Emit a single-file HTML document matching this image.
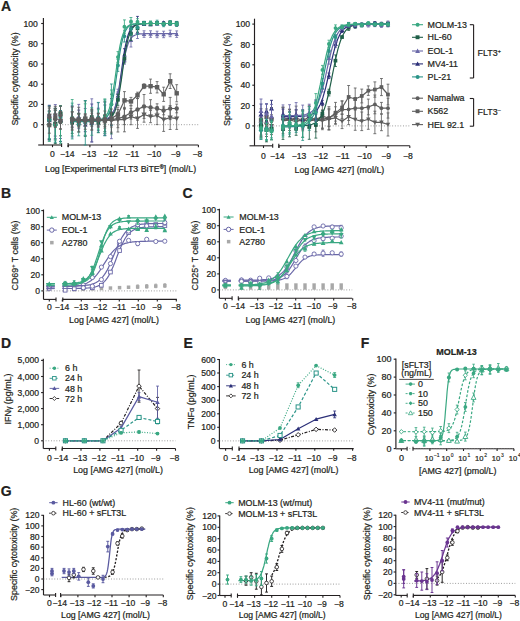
<!DOCTYPE html>
<html><head><meta charset="utf-8"><style>
html,body{margin:0;padding:0;background:#fff;width:520px;height:621px;overflow:hidden}
svg{display:block}
text{font-family:"Liberation Sans", sans-serif;stroke:#231f20;stroke-width:0.22px}
</style></head><body>
<svg width="520" height="621" viewBox="0 0 520 621">
<text x="1" y="10.7" font-size="14" text-anchor="start" font-weight="bold" fill="#231f20">A</text>
<text x="0.9" y="198.3" font-size="14" text-anchor="start" font-weight="bold" fill="#231f20">B</text>
<text x="182.5" y="197.5" font-size="14" text-anchor="start" font-weight="bold" fill="#231f20">C</text>
<text x="1" y="347.6" font-size="14" text-anchor="start" font-weight="bold" fill="#231f20">D</text>
<text x="183.5" y="347.7" font-size="14" text-anchor="start" font-weight="bold" fill="#231f20">E</text>
<text x="360.8" y="347.6" font-size="14" text-anchor="start" font-weight="bold" fill="#231f20">F</text>
<text x="0.8" y="495.5" font-size="14" text-anchor="start" font-weight="bold" fill="#231f20">G</text>
<line x1="43.4" y1="18" x2="43.4" y2="145" stroke="#231f20" stroke-width="1.15" stroke-linecap="butt"/>
<line x1="41.2" y1="124.7" x2="43.4" y2="124.7" stroke="#231f20" stroke-width="1.1" stroke-linecap="butt"/>
<text x="37.8" y="127.7" font-size="8.6" text-anchor="end" font-weight="normal" fill="#231f20">0</text>
<line x1="41.2" y1="104.4" x2="43.4" y2="104.4" stroke="#231f20" stroke-width="1.1" stroke-linecap="butt"/>
<text x="37.8" y="107.4" font-size="8.6" text-anchor="end" font-weight="normal" fill="#231f20">20</text>
<line x1="41.2" y1="84.2" x2="43.4" y2="84.2" stroke="#231f20" stroke-width="1.1" stroke-linecap="butt"/>
<text x="37.8" y="87.2" font-size="8.6" text-anchor="end" font-weight="normal" fill="#231f20">40</text>
<line x1="41.2" y1="64" x2="43.4" y2="64" stroke="#231f20" stroke-width="1.1" stroke-linecap="butt"/>
<text x="37.8" y="67" font-size="8.6" text-anchor="end" font-weight="normal" fill="#231f20">60</text>
<line x1="41.2" y1="43.7" x2="43.4" y2="43.7" stroke="#231f20" stroke-width="1.1" stroke-linecap="butt"/>
<text x="37.8" y="46.7" font-size="8.6" text-anchor="end" font-weight="normal" fill="#231f20">80</text>
<line x1="41.2" y1="23.5" x2="43.4" y2="23.5" stroke="#231f20" stroke-width="1.1" stroke-linecap="butt"/>
<text x="37.8" y="26.5" font-size="8.6" text-anchor="end" font-weight="normal" fill="#231f20">100</text>
<line x1="38.2" y1="145" x2="61.6" y2="145" stroke="#231f20" stroke-width="1.1" stroke-linecap="butt"/>
<line x1="61.6" y1="143" x2="61.6" y2="147" stroke="#231f20" stroke-width="1.1" stroke-linecap="butt"/>
<line x1="68.1" y1="145" x2="198.4" y2="145" stroke="#231f20" stroke-width="1.1" stroke-linecap="butt"/>
<line x1="68.1" y1="143" x2="68.1" y2="147" stroke="#231f20" stroke-width="1.1" stroke-linecap="butt"/>
<line x1="52.5" y1="145" x2="52.5" y2="147.2" stroke="#231f20" stroke-width="1.1" stroke-linecap="butt"/>
<text x="52.5" y="157.2" font-size="8.6" text-anchor="middle" font-weight="normal" fill="#231f20">0</text>
<line x1="68.2" y1="145" x2="68.2" y2="147.2" stroke="#231f20" stroke-width="1.1" stroke-linecap="butt"/>
<text x="67.2" y="157.2" font-size="8.6" text-anchor="middle" font-weight="normal" fill="#231f20">&#8722;14</text>
<line x1="89.9" y1="145" x2="89.9" y2="147.2" stroke="#231f20" stroke-width="1.1" stroke-linecap="butt"/>
<text x="88.9" y="157.2" font-size="8.6" text-anchor="middle" font-weight="normal" fill="#231f20">&#8722;13</text>
<line x1="111.6" y1="145" x2="111.6" y2="147.2" stroke="#231f20" stroke-width="1.1" stroke-linecap="butt"/>
<text x="110.6" y="157.2" font-size="8.6" text-anchor="middle" font-weight="normal" fill="#231f20">&#8722;12</text>
<line x1="133.3" y1="145" x2="133.3" y2="147.2" stroke="#231f20" stroke-width="1.1" stroke-linecap="butt"/>
<text x="132.3" y="157.2" font-size="8.6" text-anchor="middle" font-weight="normal" fill="#231f20">&#8722;11</text>
<line x1="155" y1="145" x2="155" y2="147.2" stroke="#231f20" stroke-width="1.1" stroke-linecap="butt"/>
<text x="154" y="157.2" font-size="8.6" text-anchor="middle" font-weight="normal" fill="#231f20">&#8722;10</text>
<line x1="176.7" y1="145" x2="176.7" y2="147.2" stroke="#231f20" stroke-width="1.1" stroke-linecap="butt"/>
<text x="175.7" y="157.2" font-size="8.6" text-anchor="middle" font-weight="normal" fill="#231f20">&#8722;9</text>
<line x1="198.4" y1="145" x2="198.4" y2="147.2" stroke="#231f20" stroke-width="1.1" stroke-linecap="butt"/>
<text x="197.4" y="157.2" font-size="8.6" text-anchor="middle" font-weight="normal" fill="#231f20">&#8722;8</text>
<text x="18.3" y="79" font-size="8.9" text-anchor="middle" font-weight="normal" fill="#231f20" transform="rotate(-90 18.3 79)">Specific cytotoxicity (%)</text>
<text x="45" y="172.3" font-size="8.8" text-anchor="start" font-weight="normal" fill="#231f20">Log [Experimental FLT3 BiTE<tspan font-size="5.5" dy="-3">®</tspan><tspan dy="3">] (mol/L)</tspan></text>
<line x1="254.5" y1="18.7" x2="254.5" y2="145.8" stroke="#231f20" stroke-width="1.15" stroke-linecap="butt"/>
<line x1="252.3" y1="125.9" x2="254.5" y2="125.9" stroke="#231f20" stroke-width="1.1" stroke-linecap="butt"/>
<text x="250.1" y="128.9" font-size="8.6" text-anchor="end" font-weight="normal" fill="#231f20">0</text>
<line x1="252.3" y1="105.5" x2="254.5" y2="105.5" stroke="#231f20" stroke-width="1.1" stroke-linecap="butt"/>
<text x="250.1" y="108.5" font-size="8.6" text-anchor="end" font-weight="normal" fill="#231f20">20</text>
<line x1="252.3" y1="85.2" x2="254.5" y2="85.2" stroke="#231f20" stroke-width="1.1" stroke-linecap="butt"/>
<text x="250.1" y="88.2" font-size="8.6" text-anchor="end" font-weight="normal" fill="#231f20">40</text>
<line x1="252.3" y1="64.8" x2="254.5" y2="64.8" stroke="#231f20" stroke-width="1.1" stroke-linecap="butt"/>
<text x="250.1" y="67.8" font-size="8.6" text-anchor="end" font-weight="normal" fill="#231f20">60</text>
<line x1="252.3" y1="44.5" x2="254.5" y2="44.5" stroke="#231f20" stroke-width="1.1" stroke-linecap="butt"/>
<text x="250.1" y="47.5" font-size="8.6" text-anchor="end" font-weight="normal" fill="#231f20">80</text>
<line x1="252.3" y1="24.1" x2="254.5" y2="24.1" stroke="#231f20" stroke-width="1.1" stroke-linecap="butt"/>
<text x="250.1" y="27.1" font-size="8.6" text-anchor="end" font-weight="normal" fill="#231f20">100</text>
<line x1="249.5" y1="145.8" x2="272.7" y2="145.8" stroke="#231f20" stroke-width="1.1" stroke-linecap="butt"/>
<line x1="272.7" y1="143.8" x2="272.7" y2="147.8" stroke="#231f20" stroke-width="1.1" stroke-linecap="butt"/>
<line x1="278.8" y1="145.8" x2="409.8" y2="145.8" stroke="#231f20" stroke-width="1.1" stroke-linecap="butt"/>
<line x1="278.8" y1="143.8" x2="278.8" y2="147.8" stroke="#231f20" stroke-width="1.1" stroke-linecap="butt"/>
<line x1="263.5" y1="145.8" x2="263.5" y2="148" stroke="#231f20" stroke-width="1.1" stroke-linecap="butt"/>
<text x="263.5" y="158.8" font-size="8.6" text-anchor="middle" font-weight="normal" fill="#231f20">0</text>
<line x1="279" y1="145.8" x2="279" y2="148" stroke="#231f20" stroke-width="1.1" stroke-linecap="butt"/>
<text x="277.2" y="158.8" font-size="8.6" text-anchor="middle" font-weight="normal" fill="#231f20">&#8722;14</text>
<line x1="300.8" y1="145.8" x2="300.8" y2="148" stroke="#231f20" stroke-width="1.1" stroke-linecap="butt"/>
<text x="299" y="158.8" font-size="8.6" text-anchor="middle" font-weight="normal" fill="#231f20">&#8722;13</text>
<line x1="322.6" y1="145.8" x2="322.6" y2="148" stroke="#231f20" stroke-width="1.1" stroke-linecap="butt"/>
<text x="320.8" y="158.8" font-size="8.6" text-anchor="middle" font-weight="normal" fill="#231f20">&#8722;12</text>
<line x1="344.4" y1="145.8" x2="344.4" y2="148" stroke="#231f20" stroke-width="1.1" stroke-linecap="butt"/>
<text x="342.6" y="158.8" font-size="8.6" text-anchor="middle" font-weight="normal" fill="#231f20">&#8722;11</text>
<line x1="366.2" y1="145.8" x2="366.2" y2="148" stroke="#231f20" stroke-width="1.1" stroke-linecap="butt"/>
<text x="364.4" y="158.8" font-size="8.6" text-anchor="middle" font-weight="normal" fill="#231f20">&#8722;10</text>
<line x1="388" y1="145.8" x2="388" y2="148" stroke="#231f20" stroke-width="1.1" stroke-linecap="butt"/>
<text x="386.2" y="158.8" font-size="8.6" text-anchor="middle" font-weight="normal" fill="#231f20">&#8722;9</text>
<line x1="409.8" y1="145.8" x2="409.8" y2="148" stroke="#231f20" stroke-width="1.1" stroke-linecap="butt"/>
<text x="408" y="158.8" font-size="8.6" text-anchor="middle" font-weight="normal" fill="#231f20">&#8722;8</text>
<text x="230.3" y="79.3" font-size="8.9" text-anchor="middle" font-weight="normal" fill="#231f20" transform="rotate(-90 230.3 79.3)">Specific cytotoxicity (%)</text>
<text x="294.5" y="173" font-size="8.9" text-anchor="start" font-weight="normal" fill="#231f20">Log [AMG 427] (mol/L)</text>
<line x1="412" y1="24.7" x2="423" y2="24.7" stroke="#3aa882" stroke-width="1.1" stroke-linecap="butt"/>
<circle cx="417.6" cy="24.7" r="2" fill="#3aa882"/>
<text x="427.5" y="27.7" font-size="8.9" text-anchor="start" font-weight="normal" fill="#231f20">MOLM-13</text>
<line x1="412" y1="37.3" x2="423" y2="37.3" stroke="#1f5f48" stroke-width="1.1" stroke-linecap="butt"/>
<rect x="415.6" y="35.3" width="3.9" height="3.9" fill="#1f5f48"/>
<text x="427.5" y="40.3" font-size="8.9" text-anchor="start" font-weight="normal" fill="#231f20">HL-60</text>
<line x1="412" y1="51" x2="423" y2="51" stroke="#6a68a8" stroke-width="1.1" stroke-linecap="butt"/>
<path d="M417.6 48.6L420 52.9L415.2 52.9Z" fill="#6a68a8"/>
<text x="427.5" y="54" font-size="8.9" text-anchor="start" font-weight="normal" fill="#231f20">EOL-1</text>
<line x1="412" y1="63.9" x2="423" y2="63.9" stroke="#2b2f78" stroke-width="1.1" stroke-linecap="butt"/>
<path d="M417.6 61.5L420 65.8L415.2 65.8Z" fill="#2b2f78"/>
<text x="427.5" y="66.9" font-size="8.9" text-anchor="start" font-weight="normal" fill="#231f20">MV4-11</text>
<line x1="412" y1="76.9" x2="423" y2="76.9" stroke="#2a9488" stroke-width="1.1" stroke-linecap="butt"/>
<circle cx="417.6" cy="76.9" r="2" fill="#2a9488"/>
<text x="427.5" y="79.9" font-size="8.9" text-anchor="start" font-weight="normal" fill="#231f20">PL-21</text>
<line x1="412" y1="98.2" x2="423" y2="98.2" stroke="#5e5e5e" stroke-width="1.1" stroke-linecap="butt"/>
<circle cx="417.6" cy="98.2" r="2" fill="#5e5e5e"/>
<text x="427.5" y="101.2" font-size="8.9" text-anchor="start" font-weight="normal" fill="#231f20">Namalwa</text>
<line x1="412" y1="111.3" x2="423" y2="111.3" stroke="#5e5e5e" stroke-width="1.1" stroke-linecap="butt"/>
<rect x="415.6" y="109.3" width="3.9" height="3.9" fill="#5e5e5e"/>
<text x="427.5" y="114.3" font-size="8.9" text-anchor="start" font-weight="normal" fill="#231f20">K562</text>
<line x1="412" y1="124.6" x2="423" y2="124.6" stroke="#5e5e5e" stroke-width="1.1" stroke-linecap="butt"/>
<path d="M417.6 127L420 122.7L415.2 122.7Z" fill="#5e5e5e"/>
<text x="427.5" y="127.6" font-size="8.9" text-anchor="start" font-weight="normal" fill="#231f20">HEL 92.1</text>
<line x1="469.8" y1="24.7" x2="473.6" y2="24.7" stroke="#231f20" stroke-width="1.1" stroke-linecap="butt"/>
<line x1="473.6" y1="24.7" x2="473.6" y2="78" stroke="#231f20" stroke-width="1.1" stroke-linecap="butt"/>
<line x1="469.8" y1="78" x2="473.6" y2="78" stroke="#231f20" stroke-width="1.1" stroke-linecap="butt"/>
<text x="477.6" y="55.5" font-size="8.9" text-anchor="start" font-weight="normal" fill="#231f20">FLT3<tspan font-size="5.5" dy="-3">+</tspan></text>
<line x1="469.8" y1="98.5" x2="473.6" y2="98.5" stroke="#231f20" stroke-width="1.1" stroke-linecap="butt"/>
<line x1="473.6" y1="98.5" x2="473.6" y2="126.2" stroke="#231f20" stroke-width="1.1" stroke-linecap="butt"/>
<line x1="469.8" y1="126.2" x2="473.6" y2="126.2" stroke="#231f20" stroke-width="1.1" stroke-linecap="butt"/>
<text x="477.6" y="114.5" font-size="8.9" text-anchor="start" font-weight="normal" fill="#231f20">FLT3<tspan font-size="5.5" dy="-3">&#8722;</tspan></text>
<line x1="43.5" y1="209.5" x2="43.5" y2="299.4" stroke="#231f20" stroke-width="1.15" stroke-linecap="butt"/>
<line x1="41.3" y1="290.9" x2="43.5" y2="290.9" stroke="#231f20" stroke-width="1.1" stroke-linecap="butt"/>
<text x="40.1" y="293.9" font-size="8.6" text-anchor="end" font-weight="normal" fill="#231f20">0</text>
<line x1="41.3" y1="274.8" x2="43.5" y2="274.8" stroke="#231f20" stroke-width="1.1" stroke-linecap="butt"/>
<text x="40.1" y="277.8" font-size="8.6" text-anchor="end" font-weight="normal" fill="#231f20">20</text>
<line x1="41.3" y1="258.8" x2="43.5" y2="258.8" stroke="#231f20" stroke-width="1.1" stroke-linecap="butt"/>
<text x="40.1" y="261.8" font-size="8.6" text-anchor="end" font-weight="normal" fill="#231f20">40</text>
<line x1="41.3" y1="242.7" x2="43.5" y2="242.7" stroke="#231f20" stroke-width="1.1" stroke-linecap="butt"/>
<text x="40.1" y="245.7" font-size="8.6" text-anchor="end" font-weight="normal" fill="#231f20">60</text>
<line x1="41.3" y1="226.7" x2="43.5" y2="226.7" stroke="#231f20" stroke-width="1.1" stroke-linecap="butt"/>
<text x="40.1" y="229.7" font-size="8.6" text-anchor="end" font-weight="normal" fill="#231f20">80</text>
<line x1="41.3" y1="210.6" x2="43.5" y2="210.6" stroke="#231f20" stroke-width="1.1" stroke-linecap="butt"/>
<text x="40.1" y="213.6" font-size="8.6" text-anchor="end" font-weight="normal" fill="#231f20">100</text>
<line x1="43.5" y1="299.4" x2="56" y2="299.4" stroke="#231f20" stroke-width="1.1" stroke-linecap="butt"/>
<line x1="56" y1="297.4" x2="56" y2="301.4" stroke="#231f20" stroke-width="1.1" stroke-linecap="butt"/>
<line x1="62.8" y1="299.4" x2="176.9" y2="299.4" stroke="#231f20" stroke-width="1.1" stroke-linecap="butt"/>
<line x1="62.8" y1="297.4" x2="62.8" y2="301.4" stroke="#231f20" stroke-width="1.1" stroke-linecap="butt"/>
<line x1="49.3" y1="299.4" x2="49.3" y2="301.6" stroke="#231f20" stroke-width="1.1" stroke-linecap="butt"/>
<text x="49.3" y="310.3" font-size="8.6" text-anchor="middle" font-weight="normal" fill="#231f20">0</text>
<line x1="62.3" y1="299.4" x2="62.3" y2="301.6" stroke="#231f20" stroke-width="1.1" stroke-linecap="butt"/>
<text x="62" y="310.3" font-size="8.6" text-anchor="middle" font-weight="normal" fill="#231f20">&#8722;14</text>
<line x1="81.3" y1="299.4" x2="81.3" y2="301.6" stroke="#231f20" stroke-width="1.1" stroke-linecap="butt"/>
<text x="81" y="310.3" font-size="8.6" text-anchor="middle" font-weight="normal" fill="#231f20">&#8722;13</text>
<line x1="100.3" y1="299.4" x2="100.3" y2="301.6" stroke="#231f20" stroke-width="1.1" stroke-linecap="butt"/>
<text x="100" y="310.3" font-size="8.6" text-anchor="middle" font-weight="normal" fill="#231f20">&#8722;12</text>
<line x1="119.3" y1="299.4" x2="119.3" y2="301.6" stroke="#231f20" stroke-width="1.1" stroke-linecap="butt"/>
<text x="119" y="310.3" font-size="8.6" text-anchor="middle" font-weight="normal" fill="#231f20">&#8722;11</text>
<line x1="138.3" y1="299.4" x2="138.3" y2="301.6" stroke="#231f20" stroke-width="1.1" stroke-linecap="butt"/>
<text x="138" y="310.3" font-size="8.6" text-anchor="middle" font-weight="normal" fill="#231f20">&#8722;10</text>
<line x1="157.3" y1="299.4" x2="157.3" y2="301.6" stroke="#231f20" stroke-width="1.1" stroke-linecap="butt"/>
<text x="157" y="310.3" font-size="8.6" text-anchor="middle" font-weight="normal" fill="#231f20">&#8722;9</text>
<line x1="176.3" y1="299.4" x2="176.3" y2="301.6" stroke="#231f20" stroke-width="1.1" stroke-linecap="butt"/>
<text x="176" y="310.3" font-size="8.6" text-anchor="middle" font-weight="normal" fill="#231f20">&#8722;8</text>
<text x="18" y="255.5" font-size="8.9" text-anchor="middle" font-weight="normal" fill="#231f20" transform="rotate(-90 18 255.5)">CD69<tspan font-size="5.5" dy="-3">+</tspan><tspan dy="3"> T cells (%)</tspan></text>
<text x="69.1" y="322.5" font-size="8.9" text-anchor="start" font-weight="normal" fill="#231f20">Log [AMG 427] (mol/L)</text>
<line x1="219.4" y1="208.7" x2="219.4" y2="298.3" stroke="#231f20" stroke-width="1.15" stroke-linecap="butt"/>
<line x1="217.2" y1="289.9" x2="219.4" y2="289.9" stroke="#231f20" stroke-width="1.1" stroke-linecap="butt"/>
<text x="216" y="292.9" font-size="8.6" text-anchor="end" font-weight="normal" fill="#231f20">0</text>
<line x1="217.2" y1="273.9" x2="219.4" y2="273.9" stroke="#231f20" stroke-width="1.1" stroke-linecap="butt"/>
<text x="216" y="276.9" font-size="8.6" text-anchor="end" font-weight="normal" fill="#231f20">20</text>
<line x1="217.2" y1="257.8" x2="219.4" y2="257.8" stroke="#231f20" stroke-width="1.1" stroke-linecap="butt"/>
<text x="216" y="260.8" font-size="8.6" text-anchor="end" font-weight="normal" fill="#231f20">40</text>
<line x1="217.2" y1="241.8" x2="219.4" y2="241.8" stroke="#231f20" stroke-width="1.1" stroke-linecap="butt"/>
<text x="216" y="244.8" font-size="8.6" text-anchor="end" font-weight="normal" fill="#231f20">60</text>
<line x1="217.2" y1="225.7" x2="219.4" y2="225.7" stroke="#231f20" stroke-width="1.1" stroke-linecap="butt"/>
<text x="216" y="228.7" font-size="8.6" text-anchor="end" font-weight="normal" fill="#231f20">80</text>
<line x1="217.2" y1="209.7" x2="219.4" y2="209.7" stroke="#231f20" stroke-width="1.1" stroke-linecap="butt"/>
<text x="216" y="212.7" font-size="8.6" text-anchor="end" font-weight="normal" fill="#231f20">100</text>
<line x1="219.4" y1="298.3" x2="232.1" y2="298.3" stroke="#231f20" stroke-width="1.1" stroke-linecap="butt"/>
<line x1="232.1" y1="296.3" x2="232.1" y2="300.3" stroke="#231f20" stroke-width="1.1" stroke-linecap="butt"/>
<line x1="238.3" y1="298.3" x2="352.2" y2="298.3" stroke="#231f20" stroke-width="1.1" stroke-linecap="butt"/>
<line x1="238.3" y1="296.3" x2="238.3" y2="300.3" stroke="#231f20" stroke-width="1.1" stroke-linecap="butt"/>
<line x1="225.4" y1="298.3" x2="225.4" y2="300.5" stroke="#231f20" stroke-width="1.1" stroke-linecap="butt"/>
<text x="225.4" y="308.9" font-size="8.6" text-anchor="middle" font-weight="normal" fill="#231f20">0</text>
<line x1="238.7" y1="298.3" x2="238.7" y2="300.5" stroke="#231f20" stroke-width="1.1" stroke-linecap="butt"/>
<text x="237.7" y="308.9" font-size="8.6" text-anchor="middle" font-weight="normal" fill="#231f20">&#8722;14</text>
<line x1="257.7" y1="298.3" x2="257.7" y2="300.5" stroke="#231f20" stroke-width="1.1" stroke-linecap="butt"/>
<text x="256.7" y="308.9" font-size="8.6" text-anchor="middle" font-weight="normal" fill="#231f20">&#8722;13</text>
<line x1="276.7" y1="298.3" x2="276.7" y2="300.5" stroke="#231f20" stroke-width="1.1" stroke-linecap="butt"/>
<text x="275.7" y="308.9" font-size="8.6" text-anchor="middle" font-weight="normal" fill="#231f20">&#8722;12</text>
<line x1="295.7" y1="298.3" x2="295.7" y2="300.5" stroke="#231f20" stroke-width="1.1" stroke-linecap="butt"/>
<text x="294.7" y="308.9" font-size="8.6" text-anchor="middle" font-weight="normal" fill="#231f20">&#8722;11</text>
<line x1="314.7" y1="298.3" x2="314.7" y2="300.5" stroke="#231f20" stroke-width="1.1" stroke-linecap="butt"/>
<text x="313.7" y="308.9" font-size="8.6" text-anchor="middle" font-weight="normal" fill="#231f20">&#8722;10</text>
<line x1="333.7" y1="298.3" x2="333.7" y2="300.5" stroke="#231f20" stroke-width="1.1" stroke-linecap="butt"/>
<text x="332.7" y="308.9" font-size="8.6" text-anchor="middle" font-weight="normal" fill="#231f20">&#8722;9</text>
<line x1="352.7" y1="298.3" x2="352.7" y2="300.5" stroke="#231f20" stroke-width="1.1" stroke-linecap="butt"/>
<text x="351.7" y="308.9" font-size="8.6" text-anchor="middle" font-weight="normal" fill="#231f20">&#8722;8</text>
<text x="197.6" y="255.5" font-size="8.9" text-anchor="middle" font-weight="normal" fill="#231f20" transform="rotate(-90 197.6 255.5)">CD25<tspan font-size="5.5" dy="-3">+</tspan><tspan dy="3"> T cells (%)</tspan></text>
<text x="245.5" y="322.5" font-size="8.9" text-anchor="start" font-weight="normal" fill="#231f20">Log [AMG 427] (mol/L)</text>
<line x1="43.3" y1="358.8" x2="43.3" y2="448.5" stroke="#231f20" stroke-width="1.15" stroke-linecap="butt"/>
<line x1="41.1" y1="440.8" x2="43.3" y2="440.8" stroke="#231f20" stroke-width="1.1" stroke-linecap="butt"/>
<text x="39.1" y="443.8" font-size="8.6" text-anchor="end" font-weight="normal" fill="#231f20">0</text>
<line x1="41.1" y1="424.7" x2="43.3" y2="424.7" stroke="#231f20" stroke-width="1.1" stroke-linecap="butt"/>
<text x="39.1" y="427.7" font-size="8.6" text-anchor="end" font-weight="normal" fill="#231f20">1,000</text>
<line x1="41.1" y1="408.6" x2="43.3" y2="408.6" stroke="#231f20" stroke-width="1.1" stroke-linecap="butt"/>
<text x="39.1" y="411.6" font-size="8.6" text-anchor="end" font-weight="normal" fill="#231f20">2,000</text>
<line x1="41.1" y1="392.6" x2="43.3" y2="392.6" stroke="#231f20" stroke-width="1.1" stroke-linecap="butt"/>
<text x="39.1" y="395.6" font-size="8.6" text-anchor="end" font-weight="normal" fill="#231f20">3,000</text>
<line x1="41.1" y1="376.5" x2="43.3" y2="376.5" stroke="#231f20" stroke-width="1.1" stroke-linecap="butt"/>
<text x="39.1" y="379.5" font-size="8.6" text-anchor="end" font-weight="normal" fill="#231f20">4,000</text>
<line x1="41.1" y1="360.4" x2="43.3" y2="360.4" stroke="#231f20" stroke-width="1.1" stroke-linecap="butt"/>
<text x="39.1" y="363.4" font-size="8.6" text-anchor="end" font-weight="normal" fill="#231f20">5,000</text>
<line x1="43.3" y1="448.5" x2="55.8" y2="448.5" stroke="#231f20" stroke-width="1.1" stroke-linecap="butt"/>
<line x1="55.8" y1="446.5" x2="55.8" y2="450.5" stroke="#231f20" stroke-width="1.1" stroke-linecap="butt"/>
<line x1="62.3" y1="448.5" x2="175.5" y2="448.5" stroke="#231f20" stroke-width="1.1" stroke-linecap="butt"/>
<line x1="62.3" y1="446.5" x2="62.3" y2="450.5" stroke="#231f20" stroke-width="1.1" stroke-linecap="butt"/>
<line x1="49.4" y1="448.5" x2="49.4" y2="450.7" stroke="#231f20" stroke-width="1.1" stroke-linecap="butt"/>
<text x="49.4" y="460.7" font-size="8.6" text-anchor="middle" font-weight="normal" fill="#231f20">0</text>
<line x1="62.1" y1="448.5" x2="62.1" y2="450.7" stroke="#231f20" stroke-width="1.1" stroke-linecap="butt"/>
<text x="61.1" y="460.7" font-size="8.6" text-anchor="middle" font-weight="normal" fill="#231f20">&#8722;14</text>
<line x1="81" y1="448.5" x2="81" y2="450.7" stroke="#231f20" stroke-width="1.1" stroke-linecap="butt"/>
<text x="80" y="460.7" font-size="8.6" text-anchor="middle" font-weight="normal" fill="#231f20">&#8722;13</text>
<line x1="99.9" y1="448.5" x2="99.9" y2="450.7" stroke="#231f20" stroke-width="1.1" stroke-linecap="butt"/>
<text x="98.9" y="460.7" font-size="8.6" text-anchor="middle" font-weight="normal" fill="#231f20">&#8722;12</text>
<line x1="118.8" y1="448.5" x2="118.8" y2="450.7" stroke="#231f20" stroke-width="1.1" stroke-linecap="butt"/>
<text x="117.8" y="460.7" font-size="8.6" text-anchor="middle" font-weight="normal" fill="#231f20">&#8722;11</text>
<line x1="137.7" y1="448.5" x2="137.7" y2="450.7" stroke="#231f20" stroke-width="1.1" stroke-linecap="butt"/>
<text x="136.7" y="460.7" font-size="8.6" text-anchor="middle" font-weight="normal" fill="#231f20">&#8722;10</text>
<line x1="156.6" y1="448.5" x2="156.6" y2="450.7" stroke="#231f20" stroke-width="1.1" stroke-linecap="butt"/>
<text x="155.6" y="460.7" font-size="8.6" text-anchor="middle" font-weight="normal" fill="#231f20">&#8722;9</text>
<line x1="175.5" y1="448.5" x2="175.5" y2="450.7" stroke="#231f20" stroke-width="1.1" stroke-linecap="butt"/>
<text x="174.5" y="460.7" font-size="8.6" text-anchor="middle" font-weight="normal" fill="#231f20">&#8722;8</text>
<text x="10.8" y="399" font-size="8.9" text-anchor="middle" font-weight="normal" fill="#231f20" transform="rotate(-90 10.8 399)">IFN<tspan font-size="7">&#947;</tspan> (pg/mL)</text>
<text x="73.2" y="473" font-size="8.9" text-anchor="start" font-weight="normal" fill="#231f20">Log [AMG 427] (mol/L)</text>
<line x1="219.4" y1="359" x2="219.4" y2="448.6" stroke="#231f20" stroke-width="1.15" stroke-linecap="butt"/>
<line x1="217.2" y1="440.9" x2="219.4" y2="440.9" stroke="#231f20" stroke-width="1.1" stroke-linecap="butt"/>
<text x="215.6" y="443.9" font-size="8.6" text-anchor="end" font-weight="normal" fill="#231f20">0</text>
<line x1="217.2" y1="427.3" x2="219.4" y2="427.3" stroke="#231f20" stroke-width="1.1" stroke-linecap="butt"/>
<text x="215.6" y="430.3" font-size="8.6" text-anchor="end" font-weight="normal" fill="#231f20">100</text>
<line x1="217.2" y1="413.8" x2="219.4" y2="413.8" stroke="#231f20" stroke-width="1.1" stroke-linecap="butt"/>
<text x="215.6" y="416.8" font-size="8.6" text-anchor="end" font-weight="normal" fill="#231f20">200</text>
<line x1="217.2" y1="400.2" x2="219.4" y2="400.2" stroke="#231f20" stroke-width="1.1" stroke-linecap="butt"/>
<text x="215.6" y="403.2" font-size="8.6" text-anchor="end" font-weight="normal" fill="#231f20">300</text>
<line x1="217.2" y1="386.6" x2="219.4" y2="386.6" stroke="#231f20" stroke-width="1.1" stroke-linecap="butt"/>
<text x="215.6" y="389.6" font-size="8.6" text-anchor="end" font-weight="normal" fill="#231f20">400</text>
<line x1="217.2" y1="373" x2="219.4" y2="373" stroke="#231f20" stroke-width="1.1" stroke-linecap="butt"/>
<text x="215.6" y="376" font-size="8.6" text-anchor="end" font-weight="normal" fill="#231f20">500</text>
<line x1="217.2" y1="359.5" x2="219.4" y2="359.5" stroke="#231f20" stroke-width="1.1" stroke-linecap="butt"/>
<text x="215.6" y="362.5" font-size="8.6" text-anchor="end" font-weight="normal" fill="#231f20">600</text>
<line x1="219.4" y1="448.6" x2="232.3" y2="448.6" stroke="#231f20" stroke-width="1.1" stroke-linecap="butt"/>
<line x1="232.3" y1="446.6" x2="232.3" y2="450.6" stroke="#231f20" stroke-width="1.1" stroke-linecap="butt"/>
<line x1="239" y1="448.6" x2="353.7" y2="448.6" stroke="#231f20" stroke-width="1.1" stroke-linecap="butt"/>
<line x1="239" y1="446.6" x2="239" y2="450.6" stroke="#231f20" stroke-width="1.1" stroke-linecap="butt"/>
<line x1="225.6" y1="448.6" x2="225.6" y2="450.8" stroke="#231f20" stroke-width="1.1" stroke-linecap="butt"/>
<text x="225.6" y="460.8" font-size="8.6" text-anchor="middle" font-weight="normal" fill="#231f20">0</text>
<line x1="239.2" y1="448.6" x2="239.2" y2="450.8" stroke="#231f20" stroke-width="1.1" stroke-linecap="butt"/>
<text x="238.2" y="460.8" font-size="8.6" text-anchor="middle" font-weight="normal" fill="#231f20">&#8722;14</text>
<line x1="258.1" y1="448.6" x2="258.1" y2="450.8" stroke="#231f20" stroke-width="1.1" stroke-linecap="butt"/>
<text x="257.1" y="460.8" font-size="8.6" text-anchor="middle" font-weight="normal" fill="#231f20">&#8722;13</text>
<line x1="277" y1="448.6" x2="277" y2="450.8" stroke="#231f20" stroke-width="1.1" stroke-linecap="butt"/>
<text x="276" y="460.8" font-size="8.6" text-anchor="middle" font-weight="normal" fill="#231f20">&#8722;12</text>
<line x1="295.9" y1="448.6" x2="295.9" y2="450.8" stroke="#231f20" stroke-width="1.1" stroke-linecap="butt"/>
<text x="294.9" y="460.8" font-size="8.6" text-anchor="middle" font-weight="normal" fill="#231f20">&#8722;11</text>
<line x1="314.8" y1="448.6" x2="314.8" y2="450.8" stroke="#231f20" stroke-width="1.1" stroke-linecap="butt"/>
<text x="313.8" y="460.8" font-size="8.6" text-anchor="middle" font-weight="normal" fill="#231f20">&#8722;10</text>
<line x1="333.7" y1="448.6" x2="333.7" y2="450.8" stroke="#231f20" stroke-width="1.1" stroke-linecap="butt"/>
<text x="332.7" y="460.8" font-size="8.6" text-anchor="middle" font-weight="normal" fill="#231f20">&#8722;9</text>
<line x1="352.6" y1="448.6" x2="352.6" y2="450.8" stroke="#231f20" stroke-width="1.1" stroke-linecap="butt"/>
<text x="351.6" y="460.8" font-size="8.6" text-anchor="middle" font-weight="normal" fill="#231f20">&#8722;8</text>
<text x="194.4" y="401.9" font-size="8.9" text-anchor="middle" font-weight="normal" fill="#231f20" transform="rotate(-90 194.4 401.9)">TNF<tspan font-size="7.5">&#945;</tspan> (pg/mL)</text>
<text x="248.7" y="473" font-size="8.9" text-anchor="start" font-weight="normal" fill="#231f20">Log [AMG 427] (mol/L)</text>
<line x1="395.9" y1="358.6" x2="395.9" y2="448.8" stroke="#231f20" stroke-width="1.15" stroke-linecap="butt"/>
<line x1="393.7" y1="448.6" x2="395.9" y2="448.6" stroke="#231f20" stroke-width="1.1" stroke-linecap="butt"/>
<text x="391.5" y="451.6" font-size="9.0" text-anchor="end" font-weight="normal" fill="#231f20">0</text>
<line x1="393.7" y1="430.8" x2="395.9" y2="430.8" stroke="#231f20" stroke-width="1.1" stroke-linecap="butt"/>
<text x="391.5" y="433.8" font-size="9.0" text-anchor="end" font-weight="normal" fill="#231f20">20</text>
<line x1="393.7" y1="412.9" x2="395.9" y2="412.9" stroke="#231f20" stroke-width="1.1" stroke-linecap="butt"/>
<text x="391.5" y="415.9" font-size="9.0" text-anchor="end" font-weight="normal" fill="#231f20">40</text>
<line x1="393.7" y1="395" x2="395.9" y2="395" stroke="#231f20" stroke-width="1.1" stroke-linecap="butt"/>
<text x="391.5" y="398" font-size="9.0" text-anchor="end" font-weight="normal" fill="#231f20">60</text>
<line x1="393.7" y1="377.1" x2="395.9" y2="377.1" stroke="#231f20" stroke-width="1.1" stroke-linecap="butt"/>
<text x="391.5" y="380.1" font-size="9.0" text-anchor="end" font-weight="normal" fill="#231f20">80</text>
<line x1="393.7" y1="359.2" x2="395.9" y2="359.2" stroke="#231f20" stroke-width="1.1" stroke-linecap="butt"/>
<text x="391.5" y="362.2" font-size="9.0" text-anchor="end" font-weight="normal" fill="#231f20">100</text>
<line x1="395.9" y1="448.8" x2="407.1" y2="448.8" stroke="#231f20" stroke-width="1.1" stroke-linecap="butt"/>
<line x1="407.1" y1="446.8" x2="407.1" y2="450.8" stroke="#231f20" stroke-width="1.1" stroke-linecap="butt"/>
<line x1="413" y1="448.8" x2="514" y2="448.8" stroke="#231f20" stroke-width="1.1" stroke-linecap="butt"/>
<line x1="413" y1="446.8" x2="413" y2="450.8" stroke="#231f20" stroke-width="1.1" stroke-linecap="butt"/>
<line x1="401.4" y1="448.8" x2="401.4" y2="451" stroke="#231f20" stroke-width="1.1" stroke-linecap="butt"/>
<text x="401.4" y="461" font-size="9.0" text-anchor="middle" font-weight="normal" fill="#231f20">0</text>
<line x1="429.9" y1="448.8" x2="429.9" y2="451" stroke="#231f20" stroke-width="1.1" stroke-linecap="butt"/>
<text x="428.9" y="461" font-size="7.6" text-anchor="middle" font-weight="normal" fill="#231f20">10</text>
<text x="433.9" y="457.2" font-size="5.0" text-anchor="start" font-weight="normal" fill="#231f20" style="stroke-width:0.15px">&#8722;1</text>
<line x1="446.7" y1="448.8" x2="446.7" y2="451" stroke="#231f20" stroke-width="1.1" stroke-linecap="butt"/>
<text x="445.7" y="461" font-size="7.6" text-anchor="middle" font-weight="normal" fill="#231f20">10</text>
<text x="450.7" y="457.2" font-size="5.0" text-anchor="start" font-weight="normal" fill="#231f20" style="stroke-width:0.15px">0</text>
<line x1="463.5" y1="448.8" x2="463.5" y2="451" stroke="#231f20" stroke-width="1.1" stroke-linecap="butt"/>
<text x="462.5" y="461" font-size="7.6" text-anchor="middle" font-weight="normal" fill="#231f20">10</text>
<text x="467.5" y="457.2" font-size="5.0" text-anchor="start" font-weight="normal" fill="#231f20" style="stroke-width:0.15px">1</text>
<line x1="480.3" y1="448.8" x2="480.3" y2="451" stroke="#231f20" stroke-width="1.1" stroke-linecap="butt"/>
<text x="479.3" y="461" font-size="7.6" text-anchor="middle" font-weight="normal" fill="#231f20">10</text>
<text x="484.3" y="457.2" font-size="5.0" text-anchor="start" font-weight="normal" fill="#231f20" style="stroke-width:0.15px">2</text>
<line x1="497.1" y1="448.8" x2="497.1" y2="451" stroke="#231f20" stroke-width="1.1" stroke-linecap="butt"/>
<text x="496.1" y="461" font-size="7.6" text-anchor="middle" font-weight="normal" fill="#231f20">10</text>
<text x="501.1" y="457.2" font-size="5.0" text-anchor="start" font-weight="normal" fill="#231f20" style="stroke-width:0.15px">3</text>
<line x1="513.9" y1="448.8" x2="513.9" y2="451" stroke="#231f20" stroke-width="1.1" stroke-linecap="butt"/>
<text x="512.9" y="461" font-size="7.6" text-anchor="middle" font-weight="normal" fill="#231f20">10</text>
<text x="517.9" y="457.2" font-size="5.0" text-anchor="start" font-weight="normal" fill="#231f20" style="stroke-width:0.15px">4</text>
<text x="374" y="404.4" font-size="8.9" text-anchor="middle" font-weight="normal" fill="#231f20" transform="rotate(-90 374 404.4)">Cytotoxicity (%)</text>
<text x="419" y="473.5" font-size="8.9" text-anchor="start" font-weight="normal" fill="#231f20">[AMG 427] (pmol/L)</text>
<text x="456.5" y="354.6" font-size="9" text-anchor="middle" font-weight="bold" fill="#231f20">MOLM-13</text>
<text x="416.5" y="368" font-size="8.9" text-anchor="middle" font-weight="normal" fill="#231f20">[sFLT3]</text>
<text x="416.5" y="375.8" font-size="8.9" text-anchor="middle" font-weight="normal" fill="#231f20">(ng/mL)</text>
<line x1="399.2" y1="379.4" x2="433.8" y2="379.4" stroke="#231f20" stroke-width="0.8" stroke-linecap="butt"/>
<line x1="43.5" y1="514.9" x2="43.5" y2="595" stroke="#231f20" stroke-width="1.15" stroke-linecap="butt"/>
<line x1="41.3" y1="589.6" x2="43.5" y2="589.6" stroke="#231f20" stroke-width="1.1" stroke-linecap="butt"/>
<text x="39.5" y="592.6" font-size="8.6" text-anchor="end" font-weight="normal" fill="#231f20">&#8722;20</text>
<line x1="41.3" y1="579" x2="43.5" y2="579" stroke="#231f20" stroke-width="1.1" stroke-linecap="butt"/>
<text x="39.5" y="582" font-size="8.6" text-anchor="end" font-weight="normal" fill="#231f20">0</text>
<line x1="41.3" y1="568.4" x2="43.5" y2="568.4" stroke="#231f20" stroke-width="1.1" stroke-linecap="butt"/>
<text x="39.5" y="571.4" font-size="8.6" text-anchor="end" font-weight="normal" fill="#231f20">20</text>
<line x1="41.3" y1="557.8" x2="43.5" y2="557.8" stroke="#231f20" stroke-width="1.1" stroke-linecap="butt"/>
<text x="39.5" y="560.8" font-size="8.6" text-anchor="end" font-weight="normal" fill="#231f20">40</text>
<line x1="41.3" y1="547.1" x2="43.5" y2="547.1" stroke="#231f20" stroke-width="1.1" stroke-linecap="butt"/>
<text x="39.5" y="550.1" font-size="8.6" text-anchor="end" font-weight="normal" fill="#231f20">60</text>
<line x1="41.3" y1="536.5" x2="43.5" y2="536.5" stroke="#231f20" stroke-width="1.1" stroke-linecap="butt"/>
<text x="39.5" y="539.5" font-size="8.6" text-anchor="end" font-weight="normal" fill="#231f20">80</text>
<line x1="41.3" y1="525.9" x2="43.5" y2="525.9" stroke="#231f20" stroke-width="1.1" stroke-linecap="butt"/>
<text x="39.5" y="528.9" font-size="8.6" text-anchor="end" font-weight="normal" fill="#231f20">100</text>
<line x1="41.3" y1="515.3" x2="43.5" y2="515.3" stroke="#231f20" stroke-width="1.1" stroke-linecap="butt"/>
<text x="39.5" y="518.3" font-size="8.6" text-anchor="end" font-weight="normal" fill="#231f20">120</text>
<line x1="43.5" y1="595" x2="55.6" y2="595" stroke="#231f20" stroke-width="1.1" stroke-linecap="butt"/>
<line x1="55.6" y1="593" x2="55.6" y2="597" stroke="#231f20" stroke-width="1.1" stroke-linecap="butt"/>
<line x1="60.6" y1="595" x2="163.3" y2="595" stroke="#231f20" stroke-width="1.1" stroke-linecap="butt"/>
<line x1="60.6" y1="593" x2="60.6" y2="597" stroke="#231f20" stroke-width="1.1" stroke-linecap="butt"/>
<line x1="49.5" y1="595" x2="49.5" y2="597.2" stroke="#231f20" stroke-width="1.1" stroke-linecap="butt"/>
<text x="49.5" y="606" font-size="8.6" text-anchor="middle" font-weight="normal" fill="#231f20">0</text>
<line x1="60.8" y1="595" x2="60.8" y2="597.2" stroke="#231f20" stroke-width="1.1" stroke-linecap="butt"/>
<text x="59.8" y="606" font-size="8.6" text-anchor="middle" font-weight="normal" fill="#231f20">&#8722;14</text>
<line x1="77.9" y1="595" x2="77.9" y2="597.2" stroke="#231f20" stroke-width="1.1" stroke-linecap="butt"/>
<text x="76.9" y="606" font-size="8.6" text-anchor="middle" font-weight="normal" fill="#231f20">&#8722;13</text>
<line x1="95" y1="595" x2="95" y2="597.2" stroke="#231f20" stroke-width="1.1" stroke-linecap="butt"/>
<text x="94" y="606" font-size="8.6" text-anchor="middle" font-weight="normal" fill="#231f20">&#8722;12</text>
<line x1="112" y1="595" x2="112" y2="597.2" stroke="#231f20" stroke-width="1.1" stroke-linecap="butt"/>
<text x="111" y="606" font-size="8.6" text-anchor="middle" font-weight="normal" fill="#231f20">&#8722;11</text>
<line x1="129.1" y1="595" x2="129.1" y2="597.2" stroke="#231f20" stroke-width="1.1" stroke-linecap="butt"/>
<text x="128.1" y="606" font-size="8.6" text-anchor="middle" font-weight="normal" fill="#231f20">&#8722;10</text>
<line x1="146.2" y1="595" x2="146.2" y2="597.2" stroke="#231f20" stroke-width="1.1" stroke-linecap="butt"/>
<text x="145.2" y="606" font-size="8.6" text-anchor="middle" font-weight="normal" fill="#231f20">&#8722;9</text>
<line x1="163.3" y1="595" x2="163.3" y2="597.2" stroke="#231f20" stroke-width="1.1" stroke-linecap="butt"/>
<text x="162.3" y="606" font-size="8.6" text-anchor="middle" font-weight="normal" fill="#231f20">&#8722;8</text>
<text x="17" y="554.3" font-size="8.9" text-anchor="middle" font-weight="normal" fill="#231f20" transform="rotate(-90 17 554.3)">Specific cytotoxicity (%)</text>
<text x="61" y="617.8" font-size="8.8" text-anchor="start" font-weight="normal" fill="#231f20">Log [AMG 427] (mol/L)</text>
<line x1="219.7" y1="515.4" x2="219.7" y2="595.5" stroke="#231f20" stroke-width="1.15" stroke-linecap="butt"/>
<line x1="217.5" y1="595.5" x2="219.7" y2="595.5" stroke="#231f20" stroke-width="1.1" stroke-linecap="butt"/>
<text x="216.5" y="598.5" font-size="8.6" text-anchor="end" font-weight="normal" fill="#231f20">&#8722;20</text>
<line x1="217.5" y1="584.1" x2="219.7" y2="584.1" stroke="#231f20" stroke-width="1.1" stroke-linecap="butt"/>
<text x="216.5" y="587.1" font-size="8.6" text-anchor="end" font-weight="normal" fill="#231f20">0</text>
<line x1="217.5" y1="572.7" x2="219.7" y2="572.7" stroke="#231f20" stroke-width="1.1" stroke-linecap="butt"/>
<text x="216.5" y="575.7" font-size="8.6" text-anchor="end" font-weight="normal" fill="#231f20">20</text>
<line x1="217.5" y1="561.4" x2="219.7" y2="561.4" stroke="#231f20" stroke-width="1.1" stroke-linecap="butt"/>
<text x="216.5" y="564.4" font-size="8.6" text-anchor="end" font-weight="normal" fill="#231f20">40</text>
<line x1="217.5" y1="550" x2="219.7" y2="550" stroke="#231f20" stroke-width="1.1" stroke-linecap="butt"/>
<text x="216.5" y="553" font-size="8.6" text-anchor="end" font-weight="normal" fill="#231f20">60</text>
<line x1="217.5" y1="538.7" x2="219.7" y2="538.7" stroke="#231f20" stroke-width="1.1" stroke-linecap="butt"/>
<text x="216.5" y="541.7" font-size="8.6" text-anchor="end" font-weight="normal" fill="#231f20">80</text>
<line x1="217.5" y1="527.3" x2="219.7" y2="527.3" stroke="#231f20" stroke-width="1.1" stroke-linecap="butt"/>
<text x="216.5" y="530.3" font-size="8.6" text-anchor="end" font-weight="normal" fill="#231f20">100</text>
<line x1="217.5" y1="515.9" x2="219.7" y2="515.9" stroke="#231f20" stroke-width="1.1" stroke-linecap="butt"/>
<text x="216.5" y="518.9" font-size="8.6" text-anchor="end" font-weight="normal" fill="#231f20">120</text>
<line x1="219.7" y1="595.5" x2="231.2" y2="595.5" stroke="#231f20" stroke-width="1.1" stroke-linecap="butt"/>
<line x1="231.2" y1="593.5" x2="231.2" y2="597.5" stroke="#231f20" stroke-width="1.1" stroke-linecap="butt"/>
<line x1="237.5" y1="595.5" x2="340" y2="595.5" stroke="#231f20" stroke-width="1.1" stroke-linecap="butt"/>
<line x1="237.5" y1="593.5" x2="237.5" y2="597.5" stroke="#231f20" stroke-width="1.1" stroke-linecap="butt"/>
<line x1="225" y1="595.5" x2="225" y2="597.7" stroke="#231f20" stroke-width="1.1" stroke-linecap="butt"/>
<text x="225" y="606.5" font-size="8.6" text-anchor="middle" font-weight="normal" fill="#231f20">0</text>
<line x1="237.5" y1="595.5" x2="237.5" y2="597.7" stroke="#231f20" stroke-width="1.1" stroke-linecap="butt"/>
<text x="236.5" y="606.5" font-size="8.6" text-anchor="middle" font-weight="normal" fill="#231f20">&#8722;14</text>
<line x1="254.6" y1="595.5" x2="254.6" y2="597.7" stroke="#231f20" stroke-width="1.1" stroke-linecap="butt"/>
<text x="253.6" y="606.5" font-size="8.6" text-anchor="middle" font-weight="normal" fill="#231f20">&#8722;13</text>
<line x1="271.7" y1="595.5" x2="271.7" y2="597.7" stroke="#231f20" stroke-width="1.1" stroke-linecap="butt"/>
<text x="270.7" y="606.5" font-size="8.6" text-anchor="middle" font-weight="normal" fill="#231f20">&#8722;12</text>
<line x1="288.7" y1="595.5" x2="288.7" y2="597.7" stroke="#231f20" stroke-width="1.1" stroke-linecap="butt"/>
<text x="287.7" y="606.5" font-size="8.6" text-anchor="middle" font-weight="normal" fill="#231f20">&#8722;11</text>
<line x1="305.8" y1="595.5" x2="305.8" y2="597.7" stroke="#231f20" stroke-width="1.1" stroke-linecap="butt"/>
<text x="304.8" y="606.5" font-size="8.6" text-anchor="middle" font-weight="normal" fill="#231f20">&#8722;10</text>
<line x1="322.9" y1="595.5" x2="322.9" y2="597.7" stroke="#231f20" stroke-width="1.1" stroke-linecap="butt"/>
<text x="321.9" y="606.5" font-size="8.6" text-anchor="middle" font-weight="normal" fill="#231f20">&#8722;9</text>
<line x1="340" y1="595.5" x2="340" y2="597.7" stroke="#231f20" stroke-width="1.1" stroke-linecap="butt"/>
<text x="339" y="606.5" font-size="8.6" text-anchor="middle" font-weight="normal" fill="#231f20">&#8722;8</text>
<text x="192.8" y="553.7" font-size="8.9" text-anchor="middle" font-weight="normal" fill="#231f20" transform="rotate(-90 192.8 553.7)">Specific cytotoxicity (%)</text>
<text x="238.8" y="617.9" font-size="8.6" text-anchor="start" font-weight="normal" fill="#231f20">Log [AMG 427] (mol/L)</text>
<line x1="395.8" y1="514.8" x2="395.8" y2="595.4" stroke="#231f20" stroke-width="1.15" stroke-linecap="butt"/>
<line x1="393.6" y1="594.8" x2="395.8" y2="594.8" stroke="#231f20" stroke-width="1.1" stroke-linecap="butt"/>
<text x="392.6" y="597.8" font-size="8.6" text-anchor="end" font-weight="normal" fill="#231f20">&#8722;20</text>
<line x1="393.6" y1="583.4" x2="395.8" y2="583.4" stroke="#231f20" stroke-width="1.1" stroke-linecap="butt"/>
<text x="392.6" y="586.4" font-size="8.6" text-anchor="end" font-weight="normal" fill="#231f20">0</text>
<line x1="393.6" y1="572" x2="395.8" y2="572" stroke="#231f20" stroke-width="1.1" stroke-linecap="butt"/>
<text x="392.6" y="575" font-size="8.6" text-anchor="end" font-weight="normal" fill="#231f20">20</text>
<line x1="393.6" y1="560.7" x2="395.8" y2="560.7" stroke="#231f20" stroke-width="1.1" stroke-linecap="butt"/>
<text x="392.6" y="563.7" font-size="8.6" text-anchor="end" font-weight="normal" fill="#231f20">40</text>
<line x1="393.6" y1="549.3" x2="395.8" y2="549.3" stroke="#231f20" stroke-width="1.1" stroke-linecap="butt"/>
<text x="392.6" y="552.3" font-size="8.6" text-anchor="end" font-weight="normal" fill="#231f20">60</text>
<line x1="393.6" y1="538" x2="395.8" y2="538" stroke="#231f20" stroke-width="1.1" stroke-linecap="butt"/>
<text x="392.6" y="541" font-size="8.6" text-anchor="end" font-weight="normal" fill="#231f20">80</text>
<line x1="393.6" y1="526.6" x2="395.8" y2="526.6" stroke="#231f20" stroke-width="1.1" stroke-linecap="butt"/>
<text x="392.6" y="529.6" font-size="8.6" text-anchor="end" font-weight="normal" fill="#231f20">100</text>
<line x1="393.6" y1="515.2" x2="395.8" y2="515.2" stroke="#231f20" stroke-width="1.1" stroke-linecap="butt"/>
<text x="392.6" y="518.2" font-size="8.6" text-anchor="end" font-weight="normal" fill="#231f20">120</text>
<line x1="395.8" y1="595.4" x2="407.2" y2="595.4" stroke="#231f20" stroke-width="1.1" stroke-linecap="butt"/>
<line x1="407.2" y1="593.4" x2="407.2" y2="597.4" stroke="#231f20" stroke-width="1.1" stroke-linecap="butt"/>
<line x1="413.3" y1="595.4" x2="515.3" y2="595.4" stroke="#231f20" stroke-width="1.1" stroke-linecap="butt"/>
<line x1="413.3" y1="593.4" x2="413.3" y2="597.4" stroke="#231f20" stroke-width="1.1" stroke-linecap="butt"/>
<line x1="401.2" y1="595.4" x2="401.2" y2="597.6" stroke="#231f20" stroke-width="1.1" stroke-linecap="butt"/>
<text x="401.2" y="606.4" font-size="8.6" text-anchor="middle" font-weight="normal" fill="#231f20">0</text>
<line x1="413.3" y1="595.4" x2="413.3" y2="597.6" stroke="#231f20" stroke-width="1.1" stroke-linecap="butt"/>
<text x="412.3" y="606.4" font-size="8.6" text-anchor="middle" font-weight="normal" fill="#231f20">&#8722;14</text>
<line x1="430.3" y1="595.4" x2="430.3" y2="597.6" stroke="#231f20" stroke-width="1.1" stroke-linecap="butt"/>
<text x="429.3" y="606.4" font-size="8.6" text-anchor="middle" font-weight="normal" fill="#231f20">&#8722;13</text>
<line x1="447.3" y1="595.4" x2="447.3" y2="597.6" stroke="#231f20" stroke-width="1.1" stroke-linecap="butt"/>
<text x="446.3" y="606.4" font-size="8.6" text-anchor="middle" font-weight="normal" fill="#231f20">&#8722;12</text>
<line x1="464.3" y1="595.4" x2="464.3" y2="597.6" stroke="#231f20" stroke-width="1.1" stroke-linecap="butt"/>
<text x="463.3" y="606.4" font-size="8.6" text-anchor="middle" font-weight="normal" fill="#231f20">&#8722;11</text>
<line x1="481.3" y1="595.4" x2="481.3" y2="597.6" stroke="#231f20" stroke-width="1.1" stroke-linecap="butt"/>
<text x="480.3" y="606.4" font-size="8.6" text-anchor="middle" font-weight="normal" fill="#231f20">&#8722;10</text>
<line x1="498.3" y1="595.4" x2="498.3" y2="597.6" stroke="#231f20" stroke-width="1.1" stroke-linecap="butt"/>
<text x="497.3" y="606.4" font-size="8.6" text-anchor="middle" font-weight="normal" fill="#231f20">&#8722;9</text>
<line x1="515.3" y1="595.4" x2="515.3" y2="597.6" stroke="#231f20" stroke-width="1.1" stroke-linecap="butt"/>
<text x="514.3" y="606.4" font-size="8.6" text-anchor="middle" font-weight="normal" fill="#231f20">&#8722;8</text>
<text x="369.6" y="553.7" font-size="8.9" text-anchor="middle" font-weight="normal" fill="#231f20" transform="rotate(-90 369.6 553.7)">Specific cytotoxicity (%)</text>
<text x="415" y="617.9" font-size="8.6" text-anchor="start" font-weight="normal" fill="#231f20">Log [AMG 427] (mol/L)</text>
<line x1="43.4" y1="124.7" x2="198.4" y2="124.7" stroke="#777" stroke-width="0.8" stroke-dasharray="0.9 1.8" stroke-linecap="butt"/>
<line x1="49.3" y1="139.3" x2="49.3" y2="111.1" stroke="#6a68a8" stroke-width="0.8999999999999999" stroke-linecap="butt"/>
<line x1="47.8" y1="139.3" x2="50.8" y2="139.3" stroke="#6a68a8" stroke-width="0.8999999999999999" stroke-linecap="butt"/>
<line x1="47.8" y1="111.1" x2="50.8" y2="111.1" stroke="#6a68a8" stroke-width="0.8999999999999999" stroke-linecap="butt"/>
<path d="M49.3 117.7L51.8 122.2L46.8 122.2Z" fill="#6a68a8"/>
<line x1="49.3" y1="140.1" x2="49.3" y2="105.3" stroke="#2b2f78" stroke-width="0.8999999999999999" stroke-linecap="butt"/>
<line x1="47.8" y1="140.1" x2="50.8" y2="140.1" stroke="#2b2f78" stroke-width="0.8999999999999999" stroke-linecap="butt"/>
<line x1="47.8" y1="105.3" x2="50.8" y2="105.3" stroke="#2b2f78" stroke-width="0.8999999999999999" stroke-linecap="butt"/>
<path d="M49.3 111.9L51.8 116.5L46.8 116.5Z" fill="#2b2f78"/>
<line x1="49.3" y1="139.1" x2="49.3" y2="111" stroke="#1f5f48" stroke-width="0.8999999999999999" stroke-linecap="butt"/>
<line x1="47.8" y1="139.1" x2="50.8" y2="139.1" stroke="#1f5f48" stroke-width="0.8999999999999999" stroke-linecap="butt"/>
<line x1="47.8" y1="111" x2="50.8" y2="111" stroke="#1f5f48" stroke-width="0.8999999999999999" stroke-linecap="butt"/>
<rect x="47.2" y="117.4" width="4.2" height="4.2" fill="#1f5f48"/>
<line x1="49.3" y1="138.8" x2="49.3" y2="106.1" stroke="#2a9488" stroke-width="0.8999999999999999" stroke-linecap="butt"/>
<line x1="47.8" y1="138.8" x2="50.8" y2="138.8" stroke="#2a9488" stroke-width="0.8999999999999999" stroke-linecap="butt"/>
<line x1="47.8" y1="106.1" x2="50.8" y2="106.1" stroke="#2a9488" stroke-width="0.8999999999999999" stroke-linecap="butt"/>
<circle cx="49.3" cy="119.4" r="2.1" fill="#2a9488"/>
<line x1="49.3" y1="141.4" x2="49.3" y2="111.8" stroke="#3aa882" stroke-width="0.8999999999999999" stroke-linecap="butt"/>
<line x1="47.8" y1="141.4" x2="50.8" y2="141.4" stroke="#3aa882" stroke-width="0.8999999999999999" stroke-linecap="butt"/>
<line x1="47.8" y1="111.8" x2="50.8" y2="111.8" stroke="#3aa882" stroke-width="0.8999999999999999" stroke-linecap="butt"/>
<circle cx="49.3" cy="124.5" r="2.1" fill="#3aa882"/>
<line x1="49.3" y1="123.9" x2="49.3" y2="106.7" stroke="#5e5e5e" stroke-width="0.8999999999999999" stroke-linecap="butt"/>
<line x1="47.8" y1="123.9" x2="50.8" y2="123.9" stroke="#5e5e5e" stroke-width="0.8999999999999999" stroke-linecap="butt"/>
<line x1="47.8" y1="106.7" x2="50.8" y2="106.7" stroke="#5e5e5e" stroke-width="0.8999999999999999" stroke-linecap="butt"/>
<path d="M49.3 118.3L51.8 113.8L46.8 113.8Z" fill="#5e5e5e"/>
<line x1="49.3" y1="125.3" x2="49.3" y2="108.1" stroke="#5e5e5e" stroke-width="0.8999999999999999" stroke-linecap="butt"/>
<line x1="47.8" y1="125.3" x2="50.8" y2="125.3" stroke="#5e5e5e" stroke-width="0.8999999999999999" stroke-linecap="butt"/>
<line x1="47.8" y1="108.1" x2="50.8" y2="108.1" stroke="#5e5e5e" stroke-width="0.8999999999999999" stroke-linecap="butt"/>
<circle cx="49.3" cy="117.2" r="2.1" fill="#5e5e5e"/>
<line x1="49.3" y1="133.2" x2="49.3" y2="116" stroke="#5e5e5e" stroke-width="0.8999999999999999" stroke-linecap="butt"/>
<line x1="47.8" y1="133.2" x2="50.8" y2="133.2" stroke="#5e5e5e" stroke-width="0.8999999999999999" stroke-linecap="butt"/>
<line x1="47.8" y1="116" x2="50.8" y2="116" stroke="#5e5e5e" stroke-width="0.8999999999999999" stroke-linecap="butt"/>
<rect x="47.2" y="123.1" width="4.2" height="4.2" fill="#5e5e5e"/>
<line x1="55.3" y1="136.1" x2="55.3" y2="104.6" stroke="#6a68a8" stroke-width="0.8999999999999999" stroke-linecap="butt"/>
<line x1="53.8" y1="136.1" x2="56.8" y2="136.1" stroke="#6a68a8" stroke-width="0.8999999999999999" stroke-linecap="butt"/>
<line x1="53.8" y1="104.6" x2="56.8" y2="104.6" stroke="#6a68a8" stroke-width="0.8999999999999999" stroke-linecap="butt"/>
<path d="M55.3 111.2L57.8 115.7L52.8 115.7Z" fill="#6a68a8"/>
<line x1="55.3" y1="138.9" x2="55.3" y2="108.6" stroke="#2b2f78" stroke-width="0.8999999999999999" stroke-linecap="butt"/>
<line x1="53.8" y1="138.9" x2="56.8" y2="138.9" stroke="#2b2f78" stroke-width="0.8999999999999999" stroke-linecap="butt"/>
<line x1="53.8" y1="108.6" x2="56.8" y2="108.6" stroke="#2b2f78" stroke-width="0.8999999999999999" stroke-linecap="butt"/>
<path d="M55.3 115.2L57.8 119.7L52.8 119.7Z" fill="#2b2f78"/>
<line x1="55.3" y1="143.7" x2="55.3" y2="108.2" stroke="#1f5f48" stroke-width="0.8999999999999999" stroke-linecap="butt"/>
<line x1="53.8" y1="143.7" x2="56.8" y2="143.7" stroke="#1f5f48" stroke-width="0.8999999999999999" stroke-linecap="butt"/>
<line x1="53.8" y1="108.2" x2="56.8" y2="108.2" stroke="#1f5f48" stroke-width="0.8999999999999999" stroke-linecap="butt"/>
<rect x="53.2" y="121.7" width="4.2" height="4.2" fill="#1f5f48"/>
<line x1="55.3" y1="142.3" x2="55.3" y2="110.6" stroke="#2a9488" stroke-width="0.8999999999999999" stroke-linecap="butt"/>
<line x1="53.8" y1="142.3" x2="56.8" y2="142.3" stroke="#2a9488" stroke-width="0.8999999999999999" stroke-linecap="butt"/>
<line x1="53.8" y1="110.6" x2="56.8" y2="110.6" stroke="#2a9488" stroke-width="0.8999999999999999" stroke-linecap="butt"/>
<circle cx="55.3" cy="124.9" r="2.1" fill="#2a9488"/>
<line x1="55.3" y1="140.1" x2="55.3" y2="108.9" stroke="#3aa882" stroke-width="0.8999999999999999" stroke-linecap="butt"/>
<line x1="53.8" y1="140.1" x2="56.8" y2="140.1" stroke="#3aa882" stroke-width="0.8999999999999999" stroke-linecap="butt"/>
<line x1="53.8" y1="108.9" x2="56.8" y2="108.9" stroke="#3aa882" stroke-width="0.8999999999999999" stroke-linecap="butt"/>
<circle cx="55.3" cy="125.3" r="2.1" fill="#3aa882"/>
<line x1="55.3" y1="123.5" x2="55.3" y2="106.3" stroke="#5e5e5e" stroke-width="0.8999999999999999" stroke-linecap="butt"/>
<line x1="53.8" y1="123.5" x2="56.8" y2="123.5" stroke="#5e5e5e" stroke-width="0.8999999999999999" stroke-linecap="butt"/>
<line x1="53.8" y1="106.3" x2="56.8" y2="106.3" stroke="#5e5e5e" stroke-width="0.8999999999999999" stroke-linecap="butt"/>
<path d="M55.3 117.9L57.8 113.4L52.8 113.4Z" fill="#5e5e5e"/>
<line x1="55.3" y1="127.5" x2="55.3" y2="110.3" stroke="#5e5e5e" stroke-width="0.8999999999999999" stroke-linecap="butt"/>
<line x1="53.8" y1="127.5" x2="56.8" y2="127.5" stroke="#5e5e5e" stroke-width="0.8999999999999999" stroke-linecap="butt"/>
<line x1="53.8" y1="110.3" x2="56.8" y2="110.3" stroke="#5e5e5e" stroke-width="0.8999999999999999" stroke-linecap="butt"/>
<circle cx="55.3" cy="119.4" r="2.1" fill="#5e5e5e"/>
<line x1="55.3" y1="126" x2="55.3" y2="108.8" stroke="#5e5e5e" stroke-width="0.8999999999999999" stroke-linecap="butt"/>
<line x1="53.8" y1="126" x2="56.8" y2="126" stroke="#5e5e5e" stroke-width="0.8999999999999999" stroke-linecap="butt"/>
<line x1="53.8" y1="108.8" x2="56.8" y2="108.8" stroke="#5e5e5e" stroke-width="0.8999999999999999" stroke-linecap="butt"/>
<rect x="53.2" y="115.8" width="4.2" height="4.2" fill="#5e5e5e"/>
<line x1="60.5" y1="138.5" x2="60.5" y2="110.5" stroke="#6a68a8" stroke-width="0.8999999999999999" stroke-linecap="butt"/>
<line x1="59" y1="138.5" x2="62" y2="138.5" stroke="#6a68a8" stroke-width="0.8999999999999999" stroke-linecap="butt"/>
<line x1="59" y1="110.5" x2="62" y2="110.5" stroke="#6a68a8" stroke-width="0.8999999999999999" stroke-linecap="butt"/>
<path d="M60.5 117.1L63 121.6L58 121.6Z" fill="#6a68a8"/>
<line x1="60.5" y1="141.6" x2="60.5" y2="111" stroke="#2b2f78" stroke-width="0.8999999999999999" stroke-linecap="butt"/>
<line x1="59" y1="141.6" x2="62" y2="141.6" stroke="#2b2f78" stroke-width="0.8999999999999999" stroke-linecap="butt"/>
<line x1="59" y1="111" x2="62" y2="111" stroke="#2b2f78" stroke-width="0.8999999999999999" stroke-linecap="butt"/>
<path d="M60.5 117.6L63 122.1L58 122.1Z" fill="#2b2f78"/>
<line x1="60.5" y1="135.8" x2="60.5" y2="105.7" stroke="#1f5f48" stroke-width="0.8999999999999999" stroke-linecap="butt"/>
<line x1="59" y1="135.8" x2="62" y2="135.8" stroke="#1f5f48" stroke-width="0.8999999999999999" stroke-linecap="butt"/>
<line x1="59" y1="105.7" x2="62" y2="105.7" stroke="#1f5f48" stroke-width="0.8999999999999999" stroke-linecap="butt"/>
<rect x="58.4" y="111.5" width="4.2" height="4.2" fill="#1f5f48"/>
<line x1="60.5" y1="141.3" x2="60.5" y2="110.7" stroke="#2a9488" stroke-width="0.8999999999999999" stroke-linecap="butt"/>
<line x1="59" y1="141.3" x2="62" y2="141.3" stroke="#2a9488" stroke-width="0.8999999999999999" stroke-linecap="butt"/>
<line x1="59" y1="110.7" x2="62" y2="110.7" stroke="#2a9488" stroke-width="0.8999999999999999" stroke-linecap="butt"/>
<circle cx="60.5" cy="117.1" r="2.1" fill="#2a9488"/>
<line x1="60.5" y1="143.3" x2="60.5" y2="106.3" stroke="#3aa882" stroke-width="0.8999999999999999" stroke-linecap="butt"/>
<line x1="59" y1="143.3" x2="62" y2="143.3" stroke="#3aa882" stroke-width="0.8999999999999999" stroke-linecap="butt"/>
<line x1="59" y1="106.3" x2="62" y2="106.3" stroke="#3aa882" stroke-width="0.8999999999999999" stroke-linecap="butt"/>
<circle cx="60.5" cy="122.2" r="2.1" fill="#3aa882"/>
<line x1="60.5" y1="128.9" x2="60.5" y2="111.7" stroke="#5e5e5e" stroke-width="0.8999999999999999" stroke-linecap="butt"/>
<line x1="59" y1="128.9" x2="62" y2="128.9" stroke="#5e5e5e" stroke-width="0.8999999999999999" stroke-linecap="butt"/>
<line x1="59" y1="111.7" x2="62" y2="111.7" stroke="#5e5e5e" stroke-width="0.8999999999999999" stroke-linecap="butt"/>
<path d="M60.5 123.3L63 118.8L58 118.8Z" fill="#5e5e5e"/>
<line x1="60.5" y1="123.5" x2="60.5" y2="106.3" stroke="#5e5e5e" stroke-width="0.8999999999999999" stroke-linecap="butt"/>
<line x1="59" y1="123.5" x2="62" y2="123.5" stroke="#5e5e5e" stroke-width="0.8999999999999999" stroke-linecap="butt"/>
<line x1="59" y1="106.3" x2="62" y2="106.3" stroke="#5e5e5e" stroke-width="0.8999999999999999" stroke-linecap="butt"/>
<circle cx="60.5" cy="115.4" r="2.1" fill="#5e5e5e"/>
<line x1="60.5" y1="129.1" x2="60.5" y2="111.9" stroke="#5e5e5e" stroke-width="0.8999999999999999" stroke-linecap="butt"/>
<line x1="59" y1="129.1" x2="62" y2="129.1" stroke="#5e5e5e" stroke-width="0.8999999999999999" stroke-linecap="butt"/>
<line x1="59" y1="111.9" x2="62" y2="111.9" stroke="#5e5e5e" stroke-width="0.8999999999999999" stroke-linecap="butt"/>
<rect x="58.4" y="118.9" width="4.2" height="4.2" fill="#5e5e5e"/>
<polyline points="70.4,120.6 71.7,120.6 73.1,120.6 74.4,120.6 75.7,120.6 77.1,120.6 78.4,120.6 79.8,120.6 81.1,120.6 82.5,120.6 83.8,120.6 85.1,120.6 86.5,120.6 87.8,120.6 89.2,120.6 90.5,120.6 91.9,120.6 93.2,120.6 94.5,120.6 95.9,120.6 97.2,120.5 98.6,120.5 99.9,120.4 101.3,120.4 102.6,120.2 103.9,120.1 105.3,119.8 106.6,119.4 108,118.8 109.3,118 110.7,116.7 112,115 113.3,112.4 114.7,108.9 116,104.1 117.4,97.9 118.7,90.3 120,81.4 121.4,71.9 122.7,62.3 124.1,53.5 125.4,45.9 126.8,39.8 128.1,35 129.4,31.6 130.8,29.1 132.1,27.3 133.5,26.1 134.8,25.3 136.2,24.7 137.5,24.3 138.8,24 140.2,23.9 141.5,23.7 142.9,23.7 144.2,23.6 145.6,23.6 146.9,23.5 148.2,23.5 149.6,23.5 150.9,23.5 152.3,23.5 153.6,23.5 155,23.5 156.3,23.5 157.6,23.5 159,23.5 160.3,23.5 161.7,23.5 163,23.5 164.4,23.5 165.7,23.5 167,23.5 168.4,23.5 169.7,23.5 171.1,23.5 172.4,23.5 173.8,23.5 175.1,23.5 176.4,23.5 177.8,23.5" fill="none" stroke="#2b2f78" stroke-width="1.2" stroke-linejoin="round"/>
<line x1="72.2" y1="127" x2="72.2" y2="106.8" stroke="#2b2f78" stroke-width="0.84" stroke-linecap="butt"/>
<line x1="70.8" y1="127" x2="73.6" y2="127" stroke="#2b2f78" stroke-width="0.84" stroke-linecap="butt"/>
<line x1="70.8" y1="106.8" x2="73.6" y2="106.8" stroke="#2b2f78" stroke-width="0.84" stroke-linecap="butt"/>
<line x1="78.7" y1="125.5" x2="78.7" y2="110.1" stroke="#2b2f78" stroke-width="0.84" stroke-linecap="butt"/>
<line x1="77.3" y1="125.5" x2="80.2" y2="125.5" stroke="#2b2f78" stroke-width="0.84" stroke-linecap="butt"/>
<line x1="77.3" y1="110.1" x2="80.2" y2="110.1" stroke="#2b2f78" stroke-width="0.84" stroke-linecap="butt"/>
<line x1="85.3" y1="131.7" x2="85.3" y2="117.6" stroke="#2b2f78" stroke-width="0.84" stroke-linecap="butt"/>
<line x1="83.8" y1="131.7" x2="86.7" y2="131.7" stroke="#2b2f78" stroke-width="0.84" stroke-linecap="butt"/>
<line x1="83.8" y1="117.6" x2="86.7" y2="117.6" stroke="#2b2f78" stroke-width="0.84" stroke-linecap="butt"/>
<line x1="91.8" y1="141.9" x2="91.8" y2="104" stroke="#2b2f78" stroke-width="0.84" stroke-linecap="butt"/>
<line x1="90.4" y1="141.9" x2="93.2" y2="141.9" stroke="#2b2f78" stroke-width="0.84" stroke-linecap="butt"/>
<line x1="90.4" y1="104" x2="93.2" y2="104" stroke="#2b2f78" stroke-width="0.84" stroke-linecap="butt"/>
<line x1="98.3" y1="126.1" x2="98.3" y2="108.2" stroke="#2b2f78" stroke-width="0.84" stroke-linecap="butt"/>
<line x1="96.9" y1="126.1" x2="99.7" y2="126.1" stroke="#2b2f78" stroke-width="0.84" stroke-linecap="butt"/>
<line x1="96.9" y1="108.2" x2="99.7" y2="108.2" stroke="#2b2f78" stroke-width="0.84" stroke-linecap="butt"/>
<line x1="104.9" y1="135.3" x2="104.9" y2="105" stroke="#2b2f78" stroke-width="0.84" stroke-linecap="butt"/>
<line x1="103.4" y1="135.3" x2="106.3" y2="135.3" stroke="#2b2f78" stroke-width="0.84" stroke-linecap="butt"/>
<line x1="103.4" y1="105" x2="106.3" y2="105" stroke="#2b2f78" stroke-width="0.84" stroke-linecap="butt"/>
<line x1="111.4" y1="125.3" x2="111.4" y2="98.6" stroke="#2b2f78" stroke-width="0.84" stroke-linecap="butt"/>
<line x1="110" y1="125.3" x2="112.8" y2="125.3" stroke="#2b2f78" stroke-width="0.84" stroke-linecap="butt"/>
<line x1="110" y1="98.6" x2="112.8" y2="98.6" stroke="#2b2f78" stroke-width="0.84" stroke-linecap="butt"/>
<line x1="117.9" y1="99.6" x2="117.9" y2="92" stroke="#2b2f78" stroke-width="0.84" stroke-linecap="butt"/>
<line x1="116.5" y1="99.6" x2="119.3" y2="99.6" stroke="#2b2f78" stroke-width="0.84" stroke-linecap="butt"/>
<line x1="116.5" y1="92" x2="119.3" y2="92" stroke="#2b2f78" stroke-width="0.84" stroke-linecap="butt"/>
<line x1="124.4" y1="60.7" x2="124.4" y2="48.7" stroke="#2b2f78" stroke-width="0.84" stroke-linecap="butt"/>
<line x1="123" y1="60.7" x2="125.9" y2="60.7" stroke="#2b2f78" stroke-width="0.84" stroke-linecap="butt"/>
<line x1="123" y1="48.7" x2="125.9" y2="48.7" stroke="#2b2f78" stroke-width="0.84" stroke-linecap="butt"/>
<line x1="131" y1="31.3" x2="131" y2="24.2" stroke="#2b2f78" stroke-width="0.84" stroke-linecap="butt"/>
<line x1="129.5" y1="31.3" x2="132.4" y2="31.3" stroke="#2b2f78" stroke-width="0.84" stroke-linecap="butt"/>
<line x1="129.5" y1="24.2" x2="132.4" y2="24.2" stroke="#2b2f78" stroke-width="0.84" stroke-linecap="butt"/>
<line x1="137.5" y1="27.7" x2="137.5" y2="16.4" stroke="#2b2f78" stroke-width="0.84" stroke-linecap="butt"/>
<line x1="136.1" y1="27.7" x2="138.9" y2="27.7" stroke="#2b2f78" stroke-width="0.84" stroke-linecap="butt"/>
<line x1="136.1" y1="16.4" x2="138.9" y2="16.4" stroke="#2b2f78" stroke-width="0.84" stroke-linecap="butt"/>
<line x1="144" y1="24.8" x2="144" y2="23.3" stroke="#2b2f78" stroke-width="0.84" stroke-linecap="butt"/>
<line x1="142.6" y1="24.8" x2="145.5" y2="24.8" stroke="#2b2f78" stroke-width="0.84" stroke-linecap="butt"/>
<line x1="142.6" y1="23.3" x2="145.5" y2="23.3" stroke="#2b2f78" stroke-width="0.84" stroke-linecap="butt"/>
<line x1="150.6" y1="25.7" x2="150.6" y2="23" stroke="#2b2f78" stroke-width="0.84" stroke-linecap="butt"/>
<line x1="149.1" y1="25.7" x2="152" y2="25.7" stroke="#2b2f78" stroke-width="0.84" stroke-linecap="butt"/>
<line x1="149.1" y1="23" x2="152" y2="23" stroke="#2b2f78" stroke-width="0.84" stroke-linecap="butt"/>
<line x1="157.1" y1="24.8" x2="157.1" y2="22.9" stroke="#2b2f78" stroke-width="0.84" stroke-linecap="butt"/>
<line x1="155.7" y1="24.8" x2="158.5" y2="24.8" stroke="#2b2f78" stroke-width="0.84" stroke-linecap="butt"/>
<line x1="155.7" y1="22.9" x2="158.5" y2="22.9" stroke="#2b2f78" stroke-width="0.84" stroke-linecap="butt"/>
<line x1="163.6" y1="23.6" x2="163.6" y2="21.5" stroke="#2b2f78" stroke-width="0.84" stroke-linecap="butt"/>
<line x1="162.2" y1="23.6" x2="165.1" y2="23.6" stroke="#2b2f78" stroke-width="0.84" stroke-linecap="butt"/>
<line x1="162.2" y1="21.5" x2="165.1" y2="21.5" stroke="#2b2f78" stroke-width="0.84" stroke-linecap="butt"/>
<line x1="170.2" y1="25.4" x2="170.2" y2="20.5" stroke="#2b2f78" stroke-width="0.84" stroke-linecap="butt"/>
<line x1="168.7" y1="25.4" x2="171.6" y2="25.4" stroke="#2b2f78" stroke-width="0.84" stroke-linecap="butt"/>
<line x1="168.7" y1="20.5" x2="171.6" y2="20.5" stroke="#2b2f78" stroke-width="0.84" stroke-linecap="butt"/>
<line x1="176.7" y1="26.4" x2="176.7" y2="22.1" stroke="#2b2f78" stroke-width="0.84" stroke-linecap="butt"/>
<line x1="175.3" y1="26.4" x2="178.1" y2="26.4" stroke="#2b2f78" stroke-width="0.84" stroke-linecap="butt"/>
<line x1="175.3" y1="22.1" x2="178.1" y2="22.1" stroke="#2b2f78" stroke-width="0.84" stroke-linecap="butt"/>
<path d="M72.2 114.6L74.4 118.7L69.9 118.7Z" fill="#2b2f78"/>
<path d="M78.7 115.5L81 119.6L76.5 119.6Z" fill="#2b2f78"/>
<path d="M85.3 122.4L87.5 126.4L83 126.4Z" fill="#2b2f78"/>
<path d="M91.8 120.7L94 124.7L89.5 124.7Z" fill="#2b2f78"/>
<path d="M98.3 114.9L100.6 119L96.1 119Z" fill="#2b2f78"/>
<path d="M104.9 117.9L107.1 121.9L102.6 121.9Z" fill="#2b2f78"/>
<path d="M111.4 109.7L113.6 113.8L109.1 113.8Z" fill="#2b2f78"/>
<path d="M117.9 93.5L120.2 97.6L115.7 97.6Z" fill="#2b2f78"/>
<path d="M124.4 52.5L126.7 56.5L122.2 56.5Z" fill="#2b2f78"/>
<path d="M131 25.5L133.2 29.5L128.7 29.5Z" fill="#2b2f78"/>
<path d="M137.5 19.8L139.8 23.8L135.3 23.8Z" fill="#2b2f78"/>
<path d="M144 21.8L146.3 25.9L141.8 25.9Z" fill="#2b2f78"/>
<path d="M150.6 22.1L152.8 26.2L148.3 26.2Z" fill="#2b2f78"/>
<path d="M157.1 21.6L159.4 25.6L154.9 25.6Z" fill="#2b2f78"/>
<path d="M163.6 20.3L165.9 24.4L161.4 24.4Z" fill="#2b2f78"/>
<path d="M170.2 20.7L172.4 24.8L167.9 24.8Z" fill="#2b2f78"/>
<path d="M176.7 22L178.9 26.1L174.5 26.1Z" fill="#2b2f78"/>
<polyline points="70.4,119.6 71.7,119.6 73.1,119.6 74.4,119.6 75.7,119.6 77.1,119.6 78.4,119.6 79.8,119.6 81.1,119.6 82.5,119.6 83.8,119.6 85.1,119.6 86.5,119.6 87.8,119.6 89.2,119.6 90.5,119.6 91.9,119.6 93.2,119.6 94.5,119.6 95.9,119.5 97.2,119.5 98.6,119.5 99.9,119.4 101.3,119.4 102.6,119.3 103.9,119.1 105.3,118.9 106.6,118.5 108,118 109.3,117.3 110.7,116.2 112,114.6 113.3,112.3 114.7,109.2 116,105 117.4,99.5 118.7,92.7 120,84.9 121.4,76.4 122.7,68 124.1,60.2 125.4,53.4 126.8,48 128.1,43.8 129.4,40.8 130.8,38.5 132.1,37 133.5,35.9 134.8,35.2 136.2,34.7 137.5,34.3 138.8,34.1 140.2,33.9 141.5,33.8 142.9,33.8 144.2,33.7 145.6,33.7 146.9,33.7 148.2,33.6 149.6,33.6 150.9,33.6 152.3,33.6 153.6,33.6 155,33.6 156.3,33.6 157.6,33.6 159,33.6 160.3,33.6 161.7,33.6 163,33.6 164.4,33.6 165.7,33.6 167,33.6 168.4,33.6 169.7,33.6 171.1,33.6 172.4,33.6 173.8,33.6 175.1,33.6 176.4,33.6 177.8,33.6" fill="none" stroke="#6a68a8" stroke-width="1.2" stroke-linejoin="round"/>
<line x1="72.2" y1="137" x2="72.2" y2="105.4" stroke="#6a68a8" stroke-width="0.84" stroke-linecap="butt"/>
<line x1="70.8" y1="137" x2="73.6" y2="137" stroke="#6a68a8" stroke-width="0.84" stroke-linecap="butt"/>
<line x1="70.8" y1="105.4" x2="73.6" y2="105.4" stroke="#6a68a8" stroke-width="0.84" stroke-linecap="butt"/>
<line x1="78.7" y1="128.6" x2="78.7" y2="104.4" stroke="#6a68a8" stroke-width="0.84" stroke-linecap="butt"/>
<line x1="77.3" y1="128.6" x2="80.2" y2="128.6" stroke="#6a68a8" stroke-width="0.84" stroke-linecap="butt"/>
<line x1="77.3" y1="104.4" x2="80.2" y2="104.4" stroke="#6a68a8" stroke-width="0.84" stroke-linecap="butt"/>
<line x1="85.3" y1="135.3" x2="85.3" y2="108.5" stroke="#6a68a8" stroke-width="0.84" stroke-linecap="butt"/>
<line x1="83.8" y1="135.3" x2="86.7" y2="135.3" stroke="#6a68a8" stroke-width="0.84" stroke-linecap="butt"/>
<line x1="83.8" y1="108.5" x2="86.7" y2="108.5" stroke="#6a68a8" stroke-width="0.84" stroke-linecap="butt"/>
<line x1="91.8" y1="142" x2="91.8" y2="98.8" stroke="#6a68a8" stroke-width="0.84" stroke-linecap="butt"/>
<line x1="90.4" y1="142" x2="93.2" y2="142" stroke="#6a68a8" stroke-width="0.84" stroke-linecap="butt"/>
<line x1="90.4" y1="98.8" x2="93.2" y2="98.8" stroke="#6a68a8" stroke-width="0.84" stroke-linecap="butt"/>
<line x1="98.3" y1="130.5" x2="98.3" y2="102.7" stroke="#6a68a8" stroke-width="0.84" stroke-linecap="butt"/>
<line x1="96.9" y1="130.5" x2="99.7" y2="130.5" stroke="#6a68a8" stroke-width="0.84" stroke-linecap="butt"/>
<line x1="96.9" y1="102.7" x2="99.7" y2="102.7" stroke="#6a68a8" stroke-width="0.84" stroke-linecap="butt"/>
<line x1="104.9" y1="133.2" x2="104.9" y2="102.4" stroke="#6a68a8" stroke-width="0.84" stroke-linecap="butt"/>
<line x1="103.4" y1="133.2" x2="106.3" y2="133.2" stroke="#6a68a8" stroke-width="0.84" stroke-linecap="butt"/>
<line x1="103.4" y1="102.4" x2="106.3" y2="102.4" stroke="#6a68a8" stroke-width="0.84" stroke-linecap="butt"/>
<line x1="111.4" y1="138.7" x2="111.4" y2="98.5" stroke="#6a68a8" stroke-width="0.84" stroke-linecap="butt"/>
<line x1="110" y1="138.7" x2="112.8" y2="138.7" stroke="#6a68a8" stroke-width="0.84" stroke-linecap="butt"/>
<line x1="110" y1="98.5" x2="112.8" y2="98.5" stroke="#6a68a8" stroke-width="0.84" stroke-linecap="butt"/>
<line x1="117.9" y1="96.7" x2="117.9" y2="89.2" stroke="#6a68a8" stroke-width="0.84" stroke-linecap="butt"/>
<line x1="116.5" y1="96.7" x2="119.3" y2="96.7" stroke="#6a68a8" stroke-width="0.84" stroke-linecap="butt"/>
<line x1="116.5" y1="89.2" x2="119.3" y2="89.2" stroke="#6a68a8" stroke-width="0.84" stroke-linecap="butt"/>
<line x1="124.4" y1="64.2" x2="124.4" y2="56.9" stroke="#6a68a8" stroke-width="0.84" stroke-linecap="butt"/>
<line x1="123" y1="64.2" x2="125.9" y2="64.2" stroke="#6a68a8" stroke-width="0.84" stroke-linecap="butt"/>
<line x1="123" y1="56.9" x2="125.9" y2="56.9" stroke="#6a68a8" stroke-width="0.84" stroke-linecap="butt"/>
<line x1="131" y1="47" x2="131" y2="33.5" stroke="#6a68a8" stroke-width="0.84" stroke-linecap="butt"/>
<line x1="129.5" y1="47" x2="132.4" y2="47" stroke="#6a68a8" stroke-width="0.84" stroke-linecap="butt"/>
<line x1="129.5" y1="33.5" x2="132.4" y2="33.5" stroke="#6a68a8" stroke-width="0.84" stroke-linecap="butt"/>
<line x1="137.5" y1="38.5" x2="137.5" y2="25.8" stroke="#6a68a8" stroke-width="0.84" stroke-linecap="butt"/>
<line x1="136.1" y1="38.5" x2="138.9" y2="38.5" stroke="#6a68a8" stroke-width="0.84" stroke-linecap="butt"/>
<line x1="136.1" y1="25.8" x2="138.9" y2="25.8" stroke="#6a68a8" stroke-width="0.84" stroke-linecap="butt"/>
<line x1="144" y1="37.3" x2="144" y2="30.8" stroke="#6a68a8" stroke-width="0.84" stroke-linecap="butt"/>
<line x1="142.6" y1="37.3" x2="145.5" y2="37.3" stroke="#6a68a8" stroke-width="0.84" stroke-linecap="butt"/>
<line x1="142.6" y1="30.8" x2="145.5" y2="30.8" stroke="#6a68a8" stroke-width="0.84" stroke-linecap="butt"/>
<line x1="150.6" y1="37.3" x2="150.6" y2="30.8" stroke="#6a68a8" stroke-width="0.84" stroke-linecap="butt"/>
<line x1="149.1" y1="37.3" x2="152" y2="37.3" stroke="#6a68a8" stroke-width="0.84" stroke-linecap="butt"/>
<line x1="149.1" y1="30.8" x2="152" y2="30.8" stroke="#6a68a8" stroke-width="0.84" stroke-linecap="butt"/>
<line x1="157.1" y1="37.7" x2="157.1" y2="31.2" stroke="#6a68a8" stroke-width="0.84" stroke-linecap="butt"/>
<line x1="155.7" y1="37.7" x2="158.5" y2="37.7" stroke="#6a68a8" stroke-width="0.84" stroke-linecap="butt"/>
<line x1="155.7" y1="31.2" x2="158.5" y2="31.2" stroke="#6a68a8" stroke-width="0.84" stroke-linecap="butt"/>
<line x1="163.6" y1="37.7" x2="163.6" y2="31.2" stroke="#6a68a8" stroke-width="0.84" stroke-linecap="butt"/>
<line x1="162.2" y1="37.7" x2="165.1" y2="37.7" stroke="#6a68a8" stroke-width="0.84" stroke-linecap="butt"/>
<line x1="162.2" y1="31.2" x2="165.1" y2="31.2" stroke="#6a68a8" stroke-width="0.84" stroke-linecap="butt"/>
<line x1="170.2" y1="36.7" x2="170.2" y2="30.2" stroke="#6a68a8" stroke-width="0.84" stroke-linecap="butt"/>
<line x1="168.7" y1="36.7" x2="171.6" y2="36.7" stroke="#6a68a8" stroke-width="0.84" stroke-linecap="butt"/>
<line x1="168.7" y1="30.2" x2="171.6" y2="30.2" stroke="#6a68a8" stroke-width="0.84" stroke-linecap="butt"/>
<line x1="176.7" y1="37.4" x2="176.7" y2="30.9" stroke="#6a68a8" stroke-width="0.84" stroke-linecap="butt"/>
<line x1="175.3" y1="37.4" x2="178.1" y2="37.4" stroke="#6a68a8" stroke-width="0.84" stroke-linecap="butt"/>
<line x1="175.3" y1="30.9" x2="178.1" y2="30.9" stroke="#6a68a8" stroke-width="0.84" stroke-linecap="butt"/>
<path d="M72.2 118.9L74.4 123L69.9 123Z" fill="#6a68a8"/>
<path d="M78.7 114.2L81 118.3L76.5 118.3Z" fill="#6a68a8"/>
<path d="M85.3 119.7L87.5 123.7L83 123.7Z" fill="#6a68a8"/>
<path d="M91.8 118.2L94 122.2L89.5 122.2Z" fill="#6a68a8"/>
<path d="M98.3 114.4L100.6 118.4L96.1 118.4Z" fill="#6a68a8"/>
<path d="M104.9 115.6L107.1 119.6L102.6 119.6Z" fill="#6a68a8"/>
<path d="M111.4 116.4L113.6 120.4L109.1 120.4Z" fill="#6a68a8"/>
<path d="M117.9 90.7L120.2 94.7L115.7 94.7Z" fill="#6a68a8"/>
<path d="M124.4 58.3L126.7 62.3L122.2 62.3Z" fill="#6a68a8"/>
<path d="M131 38L133.2 42L128.7 42Z" fill="#6a68a8"/>
<path d="M137.5 29.9L139.8 33.9L135.3 33.9Z" fill="#6a68a8"/>
<path d="M144 31.8L146.3 35.9L141.8 35.9Z" fill="#6a68a8"/>
<path d="M150.6 31.8L152.8 35.8L148.3 35.8Z" fill="#6a68a8"/>
<path d="M157.1 32.2L159.4 36.3L154.9 36.3Z" fill="#6a68a8"/>
<path d="M163.6 32.2L165.9 36.2L161.4 36.2Z" fill="#6a68a8"/>
<path d="M170.2 31.2L172.4 35.2L167.9 35.2Z" fill="#6a68a8"/>
<path d="M176.7 31.9L178.9 35.9L174.5 35.9Z" fill="#6a68a8"/>
<polyline points="70.4,120.6 71.7,120.6 73.1,120.6 74.4,120.6 75.7,120.6 77.1,120.6 78.4,120.6 79.8,120.6 81.1,120.6 82.5,120.6 83.8,120.6 85.1,120.6 86.5,120.6 87.8,120.6 89.2,120.6 90.5,120.6 91.9,120.6 93.2,120.6 94.5,120.6 95.9,120.6 97.2,120.6 98.6,120.5 99.9,120.5 101.3,120.4 102.6,120.3 103.9,120.2 105.3,120 106.6,119.7 108,119.3 109.3,118.7 110.7,117.8 112,116.4 113.3,114.5 114.7,111.8 116,108.1 117.4,103 118.7,96.6 120,88.7 121.4,79.6 122.7,70 124.1,60.5 125.4,51.9 126.8,44.6 128.1,38.8 129.4,34.3 130.8,31 132.1,28.7 133.5,27 134.8,25.9 136.2,25.1 137.5,24.6 138.8,24.2 140.2,24 141.5,23.8 142.9,23.7 144.2,23.7 145.6,23.6 146.9,23.6 148.2,23.5 149.6,23.5 150.9,23.5 152.3,23.5 153.6,23.5 155,23.5 156.3,23.5 157.6,23.5 159,23.5 160.3,23.5 161.7,23.5 163,23.5 164.4,23.5 165.7,23.5 167,23.5 168.4,23.5 169.7,23.5 171.1,23.5 172.4,23.5 173.8,23.5 175.1,23.5 176.4,23.5 177.8,23.5" fill="none" stroke="#1f5f48" stroke-width="1.2" stroke-linejoin="round"/>
<line x1="72.2" y1="133.4" x2="72.2" y2="111.8" stroke="#1f5f48" stroke-width="0.84" stroke-linecap="butt"/>
<line x1="70.8" y1="133.4" x2="73.6" y2="133.4" stroke="#1f5f48" stroke-width="0.84" stroke-linecap="butt"/>
<line x1="70.8" y1="111.8" x2="73.6" y2="111.8" stroke="#1f5f48" stroke-width="0.84" stroke-linecap="butt"/>
<line x1="78.7" y1="132" x2="78.7" y2="114.2" stroke="#1f5f48" stroke-width="0.84" stroke-linecap="butt"/>
<line x1="77.3" y1="132" x2="80.2" y2="132" stroke="#1f5f48" stroke-width="0.84" stroke-linecap="butt"/>
<line x1="77.3" y1="114.2" x2="80.2" y2="114.2" stroke="#1f5f48" stroke-width="0.84" stroke-linecap="butt"/>
<line x1="85.3" y1="136.4" x2="85.3" y2="100.9" stroke="#1f5f48" stroke-width="0.84" stroke-linecap="butt"/>
<line x1="83.8" y1="136.4" x2="86.7" y2="136.4" stroke="#1f5f48" stroke-width="0.84" stroke-linecap="butt"/>
<line x1="83.8" y1="100.9" x2="86.7" y2="100.9" stroke="#1f5f48" stroke-width="0.84" stroke-linecap="butt"/>
<line x1="91.8" y1="124.2" x2="91.8" y2="109.8" stroke="#1f5f48" stroke-width="0.84" stroke-linecap="butt"/>
<line x1="90.4" y1="124.2" x2="93.2" y2="124.2" stroke="#1f5f48" stroke-width="0.84" stroke-linecap="butt"/>
<line x1="90.4" y1="109.8" x2="93.2" y2="109.8" stroke="#1f5f48" stroke-width="0.84" stroke-linecap="butt"/>
<line x1="98.3" y1="132.7" x2="98.3" y2="113.2" stroke="#1f5f48" stroke-width="0.84" stroke-linecap="butt"/>
<line x1="96.9" y1="132.7" x2="99.7" y2="132.7" stroke="#1f5f48" stroke-width="0.84" stroke-linecap="butt"/>
<line x1="96.9" y1="113.2" x2="99.7" y2="113.2" stroke="#1f5f48" stroke-width="0.84" stroke-linecap="butt"/>
<line x1="104.9" y1="131.6" x2="104.9" y2="101.3" stroke="#1f5f48" stroke-width="0.84" stroke-linecap="butt"/>
<line x1="103.4" y1="131.6" x2="106.3" y2="131.6" stroke="#1f5f48" stroke-width="0.84" stroke-linecap="butt"/>
<line x1="103.4" y1="101.3" x2="106.3" y2="101.3" stroke="#1f5f48" stroke-width="0.84" stroke-linecap="butt"/>
<line x1="111.4" y1="133.9" x2="111.4" y2="94.2" stroke="#1f5f48" stroke-width="0.84" stroke-linecap="butt"/>
<line x1="110" y1="133.9" x2="112.8" y2="133.9" stroke="#1f5f48" stroke-width="0.84" stroke-linecap="butt"/>
<line x1="110" y1="94.2" x2="112.8" y2="94.2" stroke="#1f5f48" stroke-width="0.84" stroke-linecap="butt"/>
<line x1="117.9" y1="105.3" x2="117.9" y2="94.2" stroke="#1f5f48" stroke-width="0.84" stroke-linecap="butt"/>
<line x1="116.5" y1="105.3" x2="119.3" y2="105.3" stroke="#1f5f48" stroke-width="0.84" stroke-linecap="butt"/>
<line x1="116.5" y1="94.2" x2="119.3" y2="94.2" stroke="#1f5f48" stroke-width="0.84" stroke-linecap="butt"/>
<line x1="124.4" y1="62.9" x2="124.4" y2="54.5" stroke="#1f5f48" stroke-width="0.84" stroke-linecap="butt"/>
<line x1="123" y1="62.9" x2="125.9" y2="62.9" stroke="#1f5f48" stroke-width="0.84" stroke-linecap="butt"/>
<line x1="123" y1="54.5" x2="125.9" y2="54.5" stroke="#1f5f48" stroke-width="0.84" stroke-linecap="butt"/>
<line x1="131" y1="40.6" x2="131" y2="27.1" stroke="#1f5f48" stroke-width="0.84" stroke-linecap="butt"/>
<line x1="129.5" y1="40.6" x2="132.4" y2="40.6" stroke="#1f5f48" stroke-width="0.84" stroke-linecap="butt"/>
<line x1="129.5" y1="27.1" x2="132.4" y2="27.1" stroke="#1f5f48" stroke-width="0.84" stroke-linecap="butt"/>
<line x1="137.5" y1="32.2" x2="137.5" y2="24.5" stroke="#1f5f48" stroke-width="0.84" stroke-linecap="butt"/>
<line x1="136.1" y1="32.2" x2="138.9" y2="32.2" stroke="#1f5f48" stroke-width="0.84" stroke-linecap="butt"/>
<line x1="136.1" y1="24.5" x2="138.9" y2="24.5" stroke="#1f5f48" stroke-width="0.84" stroke-linecap="butt"/>
<line x1="144" y1="23.3" x2="144" y2="22.2" stroke="#1f5f48" stroke-width="0.84" stroke-linecap="butt"/>
<line x1="142.6" y1="23.3" x2="145.5" y2="23.3" stroke="#1f5f48" stroke-width="0.84" stroke-linecap="butt"/>
<line x1="142.6" y1="22.2" x2="145.5" y2="22.2" stroke="#1f5f48" stroke-width="0.84" stroke-linecap="butt"/>
<line x1="150.6" y1="25.1" x2="150.6" y2="23" stroke="#1f5f48" stroke-width="0.84" stroke-linecap="butt"/>
<line x1="149.1" y1="25.1" x2="152" y2="25.1" stroke="#1f5f48" stroke-width="0.84" stroke-linecap="butt"/>
<line x1="149.1" y1="23" x2="152" y2="23" stroke="#1f5f48" stroke-width="0.84" stroke-linecap="butt"/>
<line x1="157.1" y1="24.5" x2="157.1" y2="21.7" stroke="#1f5f48" stroke-width="0.84" stroke-linecap="butt"/>
<line x1="155.7" y1="24.5" x2="158.5" y2="24.5" stroke="#1f5f48" stroke-width="0.84" stroke-linecap="butt"/>
<line x1="155.7" y1="21.7" x2="158.5" y2="21.7" stroke="#1f5f48" stroke-width="0.84" stroke-linecap="butt"/>
<line x1="163.6" y1="24.6" x2="163.6" y2="23.4" stroke="#1f5f48" stroke-width="0.84" stroke-linecap="butt"/>
<line x1="162.2" y1="24.6" x2="165.1" y2="24.6" stroke="#1f5f48" stroke-width="0.84" stroke-linecap="butt"/>
<line x1="162.2" y1="23.4" x2="165.1" y2="23.4" stroke="#1f5f48" stroke-width="0.84" stroke-linecap="butt"/>
<line x1="170.2" y1="23.7" x2="170.2" y2="22" stroke="#1f5f48" stroke-width="0.84" stroke-linecap="butt"/>
<line x1="168.7" y1="23.7" x2="171.6" y2="23.7" stroke="#1f5f48" stroke-width="0.84" stroke-linecap="butt"/>
<line x1="168.7" y1="22" x2="171.6" y2="22" stroke="#1f5f48" stroke-width="0.84" stroke-linecap="butt"/>
<line x1="176.7" y1="24.6" x2="176.7" y2="22.1" stroke="#1f5f48" stroke-width="0.84" stroke-linecap="butt"/>
<line x1="175.3" y1="24.6" x2="178.1" y2="24.6" stroke="#1f5f48" stroke-width="0.84" stroke-linecap="butt"/>
<line x1="175.3" y1="22.1" x2="178.1" y2="22.1" stroke="#1f5f48" stroke-width="0.84" stroke-linecap="butt"/>
<rect x="70.3" y="120.8" width="3.7" height="3.7" fill="#1f5f48"/>
<rect x="76.9" y="121.3" width="3.7" height="3.7" fill="#1f5f48"/>
<rect x="83.4" y="116.8" width="3.7" height="3.7" fill="#1f5f48"/>
<rect x="89.9" y="115.2" width="3.7" height="3.7" fill="#1f5f48"/>
<rect x="96.5" y="121.1" width="3.7" height="3.7" fill="#1f5f48"/>
<rect x="103" y="114.6" width="3.7" height="3.7" fill="#1f5f48"/>
<rect x="109.5" y="112.2" width="3.7" height="3.7" fill="#1f5f48"/>
<rect x="116.1" y="97.9" width="3.7" height="3.7" fill="#1f5f48"/>
<rect x="122.6" y="56.8" width="3.7" height="3.7" fill="#1f5f48"/>
<rect x="129.1" y="32" width="3.7" height="3.7" fill="#1f5f48"/>
<rect x="135.7" y="26.5" width="3.7" height="3.7" fill="#1f5f48"/>
<rect x="142.2" y="20.9" width="3.7" height="3.7" fill="#1f5f48"/>
<rect x="148.7" y="22.2" width="3.7" height="3.7" fill="#1f5f48"/>
<rect x="155.2" y="21.2" width="3.7" height="3.7" fill="#1f5f48"/>
<rect x="161.8" y="22.1" width="3.7" height="3.7" fill="#1f5f48"/>
<rect x="168.3" y="21" width="3.7" height="3.7" fill="#1f5f48"/>
<rect x="174.8" y="21.4" width="3.7" height="3.7" fill="#1f5f48"/>
<polyline points="70.4,121.6 71.7,121.6 73.1,121.6 74.4,121.6 75.7,121.6 77.1,121.6 78.4,121.6 79.8,121.6 81.1,121.6 82.5,121.6 83.8,121.6 85.1,121.6 86.5,121.6 87.8,121.6 89.2,121.6 90.5,121.6 91.9,121.6 93.2,121.5 94.5,121.5 95.9,121.4 97.2,121.3 98.6,121.2 99.9,121 101.3,120.7 102.6,120.3 103.9,119.6 105.3,118.7 106.6,117.3 108,115.4 109.3,112.6 110.7,108.8 112,103.6 113.3,97 114.7,89 116,79.8 117.4,70.1 118.7,60.6 120,51.9 121.4,44.6 122.7,38.7 124.1,34.2 125.4,31 126.8,28.7 128.1,27 129.4,25.9 130.8,25.1 132.1,24.6 133.5,24.2 134.8,24 136.2,23.8 137.5,23.7 138.8,23.6 140.2,23.6 141.5,23.6 142.9,23.5 144.2,23.5 145.6,23.5 146.9,23.5 148.2,23.5 149.6,23.5 150.9,23.5 152.3,23.5 153.6,23.5 155,23.5 156.3,23.5 157.6,23.5 159,23.5 160.3,23.5 161.7,23.5 163,23.5 164.4,23.5 165.7,23.5 167,23.5 168.4,23.5 169.7,23.5 171.1,23.5 172.4,23.5 173.8,23.5 175.1,23.5 176.4,23.5 177.8,23.5" fill="none" stroke="#2a9488" stroke-width="1.2" stroke-linejoin="round"/>
<line x1="72.2" y1="138.9" x2="72.2" y2="103.1" stroke="#2a9488" stroke-width="0.84" stroke-linecap="butt"/>
<line x1="70.8" y1="138.9" x2="73.6" y2="138.9" stroke="#2a9488" stroke-width="0.84" stroke-linecap="butt"/>
<line x1="70.8" y1="103.1" x2="73.6" y2="103.1" stroke="#2a9488" stroke-width="0.84" stroke-linecap="butt"/>
<line x1="78.7" y1="135.8" x2="78.7" y2="113.4" stroke="#2a9488" stroke-width="0.84" stroke-linecap="butt"/>
<line x1="77.3" y1="135.8" x2="80.2" y2="135.8" stroke="#2a9488" stroke-width="0.84" stroke-linecap="butt"/>
<line x1="77.3" y1="113.4" x2="80.2" y2="113.4" stroke="#2a9488" stroke-width="0.84" stroke-linecap="butt"/>
<line x1="85.3" y1="145" x2="85.3" y2="100.5" stroke="#2a9488" stroke-width="0.84" stroke-linecap="butt"/>
<line x1="83.8" y1="145" x2="86.7" y2="145" stroke="#2a9488" stroke-width="0.84" stroke-linecap="butt"/>
<line x1="83.8" y1="100.5" x2="86.7" y2="100.5" stroke="#2a9488" stroke-width="0.84" stroke-linecap="butt"/>
<line x1="91.8" y1="125.7" x2="91.8" y2="111.1" stroke="#2a9488" stroke-width="0.84" stroke-linecap="butt"/>
<line x1="90.4" y1="125.7" x2="93.2" y2="125.7" stroke="#2a9488" stroke-width="0.84" stroke-linecap="butt"/>
<line x1="90.4" y1="111.1" x2="93.2" y2="111.1" stroke="#2a9488" stroke-width="0.84" stroke-linecap="butt"/>
<line x1="98.3" y1="132.3" x2="98.3" y2="102.4" stroke="#2a9488" stroke-width="0.84" stroke-linecap="butt"/>
<line x1="96.9" y1="132.3" x2="99.7" y2="132.3" stroke="#2a9488" stroke-width="0.84" stroke-linecap="butt"/>
<line x1="96.9" y1="102.4" x2="99.7" y2="102.4" stroke="#2a9488" stroke-width="0.84" stroke-linecap="butt"/>
<line x1="104.9" y1="135.8" x2="104.9" y2="99.8" stroke="#2a9488" stroke-width="0.84" stroke-linecap="butt"/>
<line x1="103.4" y1="135.8" x2="106.3" y2="135.8" stroke="#2a9488" stroke-width="0.84" stroke-linecap="butt"/>
<line x1="103.4" y1="99.8" x2="106.3" y2="99.8" stroke="#2a9488" stroke-width="0.84" stroke-linecap="butt"/>
<line x1="111.4" y1="125.2" x2="111.4" y2="84" stroke="#2a9488" stroke-width="0.84" stroke-linecap="butt"/>
<line x1="110" y1="125.2" x2="112.8" y2="125.2" stroke="#2a9488" stroke-width="0.84" stroke-linecap="butt"/>
<line x1="110" y1="84" x2="112.8" y2="84" stroke="#2a9488" stroke-width="0.84" stroke-linecap="butt"/>
<line x1="117.9" y1="71.4" x2="117.9" y2="59.4" stroke="#2a9488" stroke-width="0.84" stroke-linecap="butt"/>
<line x1="116.5" y1="71.4" x2="119.3" y2="71.4" stroke="#2a9488" stroke-width="0.84" stroke-linecap="butt"/>
<line x1="116.5" y1="59.4" x2="119.3" y2="59.4" stroke="#2a9488" stroke-width="0.84" stroke-linecap="butt"/>
<line x1="124.4" y1="42" x2="124.4" y2="30.3" stroke="#2a9488" stroke-width="0.84" stroke-linecap="butt"/>
<line x1="123" y1="42" x2="125.9" y2="42" stroke="#2a9488" stroke-width="0.84" stroke-linecap="butt"/>
<line x1="123" y1="30.3" x2="125.9" y2="30.3" stroke="#2a9488" stroke-width="0.84" stroke-linecap="butt"/>
<line x1="131" y1="35" x2="131" y2="22.5" stroke="#2a9488" stroke-width="0.84" stroke-linecap="butt"/>
<line x1="129.5" y1="35" x2="132.4" y2="35" stroke="#2a9488" stroke-width="0.84" stroke-linecap="butt"/>
<line x1="129.5" y1="22.5" x2="132.4" y2="22.5" stroke="#2a9488" stroke-width="0.84" stroke-linecap="butt"/>
<line x1="137.5" y1="34.4" x2="137.5" y2="20.9" stroke="#2a9488" stroke-width="0.84" stroke-linecap="butt"/>
<line x1="136.1" y1="34.4" x2="138.9" y2="34.4" stroke="#2a9488" stroke-width="0.84" stroke-linecap="butt"/>
<line x1="136.1" y1="20.9" x2="138.9" y2="20.9" stroke="#2a9488" stroke-width="0.84" stroke-linecap="butt"/>
<line x1="144" y1="23.9" x2="144" y2="21.5" stroke="#2a9488" stroke-width="0.84" stroke-linecap="butt"/>
<line x1="142.6" y1="23.9" x2="145.5" y2="23.9" stroke="#2a9488" stroke-width="0.84" stroke-linecap="butt"/>
<line x1="142.6" y1="21.5" x2="145.5" y2="21.5" stroke="#2a9488" stroke-width="0.84" stroke-linecap="butt"/>
<line x1="150.6" y1="25" x2="150.6" y2="21.2" stroke="#2a9488" stroke-width="0.84" stroke-linecap="butt"/>
<line x1="149.1" y1="25" x2="152" y2="25" stroke="#2a9488" stroke-width="0.84" stroke-linecap="butt"/>
<line x1="149.1" y1="21.2" x2="152" y2="21.2" stroke="#2a9488" stroke-width="0.84" stroke-linecap="butt"/>
<line x1="157.1" y1="24.9" x2="157.1" y2="20.2" stroke="#2a9488" stroke-width="0.84" stroke-linecap="butt"/>
<line x1="155.7" y1="24.9" x2="158.5" y2="24.9" stroke="#2a9488" stroke-width="0.84" stroke-linecap="butt"/>
<line x1="155.7" y1="20.2" x2="158.5" y2="20.2" stroke="#2a9488" stroke-width="0.84" stroke-linecap="butt"/>
<line x1="163.6" y1="26.7" x2="163.6" y2="22.2" stroke="#2a9488" stroke-width="0.84" stroke-linecap="butt"/>
<line x1="162.2" y1="26.7" x2="165.1" y2="26.7" stroke="#2a9488" stroke-width="0.84" stroke-linecap="butt"/>
<line x1="162.2" y1="22.2" x2="165.1" y2="22.2" stroke="#2a9488" stroke-width="0.84" stroke-linecap="butt"/>
<line x1="170.2" y1="24.6" x2="170.2" y2="21.9" stroke="#2a9488" stroke-width="0.84" stroke-linecap="butt"/>
<line x1="168.7" y1="24.6" x2="171.6" y2="24.6" stroke="#2a9488" stroke-width="0.84" stroke-linecap="butt"/>
<line x1="168.7" y1="21.9" x2="171.6" y2="21.9" stroke="#2a9488" stroke-width="0.84" stroke-linecap="butt"/>
<line x1="176.7" y1="25.6" x2="176.7" y2="21.4" stroke="#2a9488" stroke-width="0.84" stroke-linecap="butt"/>
<line x1="175.3" y1="25.6" x2="178.1" y2="25.6" stroke="#2a9488" stroke-width="0.84" stroke-linecap="butt"/>
<line x1="175.3" y1="21.4" x2="178.1" y2="21.4" stroke="#2a9488" stroke-width="0.84" stroke-linecap="butt"/>
<circle cx="72.2" cy="121" r="1.9" fill="#2a9488"/>
<circle cx="78.7" cy="124.6" r="1.9" fill="#2a9488"/>
<circle cx="85.3" cy="122.7" r="1.9" fill="#2a9488"/>
<circle cx="91.8" cy="118.4" r="1.9" fill="#2a9488"/>
<circle cx="98.3" cy="117.4" r="1.9" fill="#2a9488"/>
<circle cx="104.9" cy="117.8" r="1.9" fill="#2a9488"/>
<circle cx="111.4" cy="104.6" r="1.9" fill="#2a9488"/>
<circle cx="117.9" cy="65.4" r="1.9" fill="#2a9488"/>
<circle cx="124.4" cy="36.2" r="1.9" fill="#2a9488"/>
<circle cx="131" cy="28.8" r="1.9" fill="#2a9488"/>
<circle cx="137.5" cy="27.6" r="1.9" fill="#2a9488"/>
<circle cx="144" cy="22.7" r="1.9" fill="#2a9488"/>
<circle cx="150.6" cy="23.1" r="1.9" fill="#2a9488"/>
<circle cx="157.1" cy="22.6" r="1.9" fill="#2a9488"/>
<circle cx="163.6" cy="24.5" r="1.9" fill="#2a9488"/>
<circle cx="170.2" cy="23.2" r="1.9" fill="#2a9488"/>
<circle cx="176.7" cy="23.5" r="1.9" fill="#2a9488"/>
<polyline points="70.4,120.6 71.7,120.6 73.1,120.6 74.4,120.6 75.7,120.6 77.1,120.6 78.4,120.6 79.8,120.6 81.1,120.6 82.5,120.6 83.8,120.6 85.1,120.6 86.5,120.6 87.8,120.6 89.2,120.6 90.5,120.6 91.9,120.5 93.2,120.5 94.5,120.4 95.9,120.4 97.2,120.2 98.6,120.1 99.9,119.8 101.3,119.4 102.6,118.8 103.9,117.9 105.3,116.7 106.6,114.9 108,112.3 109.3,108.7 110.7,103.9 112,97.6 113.3,89.9 114.7,81 116,71.5 117.4,61.9 118.7,53.1 120,45.6 121.4,39.5 122.7,34.9 124.1,31.4 125.4,29 126.8,27.2 128.1,26 129.4,25.2 130.8,24.7 132.1,24.3 133.5,24 134.8,23.9 136.2,23.7 137.5,23.7 138.8,23.6 140.2,23.6 141.5,23.5 142.9,23.5 144.2,23.5 145.6,23.5 146.9,23.5 148.2,23.5 149.6,23.5 150.9,23.5 152.3,23.5 153.6,23.5 155,23.5 156.3,23.5 157.6,23.5 159,23.5 160.3,23.5 161.7,23.5 163,23.5 164.4,23.5 165.7,23.5 167,23.5 168.4,23.5 169.7,23.5 171.1,23.5 172.4,23.5 173.8,23.5 175.1,23.5 176.4,23.5 177.8,23.5" fill="none" stroke="#3aa882" stroke-width="1.2" stroke-linejoin="round"/>
<line x1="72.2" y1="135.9" x2="72.2" y2="99.5" stroke="#3aa882" stroke-width="0.84" stroke-linecap="butt"/>
<line x1="70.8" y1="135.9" x2="73.6" y2="135.9" stroke="#3aa882" stroke-width="0.84" stroke-linecap="butt"/>
<line x1="70.8" y1="99.5" x2="73.6" y2="99.5" stroke="#3aa882" stroke-width="0.84" stroke-linecap="butt"/>
<line x1="78.7" y1="126.6" x2="78.7" y2="113.5" stroke="#3aa882" stroke-width="0.84" stroke-linecap="butt"/>
<line x1="77.3" y1="126.6" x2="80.2" y2="126.6" stroke="#3aa882" stroke-width="0.84" stroke-linecap="butt"/>
<line x1="77.3" y1="113.5" x2="80.2" y2="113.5" stroke="#3aa882" stroke-width="0.84" stroke-linecap="butt"/>
<line x1="85.3" y1="135.4" x2="85.3" y2="103.8" stroke="#3aa882" stroke-width="0.84" stroke-linecap="butt"/>
<line x1="83.8" y1="135.4" x2="86.7" y2="135.4" stroke="#3aa882" stroke-width="0.84" stroke-linecap="butt"/>
<line x1="83.8" y1="103.8" x2="86.7" y2="103.8" stroke="#3aa882" stroke-width="0.84" stroke-linecap="butt"/>
<line x1="91.8" y1="135.3" x2="91.8" y2="107.6" stroke="#3aa882" stroke-width="0.84" stroke-linecap="butt"/>
<line x1="90.4" y1="135.3" x2="93.2" y2="135.3" stroke="#3aa882" stroke-width="0.84" stroke-linecap="butt"/>
<line x1="90.4" y1="107.6" x2="93.2" y2="107.6" stroke="#3aa882" stroke-width="0.84" stroke-linecap="butt"/>
<line x1="98.3" y1="129.2" x2="98.3" y2="109.6" stroke="#3aa882" stroke-width="0.84" stroke-linecap="butt"/>
<line x1="96.9" y1="129.2" x2="99.7" y2="129.2" stroke="#3aa882" stroke-width="0.84" stroke-linecap="butt"/>
<line x1="96.9" y1="109.6" x2="99.7" y2="109.6" stroke="#3aa882" stroke-width="0.84" stroke-linecap="butt"/>
<line x1="104.9" y1="133.6" x2="104.9" y2="98.9" stroke="#3aa882" stroke-width="0.84" stroke-linecap="butt"/>
<line x1="103.4" y1="133.6" x2="106.3" y2="133.6" stroke="#3aa882" stroke-width="0.84" stroke-linecap="butt"/>
<line x1="103.4" y1="98.9" x2="106.3" y2="98.9" stroke="#3aa882" stroke-width="0.84" stroke-linecap="butt"/>
<line x1="111.4" y1="118.2" x2="111.4" y2="90" stroke="#3aa882" stroke-width="0.84" stroke-linecap="butt"/>
<line x1="110" y1="118.2" x2="112.8" y2="118.2" stroke="#3aa882" stroke-width="0.84" stroke-linecap="butt"/>
<line x1="110" y1="90" x2="112.8" y2="90" stroke="#3aa882" stroke-width="0.84" stroke-linecap="butt"/>
<line x1="117.9" y1="62.6" x2="117.9" y2="51.6" stroke="#3aa882" stroke-width="0.84" stroke-linecap="butt"/>
<line x1="116.5" y1="62.6" x2="119.3" y2="62.6" stroke="#3aa882" stroke-width="0.84" stroke-linecap="butt"/>
<line x1="116.5" y1="51.6" x2="119.3" y2="51.6" stroke="#3aa882" stroke-width="0.84" stroke-linecap="butt"/>
<line x1="124.4" y1="33.4" x2="124.4" y2="19.9" stroke="#3aa882" stroke-width="0.84" stroke-linecap="butt"/>
<line x1="123" y1="33.4" x2="125.9" y2="33.4" stroke="#3aa882" stroke-width="0.84" stroke-linecap="butt"/>
<line x1="123" y1="19.9" x2="125.9" y2="19.9" stroke="#3aa882" stroke-width="0.84" stroke-linecap="butt"/>
<line x1="131" y1="25.6" x2="131" y2="17.5" stroke="#3aa882" stroke-width="0.84" stroke-linecap="butt"/>
<line x1="129.5" y1="25.6" x2="132.4" y2="25.6" stroke="#3aa882" stroke-width="0.84" stroke-linecap="butt"/>
<line x1="129.5" y1="17.5" x2="132.4" y2="17.5" stroke="#3aa882" stroke-width="0.84" stroke-linecap="butt"/>
<line x1="137.5" y1="24.9" x2="137.5" y2="18.7" stroke="#3aa882" stroke-width="0.84" stroke-linecap="butt"/>
<line x1="136.1" y1="24.9" x2="138.9" y2="24.9" stroke="#3aa882" stroke-width="0.84" stroke-linecap="butt"/>
<line x1="136.1" y1="18.7" x2="138.9" y2="18.7" stroke="#3aa882" stroke-width="0.84" stroke-linecap="butt"/>
<line x1="144" y1="24.9" x2="144" y2="22.6" stroke="#3aa882" stroke-width="0.84" stroke-linecap="butt"/>
<line x1="142.6" y1="24.9" x2="145.5" y2="24.9" stroke="#3aa882" stroke-width="0.84" stroke-linecap="butt"/>
<line x1="142.6" y1="22.6" x2="145.5" y2="22.6" stroke="#3aa882" stroke-width="0.84" stroke-linecap="butt"/>
<line x1="150.6" y1="24.9" x2="150.6" y2="21.2" stroke="#3aa882" stroke-width="0.84" stroke-linecap="butt"/>
<line x1="149.1" y1="24.9" x2="152" y2="24.9" stroke="#3aa882" stroke-width="0.84" stroke-linecap="butt"/>
<line x1="149.1" y1="21.2" x2="152" y2="21.2" stroke="#3aa882" stroke-width="0.84" stroke-linecap="butt"/>
<line x1="157.1" y1="24.3" x2="157.1" y2="22.4" stroke="#3aa882" stroke-width="0.84" stroke-linecap="butt"/>
<line x1="155.7" y1="24.3" x2="158.5" y2="24.3" stroke="#3aa882" stroke-width="0.84" stroke-linecap="butt"/>
<line x1="155.7" y1="22.4" x2="158.5" y2="22.4" stroke="#3aa882" stroke-width="0.84" stroke-linecap="butt"/>
<line x1="163.6" y1="24.5" x2="163.6" y2="22.8" stroke="#3aa882" stroke-width="0.84" stroke-linecap="butt"/>
<line x1="162.2" y1="24.5" x2="165.1" y2="24.5" stroke="#3aa882" stroke-width="0.84" stroke-linecap="butt"/>
<line x1="162.2" y1="22.8" x2="165.1" y2="22.8" stroke="#3aa882" stroke-width="0.84" stroke-linecap="butt"/>
<line x1="170.2" y1="25.2" x2="170.2" y2="20.5" stroke="#3aa882" stroke-width="0.84" stroke-linecap="butt"/>
<line x1="168.7" y1="25.2" x2="171.6" y2="25.2" stroke="#3aa882" stroke-width="0.84" stroke-linecap="butt"/>
<line x1="168.7" y1="20.5" x2="171.6" y2="20.5" stroke="#3aa882" stroke-width="0.84" stroke-linecap="butt"/>
<line x1="176.7" y1="26.2" x2="176.7" y2="22.5" stroke="#3aa882" stroke-width="0.84" stroke-linecap="butt"/>
<line x1="175.3" y1="26.2" x2="178.1" y2="26.2" stroke="#3aa882" stroke-width="0.84" stroke-linecap="butt"/>
<line x1="175.3" y1="22.5" x2="178.1" y2="22.5" stroke="#3aa882" stroke-width="0.84" stroke-linecap="butt"/>
<circle cx="72.2" cy="117.7" r="1.9" fill="#3aa882"/>
<circle cx="78.7" cy="120" r="1.9" fill="#3aa882"/>
<circle cx="85.3" cy="119.6" r="1.9" fill="#3aa882"/>
<circle cx="91.8" cy="121.5" r="1.9" fill="#3aa882"/>
<circle cx="98.3" cy="119.4" r="1.9" fill="#3aa882"/>
<circle cx="104.9" cy="116.3" r="1.9" fill="#3aa882"/>
<circle cx="111.4" cy="104.1" r="1.9" fill="#3aa882"/>
<circle cx="117.9" cy="57.1" r="1.9" fill="#3aa882"/>
<circle cx="124.4" cy="26.7" r="1.9" fill="#3aa882"/>
<circle cx="131" cy="21.5" r="1.9" fill="#3aa882"/>
<circle cx="137.5" cy="21.8" r="1.9" fill="#3aa882"/>
<circle cx="144" cy="23.7" r="1.9" fill="#3aa882"/>
<circle cx="150.6" cy="23" r="1.9" fill="#3aa882"/>
<circle cx="157.1" cy="23.3" r="1.9" fill="#3aa882"/>
<circle cx="163.6" cy="23.6" r="1.9" fill="#3aa882"/>
<circle cx="170.2" cy="22.8" r="1.9" fill="#3aa882"/>
<circle cx="176.7" cy="24.3" r="1.9" fill="#3aa882"/>
<polyline points="72.2,120.6 78.7,119.6 85.3,121.6 91.8,119.6 98.3,120.6 104.9,119.6 111.4,120.6 117.9,119.6 124.4,119.6 131,116.6 137.5,118.6 144,114.5 150.6,116.6 157.1,115.5 163.6,119.6 170.2,117.6 176.7,118.6" fill="none" stroke="#5e5e5e" stroke-width="1.2" stroke-linejoin="round"/>
<line x1="72.2" y1="129.2" x2="72.2" y2="112" stroke="#5e5e5e" stroke-width="0.84" stroke-linecap="butt"/>
<line x1="70.8" y1="129.2" x2="73.6" y2="129.2" stroke="#5e5e5e" stroke-width="0.84" stroke-linecap="butt"/>
<line x1="70.8" y1="112" x2="73.6" y2="112" stroke="#5e5e5e" stroke-width="0.84" stroke-linecap="butt"/>
<line x1="78.7" y1="131.9" x2="78.7" y2="107.3" stroke="#5e5e5e" stroke-width="0.84" stroke-linecap="butt"/>
<line x1="77.3" y1="131.9" x2="80.2" y2="131.9" stroke="#5e5e5e" stroke-width="0.84" stroke-linecap="butt"/>
<line x1="77.3" y1="107.3" x2="80.2" y2="107.3" stroke="#5e5e5e" stroke-width="0.84" stroke-linecap="butt"/>
<line x1="85.3" y1="129.3" x2="85.3" y2="113.9" stroke="#5e5e5e" stroke-width="0.84" stroke-linecap="butt"/>
<line x1="83.8" y1="129.3" x2="86.7" y2="129.3" stroke="#5e5e5e" stroke-width="0.84" stroke-linecap="butt"/>
<line x1="83.8" y1="113.9" x2="86.7" y2="113.9" stroke="#5e5e5e" stroke-width="0.84" stroke-linecap="butt"/>
<line x1="91.8" y1="130" x2="91.8" y2="109.1" stroke="#5e5e5e" stroke-width="0.84" stroke-linecap="butt"/>
<line x1="90.4" y1="130" x2="93.2" y2="130" stroke="#5e5e5e" stroke-width="0.84" stroke-linecap="butt"/>
<line x1="90.4" y1="109.1" x2="93.2" y2="109.1" stroke="#5e5e5e" stroke-width="0.84" stroke-linecap="butt"/>
<line x1="98.3" y1="127.3" x2="98.3" y2="113.9" stroke="#5e5e5e" stroke-width="0.84" stroke-linecap="butt"/>
<line x1="96.9" y1="127.3" x2="99.7" y2="127.3" stroke="#5e5e5e" stroke-width="0.84" stroke-linecap="butt"/>
<line x1="96.9" y1="113.9" x2="99.7" y2="113.9" stroke="#5e5e5e" stroke-width="0.84" stroke-linecap="butt"/>
<line x1="104.9" y1="128.1" x2="104.9" y2="111" stroke="#5e5e5e" stroke-width="0.84" stroke-linecap="butt"/>
<line x1="103.4" y1="128.1" x2="106.3" y2="128.1" stroke="#5e5e5e" stroke-width="0.84" stroke-linecap="butt"/>
<line x1="103.4" y1="111" x2="106.3" y2="111" stroke="#5e5e5e" stroke-width="0.84" stroke-linecap="butt"/>
<line x1="111.4" y1="132.2" x2="111.4" y2="109" stroke="#5e5e5e" stroke-width="0.84" stroke-linecap="butt"/>
<line x1="110" y1="132.2" x2="112.8" y2="132.2" stroke="#5e5e5e" stroke-width="0.84" stroke-linecap="butt"/>
<line x1="110" y1="109" x2="112.8" y2="109" stroke="#5e5e5e" stroke-width="0.84" stroke-linecap="butt"/>
<line x1="117.9" y1="132" x2="117.9" y2="107.1" stroke="#5e5e5e" stroke-width="0.84" stroke-linecap="butt"/>
<line x1="116.5" y1="132" x2="119.3" y2="132" stroke="#5e5e5e" stroke-width="0.84" stroke-linecap="butt"/>
<line x1="116.5" y1="107.1" x2="119.3" y2="107.1" stroke="#5e5e5e" stroke-width="0.84" stroke-linecap="butt"/>
<line x1="124.4" y1="131.8" x2="124.4" y2="107.4" stroke="#5e5e5e" stroke-width="0.84" stroke-linecap="butt"/>
<line x1="123" y1="131.8" x2="125.9" y2="131.8" stroke="#5e5e5e" stroke-width="0.84" stroke-linecap="butt"/>
<line x1="123" y1="107.4" x2="125.9" y2="107.4" stroke="#5e5e5e" stroke-width="0.84" stroke-linecap="butt"/>
<line x1="131" y1="124.7" x2="131" y2="108.4" stroke="#5e5e5e" stroke-width="0.84" stroke-linecap="butt"/>
<line x1="129.5" y1="124.7" x2="132.4" y2="124.7" stroke="#5e5e5e" stroke-width="0.84" stroke-linecap="butt"/>
<line x1="129.5" y1="108.4" x2="132.4" y2="108.4" stroke="#5e5e5e" stroke-width="0.84" stroke-linecap="butt"/>
<line x1="137.5" y1="128.4" x2="137.5" y2="108.8" stroke="#5e5e5e" stroke-width="0.84" stroke-linecap="butt"/>
<line x1="136.1" y1="128.4" x2="138.9" y2="128.4" stroke="#5e5e5e" stroke-width="0.84" stroke-linecap="butt"/>
<line x1="136.1" y1="108.8" x2="138.9" y2="108.8" stroke="#5e5e5e" stroke-width="0.84" stroke-linecap="butt"/>
<line x1="144" y1="122.2" x2="144" y2="106.9" stroke="#5e5e5e" stroke-width="0.84" stroke-linecap="butt"/>
<line x1="142.6" y1="122.2" x2="145.5" y2="122.2" stroke="#5e5e5e" stroke-width="0.84" stroke-linecap="butt"/>
<line x1="142.6" y1="106.9" x2="145.5" y2="106.9" stroke="#5e5e5e" stroke-width="0.84" stroke-linecap="butt"/>
<line x1="150.6" y1="122.7" x2="150.6" y2="110.4" stroke="#5e5e5e" stroke-width="0.84" stroke-linecap="butt"/>
<line x1="149.1" y1="122.7" x2="152" y2="122.7" stroke="#5e5e5e" stroke-width="0.84" stroke-linecap="butt"/>
<line x1="149.1" y1="110.4" x2="152" y2="110.4" stroke="#5e5e5e" stroke-width="0.84" stroke-linecap="butt"/>
<line x1="157.1" y1="124.6" x2="157.1" y2="106.5" stroke="#5e5e5e" stroke-width="0.84" stroke-linecap="butt"/>
<line x1="155.7" y1="124.6" x2="158.5" y2="124.6" stroke="#5e5e5e" stroke-width="0.84" stroke-linecap="butt"/>
<line x1="155.7" y1="106.5" x2="158.5" y2="106.5" stroke="#5e5e5e" stroke-width="0.84" stroke-linecap="butt"/>
<line x1="163.6" y1="131.4" x2="163.6" y2="107.8" stroke="#5e5e5e" stroke-width="0.84" stroke-linecap="butt"/>
<line x1="162.2" y1="131.4" x2="165.1" y2="131.4" stroke="#5e5e5e" stroke-width="0.84" stroke-linecap="butt"/>
<line x1="162.2" y1="107.8" x2="165.1" y2="107.8" stroke="#5e5e5e" stroke-width="0.84" stroke-linecap="butt"/>
<line x1="170.2" y1="129.5" x2="170.2" y2="105.6" stroke="#5e5e5e" stroke-width="0.84" stroke-linecap="butt"/>
<line x1="168.7" y1="129.5" x2="171.6" y2="129.5" stroke="#5e5e5e" stroke-width="0.84" stroke-linecap="butt"/>
<line x1="168.7" y1="105.6" x2="171.6" y2="105.6" stroke="#5e5e5e" stroke-width="0.84" stroke-linecap="butt"/>
<line x1="176.7" y1="129.4" x2="176.7" y2="107.8" stroke="#5e5e5e" stroke-width="0.84" stroke-linecap="butt"/>
<line x1="175.3" y1="129.4" x2="178.1" y2="129.4" stroke="#5e5e5e" stroke-width="0.84" stroke-linecap="butt"/>
<line x1="175.3" y1="107.8" x2="178.1" y2="107.8" stroke="#5e5e5e" stroke-width="0.84" stroke-linecap="butt"/>
<path d="M72.2 123.2L74.8 118.5L69.5 118.5Z" fill="#5e5e5e"/>
<path d="M78.7 122.2L81.4 117.5L76.1 117.5Z" fill="#5e5e5e"/>
<path d="M85.3 124.3L87.9 119.5L82.6 119.5Z" fill="#5e5e5e"/>
<path d="M91.8 122.2L94.4 117.5L89.1 117.5Z" fill="#5e5e5e"/>
<path d="M98.3 123.2L101 118.5L95.7 118.5Z" fill="#5e5e5e"/>
<path d="M104.9 122.2L107.5 117.5L102.2 117.5Z" fill="#5e5e5e"/>
<path d="M111.4 123.2L114 118.5L108.7 118.5Z" fill="#5e5e5e"/>
<path d="M117.9 122.2L120.6 117.5L115.3 117.5Z" fill="#5e5e5e"/>
<path d="M124.4 122.2L127.1 117.5L121.8 117.5Z" fill="#5e5e5e"/>
<path d="M131 119.2L133.6 114.4L128.3 114.4Z" fill="#5e5e5e"/>
<path d="M137.5 121.2L140.2 116.5L134.9 116.5Z" fill="#5e5e5e"/>
<path d="M144 117.2L146.7 112.4L141.4 112.4Z" fill="#5e5e5e"/>
<path d="M150.6 119.2L153.2 114.4L147.9 114.4Z" fill="#5e5e5e"/>
<path d="M157.1 118.2L159.7 113.4L154.5 113.4Z" fill="#5e5e5e"/>
<path d="M163.6 122.2L166.3 117.5L161 117.5Z" fill="#5e5e5e"/>
<path d="M170.2 120.2L172.8 115.5L167.5 115.5Z" fill="#5e5e5e"/>
<path d="M176.7 121.2L179.3 116.5L174.1 116.5Z" fill="#5e5e5e"/>
<polyline points="72.2,118.6 78.7,119.6 85.3,120.6 91.8,118.6 98.3,119.6 104.9,120.6 111.4,119.6 117.9,118.6 124.4,116.6 131,112.5 137.5,109.5 144,106.4 150.6,107.5 157.1,108.5 163.6,110.5 170.2,108.5 176.7,108.5" fill="none" stroke="#5e5e5e" stroke-width="1.2" stroke-linejoin="round"/>
<line x1="72.2" y1="130.3" x2="72.2" y2="106.8" stroke="#5e5e5e" stroke-width="0.84" stroke-linecap="butt"/>
<line x1="70.8" y1="130.3" x2="73.6" y2="130.3" stroke="#5e5e5e" stroke-width="0.84" stroke-linecap="butt"/>
<line x1="70.8" y1="106.8" x2="73.6" y2="106.8" stroke="#5e5e5e" stroke-width="0.84" stroke-linecap="butt"/>
<line x1="78.7" y1="125.9" x2="78.7" y2="113.3" stroke="#5e5e5e" stroke-width="0.84" stroke-linecap="butt"/>
<line x1="77.3" y1="125.9" x2="80.2" y2="125.9" stroke="#5e5e5e" stroke-width="0.84" stroke-linecap="butt"/>
<line x1="77.3" y1="113.3" x2="80.2" y2="113.3" stroke="#5e5e5e" stroke-width="0.84" stroke-linecap="butt"/>
<line x1="85.3" y1="126" x2="85.3" y2="115.2" stroke="#5e5e5e" stroke-width="0.84" stroke-linecap="butt"/>
<line x1="83.8" y1="126" x2="86.7" y2="126" stroke="#5e5e5e" stroke-width="0.84" stroke-linecap="butt"/>
<line x1="83.8" y1="115.2" x2="86.7" y2="115.2" stroke="#5e5e5e" stroke-width="0.84" stroke-linecap="butt"/>
<line x1="91.8" y1="126.3" x2="91.8" y2="110.9" stroke="#5e5e5e" stroke-width="0.84" stroke-linecap="butt"/>
<line x1="90.4" y1="126.3" x2="93.2" y2="126.3" stroke="#5e5e5e" stroke-width="0.84" stroke-linecap="butt"/>
<line x1="90.4" y1="110.9" x2="93.2" y2="110.9" stroke="#5e5e5e" stroke-width="0.84" stroke-linecap="butt"/>
<line x1="98.3" y1="125.9" x2="98.3" y2="113.3" stroke="#5e5e5e" stroke-width="0.84" stroke-linecap="butt"/>
<line x1="96.9" y1="125.9" x2="99.7" y2="125.9" stroke="#5e5e5e" stroke-width="0.84" stroke-linecap="butt"/>
<line x1="96.9" y1="113.3" x2="99.7" y2="113.3" stroke="#5e5e5e" stroke-width="0.84" stroke-linecap="butt"/>
<line x1="104.9" y1="126.4" x2="104.9" y2="114.8" stroke="#5e5e5e" stroke-width="0.84" stroke-linecap="butt"/>
<line x1="103.4" y1="126.4" x2="106.3" y2="126.4" stroke="#5e5e5e" stroke-width="0.84" stroke-linecap="butt"/>
<line x1="103.4" y1="114.8" x2="106.3" y2="114.8" stroke="#5e5e5e" stroke-width="0.84" stroke-linecap="butt"/>
<line x1="111.4" y1="127" x2="111.4" y2="112.2" stroke="#5e5e5e" stroke-width="0.84" stroke-linecap="butt"/>
<line x1="110" y1="127" x2="112.8" y2="127" stroke="#5e5e5e" stroke-width="0.84" stroke-linecap="butt"/>
<line x1="110" y1="112.2" x2="112.8" y2="112.2" stroke="#5e5e5e" stroke-width="0.84" stroke-linecap="butt"/>
<line x1="117.9" y1="127.7" x2="117.9" y2="109.5" stroke="#5e5e5e" stroke-width="0.84" stroke-linecap="butt"/>
<line x1="116.5" y1="127.7" x2="119.3" y2="127.7" stroke="#5e5e5e" stroke-width="0.84" stroke-linecap="butt"/>
<line x1="116.5" y1="109.5" x2="119.3" y2="109.5" stroke="#5e5e5e" stroke-width="0.84" stroke-linecap="butt"/>
<line x1="124.4" y1="124.6" x2="124.4" y2="108.5" stroke="#5e5e5e" stroke-width="0.84" stroke-linecap="butt"/>
<line x1="123" y1="124.6" x2="125.9" y2="124.6" stroke="#5e5e5e" stroke-width="0.84" stroke-linecap="butt"/>
<line x1="123" y1="108.5" x2="125.9" y2="108.5" stroke="#5e5e5e" stroke-width="0.84" stroke-linecap="butt"/>
<line x1="131" y1="119.1" x2="131" y2="105.9" stroke="#5e5e5e" stroke-width="0.84" stroke-linecap="butt"/>
<line x1="129.5" y1="119.1" x2="132.4" y2="119.1" stroke="#5e5e5e" stroke-width="0.84" stroke-linecap="butt"/>
<line x1="129.5" y1="105.9" x2="132.4" y2="105.9" stroke="#5e5e5e" stroke-width="0.84" stroke-linecap="butt"/>
<line x1="137.5" y1="120.3" x2="137.5" y2="98.6" stroke="#5e5e5e" stroke-width="0.84" stroke-linecap="butt"/>
<line x1="136.1" y1="120.3" x2="138.9" y2="120.3" stroke="#5e5e5e" stroke-width="0.84" stroke-linecap="butt"/>
<line x1="136.1" y1="98.6" x2="138.9" y2="98.6" stroke="#5e5e5e" stroke-width="0.84" stroke-linecap="butt"/>
<line x1="144" y1="118.4" x2="144" y2="94.5" stroke="#5e5e5e" stroke-width="0.84" stroke-linecap="butt"/>
<line x1="142.6" y1="118.4" x2="145.5" y2="118.4" stroke="#5e5e5e" stroke-width="0.84" stroke-linecap="butt"/>
<line x1="142.6" y1="94.5" x2="145.5" y2="94.5" stroke="#5e5e5e" stroke-width="0.84" stroke-linecap="butt"/>
<line x1="150.6" y1="115.2" x2="150.6" y2="99.7" stroke="#5e5e5e" stroke-width="0.84" stroke-linecap="butt"/>
<line x1="149.1" y1="115.2" x2="152" y2="115.2" stroke="#5e5e5e" stroke-width="0.84" stroke-linecap="butt"/>
<line x1="149.1" y1="99.7" x2="152" y2="99.7" stroke="#5e5e5e" stroke-width="0.84" stroke-linecap="butt"/>
<line x1="157.1" y1="113.1" x2="157.1" y2="103.8" stroke="#5e5e5e" stroke-width="0.84" stroke-linecap="butt"/>
<line x1="155.7" y1="113.1" x2="158.5" y2="113.1" stroke="#5e5e5e" stroke-width="0.84" stroke-linecap="butt"/>
<line x1="155.7" y1="103.8" x2="158.5" y2="103.8" stroke="#5e5e5e" stroke-width="0.84" stroke-linecap="butt"/>
<line x1="163.6" y1="114.8" x2="163.6" y2="106.2" stroke="#5e5e5e" stroke-width="0.84" stroke-linecap="butt"/>
<line x1="162.2" y1="114.8" x2="165.1" y2="114.8" stroke="#5e5e5e" stroke-width="0.84" stroke-linecap="butt"/>
<line x1="162.2" y1="106.2" x2="165.1" y2="106.2" stroke="#5e5e5e" stroke-width="0.84" stroke-linecap="butt"/>
<line x1="170.2" y1="119.6" x2="170.2" y2="97.4" stroke="#5e5e5e" stroke-width="0.84" stroke-linecap="butt"/>
<line x1="168.7" y1="119.6" x2="171.6" y2="119.6" stroke="#5e5e5e" stroke-width="0.84" stroke-linecap="butt"/>
<line x1="168.7" y1="97.4" x2="171.6" y2="97.4" stroke="#5e5e5e" stroke-width="0.84" stroke-linecap="butt"/>
<line x1="176.7" y1="112.8" x2="176.7" y2="104.1" stroke="#5e5e5e" stroke-width="0.84" stroke-linecap="butt"/>
<line x1="175.3" y1="112.8" x2="178.1" y2="112.8" stroke="#5e5e5e" stroke-width="0.84" stroke-linecap="butt"/>
<line x1="175.3" y1="104.1" x2="178.1" y2="104.1" stroke="#5e5e5e" stroke-width="0.84" stroke-linecap="butt"/>
<circle cx="72.2" cy="118.6" r="2.2" fill="#5e5e5e"/>
<circle cx="78.7" cy="119.6" r="2.2" fill="#5e5e5e"/>
<circle cx="85.3" cy="120.6" r="2.2" fill="#5e5e5e"/>
<circle cx="91.8" cy="118.6" r="2.2" fill="#5e5e5e"/>
<circle cx="98.3" cy="119.6" r="2.2" fill="#5e5e5e"/>
<circle cx="104.9" cy="120.6" r="2.2" fill="#5e5e5e"/>
<circle cx="111.4" cy="119.6" r="2.2" fill="#5e5e5e"/>
<circle cx="117.9" cy="118.6" r="2.2" fill="#5e5e5e"/>
<circle cx="124.4" cy="116.6" r="2.2" fill="#5e5e5e"/>
<circle cx="131" cy="112.5" r="2.2" fill="#5e5e5e"/>
<circle cx="137.5" cy="109.5" r="2.2" fill="#5e5e5e"/>
<circle cx="144" cy="106.4" r="2.2" fill="#5e5e5e"/>
<circle cx="150.6" cy="107.5" r="2.2" fill="#5e5e5e"/>
<circle cx="157.1" cy="108.5" r="2.2" fill="#5e5e5e"/>
<circle cx="163.6" cy="110.5" r="2.2" fill="#5e5e5e"/>
<circle cx="170.2" cy="108.5" r="2.2" fill="#5e5e5e"/>
<circle cx="176.7" cy="108.5" r="2.2" fill="#5e5e5e"/>
<polyline points="72.2,119.6 78.7,120.6 85.3,118.6 91.8,121.6 98.3,119.6 104.9,120.6 111.4,118.6 117.9,114.5 124.4,100.4 131,101.4 137.5,95.3 144,86.2 150.6,86.2 157.1,87.2 163.6,94.3 170.2,81.2 176.7,93.3" fill="none" stroke="#5e5e5e" stroke-width="1.2" stroke-linejoin="round"/>
<line x1="72.2" y1="127.3" x2="72.2" y2="111.8" stroke="#5e5e5e" stroke-width="0.84" stroke-linecap="butt"/>
<line x1="70.8" y1="127.3" x2="73.6" y2="127.3" stroke="#5e5e5e" stroke-width="0.84" stroke-linecap="butt"/>
<line x1="70.8" y1="111.8" x2="73.6" y2="111.8" stroke="#5e5e5e" stroke-width="0.84" stroke-linecap="butt"/>
<line x1="78.7" y1="127.2" x2="78.7" y2="114" stroke="#5e5e5e" stroke-width="0.84" stroke-linecap="butt"/>
<line x1="77.3" y1="127.2" x2="80.2" y2="127.2" stroke="#5e5e5e" stroke-width="0.84" stroke-linecap="butt"/>
<line x1="77.3" y1="114" x2="80.2" y2="114" stroke="#5e5e5e" stroke-width="0.84" stroke-linecap="butt"/>
<line x1="85.3" y1="123.1" x2="85.3" y2="114.1" stroke="#5e5e5e" stroke-width="0.84" stroke-linecap="butt"/>
<line x1="83.8" y1="123.1" x2="86.7" y2="123.1" stroke="#5e5e5e" stroke-width="0.84" stroke-linecap="butt"/>
<line x1="83.8" y1="114.1" x2="86.7" y2="114.1" stroke="#5e5e5e" stroke-width="0.84" stroke-linecap="butt"/>
<line x1="91.8" y1="130" x2="91.8" y2="113.2" stroke="#5e5e5e" stroke-width="0.84" stroke-linecap="butt"/>
<line x1="90.4" y1="130" x2="93.2" y2="130" stroke="#5e5e5e" stroke-width="0.84" stroke-linecap="butt"/>
<line x1="90.4" y1="113.2" x2="93.2" y2="113.2" stroke="#5e5e5e" stroke-width="0.84" stroke-linecap="butt"/>
<line x1="98.3" y1="121.8" x2="98.3" y2="117.4" stroke="#5e5e5e" stroke-width="0.84" stroke-linecap="butt"/>
<line x1="96.9" y1="121.8" x2="99.7" y2="121.8" stroke="#5e5e5e" stroke-width="0.84" stroke-linecap="butt"/>
<line x1="96.9" y1="117.4" x2="99.7" y2="117.4" stroke="#5e5e5e" stroke-width="0.84" stroke-linecap="butt"/>
<line x1="104.9" y1="123.7" x2="104.9" y2="117.5" stroke="#5e5e5e" stroke-width="0.84" stroke-linecap="butt"/>
<line x1="103.4" y1="123.7" x2="106.3" y2="123.7" stroke="#5e5e5e" stroke-width="0.84" stroke-linecap="butt"/>
<line x1="103.4" y1="117.5" x2="106.3" y2="117.5" stroke="#5e5e5e" stroke-width="0.84" stroke-linecap="butt"/>
<line x1="111.4" y1="124.3" x2="111.4" y2="112.9" stroke="#5e5e5e" stroke-width="0.84" stroke-linecap="butt"/>
<line x1="110" y1="124.3" x2="112.8" y2="124.3" stroke="#5e5e5e" stroke-width="0.84" stroke-linecap="butt"/>
<line x1="110" y1="112.9" x2="112.8" y2="112.9" stroke="#5e5e5e" stroke-width="0.84" stroke-linecap="butt"/>
<line x1="117.9" y1="116.8" x2="117.9" y2="112.3" stroke="#5e5e5e" stroke-width="0.84" stroke-linecap="butt"/>
<line x1="116.5" y1="116.8" x2="119.3" y2="116.8" stroke="#5e5e5e" stroke-width="0.84" stroke-linecap="butt"/>
<line x1="116.5" y1="112.3" x2="119.3" y2="112.3" stroke="#5e5e5e" stroke-width="0.84" stroke-linecap="butt"/>
<line x1="124.4" y1="109.1" x2="124.4" y2="91.6" stroke="#5e5e5e" stroke-width="0.84" stroke-linecap="butt"/>
<line x1="123" y1="109.1" x2="125.9" y2="109.1" stroke="#5e5e5e" stroke-width="0.84" stroke-linecap="butt"/>
<line x1="123" y1="91.6" x2="125.9" y2="91.6" stroke="#5e5e5e" stroke-width="0.84" stroke-linecap="butt"/>
<line x1="131" y1="105.3" x2="131" y2="97.4" stroke="#5e5e5e" stroke-width="0.84" stroke-linecap="butt"/>
<line x1="129.5" y1="105.3" x2="132.4" y2="105.3" stroke="#5e5e5e" stroke-width="0.84" stroke-linecap="butt"/>
<line x1="129.5" y1="97.4" x2="132.4" y2="97.4" stroke="#5e5e5e" stroke-width="0.84" stroke-linecap="butt"/>
<line x1="137.5" y1="98.5" x2="137.5" y2="92.2" stroke="#5e5e5e" stroke-width="0.84" stroke-linecap="butt"/>
<line x1="136.1" y1="98.5" x2="138.9" y2="98.5" stroke="#5e5e5e" stroke-width="0.84" stroke-linecap="butt"/>
<line x1="136.1" y1="92.2" x2="138.9" y2="92.2" stroke="#5e5e5e" stroke-width="0.84" stroke-linecap="butt"/>
<line x1="144" y1="88.6" x2="144" y2="83.8" stroke="#5e5e5e" stroke-width="0.84" stroke-linecap="butt"/>
<line x1="142.6" y1="88.6" x2="145.5" y2="88.6" stroke="#5e5e5e" stroke-width="0.84" stroke-linecap="butt"/>
<line x1="142.6" y1="83.8" x2="145.5" y2="83.8" stroke="#5e5e5e" stroke-width="0.84" stroke-linecap="butt"/>
<line x1="150.6" y1="93.3" x2="150.6" y2="79.1" stroke="#5e5e5e" stroke-width="0.84" stroke-linecap="butt"/>
<line x1="149.1" y1="93.3" x2="152" y2="93.3" stroke="#5e5e5e" stroke-width="0.84" stroke-linecap="butt"/>
<line x1="149.1" y1="79.1" x2="152" y2="79.1" stroke="#5e5e5e" stroke-width="0.84" stroke-linecap="butt"/>
<line x1="157.1" y1="92.9" x2="157.1" y2="81.6" stroke="#5e5e5e" stroke-width="0.84" stroke-linecap="butt"/>
<line x1="155.7" y1="92.9" x2="158.5" y2="92.9" stroke="#5e5e5e" stroke-width="0.84" stroke-linecap="butt"/>
<line x1="155.7" y1="81.6" x2="158.5" y2="81.6" stroke="#5e5e5e" stroke-width="0.84" stroke-linecap="butt"/>
<line x1="163.6" y1="101.4" x2="163.6" y2="87.2" stroke="#5e5e5e" stroke-width="0.84" stroke-linecap="butt"/>
<line x1="162.2" y1="101.4" x2="165.1" y2="101.4" stroke="#5e5e5e" stroke-width="0.84" stroke-linecap="butt"/>
<line x1="162.2" y1="87.2" x2="165.1" y2="87.2" stroke="#5e5e5e" stroke-width="0.84" stroke-linecap="butt"/>
<line x1="170.2" y1="88.5" x2="170.2" y2="73.8" stroke="#5e5e5e" stroke-width="0.84" stroke-linecap="butt"/>
<line x1="168.7" y1="88.5" x2="171.6" y2="88.5" stroke="#5e5e5e" stroke-width="0.84" stroke-linecap="butt"/>
<line x1="168.7" y1="73.8" x2="171.6" y2="73.8" stroke="#5e5e5e" stroke-width="0.84" stroke-linecap="butt"/>
<line x1="176.7" y1="101.8" x2="176.7" y2="84.7" stroke="#5e5e5e" stroke-width="0.84" stroke-linecap="butt"/>
<line x1="175.3" y1="101.8" x2="178.1" y2="101.8" stroke="#5e5e5e" stroke-width="0.84" stroke-linecap="butt"/>
<line x1="175.3" y1="84.7" x2="178.1" y2="84.7" stroke="#5e5e5e" stroke-width="0.84" stroke-linecap="butt"/>
<rect x="70" y="117.4" width="4.4" height="4.4" fill="#5e5e5e"/>
<rect x="76.5" y="118.4" width="4.4" height="4.4" fill="#5e5e5e"/>
<rect x="83.1" y="116.4" width="4.4" height="4.4" fill="#5e5e5e"/>
<rect x="89.6" y="119.4" width="4.4" height="4.4" fill="#5e5e5e"/>
<rect x="96.1" y="117.4" width="4.4" height="4.4" fill="#5e5e5e"/>
<rect x="102.7" y="118.4" width="4.4" height="4.4" fill="#5e5e5e"/>
<rect x="109.2" y="116.4" width="4.4" height="4.4" fill="#5e5e5e"/>
<rect x="115.7" y="112.4" width="4.4" height="4.4" fill="#5e5e5e"/>
<rect x="122.3" y="98.2" width="4.4" height="4.4" fill="#5e5e5e"/>
<rect x="128.8" y="99.2" width="4.4" height="4.4" fill="#5e5e5e"/>
<rect x="135.3" y="93.1" width="4.4" height="4.4" fill="#5e5e5e"/>
<rect x="141.9" y="84" width="4.4" height="4.4" fill="#5e5e5e"/>
<rect x="148.4" y="84" width="4.4" height="4.4" fill="#5e5e5e"/>
<rect x="154.9" y="85" width="4.4" height="4.4" fill="#5e5e5e"/>
<rect x="161.5" y="92.1" width="4.4" height="4.4" fill="#5e5e5e"/>
<rect x="168" y="79" width="4.4" height="4.4" fill="#5e5e5e"/>
<rect x="174.5" y="91.1" width="4.4" height="4.4" fill="#5e5e5e"/>
<line x1="254.5" y1="125.9" x2="409.8" y2="125.9" stroke="#777" stroke-width="0.8" stroke-dasharray="0.9 1.8" stroke-linecap="butt"/>
<polyline points="283,120.8 289.6,119.8 296.1,121.8 302.7,119.8 309.3,120.8 315.8,119.8 322.4,120.8 328.9,119.2 335.5,117.8 342.1,121.3 348.6,116.7 355.2,119.5 361.8,121.3 368.3,119.2 374.9,122.4 381.4,122.4 388,124.5" fill="none" stroke="#5e5e5e" stroke-width="1.2" stroke-linejoin="round"/>
<line x1="283" y1="133.7" x2="283" y2="107.9" stroke="#5e5e5e" stroke-width="0.84" stroke-linecap="butt"/>
<line x1="281.6" y1="133.7" x2="284.4" y2="133.7" stroke="#5e5e5e" stroke-width="0.84" stroke-linecap="butt"/>
<line x1="281.6" y1="107.9" x2="284.4" y2="107.9" stroke="#5e5e5e" stroke-width="0.84" stroke-linecap="butt"/>
<line x1="289.6" y1="130.5" x2="289.6" y2="109.1" stroke="#5e5e5e" stroke-width="0.84" stroke-linecap="butt"/>
<line x1="288.1" y1="130.5" x2="291" y2="130.5" stroke="#5e5e5e" stroke-width="0.84" stroke-linecap="butt"/>
<line x1="288.1" y1="109.1" x2="291" y2="109.1" stroke="#5e5e5e" stroke-width="0.84" stroke-linecap="butt"/>
<line x1="296.1" y1="128.5" x2="296.1" y2="115.1" stroke="#5e5e5e" stroke-width="0.84" stroke-linecap="butt"/>
<line x1="294.7" y1="128.5" x2="297.6" y2="128.5" stroke="#5e5e5e" stroke-width="0.84" stroke-linecap="butt"/>
<line x1="294.7" y1="115.1" x2="297.6" y2="115.1" stroke="#5e5e5e" stroke-width="0.84" stroke-linecap="butt"/>
<line x1="302.7" y1="128.8" x2="302.7" y2="110.8" stroke="#5e5e5e" stroke-width="0.84" stroke-linecap="butt"/>
<line x1="301.3" y1="128.8" x2="304.1" y2="128.8" stroke="#5e5e5e" stroke-width="0.84" stroke-linecap="butt"/>
<line x1="301.3" y1="110.8" x2="304.1" y2="110.8" stroke="#5e5e5e" stroke-width="0.84" stroke-linecap="butt"/>
<line x1="309.3" y1="127.4" x2="309.3" y2="114.3" stroke="#5e5e5e" stroke-width="0.84" stroke-linecap="butt"/>
<line x1="307.8" y1="127.4" x2="310.7" y2="127.4" stroke="#5e5e5e" stroke-width="0.84" stroke-linecap="butt"/>
<line x1="307.8" y1="114.3" x2="310.7" y2="114.3" stroke="#5e5e5e" stroke-width="0.84" stroke-linecap="butt"/>
<line x1="315.8" y1="125" x2="315.8" y2="114.6" stroke="#5e5e5e" stroke-width="0.84" stroke-linecap="butt"/>
<line x1="314.4" y1="125" x2="317.3" y2="125" stroke="#5e5e5e" stroke-width="0.84" stroke-linecap="butt"/>
<line x1="314.4" y1="114.6" x2="317.3" y2="114.6" stroke="#5e5e5e" stroke-width="0.84" stroke-linecap="butt"/>
<line x1="322.4" y1="129.7" x2="322.4" y2="111.9" stroke="#5e5e5e" stroke-width="0.84" stroke-linecap="butt"/>
<line x1="321" y1="129.7" x2="323.8" y2="129.7" stroke="#5e5e5e" stroke-width="0.84" stroke-linecap="butt"/>
<line x1="321" y1="111.9" x2="323.8" y2="111.9" stroke="#5e5e5e" stroke-width="0.84" stroke-linecap="butt"/>
<line x1="328.9" y1="130.1" x2="328.9" y2="108.3" stroke="#5e5e5e" stroke-width="0.84" stroke-linecap="butt"/>
<line x1="327.5" y1="130.1" x2="330.4" y2="130.1" stroke="#5e5e5e" stroke-width="0.84" stroke-linecap="butt"/>
<line x1="327.5" y1="108.3" x2="330.4" y2="108.3" stroke="#5e5e5e" stroke-width="0.84" stroke-linecap="butt"/>
<line x1="335.5" y1="124.3" x2="335.5" y2="111.2" stroke="#5e5e5e" stroke-width="0.84" stroke-linecap="butt"/>
<line x1="334.1" y1="124.3" x2="336.9" y2="124.3" stroke="#5e5e5e" stroke-width="0.84" stroke-linecap="butt"/>
<line x1="334.1" y1="111.2" x2="336.9" y2="111.2" stroke="#5e5e5e" stroke-width="0.84" stroke-linecap="butt"/>
<line x1="342.1" y1="128.6" x2="342.1" y2="114" stroke="#5e5e5e" stroke-width="0.84" stroke-linecap="butt"/>
<line x1="340.6" y1="128.6" x2="343.5" y2="128.6" stroke="#5e5e5e" stroke-width="0.84" stroke-linecap="butt"/>
<line x1="340.6" y1="114" x2="343.5" y2="114" stroke="#5e5e5e" stroke-width="0.84" stroke-linecap="butt"/>
<line x1="348.6" y1="124.6" x2="348.6" y2="108.8" stroke="#5e5e5e" stroke-width="0.84" stroke-linecap="butt"/>
<line x1="347.2" y1="124.6" x2="350.1" y2="124.6" stroke="#5e5e5e" stroke-width="0.84" stroke-linecap="butt"/>
<line x1="347.2" y1="108.8" x2="350.1" y2="108.8" stroke="#5e5e5e" stroke-width="0.84" stroke-linecap="butt"/>
<line x1="355.2" y1="130.3" x2="355.2" y2="108.7" stroke="#5e5e5e" stroke-width="0.84" stroke-linecap="butt"/>
<line x1="353.8" y1="130.3" x2="356.6" y2="130.3" stroke="#5e5e5e" stroke-width="0.84" stroke-linecap="butt"/>
<line x1="353.8" y1="108.7" x2="356.6" y2="108.7" stroke="#5e5e5e" stroke-width="0.84" stroke-linecap="butt"/>
<line x1="361.8" y1="130.6" x2="361.8" y2="112" stroke="#5e5e5e" stroke-width="0.84" stroke-linecap="butt"/>
<line x1="360.3" y1="130.6" x2="363.2" y2="130.6" stroke="#5e5e5e" stroke-width="0.84" stroke-linecap="butt"/>
<line x1="360.3" y1="112" x2="363.2" y2="112" stroke="#5e5e5e" stroke-width="0.84" stroke-linecap="butt"/>
<line x1="368.3" y1="129.3" x2="368.3" y2="109.1" stroke="#5e5e5e" stroke-width="0.84" stroke-linecap="butt"/>
<line x1="366.9" y1="129.3" x2="369.7" y2="129.3" stroke="#5e5e5e" stroke-width="0.84" stroke-linecap="butt"/>
<line x1="366.9" y1="109.1" x2="369.7" y2="109.1" stroke="#5e5e5e" stroke-width="0.84" stroke-linecap="butt"/>
<line x1="374.9" y1="133.7" x2="374.9" y2="111.2" stroke="#5e5e5e" stroke-width="0.84" stroke-linecap="butt"/>
<line x1="373.4" y1="133.7" x2="376.3" y2="133.7" stroke="#5e5e5e" stroke-width="0.84" stroke-linecap="butt"/>
<line x1="373.4" y1="111.2" x2="376.3" y2="111.2" stroke="#5e5e5e" stroke-width="0.84" stroke-linecap="butt"/>
<line x1="381.4" y1="130.7" x2="381.4" y2="114.1" stroke="#5e5e5e" stroke-width="0.84" stroke-linecap="butt"/>
<line x1="380" y1="130.7" x2="382.9" y2="130.7" stroke="#5e5e5e" stroke-width="0.84" stroke-linecap="butt"/>
<line x1="380" y1="114.1" x2="382.9" y2="114.1" stroke="#5e5e5e" stroke-width="0.84" stroke-linecap="butt"/>
<line x1="388" y1="136" x2="388" y2="112.9" stroke="#5e5e5e" stroke-width="0.84" stroke-linecap="butt"/>
<line x1="386.6" y1="136" x2="389.4" y2="136" stroke="#5e5e5e" stroke-width="0.84" stroke-linecap="butt"/>
<line x1="386.6" y1="112.9" x2="389.4" y2="112.9" stroke="#5e5e5e" stroke-width="0.84" stroke-linecap="butt"/>
<path d="M283 123.1L285.3 119L280.8 119Z" fill="#5e5e5e"/>
<path d="M289.6 122L291.8 118L287.3 118Z" fill="#5e5e5e"/>
<path d="M296.1 124.1L298.4 120L293.9 120Z" fill="#5e5e5e"/>
<path d="M302.7 122L304.9 118L300.4 118Z" fill="#5e5e5e"/>
<path d="M309.3 123.1L311.5 119L307 119Z" fill="#5e5e5e"/>
<path d="M315.8 122L318.1 118L313.6 118Z" fill="#5e5e5e"/>
<path d="M322.4 123.1L324.6 119L320.1 119Z" fill="#5e5e5e"/>
<path d="M328.9 121.4L331.2 117.4L326.7 117.4Z" fill="#5e5e5e"/>
<path d="M335.5 120L337.8 116L333.3 116Z" fill="#5e5e5e"/>
<path d="M342.1 123.6L344.3 119.5L339.8 119.5Z" fill="#5e5e5e"/>
<path d="M348.6 119L350.9 114.9L346.4 114.9Z" fill="#5e5e5e"/>
<path d="M355.2 121.7L357.4 117.7L352.9 117.7Z" fill="#5e5e5e"/>
<path d="M361.8 123.6L364 119.5L359.5 119.5Z" fill="#5e5e5e"/>
<path d="M368.3 121.4L370.6 117.4L366.1 117.4Z" fill="#5e5e5e"/>
<path d="M374.9 124.7L377.1 120.6L372.6 120.6Z" fill="#5e5e5e"/>
<path d="M381.4 124.7L383.7 120.6L379.2 120.6Z" fill="#5e5e5e"/>
<path d="M388 126.7L390.2 122.7L385.8 122.7Z" fill="#5e5e5e"/>
<polyline points="283,118.8 289.6,119.8 296.1,117.8 302.7,120.8 309.3,119.8 315.8,118.8 322.4,119.2 328.9,118.2 335.5,114 342.1,109.7 348.6,109.3 355.2,108.2 361.8,108.2 368.3,107 374.9,104.4 381.4,108.2 388,108.2" fill="none" stroke="#5e5e5e" stroke-width="1.2" stroke-linejoin="round"/>
<line x1="283" y1="130.2" x2="283" y2="107.3" stroke="#5e5e5e" stroke-width="0.84" stroke-linecap="butt"/>
<line x1="281.6" y1="130.2" x2="284.4" y2="130.2" stroke="#5e5e5e" stroke-width="0.84" stroke-linecap="butt"/>
<line x1="281.6" y1="107.3" x2="284.4" y2="107.3" stroke="#5e5e5e" stroke-width="0.84" stroke-linecap="butt"/>
<line x1="289.6" y1="124.6" x2="289.6" y2="115" stroke="#5e5e5e" stroke-width="0.84" stroke-linecap="butt"/>
<line x1="288.1" y1="124.6" x2="291" y2="124.6" stroke="#5e5e5e" stroke-width="0.84" stroke-linecap="butt"/>
<line x1="288.1" y1="115" x2="291" y2="115" stroke="#5e5e5e" stroke-width="0.84" stroke-linecap="butt"/>
<line x1="296.1" y1="129.4" x2="296.1" y2="106.1" stroke="#5e5e5e" stroke-width="0.84" stroke-linecap="butt"/>
<line x1="294.7" y1="129.4" x2="297.6" y2="129.4" stroke="#5e5e5e" stroke-width="0.84" stroke-linecap="butt"/>
<line x1="294.7" y1="106.1" x2="297.6" y2="106.1" stroke="#5e5e5e" stroke-width="0.84" stroke-linecap="butt"/>
<line x1="302.7" y1="130.8" x2="302.7" y2="110.9" stroke="#5e5e5e" stroke-width="0.84" stroke-linecap="butt"/>
<line x1="301.3" y1="130.8" x2="304.1" y2="130.8" stroke="#5e5e5e" stroke-width="0.84" stroke-linecap="butt"/>
<line x1="301.3" y1="110.9" x2="304.1" y2="110.9" stroke="#5e5e5e" stroke-width="0.84" stroke-linecap="butt"/>
<line x1="309.3" y1="124.9" x2="309.3" y2="114.7" stroke="#5e5e5e" stroke-width="0.84" stroke-linecap="butt"/>
<line x1="307.8" y1="124.9" x2="310.7" y2="124.9" stroke="#5e5e5e" stroke-width="0.84" stroke-linecap="butt"/>
<line x1="307.8" y1="114.7" x2="310.7" y2="114.7" stroke="#5e5e5e" stroke-width="0.84" stroke-linecap="butt"/>
<line x1="315.8" y1="126.5" x2="315.8" y2="111" stroke="#5e5e5e" stroke-width="0.84" stroke-linecap="butt"/>
<line x1="314.4" y1="126.5" x2="317.3" y2="126.5" stroke="#5e5e5e" stroke-width="0.84" stroke-linecap="butt"/>
<line x1="314.4" y1="111" x2="317.3" y2="111" stroke="#5e5e5e" stroke-width="0.84" stroke-linecap="butt"/>
<line x1="322.4" y1="128.3" x2="322.4" y2="110" stroke="#5e5e5e" stroke-width="0.84" stroke-linecap="butt"/>
<line x1="321" y1="128.3" x2="323.8" y2="128.3" stroke="#5e5e5e" stroke-width="0.84" stroke-linecap="butt"/>
<line x1="321" y1="110" x2="323.8" y2="110" stroke="#5e5e5e" stroke-width="0.84" stroke-linecap="butt"/>
<line x1="328.9" y1="129.6" x2="328.9" y2="106.7" stroke="#5e5e5e" stroke-width="0.84" stroke-linecap="butt"/>
<line x1="327.5" y1="129.6" x2="330.4" y2="129.6" stroke="#5e5e5e" stroke-width="0.84" stroke-linecap="butt"/>
<line x1="327.5" y1="106.7" x2="330.4" y2="106.7" stroke="#5e5e5e" stroke-width="0.84" stroke-linecap="butt"/>
<line x1="335.5" y1="121.1" x2="335.5" y2="106.8" stroke="#5e5e5e" stroke-width="0.84" stroke-linecap="butt"/>
<line x1="334.1" y1="121.1" x2="336.9" y2="121.1" stroke="#5e5e5e" stroke-width="0.84" stroke-linecap="butt"/>
<line x1="334.1" y1="106.8" x2="336.9" y2="106.8" stroke="#5e5e5e" stroke-width="0.84" stroke-linecap="butt"/>
<line x1="342.1" y1="118.4" x2="342.1" y2="101" stroke="#5e5e5e" stroke-width="0.84" stroke-linecap="butt"/>
<line x1="340.6" y1="118.4" x2="343.5" y2="118.4" stroke="#5e5e5e" stroke-width="0.84" stroke-linecap="butt"/>
<line x1="340.6" y1="101" x2="343.5" y2="101" stroke="#5e5e5e" stroke-width="0.84" stroke-linecap="butt"/>
<line x1="348.6" y1="120.5" x2="348.6" y2="98.1" stroke="#5e5e5e" stroke-width="0.84" stroke-linecap="butt"/>
<line x1="347.2" y1="120.5" x2="350.1" y2="120.5" stroke="#5e5e5e" stroke-width="0.84" stroke-linecap="butt"/>
<line x1="347.2" y1="98.1" x2="350.1" y2="98.1" stroke="#5e5e5e" stroke-width="0.84" stroke-linecap="butt"/>
<line x1="355.2" y1="118.7" x2="355.2" y2="97.6" stroke="#5e5e5e" stroke-width="0.84" stroke-linecap="butt"/>
<line x1="353.8" y1="118.7" x2="356.6" y2="118.7" stroke="#5e5e5e" stroke-width="0.84" stroke-linecap="butt"/>
<line x1="353.8" y1="97.6" x2="356.6" y2="97.6" stroke="#5e5e5e" stroke-width="0.84" stroke-linecap="butt"/>
<line x1="361.8" y1="119.9" x2="361.8" y2="96.4" stroke="#5e5e5e" stroke-width="0.84" stroke-linecap="butt"/>
<line x1="360.3" y1="119.9" x2="363.2" y2="119.9" stroke="#5e5e5e" stroke-width="0.84" stroke-linecap="butt"/>
<line x1="360.3" y1="96.4" x2="363.2" y2="96.4" stroke="#5e5e5e" stroke-width="0.84" stroke-linecap="butt"/>
<line x1="368.3" y1="114.8" x2="368.3" y2="99.1" stroke="#5e5e5e" stroke-width="0.84" stroke-linecap="butt"/>
<line x1="366.9" y1="114.8" x2="369.7" y2="114.8" stroke="#5e5e5e" stroke-width="0.84" stroke-linecap="butt"/>
<line x1="366.9" y1="99.1" x2="369.7" y2="99.1" stroke="#5e5e5e" stroke-width="0.84" stroke-linecap="butt"/>
<line x1="374.9" y1="113.8" x2="374.9" y2="95" stroke="#5e5e5e" stroke-width="0.84" stroke-linecap="butt"/>
<line x1="373.4" y1="113.8" x2="376.3" y2="113.8" stroke="#5e5e5e" stroke-width="0.84" stroke-linecap="butt"/>
<line x1="373.4" y1="95" x2="376.3" y2="95" stroke="#5e5e5e" stroke-width="0.84" stroke-linecap="butt"/>
<line x1="381.4" y1="113.9" x2="381.4" y2="102.4" stroke="#5e5e5e" stroke-width="0.84" stroke-linecap="butt"/>
<line x1="380" y1="113.9" x2="382.9" y2="113.9" stroke="#5e5e5e" stroke-width="0.84" stroke-linecap="butt"/>
<line x1="380" y1="102.4" x2="382.9" y2="102.4" stroke="#5e5e5e" stroke-width="0.84" stroke-linecap="butt"/>
<line x1="388" y1="118.1" x2="388" y2="98.2" stroke="#5e5e5e" stroke-width="0.84" stroke-linecap="butt"/>
<line x1="386.6" y1="118.1" x2="389.4" y2="118.1" stroke="#5e5e5e" stroke-width="0.84" stroke-linecap="butt"/>
<line x1="386.6" y1="98.2" x2="389.4" y2="98.2" stroke="#5e5e5e" stroke-width="0.84" stroke-linecap="butt"/>
<circle cx="283" cy="118.8" r="1.9" fill="#5e5e5e"/>
<circle cx="289.6" cy="119.8" r="1.9" fill="#5e5e5e"/>
<circle cx="296.1" cy="117.8" r="1.9" fill="#5e5e5e"/>
<circle cx="302.7" cy="120.8" r="1.9" fill="#5e5e5e"/>
<circle cx="309.3" cy="119.8" r="1.9" fill="#5e5e5e"/>
<circle cx="315.8" cy="118.8" r="1.9" fill="#5e5e5e"/>
<circle cx="322.4" cy="119.2" r="1.9" fill="#5e5e5e"/>
<circle cx="328.9" cy="118.2" r="1.9" fill="#5e5e5e"/>
<circle cx="335.5" cy="114" r="1.9" fill="#5e5e5e"/>
<circle cx="342.1" cy="109.7" r="1.9" fill="#5e5e5e"/>
<circle cx="348.6" cy="109.3" r="1.9" fill="#5e5e5e"/>
<circle cx="355.2" cy="108.2" r="1.9" fill="#5e5e5e"/>
<circle cx="361.8" cy="108.2" r="1.9" fill="#5e5e5e"/>
<circle cx="368.3" cy="107" r="1.9" fill="#5e5e5e"/>
<circle cx="374.9" cy="104.4" r="1.9" fill="#5e5e5e"/>
<circle cx="381.4" cy="108.2" r="1.9" fill="#5e5e5e"/>
<circle cx="388" cy="108.2" r="1.9" fill="#5e5e5e"/>
<polyline points="283,117.8 289.6,118.8 296.1,119.8 302.7,120.8 309.3,116.7 315.8,119.8 322.4,116.1 328.9,118.2 335.5,112.9 342.1,107.6 348.6,97 355.2,99 361.8,96 368.3,90.7 374.9,89.6 381.4,87 388,94.5" fill="none" stroke="#5e5e5e" stroke-width="1.2" stroke-linejoin="round"/>
<line x1="283" y1="128.5" x2="283" y2="107" stroke="#5e5e5e" stroke-width="0.84" stroke-linecap="butt"/>
<line x1="281.6" y1="128.5" x2="284.4" y2="128.5" stroke="#5e5e5e" stroke-width="0.84" stroke-linecap="butt"/>
<line x1="281.6" y1="107" x2="284.4" y2="107" stroke="#5e5e5e" stroke-width="0.84" stroke-linecap="butt"/>
<line x1="289.6" y1="128.1" x2="289.6" y2="109.5" stroke="#5e5e5e" stroke-width="0.84" stroke-linecap="butt"/>
<line x1="288.1" y1="128.1" x2="291" y2="128.1" stroke="#5e5e5e" stroke-width="0.84" stroke-linecap="butt"/>
<line x1="288.1" y1="109.5" x2="291" y2="109.5" stroke="#5e5e5e" stroke-width="0.84" stroke-linecap="butt"/>
<line x1="296.1" y1="129.7" x2="296.1" y2="109.9" stroke="#5e5e5e" stroke-width="0.84" stroke-linecap="butt"/>
<line x1="294.7" y1="129.7" x2="297.6" y2="129.7" stroke="#5e5e5e" stroke-width="0.84" stroke-linecap="butt"/>
<line x1="294.7" y1="109.9" x2="297.6" y2="109.9" stroke="#5e5e5e" stroke-width="0.84" stroke-linecap="butt"/>
<line x1="302.7" y1="126.6" x2="302.7" y2="115" stroke="#5e5e5e" stroke-width="0.84" stroke-linecap="butt"/>
<line x1="301.3" y1="126.6" x2="304.1" y2="126.6" stroke="#5e5e5e" stroke-width="0.84" stroke-linecap="butt"/>
<line x1="301.3" y1="115" x2="304.1" y2="115" stroke="#5e5e5e" stroke-width="0.84" stroke-linecap="butt"/>
<line x1="309.3" y1="128.1" x2="309.3" y2="105.3" stroke="#5e5e5e" stroke-width="0.84" stroke-linecap="butt"/>
<line x1="307.8" y1="128.1" x2="310.7" y2="128.1" stroke="#5e5e5e" stroke-width="0.84" stroke-linecap="butt"/>
<line x1="307.8" y1="105.3" x2="310.7" y2="105.3" stroke="#5e5e5e" stroke-width="0.84" stroke-linecap="butt"/>
<line x1="315.8" y1="131.8" x2="315.8" y2="107.7" stroke="#5e5e5e" stroke-width="0.84" stroke-linecap="butt"/>
<line x1="314.4" y1="131.8" x2="317.3" y2="131.8" stroke="#5e5e5e" stroke-width="0.84" stroke-linecap="butt"/>
<line x1="314.4" y1="107.7" x2="317.3" y2="107.7" stroke="#5e5e5e" stroke-width="0.84" stroke-linecap="butt"/>
<line x1="322.4" y1="128.2" x2="322.4" y2="104.1" stroke="#5e5e5e" stroke-width="0.84" stroke-linecap="butt"/>
<line x1="321" y1="128.2" x2="323.8" y2="128.2" stroke="#5e5e5e" stroke-width="0.84" stroke-linecap="butt"/>
<line x1="321" y1="104.1" x2="323.8" y2="104.1" stroke="#5e5e5e" stroke-width="0.84" stroke-linecap="butt"/>
<line x1="328.9" y1="126.6" x2="328.9" y2="109.7" stroke="#5e5e5e" stroke-width="0.84" stroke-linecap="butt"/>
<line x1="327.5" y1="126.6" x2="330.4" y2="126.6" stroke="#5e5e5e" stroke-width="0.84" stroke-linecap="butt"/>
<line x1="327.5" y1="109.7" x2="330.4" y2="109.7" stroke="#5e5e5e" stroke-width="0.84" stroke-linecap="butt"/>
<line x1="335.5" y1="123.4" x2="335.5" y2="102.4" stroke="#5e5e5e" stroke-width="0.84" stroke-linecap="butt"/>
<line x1="334.1" y1="123.4" x2="336.9" y2="123.4" stroke="#5e5e5e" stroke-width="0.84" stroke-linecap="butt"/>
<line x1="334.1" y1="102.4" x2="336.9" y2="102.4" stroke="#5e5e5e" stroke-width="0.84" stroke-linecap="butt"/>
<line x1="342.1" y1="114.3" x2="342.1" y2="100.9" stroke="#5e5e5e" stroke-width="0.84" stroke-linecap="butt"/>
<line x1="340.6" y1="114.3" x2="343.5" y2="114.3" stroke="#5e5e5e" stroke-width="0.84" stroke-linecap="butt"/>
<line x1="340.6" y1="100.9" x2="343.5" y2="100.9" stroke="#5e5e5e" stroke-width="0.84" stroke-linecap="butt"/>
<line x1="348.6" y1="108.5" x2="348.6" y2="85.5" stroke="#5e5e5e" stroke-width="0.84" stroke-linecap="butt"/>
<line x1="347.2" y1="108.5" x2="350.1" y2="108.5" stroke="#5e5e5e" stroke-width="0.84" stroke-linecap="butt"/>
<line x1="347.2" y1="85.5" x2="350.1" y2="85.5" stroke="#5e5e5e" stroke-width="0.84" stroke-linecap="butt"/>
<line x1="355.2" y1="110.1" x2="355.2" y2="88" stroke="#5e5e5e" stroke-width="0.84" stroke-linecap="butt"/>
<line x1="353.8" y1="110.1" x2="356.6" y2="110.1" stroke="#5e5e5e" stroke-width="0.84" stroke-linecap="butt"/>
<line x1="353.8" y1="88" x2="356.6" y2="88" stroke="#5e5e5e" stroke-width="0.84" stroke-linecap="butt"/>
<line x1="361.8" y1="102.9" x2="361.8" y2="89.1" stroke="#5e5e5e" stroke-width="0.84" stroke-linecap="butt"/>
<line x1="360.3" y1="102.9" x2="363.2" y2="102.9" stroke="#5e5e5e" stroke-width="0.84" stroke-linecap="butt"/>
<line x1="360.3" y1="89.1" x2="363.2" y2="89.1" stroke="#5e5e5e" stroke-width="0.84" stroke-linecap="butt"/>
<line x1="368.3" y1="95.4" x2="368.3" y2="85.9" stroke="#5e5e5e" stroke-width="0.84" stroke-linecap="butt"/>
<line x1="366.9" y1="95.4" x2="369.7" y2="95.4" stroke="#5e5e5e" stroke-width="0.84" stroke-linecap="butt"/>
<line x1="366.9" y1="85.9" x2="369.7" y2="85.9" stroke="#5e5e5e" stroke-width="0.84" stroke-linecap="butt"/>
<line x1="374.9" y1="97.2" x2="374.9" y2="81.9" stroke="#5e5e5e" stroke-width="0.84" stroke-linecap="butt"/>
<line x1="373.4" y1="97.2" x2="376.3" y2="97.2" stroke="#5e5e5e" stroke-width="0.84" stroke-linecap="butt"/>
<line x1="373.4" y1="81.9" x2="376.3" y2="81.9" stroke="#5e5e5e" stroke-width="0.84" stroke-linecap="butt"/>
<line x1="381.4" y1="95.6" x2="381.4" y2="78.5" stroke="#5e5e5e" stroke-width="0.84" stroke-linecap="butt"/>
<line x1="380" y1="95.6" x2="382.9" y2="95.6" stroke="#5e5e5e" stroke-width="0.84" stroke-linecap="butt"/>
<line x1="380" y1="78.5" x2="382.9" y2="78.5" stroke="#5e5e5e" stroke-width="0.84" stroke-linecap="butt"/>
<line x1="388" y1="104.9" x2="388" y2="84.2" stroke="#5e5e5e" stroke-width="0.84" stroke-linecap="butt"/>
<line x1="386.6" y1="104.9" x2="389.4" y2="104.9" stroke="#5e5e5e" stroke-width="0.84" stroke-linecap="butt"/>
<line x1="386.6" y1="84.2" x2="389.4" y2="84.2" stroke="#5e5e5e" stroke-width="0.84" stroke-linecap="butt"/>
<rect x="281.2" y="115.9" width="3.7" height="3.7" fill="#5e5e5e"/>
<rect x="287.7" y="116.9" width="3.7" height="3.7" fill="#5e5e5e"/>
<rect x="294.3" y="117.9" width="3.7" height="3.7" fill="#5e5e5e"/>
<rect x="300.8" y="119" width="3.7" height="3.7" fill="#5e5e5e"/>
<rect x="307.4" y="114.9" width="3.7" height="3.7" fill="#5e5e5e"/>
<rect x="314" y="117.9" width="3.7" height="3.7" fill="#5e5e5e"/>
<rect x="320.5" y="114.3" width="3.7" height="3.7" fill="#5e5e5e"/>
<rect x="327.1" y="116.3" width="3.7" height="3.7" fill="#5e5e5e"/>
<rect x="333.6" y="111" width="3.7" height="3.7" fill="#5e5e5e"/>
<rect x="340.2" y="105.7" width="3.7" height="3.7" fill="#5e5e5e"/>
<rect x="346.8" y="95.1" width="3.7" height="3.7" fill="#5e5e5e"/>
<rect x="353.3" y="97.2" width="3.7" height="3.7" fill="#5e5e5e"/>
<rect x="359.9" y="94.1" width="3.7" height="3.7" fill="#5e5e5e"/>
<rect x="366.5" y="88.8" width="3.7" height="3.7" fill="#5e5e5e"/>
<rect x="373" y="87.7" width="3.7" height="3.7" fill="#5e5e5e"/>
<rect x="379.6" y="85.2" width="3.7" height="3.7" fill="#5e5e5e"/>
<rect x="386.1" y="92.7" width="3.7" height="3.7" fill="#5e5e5e"/>
<line x1="261" y1="126.2" x2="261" y2="108.8" stroke="#5e5e5e" stroke-width="0.8999999999999999" stroke-linecap="butt"/>
<line x1="259.5" y1="126.2" x2="262.5" y2="126.2" stroke="#5e5e5e" stroke-width="0.8999999999999999" stroke-linecap="butt"/>
<line x1="259.5" y1="108.8" x2="262.5" y2="108.8" stroke="#5e5e5e" stroke-width="0.8999999999999999" stroke-linecap="butt"/>
<rect x="258.9" y="117.8" width="4.2" height="4.2" fill="#5e5e5e"/>
<line x1="261" y1="136.4" x2="261" y2="118.2" stroke="#5e5e5e" stroke-width="0.8999999999999999" stroke-linecap="butt"/>
<line x1="259.5" y1="136.4" x2="262.5" y2="136.4" stroke="#5e5e5e" stroke-width="0.8999999999999999" stroke-linecap="butt"/>
<line x1="259.5" y1="118.2" x2="262.5" y2="118.2" stroke="#5e5e5e" stroke-width="0.8999999999999999" stroke-linecap="butt"/>
<circle cx="261" cy="125.4" r="2.1" fill="#5e5e5e"/>
<line x1="261" y1="135.1" x2="261" y2="117.2" stroke="#5e5e5e" stroke-width="0.8999999999999999" stroke-linecap="butt"/>
<line x1="259.5" y1="135.1" x2="262.5" y2="135.1" stroke="#5e5e5e" stroke-width="0.8999999999999999" stroke-linecap="butt"/>
<line x1="259.5" y1="117.2" x2="262.5" y2="117.2" stroke="#5e5e5e" stroke-width="0.8999999999999999" stroke-linecap="butt"/>
<path d="M261 126.7L263.5 122.2L258.5 122.2Z" fill="#5e5e5e"/>
<line x1="261" y1="123.8" x2="261" y2="104" stroke="#2b2f78" stroke-width="0.8999999999999999" stroke-linecap="butt"/>
<line x1="259.5" y1="123.8" x2="262.5" y2="123.8" stroke="#2b2f78" stroke-width="0.8999999999999999" stroke-linecap="butt"/>
<line x1="259.5" y1="104" x2="262.5" y2="104" stroke="#2b2f78" stroke-width="0.8999999999999999" stroke-linecap="butt"/>
<path d="M261 112L263.5 116.5L258.5 116.5Z" fill="#2b2f78"/>
<line x1="261" y1="121.2" x2="261" y2="99" stroke="#6a68a8" stroke-width="0.8999999999999999" stroke-linecap="butt"/>
<line x1="259.5" y1="121.2" x2="262.5" y2="121.2" stroke="#6a68a8" stroke-width="0.8999999999999999" stroke-linecap="butt"/>
<line x1="259.5" y1="99" x2="262.5" y2="99" stroke="#6a68a8" stroke-width="0.8999999999999999" stroke-linecap="butt"/>
<path d="M261 108.4L263.5 112.9L258.5 112.9Z" fill="#6a68a8"/>
<line x1="261" y1="137.9" x2="261" y2="119.3" stroke="#1f5f48" stroke-width="0.8999999999999999" stroke-linecap="butt"/>
<line x1="259.5" y1="137.9" x2="262.5" y2="137.9" stroke="#1f5f48" stroke-width="0.8999999999999999" stroke-linecap="butt"/>
<line x1="259.5" y1="119.3" x2="262.5" y2="119.3" stroke="#1f5f48" stroke-width="0.8999999999999999" stroke-linecap="butt"/>
<rect x="258.9" y="123.9" width="4.2" height="4.2" fill="#1f5f48"/>
<line x1="261" y1="139.5" x2="261" y2="122.3" stroke="#2a9488" stroke-width="0.8999999999999999" stroke-linecap="butt"/>
<line x1="259.5" y1="139.5" x2="262.5" y2="139.5" stroke="#2a9488" stroke-width="0.8999999999999999" stroke-linecap="butt"/>
<line x1="259.5" y1="122.3" x2="262.5" y2="122.3" stroke="#2a9488" stroke-width="0.8999999999999999" stroke-linecap="butt"/>
<circle cx="261" cy="130.2" r="2.1" fill="#2a9488"/>
<line x1="261" y1="138.1" x2="261" y2="118.8" stroke="#3aa882" stroke-width="0.8999999999999999" stroke-linecap="butt"/>
<line x1="259.5" y1="138.1" x2="262.5" y2="138.1" stroke="#3aa882" stroke-width="0.8999999999999999" stroke-linecap="butt"/>
<line x1="259.5" y1="118.8" x2="262.5" y2="118.8" stroke="#3aa882" stroke-width="0.8999999999999999" stroke-linecap="butt"/>
<circle cx="261" cy="128.1" r="2.1" fill="#3aa882"/>
<line x1="266.5" y1="126.5" x2="266.5" y2="109" stroke="#5e5e5e" stroke-width="0.8999999999999999" stroke-linecap="butt"/>
<line x1="265" y1="126.5" x2="268" y2="126.5" stroke="#5e5e5e" stroke-width="0.8999999999999999" stroke-linecap="butt"/>
<line x1="265" y1="109" x2="268" y2="109" stroke="#5e5e5e" stroke-width="0.8999999999999999" stroke-linecap="butt"/>
<rect x="264.4" y="114.9" width="4.2" height="4.2" fill="#5e5e5e"/>
<line x1="266.5" y1="134.1" x2="266.5" y2="111.2" stroke="#5e5e5e" stroke-width="0.8999999999999999" stroke-linecap="butt"/>
<line x1="265" y1="134.1" x2="268" y2="134.1" stroke="#5e5e5e" stroke-width="0.8999999999999999" stroke-linecap="butt"/>
<line x1="265" y1="111.2" x2="268" y2="111.2" stroke="#5e5e5e" stroke-width="0.8999999999999999" stroke-linecap="butt"/>
<circle cx="266.5" cy="122.8" r="2.1" fill="#5e5e5e"/>
<line x1="266.5" y1="136.5" x2="266.5" y2="113.2" stroke="#5e5e5e" stroke-width="0.8999999999999999" stroke-linecap="butt"/>
<line x1="265" y1="136.5" x2="268" y2="136.5" stroke="#5e5e5e" stroke-width="0.8999999999999999" stroke-linecap="butt"/>
<line x1="265" y1="113.2" x2="268" y2="113.2" stroke="#5e5e5e" stroke-width="0.8999999999999999" stroke-linecap="butt"/>
<path d="M266.5 127.7L269 123.2L264 123.2Z" fill="#5e5e5e"/>
<line x1="266.5" y1="121.1" x2="266.5" y2="104.1" stroke="#2b2f78" stroke-width="0.8999999999999999" stroke-linecap="butt"/>
<line x1="265" y1="121.1" x2="268" y2="121.1" stroke="#2b2f78" stroke-width="0.8999999999999999" stroke-linecap="butt"/>
<line x1="265" y1="104.1" x2="268" y2="104.1" stroke="#2b2f78" stroke-width="0.8999999999999999" stroke-linecap="butt"/>
<path d="M266.5 108.9L269 113.5L264 113.5Z" fill="#2b2f78"/>
<line x1="266.5" y1="122.6" x2="266.5" y2="103.6" stroke="#6a68a8" stroke-width="0.8999999999999999" stroke-linecap="butt"/>
<line x1="265" y1="122.6" x2="268" y2="122.6" stroke="#6a68a8" stroke-width="0.8999999999999999" stroke-linecap="butt"/>
<line x1="265" y1="103.6" x2="268" y2="103.6" stroke="#6a68a8" stroke-width="0.8999999999999999" stroke-linecap="butt"/>
<path d="M266.5 110.9L269 115.4L264 115.4Z" fill="#6a68a8"/>
<line x1="266.5" y1="141.8" x2="266.5" y2="120.5" stroke="#1f5f48" stroke-width="0.8999999999999999" stroke-linecap="butt"/>
<line x1="265" y1="141.8" x2="268" y2="141.8" stroke="#1f5f48" stroke-width="0.8999999999999999" stroke-linecap="butt"/>
<line x1="265" y1="120.5" x2="268" y2="120.5" stroke="#1f5f48" stroke-width="0.8999999999999999" stroke-linecap="butt"/>
<rect x="264.4" y="127.7" width="4.2" height="4.2" fill="#1f5f48"/>
<line x1="266.5" y1="139.7" x2="266.5" y2="119.2" stroke="#2a9488" stroke-width="0.8999999999999999" stroke-linecap="butt"/>
<line x1="265" y1="139.7" x2="268" y2="139.7" stroke="#2a9488" stroke-width="0.8999999999999999" stroke-linecap="butt"/>
<line x1="265" y1="119.2" x2="268" y2="119.2" stroke="#2a9488" stroke-width="0.8999999999999999" stroke-linecap="butt"/>
<circle cx="266.5" cy="128.7" r="2.1" fill="#2a9488"/>
<line x1="266.5" y1="140.4" x2="266.5" y2="123.5" stroke="#3aa882" stroke-width="0.8999999999999999" stroke-linecap="butt"/>
<line x1="265" y1="140.4" x2="268" y2="140.4" stroke="#3aa882" stroke-width="0.8999999999999999" stroke-linecap="butt"/>
<line x1="265" y1="123.5" x2="268" y2="123.5" stroke="#3aa882" stroke-width="0.8999999999999999" stroke-linecap="butt"/>
<circle cx="266.5" cy="130" r="2.1" fill="#3aa882"/>
<line x1="271.5" y1="128.1" x2="271.5" y2="107.5" stroke="#5e5e5e" stroke-width="0.8999999999999999" stroke-linecap="butt"/>
<line x1="270" y1="128.1" x2="273" y2="128.1" stroke="#5e5e5e" stroke-width="0.8999999999999999" stroke-linecap="butt"/>
<line x1="270" y1="107.5" x2="273" y2="107.5" stroke="#5e5e5e" stroke-width="0.8999999999999999" stroke-linecap="butt"/>
<rect x="269.4" y="117.4" width="4.2" height="4.2" fill="#5e5e5e"/>
<line x1="271.5" y1="126.1" x2="271.5" y2="109.4" stroke="#5e5e5e" stroke-width="0.8999999999999999" stroke-linecap="butt"/>
<line x1="270" y1="126.1" x2="273" y2="126.1" stroke="#5e5e5e" stroke-width="0.8999999999999999" stroke-linecap="butt"/>
<line x1="270" y1="109.4" x2="273" y2="109.4" stroke="#5e5e5e" stroke-width="0.8999999999999999" stroke-linecap="butt"/>
<circle cx="271.5" cy="118.4" r="2.1" fill="#5e5e5e"/>
<line x1="271.5" y1="134.6" x2="271.5" y2="114.8" stroke="#5e5e5e" stroke-width="0.8999999999999999" stroke-linecap="butt"/>
<line x1="270" y1="134.6" x2="273" y2="134.6" stroke="#5e5e5e" stroke-width="0.8999999999999999" stroke-linecap="butt"/>
<line x1="270" y1="114.8" x2="273" y2="114.8" stroke="#5e5e5e" stroke-width="0.8999999999999999" stroke-linecap="butt"/>
<path d="M271.5 128.4L274 123.9L269 123.9Z" fill="#5e5e5e"/>
<line x1="271.5" y1="117.4" x2="271.5" y2="100.3" stroke="#2b2f78" stroke-width="0.8999999999999999" stroke-linecap="butt"/>
<line x1="270" y1="117.4" x2="273" y2="117.4" stroke="#2b2f78" stroke-width="0.8999999999999999" stroke-linecap="butt"/>
<line x1="270" y1="100.3" x2="273" y2="100.3" stroke="#2b2f78" stroke-width="0.8999999999999999" stroke-linecap="butt"/>
<path d="M271.5 105.9L274 110.4L269 110.4Z" fill="#2b2f78"/>
<line x1="271.5" y1="126.1" x2="271.5" y2="104.4" stroke="#6a68a8" stroke-width="0.8999999999999999" stroke-linecap="butt"/>
<line x1="270" y1="126.1" x2="273" y2="126.1" stroke="#6a68a8" stroke-width="0.8999999999999999" stroke-linecap="butt"/>
<line x1="270" y1="104.4" x2="273" y2="104.4" stroke="#6a68a8" stroke-width="0.8999999999999999" stroke-linecap="butt"/>
<path d="M271.5 113.7L274 118.2L269 118.2Z" fill="#6a68a8"/>
<line x1="271.5" y1="139.8" x2="271.5" y2="122.7" stroke="#1f5f48" stroke-width="0.8999999999999999" stroke-linecap="butt"/>
<line x1="270" y1="139.8" x2="273" y2="139.8" stroke="#1f5f48" stroke-width="0.8999999999999999" stroke-linecap="butt"/>
<line x1="270" y1="122.7" x2="273" y2="122.7" stroke="#1f5f48" stroke-width="0.8999999999999999" stroke-linecap="butt"/>
<rect x="269.4" y="126.8" width="4.2" height="4.2" fill="#1f5f48"/>
<line x1="271.5" y1="137.9" x2="271.5" y2="120.1" stroke="#2a9488" stroke-width="0.8999999999999999" stroke-linecap="butt"/>
<line x1="270" y1="137.9" x2="273" y2="137.9" stroke="#2a9488" stroke-width="0.8999999999999999" stroke-linecap="butt"/>
<line x1="270" y1="120.1" x2="273" y2="120.1" stroke="#2a9488" stroke-width="0.8999999999999999" stroke-linecap="butt"/>
<circle cx="271.5" cy="130.4" r="2.1" fill="#2a9488"/>
<line x1="271.5" y1="139.7" x2="271.5" y2="121.5" stroke="#3aa882" stroke-width="0.8999999999999999" stroke-linecap="butt"/>
<line x1="270" y1="139.7" x2="273" y2="139.7" stroke="#3aa882" stroke-width="0.8999999999999999" stroke-linecap="butt"/>
<line x1="270" y1="121.5" x2="273" y2="121.5" stroke="#3aa882" stroke-width="0.8999999999999999" stroke-linecap="butt"/>
<circle cx="271.5" cy="131.4" r="2.1" fill="#3aa882"/>
<polyline points="281.2,125.9 282.5,125.9 283.9,125.9 285.2,125.9 286.6,125.9 287.9,125.9 289.3,125.9 290.6,125.9 292,125.9 293.3,125.9 294.7,125.8 296,125.8 297.4,125.8 298.7,125.8 300.1,125.7 301.4,125.7 302.8,125.6 304.1,125.6 305.5,125.4 306.8,125.3 308.2,125.1 309.5,124.9 310.9,124.6 312.2,124.2 313.6,123.6 314.9,123 316.3,122.1 317.6,120.9 318.9,119.5 320.3,117.7 321.6,115.4 323,112.5 324.3,109.1 325.7,104.9 327,100 328.4,94.5 329.7,88.3 331.1,81.7 332.4,74.9 333.8,68 335.1,61.4 336.5,55.3 337.8,49.7 339.2,44.9 340.5,40.8 341.9,37.3 343.2,34.5 344.6,32.2 345.9,30.4 347.3,29 348.6,27.9 350,27 351.3,26.3 352.7,25.8 354,25.4 355.4,25.1 356.7,24.9 358.1,24.7 359.4,24.5 360.8,24.4 362.1,24.4 363.5,24.3 364.8,24.3 366.2,24.2 367.5,24.2 368.9,24.2 370.2,24.2 371.6,24.1 372.9,24.1 374.3,24.1 375.6,24.1 377,24.1 378.3,24.1 379.6,24.1 381,24.1 382.3,24.1 383.7,24.1 385,24.1 386.4,24.1 387.7,24.1 389.1,24.1" fill="none" stroke="#1f5f48" stroke-width="1.2" stroke-linejoin="round"/>
<line x1="283" y1="139.4" x2="283" y2="118.8" stroke="#1f5f48" stroke-width="0.84" stroke-linecap="butt"/>
<line x1="281.6" y1="139.4" x2="284.4" y2="139.4" stroke="#1f5f48" stroke-width="0.84" stroke-linecap="butt"/>
<line x1="281.6" y1="118.8" x2="284.4" y2="118.8" stroke="#1f5f48" stroke-width="0.84" stroke-linecap="butt"/>
<line x1="289.6" y1="136.8" x2="289.6" y2="111.2" stroke="#1f5f48" stroke-width="0.84" stroke-linecap="butt"/>
<line x1="288.1" y1="136.8" x2="291" y2="136.8" stroke="#1f5f48" stroke-width="0.84" stroke-linecap="butt"/>
<line x1="288.1" y1="111.2" x2="291" y2="111.2" stroke="#1f5f48" stroke-width="0.84" stroke-linecap="butt"/>
<line x1="296.1" y1="135.3" x2="296.1" y2="122.5" stroke="#1f5f48" stroke-width="0.84" stroke-linecap="butt"/>
<line x1="294.7" y1="135.3" x2="297.6" y2="135.3" stroke="#1f5f48" stroke-width="0.84" stroke-linecap="butt"/>
<line x1="294.7" y1="122.5" x2="297.6" y2="122.5" stroke="#1f5f48" stroke-width="0.84" stroke-linecap="butt"/>
<line x1="302.7" y1="137.2" x2="302.7" y2="113.9" stroke="#1f5f48" stroke-width="0.84" stroke-linecap="butt"/>
<line x1="301.3" y1="137.2" x2="304.1" y2="137.2" stroke="#1f5f48" stroke-width="0.84" stroke-linecap="butt"/>
<line x1="301.3" y1="113.9" x2="304.1" y2="113.9" stroke="#1f5f48" stroke-width="0.84" stroke-linecap="butt"/>
<line x1="309.3" y1="139.3" x2="309.3" y2="114.6" stroke="#1f5f48" stroke-width="0.84" stroke-linecap="butt"/>
<line x1="307.8" y1="139.3" x2="310.7" y2="139.3" stroke="#1f5f48" stroke-width="0.84" stroke-linecap="butt"/>
<line x1="307.8" y1="114.6" x2="310.7" y2="114.6" stroke="#1f5f48" stroke-width="0.84" stroke-linecap="butt"/>
<line x1="315.8" y1="138.1" x2="315.8" y2="111.6" stroke="#1f5f48" stroke-width="0.84" stroke-linecap="butt"/>
<line x1="314.4" y1="138.1" x2="317.3" y2="138.1" stroke="#1f5f48" stroke-width="0.84" stroke-linecap="butt"/>
<line x1="314.4" y1="111.6" x2="317.3" y2="111.6" stroke="#1f5f48" stroke-width="0.84" stroke-linecap="butt"/>
<line x1="322.4" y1="117" x2="322.4" y2="110.3" stroke="#1f5f48" stroke-width="0.84" stroke-linecap="butt"/>
<line x1="321" y1="117" x2="323.8" y2="117" stroke="#1f5f48" stroke-width="0.84" stroke-linecap="butt"/>
<line x1="321" y1="110.3" x2="323.8" y2="110.3" stroke="#1f5f48" stroke-width="0.84" stroke-linecap="butt"/>
<line x1="328.9" y1="95.9" x2="328.9" y2="89.2" stroke="#1f5f48" stroke-width="0.84" stroke-linecap="butt"/>
<line x1="327.5" y1="95.9" x2="330.4" y2="95.9" stroke="#1f5f48" stroke-width="0.84" stroke-linecap="butt"/>
<line x1="327.5" y1="89.2" x2="330.4" y2="89.2" stroke="#1f5f48" stroke-width="0.84" stroke-linecap="butt"/>
<line x1="335.5" y1="66.5" x2="335.5" y2="54.9" stroke="#1f5f48" stroke-width="0.84" stroke-linecap="butt"/>
<line x1="334.1" y1="66.5" x2="336.9" y2="66.5" stroke="#1f5f48" stroke-width="0.84" stroke-linecap="butt"/>
<line x1="334.1" y1="54.9" x2="336.9" y2="54.9" stroke="#1f5f48" stroke-width="0.84" stroke-linecap="butt"/>
<line x1="342.1" y1="38" x2="342.1" y2="36.1" stroke="#1f5f48" stroke-width="0.84" stroke-linecap="butt"/>
<line x1="340.6" y1="38" x2="343.5" y2="38" stroke="#1f5f48" stroke-width="0.84" stroke-linecap="butt"/>
<line x1="340.6" y1="36.1" x2="343.5" y2="36.1" stroke="#1f5f48" stroke-width="0.84" stroke-linecap="butt"/>
<line x1="348.6" y1="30.4" x2="348.6" y2="25.3" stroke="#1f5f48" stroke-width="0.84" stroke-linecap="butt"/>
<line x1="347.2" y1="30.4" x2="350.1" y2="30.4" stroke="#1f5f48" stroke-width="0.84" stroke-linecap="butt"/>
<line x1="347.2" y1="25.3" x2="350.1" y2="25.3" stroke="#1f5f48" stroke-width="0.84" stroke-linecap="butt"/>
<line x1="355.2" y1="28.2" x2="355.2" y2="23.5" stroke="#1f5f48" stroke-width="0.84" stroke-linecap="butt"/>
<line x1="353.8" y1="28.2" x2="356.6" y2="28.2" stroke="#1f5f48" stroke-width="0.84" stroke-linecap="butt"/>
<line x1="353.8" y1="23.5" x2="356.6" y2="23.5" stroke="#1f5f48" stroke-width="0.84" stroke-linecap="butt"/>
<line x1="361.8" y1="25.8" x2="361.8" y2="24.2" stroke="#1f5f48" stroke-width="0.84" stroke-linecap="butt"/>
<line x1="360.3" y1="25.8" x2="363.2" y2="25.8" stroke="#1f5f48" stroke-width="0.84" stroke-linecap="butt"/>
<line x1="360.3" y1="24.2" x2="363.2" y2="24.2" stroke="#1f5f48" stroke-width="0.84" stroke-linecap="butt"/>
<line x1="368.3" y1="24.9" x2="368.3" y2="22.9" stroke="#1f5f48" stroke-width="0.84" stroke-linecap="butt"/>
<line x1="366.9" y1="24.9" x2="369.7" y2="24.9" stroke="#1f5f48" stroke-width="0.84" stroke-linecap="butt"/>
<line x1="366.9" y1="22.9" x2="369.7" y2="22.9" stroke="#1f5f48" stroke-width="0.84" stroke-linecap="butt"/>
<line x1="374.9" y1="25.8" x2="374.9" y2="21.9" stroke="#1f5f48" stroke-width="0.84" stroke-linecap="butt"/>
<line x1="373.4" y1="25.8" x2="376.3" y2="25.8" stroke="#1f5f48" stroke-width="0.84" stroke-linecap="butt"/>
<line x1="373.4" y1="21.9" x2="376.3" y2="21.9" stroke="#1f5f48" stroke-width="0.84" stroke-linecap="butt"/>
<line x1="381.4" y1="25.1" x2="381.4" y2="23" stroke="#1f5f48" stroke-width="0.84" stroke-linecap="butt"/>
<line x1="380" y1="25.1" x2="382.9" y2="25.1" stroke="#1f5f48" stroke-width="0.84" stroke-linecap="butt"/>
<line x1="380" y1="23" x2="382.9" y2="23" stroke="#1f5f48" stroke-width="0.84" stroke-linecap="butt"/>
<line x1="388" y1="24.1" x2="388" y2="22.7" stroke="#1f5f48" stroke-width="0.84" stroke-linecap="butt"/>
<line x1="386.6" y1="24.1" x2="389.4" y2="24.1" stroke="#1f5f48" stroke-width="0.84" stroke-linecap="butt"/>
<line x1="386.6" y1="22.7" x2="389.4" y2="22.7" stroke="#1f5f48" stroke-width="0.84" stroke-linecap="butt"/>
<rect x="281.2" y="127.3" width="3.7" height="3.7" fill="#1f5f48"/>
<rect x="287.7" y="122.1" width="3.7" height="3.7" fill="#1f5f48"/>
<rect x="294.3" y="127" width="3.7" height="3.7" fill="#1f5f48"/>
<rect x="300.8" y="123.7" width="3.7" height="3.7" fill="#1f5f48"/>
<rect x="307.4" y="125.1" width="3.7" height="3.7" fill="#1f5f48"/>
<rect x="314" y="123" width="3.7" height="3.7" fill="#1f5f48"/>
<rect x="320.5" y="111.8" width="3.7" height="3.7" fill="#1f5f48"/>
<rect x="327.1" y="90.7" width="3.7" height="3.7" fill="#1f5f48"/>
<rect x="333.6" y="58.8" width="3.7" height="3.7" fill="#1f5f48"/>
<rect x="340.2" y="35.2" width="3.7" height="3.7" fill="#1f5f48"/>
<rect x="346.8" y="26" width="3.7" height="3.7" fill="#1f5f48"/>
<rect x="353.3" y="24" width="3.7" height="3.7" fill="#1f5f48"/>
<rect x="359.9" y="23.1" width="3.7" height="3.7" fill="#1f5f48"/>
<rect x="366.5" y="22.1" width="3.7" height="3.7" fill="#1f5f48"/>
<rect x="373" y="22" width="3.7" height="3.7" fill="#1f5f48"/>
<rect x="379.6" y="22.2" width="3.7" height="3.7" fill="#1f5f48"/>
<rect x="386.1" y="21.5" width="3.7" height="3.7" fill="#1f5f48"/>
<polyline points="281.2,116.7 282.5,116.7 283.9,116.7 285.2,116.7 286.6,116.7 287.9,116.7 289.3,116.7 290.6,116.7 292,116.7 293.3,116.7 294.7,116.7 296,116.6 297.4,116.6 298.7,116.5 300.1,116.5 301.4,116.4 302.8,116.3 304.1,116.2 305.5,116 306.8,115.8 308.2,115.5 309.5,115.1 310.9,114.6 312.2,114 313.6,113.2 314.9,112.1 316.3,110.8 317.6,109.1 318.9,106.9 320.3,104.3 321.6,101.1 323,97.2 324.3,92.7 325.7,87.6 327,82 328.4,75.9 329.7,69.7 331.1,63.4 332.4,57.5 333.8,51.9 335.1,47 336.5,42.6 337.8,38.9 339.2,35.9 340.5,33.4 341.9,31.3 343.2,29.7 344.6,28.4 345.9,27.5 347.3,26.7 348.6,26.1 350,25.6 351.3,25.3 352.7,25 354,24.8 355.4,24.6 356.7,24.5 358.1,24.4 359.4,24.3 360.8,24.3 362.1,24.2 363.5,24.2 364.8,24.2 366.2,24.2 367.5,24.1 368.9,24.1 370.2,24.1 371.6,24.1 372.9,24.1 374.3,24.1 375.6,24.1 377,24.1 378.3,24.1 379.6,24.1 381,24.1 382.3,24.1 383.7,24.1 385,24.1 386.4,24.1 387.7,24.1 389.1,24.1" fill="none" stroke="#2b2f78" stroke-width="1.2" stroke-linejoin="round"/>
<line x1="283" y1="118.8" x2="283" y2="109.2" stroke="#2b2f78" stroke-width="0.84" stroke-linecap="butt"/>
<line x1="281.6" y1="118.8" x2="284.4" y2="118.8" stroke="#2b2f78" stroke-width="0.84" stroke-linecap="butt"/>
<line x1="281.6" y1="109.2" x2="284.4" y2="109.2" stroke="#2b2f78" stroke-width="0.84" stroke-linecap="butt"/>
<line x1="289.6" y1="122.5" x2="289.6" y2="112.2" stroke="#2b2f78" stroke-width="0.84" stroke-linecap="butt"/>
<line x1="288.1" y1="122.5" x2="291" y2="122.5" stroke="#2b2f78" stroke-width="0.84" stroke-linecap="butt"/>
<line x1="288.1" y1="112.2" x2="291" y2="112.2" stroke="#2b2f78" stroke-width="0.84" stroke-linecap="butt"/>
<line x1="296.1" y1="118.7" x2="296.1" y2="109.8" stroke="#2b2f78" stroke-width="0.84" stroke-linecap="butt"/>
<line x1="294.7" y1="118.7" x2="297.6" y2="118.7" stroke="#2b2f78" stroke-width="0.84" stroke-linecap="butt"/>
<line x1="294.7" y1="109.8" x2="297.6" y2="109.8" stroke="#2b2f78" stroke-width="0.84" stroke-linecap="butt"/>
<line x1="302.7" y1="129.1" x2="302.7" y2="109.7" stroke="#2b2f78" stroke-width="0.84" stroke-linecap="butt"/>
<line x1="301.3" y1="129.1" x2="304.1" y2="129.1" stroke="#2b2f78" stroke-width="0.84" stroke-linecap="butt"/>
<line x1="301.3" y1="109.7" x2="304.1" y2="109.7" stroke="#2b2f78" stroke-width="0.84" stroke-linecap="butt"/>
<line x1="309.3" y1="125.3" x2="309.3" y2="106.7" stroke="#2b2f78" stroke-width="0.84" stroke-linecap="butt"/>
<line x1="307.8" y1="125.3" x2="310.7" y2="125.3" stroke="#2b2f78" stroke-width="0.84" stroke-linecap="butt"/>
<line x1="307.8" y1="106.7" x2="310.7" y2="106.7" stroke="#2b2f78" stroke-width="0.84" stroke-linecap="butt"/>
<line x1="315.8" y1="119.6" x2="315.8" y2="99.9" stroke="#2b2f78" stroke-width="0.84" stroke-linecap="butt"/>
<line x1="314.4" y1="119.6" x2="317.3" y2="119.6" stroke="#2b2f78" stroke-width="0.84" stroke-linecap="butt"/>
<line x1="314.4" y1="99.9" x2="317.3" y2="99.9" stroke="#2b2f78" stroke-width="0.84" stroke-linecap="butt"/>
<line x1="322.4" y1="105.6" x2="322.4" y2="100.3" stroke="#2b2f78" stroke-width="0.84" stroke-linecap="butt"/>
<line x1="321" y1="105.6" x2="323.8" y2="105.6" stroke="#2b2f78" stroke-width="0.84" stroke-linecap="butt"/>
<line x1="321" y1="100.3" x2="323.8" y2="100.3" stroke="#2b2f78" stroke-width="0.84" stroke-linecap="butt"/>
<line x1="328.9" y1="78.6" x2="328.9" y2="73" stroke="#2b2f78" stroke-width="0.84" stroke-linecap="butt"/>
<line x1="327.5" y1="78.6" x2="330.4" y2="78.6" stroke="#2b2f78" stroke-width="0.84" stroke-linecap="butt"/>
<line x1="327.5" y1="73" x2="330.4" y2="73" stroke="#2b2f78" stroke-width="0.84" stroke-linecap="butt"/>
<line x1="335.5" y1="47.1" x2="335.5" y2="41.4" stroke="#2b2f78" stroke-width="0.84" stroke-linecap="butt"/>
<line x1="334.1" y1="47.1" x2="336.9" y2="47.1" stroke="#2b2f78" stroke-width="0.84" stroke-linecap="butt"/>
<line x1="334.1" y1="41.4" x2="336.9" y2="41.4" stroke="#2b2f78" stroke-width="0.84" stroke-linecap="butt"/>
<line x1="342.1" y1="32.5" x2="342.1" y2="28" stroke="#2b2f78" stroke-width="0.84" stroke-linecap="butt"/>
<line x1="340.6" y1="32.5" x2="343.5" y2="32.5" stroke="#2b2f78" stroke-width="0.84" stroke-linecap="butt"/>
<line x1="340.6" y1="28" x2="343.5" y2="28" stroke="#2b2f78" stroke-width="0.84" stroke-linecap="butt"/>
<line x1="348.6" y1="27.7" x2="348.6" y2="22.6" stroke="#2b2f78" stroke-width="0.84" stroke-linecap="butt"/>
<line x1="347.2" y1="27.7" x2="350.1" y2="27.7" stroke="#2b2f78" stroke-width="0.84" stroke-linecap="butt"/>
<line x1="347.2" y1="22.6" x2="350.1" y2="22.6" stroke="#2b2f78" stroke-width="0.84" stroke-linecap="butt"/>
<line x1="355.2" y1="27.8" x2="355.2" y2="23" stroke="#2b2f78" stroke-width="0.84" stroke-linecap="butt"/>
<line x1="353.8" y1="27.8" x2="356.6" y2="27.8" stroke="#2b2f78" stroke-width="0.84" stroke-linecap="butt"/>
<line x1="353.8" y1="23" x2="356.6" y2="23" stroke="#2b2f78" stroke-width="0.84" stroke-linecap="butt"/>
<line x1="361.8" y1="24.9" x2="361.8" y2="23.5" stroke="#2b2f78" stroke-width="0.84" stroke-linecap="butt"/>
<line x1="360.3" y1="24.9" x2="363.2" y2="24.9" stroke="#2b2f78" stroke-width="0.84" stroke-linecap="butt"/>
<line x1="360.3" y1="23.5" x2="363.2" y2="23.5" stroke="#2b2f78" stroke-width="0.84" stroke-linecap="butt"/>
<line x1="368.3" y1="24.2" x2="368.3" y2="23" stroke="#2b2f78" stroke-width="0.84" stroke-linecap="butt"/>
<line x1="366.9" y1="24.2" x2="369.7" y2="24.2" stroke="#2b2f78" stroke-width="0.84" stroke-linecap="butt"/>
<line x1="366.9" y1="23" x2="369.7" y2="23" stroke="#2b2f78" stroke-width="0.84" stroke-linecap="butt"/>
<line x1="374.9" y1="26.6" x2="374.9" y2="21.7" stroke="#2b2f78" stroke-width="0.84" stroke-linecap="butt"/>
<line x1="373.4" y1="26.6" x2="376.3" y2="26.6" stroke="#2b2f78" stroke-width="0.84" stroke-linecap="butt"/>
<line x1="373.4" y1="21.7" x2="376.3" y2="21.7" stroke="#2b2f78" stroke-width="0.84" stroke-linecap="butt"/>
<line x1="381.4" y1="25.2" x2="381.4" y2="22.3" stroke="#2b2f78" stroke-width="0.84" stroke-linecap="butt"/>
<line x1="380" y1="25.2" x2="382.9" y2="25.2" stroke="#2b2f78" stroke-width="0.84" stroke-linecap="butt"/>
<line x1="380" y1="22.3" x2="382.9" y2="22.3" stroke="#2b2f78" stroke-width="0.84" stroke-linecap="butt"/>
<line x1="388" y1="26.8" x2="388" y2="22.7" stroke="#2b2f78" stroke-width="0.84" stroke-linecap="butt"/>
<line x1="386.6" y1="26.8" x2="389.4" y2="26.8" stroke="#2b2f78" stroke-width="0.84" stroke-linecap="butt"/>
<line x1="386.6" y1="22.7" x2="389.4" y2="22.7" stroke="#2b2f78" stroke-width="0.84" stroke-linecap="butt"/>
<path d="M283 111.8L285.3 115.8L280.8 115.8Z" fill="#2b2f78"/>
<path d="M289.6 115.1L291.8 119.1L287.3 119.1Z" fill="#2b2f78"/>
<path d="M296.1 112L298.4 116.1L293.9 116.1Z" fill="#2b2f78"/>
<path d="M302.7 117.1L304.9 121.2L300.4 121.2Z" fill="#2b2f78"/>
<path d="M309.3 113.7L311.5 117.8L307 117.8Z" fill="#2b2f78"/>
<path d="M315.8 107.5L318.1 111.5L313.6 111.5Z" fill="#2b2f78"/>
<path d="M322.4 100.7L324.6 104.8L320.1 104.8Z" fill="#2b2f78"/>
<path d="M328.9 73.5L331.2 77.6L326.7 77.6Z" fill="#2b2f78"/>
<path d="M335.5 42L337.8 46L333.3 46Z" fill="#2b2f78"/>
<path d="M342.1 28L344.3 32L339.8 32Z" fill="#2b2f78"/>
<path d="M348.6 22.9L350.9 26.9L346.4 26.9Z" fill="#2b2f78"/>
<path d="M355.2 23.2L357.4 27.2L352.9 27.2Z" fill="#2b2f78"/>
<path d="M361.8 22L364 26L359.5 26Z" fill="#2b2f78"/>
<path d="M368.3 21.4L370.6 25.4L366.1 25.4Z" fill="#2b2f78"/>
<path d="M374.9 21.9L377.1 25.9L372.6 25.9Z" fill="#2b2f78"/>
<path d="M381.4 21.5L383.7 25.5L379.2 25.5Z" fill="#2b2f78"/>
<path d="M388 22.5L390.2 26.5L385.8 26.5Z" fill="#2b2f78"/>
<polyline points="281.2,115.7 282.5,115.7 283.9,115.7 285.2,115.7 286.6,115.7 287.9,115.7 289.3,115.7 290.6,115.7 292,115.6 293.3,115.6 294.7,115.6 296,115.5 297.4,115.5 298.7,115.4 300.1,115.3 301.4,115.2 302.8,115 304.1,114.8 305.5,114.5 306.8,114.1 308.2,113.7 309.5,113 310.9,112.2 312.2,111.2 313.6,109.9 314.9,108.2 316.3,106.2 317.6,103.6 318.9,100.4 320.3,96.7 321.6,92.3 323,87.2 324.3,81.7 325.7,75.7 327,69.5 328.4,63.4 329.7,57.5 331.1,51.9 332.4,47 333.8,42.7 335.1,39 336.5,35.9 337.8,33.4 339.2,31.4 340.5,29.7 341.9,28.5 343.2,27.5 344.6,26.7 345.9,26.1 347.3,25.6 348.6,25.3 350,25 351.3,24.8 352.7,24.6 354,24.5 355.4,24.4 356.7,24.3 358.1,24.3 359.4,24.2 360.8,24.2 362.1,24.2 363.5,24.2 364.8,24.1 366.2,24.1 367.5,24.1 368.9,24.1 370.2,24.1 371.6,24.1 372.9,24.1 374.3,24.1 375.6,24.1 377,24.1 378.3,24.1 379.6,24.1 381,24.1 382.3,24.1 383.7,24.1 385,24.1 386.4,24.1 387.7,24.1 389.1,24.1" fill="none" stroke="#6a68a8" stroke-width="1.2" stroke-linejoin="round"/>
<line x1="283" y1="129.4" x2="283" y2="104.9" stroke="#6a68a8" stroke-width="0.84" stroke-linecap="butt"/>
<line x1="281.6" y1="129.4" x2="284.4" y2="129.4" stroke="#6a68a8" stroke-width="0.84" stroke-linecap="butt"/>
<line x1="281.6" y1="104.9" x2="284.4" y2="104.9" stroke="#6a68a8" stroke-width="0.84" stroke-linecap="butt"/>
<line x1="289.6" y1="127.2" x2="289.6" y2="104.7" stroke="#6a68a8" stroke-width="0.84" stroke-linecap="butt"/>
<line x1="288.1" y1="127.2" x2="291" y2="127.2" stroke="#6a68a8" stroke-width="0.84" stroke-linecap="butt"/>
<line x1="288.1" y1="104.7" x2="291" y2="104.7" stroke="#6a68a8" stroke-width="0.84" stroke-linecap="butt"/>
<line x1="296.1" y1="128.2" x2="296.1" y2="102.6" stroke="#6a68a8" stroke-width="0.84" stroke-linecap="butt"/>
<line x1="294.7" y1="128.2" x2="297.6" y2="128.2" stroke="#6a68a8" stroke-width="0.84" stroke-linecap="butt"/>
<line x1="294.7" y1="102.6" x2="297.6" y2="102.6" stroke="#6a68a8" stroke-width="0.84" stroke-linecap="butt"/>
<line x1="302.7" y1="126.1" x2="302.7" y2="105.1" stroke="#6a68a8" stroke-width="0.84" stroke-linecap="butt"/>
<line x1="301.3" y1="126.1" x2="304.1" y2="126.1" stroke="#6a68a8" stroke-width="0.84" stroke-linecap="butt"/>
<line x1="301.3" y1="105.1" x2="304.1" y2="105.1" stroke="#6a68a8" stroke-width="0.84" stroke-linecap="butt"/>
<line x1="309.3" y1="120.5" x2="309.3" y2="104.2" stroke="#6a68a8" stroke-width="0.84" stroke-linecap="butt"/>
<line x1="307.8" y1="120.5" x2="310.7" y2="120.5" stroke="#6a68a8" stroke-width="0.84" stroke-linecap="butt"/>
<line x1="307.8" y1="104.2" x2="310.7" y2="104.2" stroke="#6a68a8" stroke-width="0.84" stroke-linecap="butt"/>
<line x1="315.8" y1="121" x2="315.8" y2="100.7" stroke="#6a68a8" stroke-width="0.84" stroke-linecap="butt"/>
<line x1="314.4" y1="121" x2="317.3" y2="121" stroke="#6a68a8" stroke-width="0.84" stroke-linecap="butt"/>
<line x1="314.4" y1="100.7" x2="317.3" y2="100.7" stroke="#6a68a8" stroke-width="0.84" stroke-linecap="butt"/>
<line x1="322.4" y1="92" x2="322.4" y2="83.9" stroke="#6a68a8" stroke-width="0.84" stroke-linecap="butt"/>
<line x1="321" y1="92" x2="323.8" y2="92" stroke="#6a68a8" stroke-width="0.84" stroke-linecap="butt"/>
<line x1="321" y1="83.9" x2="323.8" y2="83.9" stroke="#6a68a8" stroke-width="0.84" stroke-linecap="butt"/>
<line x1="328.9" y1="64.1" x2="328.9" y2="52.1" stroke="#6a68a8" stroke-width="0.84" stroke-linecap="butt"/>
<line x1="327.5" y1="64.1" x2="330.4" y2="64.1" stroke="#6a68a8" stroke-width="0.84" stroke-linecap="butt"/>
<line x1="327.5" y1="52.1" x2="330.4" y2="52.1" stroke="#6a68a8" stroke-width="0.84" stroke-linecap="butt"/>
<line x1="335.5" y1="46" x2="335.5" y2="35.4" stroke="#6a68a8" stroke-width="0.84" stroke-linecap="butt"/>
<line x1="334.1" y1="46" x2="336.9" y2="46" stroke="#6a68a8" stroke-width="0.84" stroke-linecap="butt"/>
<line x1="334.1" y1="35.4" x2="336.9" y2="35.4" stroke="#6a68a8" stroke-width="0.84" stroke-linecap="butt"/>
<line x1="342.1" y1="29.4" x2="342.1" y2="27.4" stroke="#6a68a8" stroke-width="0.84" stroke-linecap="butt"/>
<line x1="340.6" y1="29.4" x2="343.5" y2="29.4" stroke="#6a68a8" stroke-width="0.84" stroke-linecap="butt"/>
<line x1="340.6" y1="27.4" x2="343.5" y2="27.4" stroke="#6a68a8" stroke-width="0.84" stroke-linecap="butt"/>
<line x1="348.6" y1="27.1" x2="348.6" y2="22.4" stroke="#6a68a8" stroke-width="0.84" stroke-linecap="butt"/>
<line x1="347.2" y1="27.1" x2="350.1" y2="27.1" stroke="#6a68a8" stroke-width="0.84" stroke-linecap="butt"/>
<line x1="347.2" y1="22.4" x2="350.1" y2="22.4" stroke="#6a68a8" stroke-width="0.84" stroke-linecap="butt"/>
<line x1="355.2" y1="26.6" x2="355.2" y2="22.6" stroke="#6a68a8" stroke-width="0.84" stroke-linecap="butt"/>
<line x1="353.8" y1="26.6" x2="356.6" y2="26.6" stroke="#6a68a8" stroke-width="0.84" stroke-linecap="butt"/>
<line x1="353.8" y1="22.6" x2="356.6" y2="22.6" stroke="#6a68a8" stroke-width="0.84" stroke-linecap="butt"/>
<line x1="361.8" y1="26.9" x2="361.8" y2="22.7" stroke="#6a68a8" stroke-width="0.84" stroke-linecap="butt"/>
<line x1="360.3" y1="26.9" x2="363.2" y2="26.9" stroke="#6a68a8" stroke-width="0.84" stroke-linecap="butt"/>
<line x1="360.3" y1="22.7" x2="363.2" y2="22.7" stroke="#6a68a8" stroke-width="0.84" stroke-linecap="butt"/>
<line x1="368.3" y1="27" x2="368.3" y2="22.6" stroke="#6a68a8" stroke-width="0.84" stroke-linecap="butt"/>
<line x1="366.9" y1="27" x2="369.7" y2="27" stroke="#6a68a8" stroke-width="0.84" stroke-linecap="butt"/>
<line x1="366.9" y1="22.6" x2="369.7" y2="22.6" stroke="#6a68a8" stroke-width="0.84" stroke-linecap="butt"/>
<line x1="374.9" y1="25.4" x2="374.9" y2="22.7" stroke="#6a68a8" stroke-width="0.84" stroke-linecap="butt"/>
<line x1="373.4" y1="25.4" x2="376.3" y2="25.4" stroke="#6a68a8" stroke-width="0.84" stroke-linecap="butt"/>
<line x1="373.4" y1="22.7" x2="376.3" y2="22.7" stroke="#6a68a8" stroke-width="0.84" stroke-linecap="butt"/>
<line x1="381.4" y1="27.4" x2="381.4" y2="22.8" stroke="#6a68a8" stroke-width="0.84" stroke-linecap="butt"/>
<line x1="380" y1="27.4" x2="382.9" y2="27.4" stroke="#6a68a8" stroke-width="0.84" stroke-linecap="butt"/>
<line x1="380" y1="22.8" x2="382.9" y2="22.8" stroke="#6a68a8" stroke-width="0.84" stroke-linecap="butt"/>
<line x1="388" y1="25.6" x2="388" y2="21" stroke="#6a68a8" stroke-width="0.84" stroke-linecap="butt"/>
<line x1="386.6" y1="25.6" x2="389.4" y2="25.6" stroke="#6a68a8" stroke-width="0.84" stroke-linecap="butt"/>
<line x1="386.6" y1="21" x2="389.4" y2="21" stroke="#6a68a8" stroke-width="0.84" stroke-linecap="butt"/>
<path d="M283 114.9L285.3 118.9L280.8 118.9Z" fill="#6a68a8"/>
<path d="M289.6 113.7L291.8 117.7L287.3 117.7Z" fill="#6a68a8"/>
<path d="M296.1 113.2L298.4 117.2L293.9 117.2Z" fill="#6a68a8"/>
<path d="M302.7 113.3L304.9 117.4L300.4 117.4Z" fill="#6a68a8"/>
<path d="M309.3 110.1L311.5 114.1L307 114.1Z" fill="#6a68a8"/>
<path d="M315.8 108.6L318.1 112.6L313.6 112.6Z" fill="#6a68a8"/>
<path d="M322.4 85.7L324.6 89.7L320.1 89.7Z" fill="#6a68a8"/>
<path d="M328.9 55.9L331.2 59.9L326.7 59.9Z" fill="#6a68a8"/>
<path d="M335.5 38.4L337.8 42.5L333.3 42.5Z" fill="#6a68a8"/>
<path d="M342.1 26.2L344.3 30.2L339.8 30.2Z" fill="#6a68a8"/>
<path d="M348.6 22.5L350.9 26.6L346.4 26.6Z" fill="#6a68a8"/>
<path d="M355.2 22.4L357.4 26.4L352.9 26.4Z" fill="#6a68a8"/>
<path d="M361.8 22.6L364 26.6L359.5 26.6Z" fill="#6a68a8"/>
<path d="M368.3 22.6L370.6 26.6L366.1 26.6Z" fill="#6a68a8"/>
<path d="M374.9 21.8L377.1 25.9L372.6 25.9Z" fill="#6a68a8"/>
<path d="M381.4 22.8L383.7 26.9L379.2 26.9Z" fill="#6a68a8"/>
<path d="M388 21.1L390.2 25.1L385.8 25.1Z" fill="#6a68a8"/>
<polyline points="281.2,126.9 282.5,126.9 283.9,126.9 285.2,126.9 286.6,126.9 287.9,126.8 289.3,126.8 290.6,126.8 292,126.7 293.3,126.7 294.7,126.6 296,126.5 297.4,126.4 298.7,126.2 300.1,126 301.4,125.8 302.8,125.4 304.1,124.9 305.5,124.3 306.8,123.6 308.2,122.6 309.5,121.3 310.9,119.6 312.2,117.6 313.6,115 314.9,111.9 316.3,108.1 317.6,103.5 318.9,98.3 320.3,92.4 321.6,85.9 323,79.1 324.3,72.1 325.7,65.3 327,58.8 328.4,52.9 329.7,47.6 331.1,43.1 332.4,39.3 333.8,36.1 335.1,33.5 336.5,31.4 337.8,29.8 339.2,28.5 340.5,27.5 341.9,26.7 343.2,26.1 344.6,25.6 345.9,25.3 347.3,25 348.6,24.8 350,24.6 351.3,24.5 352.7,24.4 354,24.3 355.4,24.3 356.7,24.2 358.1,24.2 359.4,24.2 360.8,24.2 362.1,24.1 363.5,24.1 364.8,24.1 366.2,24.1 367.5,24.1 368.9,24.1 370.2,24.1 371.6,24.1 372.9,24.1 374.3,24.1 375.6,24.1 377,24.1 378.3,24.1 379.6,24.1 381,24.1 382.3,24.1 383.7,24.1 385,24.1 386.4,24.1 387.7,24.1 389.1,24.1" fill="none" stroke="#2a9488" stroke-width="1.2" stroke-linejoin="round"/>
<line x1="283" y1="135.2" x2="283" y2="115.4" stroke="#2a9488" stroke-width="0.84" stroke-linecap="butt"/>
<line x1="281.6" y1="135.2" x2="284.4" y2="135.2" stroke="#2a9488" stroke-width="0.84" stroke-linecap="butt"/>
<line x1="281.6" y1="115.4" x2="284.4" y2="115.4" stroke="#2a9488" stroke-width="0.84" stroke-linecap="butt"/>
<line x1="289.6" y1="134.1" x2="289.6" y2="115.1" stroke="#2a9488" stroke-width="0.84" stroke-linecap="butt"/>
<line x1="288.1" y1="134.1" x2="291" y2="134.1" stroke="#2a9488" stroke-width="0.84" stroke-linecap="butt"/>
<line x1="288.1" y1="115.1" x2="291" y2="115.1" stroke="#2a9488" stroke-width="0.84" stroke-linecap="butt"/>
<line x1="296.1" y1="132.4" x2="296.1" y2="116.3" stroke="#2a9488" stroke-width="0.84" stroke-linecap="butt"/>
<line x1="294.7" y1="132.4" x2="297.6" y2="132.4" stroke="#2a9488" stroke-width="0.84" stroke-linecap="butt"/>
<line x1="294.7" y1="116.3" x2="297.6" y2="116.3" stroke="#2a9488" stroke-width="0.84" stroke-linecap="butt"/>
<line x1="302.7" y1="140.4" x2="302.7" y2="111.9" stroke="#2a9488" stroke-width="0.84" stroke-linecap="butt"/>
<line x1="301.3" y1="140.4" x2="304.1" y2="140.4" stroke="#2a9488" stroke-width="0.84" stroke-linecap="butt"/>
<line x1="301.3" y1="111.9" x2="304.1" y2="111.9" stroke="#2a9488" stroke-width="0.84" stroke-linecap="butt"/>
<line x1="309.3" y1="130.3" x2="309.3" y2="109.1" stroke="#2a9488" stroke-width="0.84" stroke-linecap="butt"/>
<line x1="307.8" y1="130.3" x2="310.7" y2="130.3" stroke="#2a9488" stroke-width="0.84" stroke-linecap="butt"/>
<line x1="307.8" y1="109.1" x2="310.7" y2="109.1" stroke="#2a9488" stroke-width="0.84" stroke-linecap="butt"/>
<line x1="315.8" y1="124.1" x2="315.8" y2="101.6" stroke="#2a9488" stroke-width="0.84" stroke-linecap="butt"/>
<line x1="314.4" y1="124.1" x2="317.3" y2="124.1" stroke="#2a9488" stroke-width="0.84" stroke-linecap="butt"/>
<line x1="314.4" y1="101.6" x2="317.3" y2="101.6" stroke="#2a9488" stroke-width="0.84" stroke-linecap="butt"/>
<line x1="322.4" y1="88.6" x2="322.4" y2="78.4" stroke="#2a9488" stroke-width="0.84" stroke-linecap="butt"/>
<line x1="321" y1="88.6" x2="323.8" y2="88.6" stroke="#2a9488" stroke-width="0.84" stroke-linecap="butt"/>
<line x1="321" y1="78.4" x2="323.8" y2="78.4" stroke="#2a9488" stroke-width="0.84" stroke-linecap="butt"/>
<line x1="328.9" y1="56.9" x2="328.9" y2="44.9" stroke="#2a9488" stroke-width="0.84" stroke-linecap="butt"/>
<line x1="327.5" y1="56.9" x2="330.4" y2="56.9" stroke="#2a9488" stroke-width="0.84" stroke-linecap="butt"/>
<line x1="327.5" y1="44.9" x2="330.4" y2="44.9" stroke="#2a9488" stroke-width="0.84" stroke-linecap="butt"/>
<line x1="335.5" y1="39" x2="335.5" y2="34.7" stroke="#2a9488" stroke-width="0.84" stroke-linecap="butt"/>
<line x1="334.1" y1="39" x2="336.9" y2="39" stroke="#2a9488" stroke-width="0.84" stroke-linecap="butt"/>
<line x1="334.1" y1="34.7" x2="336.9" y2="34.7" stroke="#2a9488" stroke-width="0.84" stroke-linecap="butt"/>
<line x1="342.1" y1="28.7" x2="342.1" y2="25.1" stroke="#2a9488" stroke-width="0.84" stroke-linecap="butt"/>
<line x1="340.6" y1="28.7" x2="343.5" y2="28.7" stroke="#2a9488" stroke-width="0.84" stroke-linecap="butt"/>
<line x1="340.6" y1="25.1" x2="343.5" y2="25.1" stroke="#2a9488" stroke-width="0.84" stroke-linecap="butt"/>
<line x1="348.6" y1="26.5" x2="348.6" y2="22.5" stroke="#2a9488" stroke-width="0.84" stroke-linecap="butt"/>
<line x1="347.2" y1="26.5" x2="350.1" y2="26.5" stroke="#2a9488" stroke-width="0.84" stroke-linecap="butt"/>
<line x1="347.2" y1="22.5" x2="350.1" y2="22.5" stroke="#2a9488" stroke-width="0.84" stroke-linecap="butt"/>
<line x1="355.2" y1="25.1" x2="355.2" y2="23" stroke="#2a9488" stroke-width="0.84" stroke-linecap="butt"/>
<line x1="353.8" y1="25.1" x2="356.6" y2="25.1" stroke="#2a9488" stroke-width="0.84" stroke-linecap="butt"/>
<line x1="353.8" y1="23" x2="356.6" y2="23" stroke="#2a9488" stroke-width="0.84" stroke-linecap="butt"/>
<line x1="361.8" y1="26" x2="361.8" y2="23.4" stroke="#2a9488" stroke-width="0.84" stroke-linecap="butt"/>
<line x1="360.3" y1="26" x2="363.2" y2="26" stroke="#2a9488" stroke-width="0.84" stroke-linecap="butt"/>
<line x1="360.3" y1="23.4" x2="363.2" y2="23.4" stroke="#2a9488" stroke-width="0.84" stroke-linecap="butt"/>
<line x1="368.3" y1="23.8" x2="368.3" y2="22.6" stroke="#2a9488" stroke-width="0.84" stroke-linecap="butt"/>
<line x1="366.9" y1="23.8" x2="369.7" y2="23.8" stroke="#2a9488" stroke-width="0.84" stroke-linecap="butt"/>
<line x1="366.9" y1="22.6" x2="369.7" y2="22.6" stroke="#2a9488" stroke-width="0.84" stroke-linecap="butt"/>
<line x1="374.9" y1="24.7" x2="374.9" y2="22.9" stroke="#2a9488" stroke-width="0.84" stroke-linecap="butt"/>
<line x1="373.4" y1="24.7" x2="376.3" y2="24.7" stroke="#2a9488" stroke-width="0.84" stroke-linecap="butt"/>
<line x1="373.4" y1="22.9" x2="376.3" y2="22.9" stroke="#2a9488" stroke-width="0.84" stroke-linecap="butt"/>
<line x1="381.4" y1="25.7" x2="381.4" y2="23.2" stroke="#2a9488" stroke-width="0.84" stroke-linecap="butt"/>
<line x1="380" y1="25.7" x2="382.9" y2="25.7" stroke="#2a9488" stroke-width="0.84" stroke-linecap="butt"/>
<line x1="380" y1="23.2" x2="382.9" y2="23.2" stroke="#2a9488" stroke-width="0.84" stroke-linecap="butt"/>
<line x1="388" y1="24.5" x2="388" y2="23.1" stroke="#2a9488" stroke-width="0.84" stroke-linecap="butt"/>
<line x1="386.6" y1="24.5" x2="389.4" y2="24.5" stroke="#2a9488" stroke-width="0.84" stroke-linecap="butt"/>
<line x1="386.6" y1="23.1" x2="389.4" y2="23.1" stroke="#2a9488" stroke-width="0.84" stroke-linecap="butt"/>
<circle cx="283" cy="125.3" r="1.9" fill="#2a9488"/>
<circle cx="289.6" cy="124.6" r="1.9" fill="#2a9488"/>
<circle cx="296.1" cy="124.4" r="1.9" fill="#2a9488"/>
<circle cx="302.7" cy="126.2" r="1.9" fill="#2a9488"/>
<circle cx="309.3" cy="119.7" r="1.9" fill="#2a9488"/>
<circle cx="315.8" cy="112.8" r="1.9" fill="#2a9488"/>
<circle cx="322.4" cy="83.5" r="1.9" fill="#2a9488"/>
<circle cx="328.9" cy="50.9" r="1.9" fill="#2a9488"/>
<circle cx="335.5" cy="36.9" r="1.9" fill="#2a9488"/>
<circle cx="342.1" cy="26.9" r="1.9" fill="#2a9488"/>
<circle cx="348.6" cy="24.5" r="1.9" fill="#2a9488"/>
<circle cx="355.2" cy="24" r="1.9" fill="#2a9488"/>
<circle cx="361.8" cy="24.7" r="1.9" fill="#2a9488"/>
<circle cx="368.3" cy="23.2" r="1.9" fill="#2a9488"/>
<circle cx="374.9" cy="23.8" r="1.9" fill="#2a9488"/>
<circle cx="381.4" cy="24.4" r="1.9" fill="#2a9488"/>
<circle cx="388" cy="23.8" r="1.9" fill="#2a9488"/>
<polyline points="281.2,125.9 282.5,125.9 283.9,125.9 285.2,125.8 286.6,125.8 287.9,125.8 289.3,125.8 290.6,125.7 292,125.7 293.3,125.6 294.7,125.5 296,125.4 297.4,125.2 298.7,125 300.1,124.7 301.4,124.3 302.8,123.9 304.1,123.3 305.5,122.5 306.8,121.4 308.2,120.1 309.5,118.5 310.9,116.4 312.2,113.8 313.6,110.5 314.9,106.7 316.3,102.1 317.6,96.8 318.9,90.9 320.3,84.4 321.6,77.6 323,70.8 324.3,64 325.7,57.7 327,51.9 328.4,46.8 329.7,42.4 331.1,38.7 332.4,35.6 333.8,33.1 335.1,31.1 336.5,29.5 337.8,28.3 339.2,27.3 340.5,26.6 341.9,26 343.2,25.6 344.6,25.2 345.9,25 347.3,24.8 348.6,24.6 350,24.5 351.3,24.4 352.7,24.3 354,24.3 355.4,24.2 356.7,24.2 358.1,24.2 359.4,24.2 360.8,24.1 362.1,24.1 363.5,24.1 364.8,24.1 366.2,24.1 367.5,24.1 368.9,24.1 370.2,24.1 371.6,24.1 372.9,24.1 374.3,24.1 375.6,24.1 377,24.1 378.3,24.1 379.6,24.1 381,24.1 382.3,24.1 383.7,24.1 385,24.1 386.4,24.1 387.7,24.1 389.1,24.1" fill="none" stroke="#3aa882" stroke-width="1.2" stroke-linejoin="round"/>
<line x1="283" y1="137" x2="283" y2="118.8" stroke="#3aa882" stroke-width="0.84" stroke-linecap="butt"/>
<line x1="281.6" y1="137" x2="284.4" y2="137" stroke="#3aa882" stroke-width="0.84" stroke-linecap="butt"/>
<line x1="281.6" y1="118.8" x2="284.4" y2="118.8" stroke="#3aa882" stroke-width="0.84" stroke-linecap="butt"/>
<line x1="289.6" y1="132.7" x2="289.6" y2="112.2" stroke="#3aa882" stroke-width="0.84" stroke-linecap="butt"/>
<line x1="288.1" y1="132.7" x2="291" y2="132.7" stroke="#3aa882" stroke-width="0.84" stroke-linecap="butt"/>
<line x1="288.1" y1="112.2" x2="291" y2="112.2" stroke="#3aa882" stroke-width="0.84" stroke-linecap="butt"/>
<line x1="296.1" y1="129.6" x2="296.1" y2="120.3" stroke="#3aa882" stroke-width="0.84" stroke-linecap="butt"/>
<line x1="294.7" y1="129.6" x2="297.6" y2="129.6" stroke="#3aa882" stroke-width="0.84" stroke-linecap="butt"/>
<line x1="294.7" y1="120.3" x2="297.6" y2="120.3" stroke="#3aa882" stroke-width="0.84" stroke-linecap="butt"/>
<line x1="302.7" y1="137.5" x2="302.7" y2="110.1" stroke="#3aa882" stroke-width="0.84" stroke-linecap="butt"/>
<line x1="301.3" y1="137.5" x2="304.1" y2="137.5" stroke="#3aa882" stroke-width="0.84" stroke-linecap="butt"/>
<line x1="301.3" y1="110.1" x2="304.1" y2="110.1" stroke="#3aa882" stroke-width="0.84" stroke-linecap="butt"/>
<line x1="309.3" y1="123.3" x2="309.3" y2="106.6" stroke="#3aa882" stroke-width="0.84" stroke-linecap="butt"/>
<line x1="307.8" y1="123.3" x2="310.7" y2="123.3" stroke="#3aa882" stroke-width="0.84" stroke-linecap="butt"/>
<line x1="307.8" y1="106.6" x2="310.7" y2="106.6" stroke="#3aa882" stroke-width="0.84" stroke-linecap="butt"/>
<line x1="315.8" y1="112.5" x2="315.8" y2="93.6" stroke="#3aa882" stroke-width="0.84" stroke-linecap="butt"/>
<line x1="314.4" y1="112.5" x2="317.3" y2="112.5" stroke="#3aa882" stroke-width="0.84" stroke-linecap="butt"/>
<line x1="314.4" y1="93.6" x2="317.3" y2="93.6" stroke="#3aa882" stroke-width="0.84" stroke-linecap="butt"/>
<line x1="322.4" y1="74.3" x2="322.4" y2="65.4" stroke="#3aa882" stroke-width="0.84" stroke-linecap="butt"/>
<line x1="321" y1="74.3" x2="323.8" y2="74.3" stroke="#3aa882" stroke-width="0.84" stroke-linecap="butt"/>
<line x1="321" y1="65.4" x2="323.8" y2="65.4" stroke="#3aa882" stroke-width="0.84" stroke-linecap="butt"/>
<line x1="328.9" y1="47.3" x2="328.9" y2="40.2" stroke="#3aa882" stroke-width="0.84" stroke-linecap="butt"/>
<line x1="327.5" y1="47.3" x2="330.4" y2="47.3" stroke="#3aa882" stroke-width="0.84" stroke-linecap="butt"/>
<line x1="327.5" y1="40.2" x2="330.4" y2="40.2" stroke="#3aa882" stroke-width="0.84" stroke-linecap="butt"/>
<line x1="335.5" y1="31.3" x2="335.5" y2="24.9" stroke="#3aa882" stroke-width="0.84" stroke-linecap="butt"/>
<line x1="334.1" y1="31.3" x2="336.9" y2="31.3" stroke="#3aa882" stroke-width="0.84" stroke-linecap="butt"/>
<line x1="334.1" y1="24.9" x2="336.9" y2="24.9" stroke="#3aa882" stroke-width="0.84" stroke-linecap="butt"/>
<line x1="342.1" y1="28.6" x2="342.1" y2="25" stroke="#3aa882" stroke-width="0.84" stroke-linecap="butt"/>
<line x1="340.6" y1="28.6" x2="343.5" y2="28.6" stroke="#3aa882" stroke-width="0.84" stroke-linecap="butt"/>
<line x1="340.6" y1="25" x2="343.5" y2="25" stroke="#3aa882" stroke-width="0.84" stroke-linecap="butt"/>
<line x1="348.6" y1="26.1" x2="348.6" y2="22.8" stroke="#3aa882" stroke-width="0.84" stroke-linecap="butt"/>
<line x1="347.2" y1="26.1" x2="350.1" y2="26.1" stroke="#3aa882" stroke-width="0.84" stroke-linecap="butt"/>
<line x1="347.2" y1="22.8" x2="350.1" y2="22.8" stroke="#3aa882" stroke-width="0.84" stroke-linecap="butt"/>
<line x1="355.2" y1="24.8" x2="355.2" y2="22.6" stroke="#3aa882" stroke-width="0.84" stroke-linecap="butt"/>
<line x1="353.8" y1="24.8" x2="356.6" y2="24.8" stroke="#3aa882" stroke-width="0.84" stroke-linecap="butt"/>
<line x1="353.8" y1="22.6" x2="356.6" y2="22.6" stroke="#3aa882" stroke-width="0.84" stroke-linecap="butt"/>
<line x1="361.8" y1="27" x2="361.8" y2="23.1" stroke="#3aa882" stroke-width="0.84" stroke-linecap="butt"/>
<line x1="360.3" y1="27" x2="363.2" y2="27" stroke="#3aa882" stroke-width="0.84" stroke-linecap="butt"/>
<line x1="360.3" y1="23.1" x2="363.2" y2="23.1" stroke="#3aa882" stroke-width="0.84" stroke-linecap="butt"/>
<line x1="368.3" y1="24.3" x2="368.3" y2="22.1" stroke="#3aa882" stroke-width="0.84" stroke-linecap="butt"/>
<line x1="366.9" y1="24.3" x2="369.7" y2="24.3" stroke="#3aa882" stroke-width="0.84" stroke-linecap="butt"/>
<line x1="366.9" y1="22.1" x2="369.7" y2="22.1" stroke="#3aa882" stroke-width="0.84" stroke-linecap="butt"/>
<line x1="374.9" y1="25.3" x2="374.9" y2="24.3" stroke="#3aa882" stroke-width="0.84" stroke-linecap="butt"/>
<line x1="373.4" y1="25.3" x2="376.3" y2="25.3" stroke="#3aa882" stroke-width="0.84" stroke-linecap="butt"/>
<line x1="373.4" y1="24.3" x2="376.3" y2="24.3" stroke="#3aa882" stroke-width="0.84" stroke-linecap="butt"/>
<line x1="381.4" y1="25.2" x2="381.4" y2="23.2" stroke="#3aa882" stroke-width="0.84" stroke-linecap="butt"/>
<line x1="380" y1="25.2" x2="382.9" y2="25.2" stroke="#3aa882" stroke-width="0.84" stroke-linecap="butt"/>
<line x1="380" y1="23.2" x2="382.9" y2="23.2" stroke="#3aa882" stroke-width="0.84" stroke-linecap="butt"/>
<line x1="388" y1="25.4" x2="388" y2="24.2" stroke="#3aa882" stroke-width="0.84" stroke-linecap="butt"/>
<line x1="386.6" y1="25.4" x2="389.4" y2="25.4" stroke="#3aa882" stroke-width="0.84" stroke-linecap="butt"/>
<line x1="386.6" y1="24.2" x2="389.4" y2="24.2" stroke="#3aa882" stroke-width="0.84" stroke-linecap="butt"/>
<circle cx="283" cy="127.9" r="1.9" fill="#3aa882"/>
<circle cx="289.6" cy="122.4" r="1.9" fill="#3aa882"/>
<circle cx="296.1" cy="124.9" r="1.9" fill="#3aa882"/>
<circle cx="302.7" cy="123.8" r="1.9" fill="#3aa882"/>
<circle cx="309.3" cy="115" r="1.9" fill="#3aa882"/>
<circle cx="315.8" cy="103.1" r="1.9" fill="#3aa882"/>
<circle cx="322.4" cy="69.9" r="1.9" fill="#3aa882"/>
<circle cx="328.9" cy="43.8" r="1.9" fill="#3aa882"/>
<circle cx="335.5" cy="28.1" r="1.9" fill="#3aa882"/>
<circle cx="342.1" cy="26.8" r="1.9" fill="#3aa882"/>
<circle cx="348.6" cy="24.4" r="1.9" fill="#3aa882"/>
<circle cx="355.2" cy="23.7" r="1.9" fill="#3aa882"/>
<circle cx="361.8" cy="25.1" r="1.9" fill="#3aa882"/>
<circle cx="368.3" cy="23.2" r="1.9" fill="#3aa882"/>
<circle cx="374.9" cy="24.8" r="1.9" fill="#3aa882"/>
<circle cx="381.4" cy="24.2" r="1.9" fill="#3aa882"/>
<circle cx="388" cy="24.8" r="1.9" fill="#3aa882"/>
<line x1="43.1" y1="290.9" x2="176.3" y2="290.9" stroke="#777" stroke-width="0.8" stroke-dasharray="0.9 1.8" stroke-linecap="butt"/>
<rect x="63.4" y="288.3" width="3.5" height="3.5" fill="#a8a8a8"/>
<rect x="72.5" y="287.9" width="3.5" height="3.5" fill="#a8a8a8"/>
<rect x="81.5" y="287.5" width="3.5" height="3.5" fill="#a8a8a8"/>
<rect x="90.6" y="287.1" width="3.5" height="3.5" fill="#a8a8a8"/>
<rect x="99.7" y="286.7" width="3.5" height="3.5" fill="#a8a8a8"/>
<rect x="108.7" y="286.3" width="3.5" height="3.5" fill="#a8a8a8"/>
<rect x="117.8" y="285.9" width="3.5" height="3.5" fill="#a8a8a8"/>
<rect x="126.8" y="285.5" width="3.5" height="3.5" fill="#a8a8a8"/>
<rect x="135.9" y="285.1" width="3.5" height="3.5" fill="#a8a8a8"/>
<line x1="137.7" y1="288.5" x2="137.7" y2="284.9" stroke="#a8a8a8" stroke-width="0.84" stroke-linecap="butt"/>
<line x1="136.4" y1="288.5" x2="138.9" y2="288.5" stroke="#a8a8a8" stroke-width="0.84" stroke-linecap="butt"/>
<line x1="136.4" y1="284.9" x2="138.9" y2="284.9" stroke="#a8a8a8" stroke-width="0.84" stroke-linecap="butt"/>
<rect x="145" y="284.7" width="3.5" height="3.5" fill="#a8a8a8"/>
<line x1="146.7" y1="288.1" x2="146.7" y2="284.5" stroke="#a8a8a8" stroke-width="0.84" stroke-linecap="butt"/>
<line x1="145.5" y1="288.1" x2="147.9" y2="288.1" stroke="#a8a8a8" stroke-width="0.84" stroke-linecap="butt"/>
<line x1="145.5" y1="284.5" x2="147.9" y2="284.5" stroke="#a8a8a8" stroke-width="0.84" stroke-linecap="butt"/>
<rect x="154" y="284.3" width="3.5" height="3.5" fill="#a8a8a8"/>
<line x1="155.8" y1="287.7" x2="155.8" y2="284.1" stroke="#a8a8a8" stroke-width="0.84" stroke-linecap="butt"/>
<line x1="154.6" y1="287.7" x2="157" y2="287.7" stroke="#a8a8a8" stroke-width="0.84" stroke-linecap="butt"/>
<line x1="154.6" y1="284.1" x2="157" y2="284.1" stroke="#a8a8a8" stroke-width="0.84" stroke-linecap="butt"/>
<rect x="163.1" y="283.9" width="3.5" height="3.5" fill="#a8a8a8"/>
<line x1="164.8" y1="287.3" x2="164.8" y2="283.7" stroke="#a8a8a8" stroke-width="0.84" stroke-linecap="butt"/>
<line x1="163.6" y1="287.3" x2="166.1" y2="287.3" stroke="#a8a8a8" stroke-width="0.84" stroke-linecap="butt"/>
<line x1="163.6" y1="283.7" x2="166.1" y2="283.7" stroke="#a8a8a8" stroke-width="0.84" stroke-linecap="butt"/>
<rect x="46.6" y="287.9" width="3.5" height="3.5" fill="#a8a8a8"/>
<polyline points="62.3,286.8 63.6,286.7 64.9,286.7 66.1,286.7 67.4,286.6 68.7,286.6 70,286.5 71.3,286.4 72.6,286.3 73.8,286.2 75.1,286.1 76.4,285.9 77.7,285.8 79,285.5 80.3,285.3 81.5,285 82.8,284.6 84.1,284.2 85.4,283.7 86.7,283.2 87.9,282.5 89.2,281.8 90.5,280.9 91.8,279.9 93.1,278.8 94.4,277.5 95.6,276.1 96.9,274.6 98.2,272.9 99.5,271.1 100.8,269.2 102.1,267.2 103.3,265.2 104.6,263.2 105.9,261.1 107.2,259.2 108.5,257.2 109.8,255.4 111,253.7 112.3,252.2 113.6,250.7 114.9,249.4 116.2,248.3 117.4,247.3 118.7,246.4 120,245.6 121.3,244.9 122.6,244.4 123.9,243.9 125.1,243.4 126.4,243.1 127.7,242.8 129,242.5 130.3,242.3 131.6,242.1 132.8,241.9 134.1,241.8 135.4,241.7 136.7,241.6 138,241.5 139.2,241.5 140.5,241.4 141.8,241.4 143.1,241.3 144.4,241.3 145.7,241.3 146.9,241.2 148.2,241.2 149.5,241.2 150.8,241.2 152.1,241.2 153.4,241.2 154.6,241.2 155.9,241.1 157.2,241.1 158.5,241.1 159.8,241.1 161.1,241.1 162.3,241.1 163.6,241.1 164.9,241.1" fill="none" stroke="#6a68a8" stroke-width="1.2" stroke-linejoin="round"/>
<circle cx="49.3" cy="286.9" r="2" fill="#fff" stroke="#6a68a8" stroke-width="0.9"/>
<line x1="46.3" y1="286.9" x2="54.8" y2="286.9" stroke="#6a68a8" stroke-width="1.3" stroke-linecap="butt"/>
<line x1="74.2" y1="286.6" x2="74.2" y2="283.3" stroke="#6a68a8" stroke-width="0.84" stroke-linecap="butt"/>
<line x1="72.8" y1="286.6" x2="75.6" y2="286.6" stroke="#6a68a8" stroke-width="0.84" stroke-linecap="butt"/>
<line x1="72.8" y1="283.3" x2="75.6" y2="283.3" stroke="#6a68a8" stroke-width="0.84" stroke-linecap="butt"/>
<line x1="137.7" y1="245.6" x2="137.7" y2="241.6" stroke="#6a68a8" stroke-width="0.84" stroke-linecap="butt"/>
<line x1="136.2" y1="245.6" x2="139.1" y2="245.6" stroke="#6a68a8" stroke-width="0.84" stroke-linecap="butt"/>
<line x1="136.2" y1="241.6" x2="139.1" y2="241.6" stroke="#6a68a8" stroke-width="0.84" stroke-linecap="butt"/>
<line x1="155.8" y1="241.7" x2="155.8" y2="241.3" stroke="#6a68a8" stroke-width="0.84" stroke-linecap="butt"/>
<line x1="154.3" y1="241.7" x2="157.2" y2="241.7" stroke="#6a68a8" stroke-width="0.84" stroke-linecap="butt"/>
<line x1="154.3" y1="241.3" x2="157.2" y2="241.3" stroke="#6a68a8" stroke-width="0.84" stroke-linecap="butt"/>
<circle cx="65.2" cy="288.3" r="2.1" fill="#fff" stroke="#6a68a8" stroke-width="0.9"/>
<circle cx="74.2" cy="285" r="2.1" fill="#fff" stroke="#6a68a8" stroke-width="0.9"/>
<circle cx="83.3" cy="285" r="2.1" fill="#fff" stroke="#6a68a8" stroke-width="0.9"/>
<circle cx="92.3" cy="277.5" r="2.1" fill="#fff" stroke="#6a68a8" stroke-width="0.9"/>
<circle cx="101.4" cy="267.1" r="2.1" fill="#fff" stroke="#6a68a8" stroke-width="0.9"/>
<circle cx="110.5" cy="256.6" r="2.1" fill="#fff" stroke="#6a68a8" stroke-width="0.9"/>
<circle cx="119.5" cy="243.5" r="2.1" fill="#fff" stroke="#6a68a8" stroke-width="0.9"/>
<circle cx="128.6" cy="240.4" r="2.1" fill="#fff" stroke="#6a68a8" stroke-width="0.9"/>
<circle cx="137.7" cy="243.6" r="2.1" fill="#fff" stroke="#6a68a8" stroke-width="0.9"/>
<circle cx="146.7" cy="239.3" r="2.1" fill="#fff" stroke="#6a68a8" stroke-width="0.9"/>
<circle cx="155.8" cy="241.5" r="2.1" fill="#fff" stroke="#6a68a8" stroke-width="0.9"/>
<circle cx="164.8" cy="241.2" r="2.1" fill="#fff" stroke="#6a68a8" stroke-width="0.9"/>
<polyline points="62.3,288.5 63.6,288.5 64.9,288.5 66.1,288.5 67.4,288.5 68.7,288.5 70,288.5 71.3,288.5 72.6,288.5 73.8,288.4 75.1,288.4 76.4,288.4 77.7,288.4 79,288.4 80.3,288.4 81.5,288.3 82.8,288.3 84.1,288.2 85.4,288.2 86.7,288.1 87.9,288 89.2,287.9 90.5,287.8 91.8,287.6 93.1,287.4 94.4,287.1 95.6,286.8 96.9,286.4 98.2,285.9 99.5,285.3 100.8,284.6 102.1,283.7 103.3,282.6 104.6,281.4 105.9,279.9 107.2,278.1 108.5,276.1 109.8,273.8 111,271.3 112.3,268.4 113.6,265.4 114.9,262.2 116.2,258.8 117.4,255.5 118.7,252.2 120,249 121.3,246 122.6,243.2 123.9,240.7 125.1,238.5 126.4,236.5 127.7,234.9 129,233.4 130.3,232.2 131.6,231.2 132.8,230.4 134.1,229.7 135.4,229.1 136.7,228.7 138,228.3 139.2,228 140.5,227.7 141.8,227.5 143.1,227.3 144.4,227.2 145.7,227.1 146.9,227 148.2,226.9 149.5,226.9 150.8,226.8 152.1,226.8 153.4,226.8 154.6,226.8 155.9,226.7 157.2,226.7 158.5,226.7 159.8,226.7 161.1,226.7 162.3,226.7 163.6,226.7 164.9,226.7" fill="none" stroke="#6a68a8" stroke-width="1.2" stroke-linejoin="round"/>
<rect x="47.5" y="286.7" width="3.5" height="3.5" fill="#fff" stroke="#6a68a8" stroke-width="0.9"/>
<line x1="46.3" y1="288.5" x2="54.8" y2="288.5" stroke="#6a68a8" stroke-width="1.3" stroke-linecap="butt"/>
<line x1="65.2" y1="290.7" x2="65.2" y2="289.9" stroke="#6a68a8" stroke-width="0.84" stroke-linecap="butt"/>
<line x1="63.7" y1="290.7" x2="66.6" y2="290.7" stroke="#6a68a8" stroke-width="0.84" stroke-linecap="butt"/>
<line x1="63.7" y1="289.9" x2="66.6" y2="289.9" stroke="#6a68a8" stroke-width="0.84" stroke-linecap="butt"/>
<line x1="101.4" y1="286.2" x2="101.4" y2="284.4" stroke="#6a68a8" stroke-width="0.84" stroke-linecap="butt"/>
<line x1="100" y1="286.2" x2="102.8" y2="286.2" stroke="#6a68a8" stroke-width="0.84" stroke-linecap="butt"/>
<line x1="100" y1="284.4" x2="102.8" y2="284.4" stroke="#6a68a8" stroke-width="0.84" stroke-linecap="butt"/>
<line x1="155.8" y1="225.4" x2="155.8" y2="223.8" stroke="#6a68a8" stroke-width="0.84" stroke-linecap="butt"/>
<line x1="154.3" y1="225.4" x2="157.2" y2="225.4" stroke="#6a68a8" stroke-width="0.84" stroke-linecap="butt"/>
<line x1="154.3" y1="223.8" x2="157.2" y2="223.8" stroke="#6a68a8" stroke-width="0.84" stroke-linecap="butt"/>
<rect x="63.3" y="288.4" width="3.7" height="3.7" fill="#fff" stroke="#6a68a8" stroke-width="0.9"/>
<rect x="72.4" y="286.9" width="3.7" height="3.7" fill="#fff" stroke="#6a68a8" stroke-width="0.9"/>
<rect x="81.4" y="285.6" width="3.7" height="3.7" fill="#fff" stroke="#6a68a8" stroke-width="0.9"/>
<rect x="90.5" y="285.9" width="3.7" height="3.7" fill="#fff" stroke="#6a68a8" stroke-width="0.9"/>
<rect x="99.5" y="283.4" width="3.7" height="3.7" fill="#fff" stroke="#6a68a8" stroke-width="0.9"/>
<rect x="108.6" y="270.2" width="3.7" height="3.7" fill="#fff" stroke="#6a68a8" stroke-width="0.9"/>
<rect x="117.7" y="248.7" width="3.7" height="3.7" fill="#fff" stroke="#6a68a8" stroke-width="0.9"/>
<rect x="126.7" y="230.7" width="3.7" height="3.7" fill="#fff" stroke="#6a68a8" stroke-width="0.9"/>
<rect x="135.8" y="226.3" width="3.7" height="3.7" fill="#fff" stroke="#6a68a8" stroke-width="0.9"/>
<rect x="144.9" y="222.8" width="3.7" height="3.7" fill="#fff" stroke="#6a68a8" stroke-width="0.9"/>
<rect x="153.9" y="222.7" width="3.7" height="3.7" fill="#fff" stroke="#6a68a8" stroke-width="0.9"/>
<rect x="163" y="223.7" width="3.7" height="3.7" fill="#fff" stroke="#6a68a8" stroke-width="0.9"/>
<polyline points="62.3,286.1 63.6,286.1 64.9,286.1 66.1,286 67.4,286 68.7,286 70,286 71.3,286 72.6,286 73.8,286 75.1,285.9 76.4,285.9 77.7,285.9 79,285.8 80.3,285.8 81.5,285.7 82.8,285.6 84.1,285.5 85.4,285.4 86.7,285.2 87.9,285.1 89.2,284.8 90.5,284.6 91.8,284.2 93.1,283.8 94.4,283.4 95.6,282.8 96.9,282.1 98.2,281.3 99.5,280.3 100.8,279.1 102.1,277.8 103.3,276.2 104.6,274.4 105.9,272.4 107.2,270.1 108.5,267.6 109.8,264.8 111,261.9 112.3,258.8 113.6,255.7 114.9,252.5 116.2,249.4 117.4,246.4 118.7,243.6 120,240.9 121.3,238.5 122.6,236.3 123.9,234.4 125.1,232.7 126.4,231.2 127.7,229.9 129,228.8 130.3,227.9 131.6,227.1 132.8,226.5 134.1,226 135.4,225.5 136.7,225.2 138,224.8 139.2,224.6 140.5,224.4 141.8,224.2 143.1,224.1 144.4,224 145.7,223.9 146.9,223.8 148.2,223.7 149.5,223.7 150.8,223.6 152.1,223.6 153.4,223.6 154.6,223.6 155.9,223.5 157.2,223.5 158.5,223.5 159.8,223.5 161.1,223.5 162.3,223.5 163.6,223.5 164.9,223.5" fill="none" stroke="#6a68a8" stroke-width="1.2" stroke-linejoin="round"/>
<circle cx="49.3" cy="286.1" r="2" fill="#fff" stroke="#6a68a8" stroke-width="0.9"/>
<line x1="46.3" y1="286.1" x2="54.8" y2="286.1" stroke="#6a68a8" stroke-width="1.3" stroke-linecap="butt"/>
<line x1="83.3" y1="289.3" x2="83.3" y2="286.3" stroke="#6a68a8" stroke-width="0.84" stroke-linecap="butt"/>
<line x1="81.8" y1="289.3" x2="84.7" y2="289.3" stroke="#6a68a8" stroke-width="0.84" stroke-linecap="butt"/>
<line x1="81.8" y1="286.3" x2="84.7" y2="286.3" stroke="#6a68a8" stroke-width="0.84" stroke-linecap="butt"/>
<line x1="92.3" y1="287.3" x2="92.3" y2="285.1" stroke="#6a68a8" stroke-width="0.84" stroke-linecap="butt"/>
<line x1="90.9" y1="287.3" x2="93.8" y2="287.3" stroke="#6a68a8" stroke-width="0.84" stroke-linecap="butt"/>
<line x1="90.9" y1="285.1" x2="93.8" y2="285.1" stroke="#6a68a8" stroke-width="0.84" stroke-linecap="butt"/>
<line x1="119.5" y1="241.7" x2="119.5" y2="240.9" stroke="#6a68a8" stroke-width="0.84" stroke-linecap="butt"/>
<line x1="118.1" y1="241.7" x2="121" y2="241.7" stroke="#6a68a8" stroke-width="0.84" stroke-linecap="butt"/>
<line x1="118.1" y1="240.9" x2="121" y2="240.9" stroke="#6a68a8" stroke-width="0.84" stroke-linecap="butt"/>
<line x1="155.8" y1="226.9" x2="155.8" y2="224.2" stroke="#6a68a8" stroke-width="0.84" stroke-linecap="butt"/>
<line x1="154.3" y1="226.9" x2="157.2" y2="226.9" stroke="#6a68a8" stroke-width="0.84" stroke-linecap="butt"/>
<line x1="154.3" y1="224.2" x2="157.2" y2="224.2" stroke="#6a68a8" stroke-width="0.84" stroke-linecap="butt"/>
<line x1="164.8" y1="225.2" x2="164.8" y2="220" stroke="#6a68a8" stroke-width="0.84" stroke-linecap="butt"/>
<line x1="163.4" y1="225.2" x2="166.3" y2="225.2" stroke="#6a68a8" stroke-width="0.84" stroke-linecap="butt"/>
<line x1="163.4" y1="220" x2="166.3" y2="220" stroke="#6a68a8" stroke-width="0.84" stroke-linecap="butt"/>
<circle cx="65.2" cy="284.1" r="2.1" fill="#fff" stroke="#6a68a8" stroke-width="0.9"/>
<circle cx="74.2" cy="284.1" r="2.1" fill="#fff" stroke="#6a68a8" stroke-width="0.9"/>
<circle cx="83.3" cy="287.8" r="2.1" fill="#fff" stroke="#6a68a8" stroke-width="0.9"/>
<circle cx="92.3" cy="286.2" r="2.1" fill="#fff" stroke="#6a68a8" stroke-width="0.9"/>
<circle cx="101.4" cy="279.6" r="2.1" fill="#fff" stroke="#6a68a8" stroke-width="0.9"/>
<circle cx="110.5" cy="263.6" r="2.1" fill="#fff" stroke="#6a68a8" stroke-width="0.9"/>
<circle cx="119.5" cy="241.3" r="2.1" fill="#fff" stroke="#6a68a8" stroke-width="0.9"/>
<circle cx="128.6" cy="231.1" r="2.1" fill="#fff" stroke="#6a68a8" stroke-width="0.9"/>
<circle cx="137.7" cy="224.7" r="2.1" fill="#fff" stroke="#6a68a8" stroke-width="0.9"/>
<circle cx="146.7" cy="225.9" r="2.1" fill="#fff" stroke="#6a68a8" stroke-width="0.9"/>
<circle cx="155.8" cy="225.5" r="2.1" fill="#fff" stroke="#6a68a8" stroke-width="0.9"/>
<circle cx="164.8" cy="222.6" r="2.1" fill="#fff" stroke="#6a68a8" stroke-width="0.9"/>
<polyline points="62.3,283.6 63.6,283.6 64.9,283.6 66.1,283.5 67.4,283.5 68.7,283.5 70,283.4 71.3,283.3 72.6,283.3 73.8,283.1 75.1,283 76.4,282.8 77.7,282.6 79,282.3 80.3,282 81.5,281.6 82.8,281.1 84.1,280.4 85.4,279.6 86.7,278.6 87.9,277.5 89.2,276.1 90.5,274.4 91.8,272.5 93.1,270.2 94.4,267.7 95.6,265 96.9,262 98.2,258.8 99.5,255.6 100.8,252.4 102.1,249.3 103.3,246.3 104.6,243.6 105.9,241.2 107.2,239 108.5,237.1 109.8,235.5 111,234.2 112.3,233.1 113.6,232.1 114.9,231.4 116.2,230.8 117.4,230.3 118.7,229.9 120,229.5 121.3,229.3 122.6,229.1 123.9,228.9 125.1,228.8 126.4,228.7 127.7,228.6 129,228.5 130.3,228.5 131.6,228.4 132.8,228.4 134.1,228.4 135.4,228.3 136.7,228.3 138,228.3 139.2,228.3 140.5,228.3 141.8,228.3 143.1,228.3 144.4,228.3 145.7,228.3 146.9,228.3 148.2,228.3 149.5,228.3 150.8,228.3 152.1,228.3 153.4,228.3 154.6,228.3 155.9,228.3 157.2,228.3 158.5,228.3 159.8,228.3 161.1,228.3 162.3,228.3 163.6,228.3 164.9,228.3" fill="none" stroke="#3aa882" stroke-width="1.2" stroke-linejoin="round"/>
<path d="M49.3 281.4L51.5 285.5L47.1 285.5Z" fill="#3aa882"/>
<line x1="46.3" y1="283.7" x2="54.8" y2="283.7" stroke="#3aa882" stroke-width="1.3" stroke-linecap="butt"/>
<line x1="65.2" y1="286" x2="65.2" y2="282.4" stroke="#3aa882" stroke-width="0.84" stroke-linecap="butt"/>
<line x1="63.7" y1="286" x2="66.6" y2="286" stroke="#3aa882" stroke-width="0.84" stroke-linecap="butt"/>
<line x1="63.7" y1="282.4" x2="66.6" y2="282.4" stroke="#3aa882" stroke-width="0.84" stroke-linecap="butt"/>
<line x1="92.3" y1="274.9" x2="92.3" y2="269.9" stroke="#3aa882" stroke-width="0.84" stroke-linecap="butt"/>
<line x1="90.9" y1="274.9" x2="93.8" y2="274.9" stroke="#3aa882" stroke-width="0.84" stroke-linecap="butt"/>
<line x1="90.9" y1="269.9" x2="93.8" y2="269.9" stroke="#3aa882" stroke-width="0.84" stroke-linecap="butt"/>
<line x1="101.4" y1="251.3" x2="101.4" y2="249.9" stroke="#3aa882" stroke-width="0.84" stroke-linecap="butt"/>
<line x1="100" y1="251.3" x2="102.8" y2="251.3" stroke="#3aa882" stroke-width="0.84" stroke-linecap="butt"/>
<line x1="100" y1="249.9" x2="102.8" y2="249.9" stroke="#3aa882" stroke-width="0.84" stroke-linecap="butt"/>
<line x1="119.5" y1="228.6" x2="119.5" y2="226.6" stroke="#3aa882" stroke-width="0.84" stroke-linecap="butt"/>
<line x1="118.1" y1="228.6" x2="121" y2="228.6" stroke="#3aa882" stroke-width="0.84" stroke-linecap="butt"/>
<line x1="118.1" y1="226.6" x2="121" y2="226.6" stroke="#3aa882" stroke-width="0.84" stroke-linecap="butt"/>
<line x1="146.7" y1="230.7" x2="146.7" y2="229.8" stroke="#3aa882" stroke-width="0.84" stroke-linecap="butt"/>
<line x1="145.3" y1="230.7" x2="148.1" y2="230.7" stroke="#3aa882" stroke-width="0.84" stroke-linecap="butt"/>
<line x1="145.3" y1="229.8" x2="148.1" y2="229.8" stroke="#3aa882" stroke-width="0.84" stroke-linecap="butt"/>
<line x1="155.8" y1="228.8" x2="155.8" y2="224.1" stroke="#3aa882" stroke-width="0.84" stroke-linecap="butt"/>
<line x1="154.3" y1="228.8" x2="157.2" y2="228.8" stroke="#3aa882" stroke-width="0.84" stroke-linecap="butt"/>
<line x1="154.3" y1="224.1" x2="157.2" y2="224.1" stroke="#3aa882" stroke-width="0.84" stroke-linecap="butt"/>
<line x1="164.8" y1="230.7" x2="164.8" y2="229.9" stroke="#3aa882" stroke-width="0.84" stroke-linecap="butt"/>
<line x1="163.4" y1="230.7" x2="166.3" y2="230.7" stroke="#3aa882" stroke-width="0.84" stroke-linecap="butt"/>
<line x1="163.4" y1="229.9" x2="166.3" y2="229.9" stroke="#3aa882" stroke-width="0.84" stroke-linecap="butt"/>
<path d="M65.2 281.8L67.5 286.1L62.8 286.1Z" fill="#3aa882"/>
<path d="M74.2 280L76.6 284.3L71.8 284.3Z" fill="#3aa882"/>
<path d="M83.3 276.1L85.7 280.4L80.9 280.4Z" fill="#3aa882"/>
<path d="M92.3 270L94.7 274.3L90 274.3Z" fill="#3aa882"/>
<path d="M101.4 248.2L103.8 252.5L99 252.5Z" fill="#3aa882"/>
<path d="M110.5 231.2L112.8 235.5L108.1 235.5Z" fill="#3aa882"/>
<path d="M119.5 225.2L121.9 229.5L117.1 229.5Z" fill="#3aa882"/>
<path d="M128.6 226.5L131 230.8L126.2 230.8Z" fill="#3aa882"/>
<path d="M137.7 226.6L140 230.9L135.3 230.9Z" fill="#3aa882"/>
<path d="M146.7 227.8L149.1 232.1L144.3 232.1Z" fill="#3aa882"/>
<path d="M155.8 224.1L158.2 228.4L153.4 228.4Z" fill="#3aa882"/>
<path d="M164.8 227.9L167.2 232.2L162.5 232.2Z" fill="#3aa882"/>
<polyline points="62.3,285.2 63.6,285.2 64.9,285.2 66.1,285.2 67.4,285.1 68.7,285.1 70,285 71.3,284.9 72.6,284.9 73.8,284.7 75.1,284.6 76.4,284.4 77.7,284.1 79,283.8 80.3,283.4 81.5,282.9 82.8,282.3 84.1,281.5 85.4,280.5 86.7,279.3 87.9,277.8 89.2,276 90.5,273.8 91.8,271.3 93.1,268.4 94.4,265.1 95.6,261.5 96.9,257.7 98.2,253.8 99.5,249.8 100.8,245.9 102.1,242.2 103.3,238.9 104.6,235.8 105.9,233.2 107.2,230.9 108.5,229 109.8,227.4 111,226.1 112.3,225.1 113.6,224.2 114.9,223.6 116.2,223 117.4,222.6 118.7,222.3 120,222 121.3,221.8 122.6,221.6 123.9,221.5 125.1,221.4 126.4,221.3 127.7,221.3 129,221.2 130.3,221.2 131.6,221.1 132.8,221.1 134.1,221.1 135.4,221.1 136.7,221.1 138,221.1 139.2,221.1 140.5,221.1 141.8,221.1 143.1,221.1 144.4,221 145.7,221 146.9,221 148.2,221 149.5,221 150.8,221 152.1,221 153.4,221 154.6,221 155.9,221 157.2,221 158.5,221 159.8,221 161.1,221 162.3,221 163.6,221 164.9,221" fill="none" stroke="#3aa882" stroke-width="1.2" stroke-linejoin="round"/>
<path d="M49.3 287.5L51.5 283.5L47.1 283.5Z" fill="#3aa882"/>
<line x1="46.3" y1="285.3" x2="54.8" y2="285.3" stroke="#3aa882" stroke-width="1.3" stroke-linecap="butt"/>
<line x1="65.2" y1="285.3" x2="65.2" y2="283" stroke="#3aa882" stroke-width="0.84" stroke-linecap="butt"/>
<line x1="63.7" y1="285.3" x2="66.6" y2="285.3" stroke="#3aa882" stroke-width="0.84" stroke-linecap="butt"/>
<line x1="63.7" y1="283" x2="66.6" y2="283" stroke="#3aa882" stroke-width="0.84" stroke-linecap="butt"/>
<line x1="74.2" y1="285.5" x2="74.2" y2="283.2" stroke="#3aa882" stroke-width="0.84" stroke-linecap="butt"/>
<line x1="72.8" y1="285.5" x2="75.6" y2="285.5" stroke="#3aa882" stroke-width="0.84" stroke-linecap="butt"/>
<line x1="72.8" y1="283.2" x2="75.6" y2="283.2" stroke="#3aa882" stroke-width="0.84" stroke-linecap="butt"/>
<line x1="83.3" y1="281.3" x2="83.3" y2="278.8" stroke="#3aa882" stroke-width="0.84" stroke-linecap="butt"/>
<line x1="81.8" y1="281.3" x2="84.7" y2="281.3" stroke="#3aa882" stroke-width="0.84" stroke-linecap="butt"/>
<line x1="81.8" y1="278.8" x2="84.7" y2="278.8" stroke="#3aa882" stroke-width="0.84" stroke-linecap="butt"/>
<line x1="92.3" y1="269.8" x2="92.3" y2="266.2" stroke="#3aa882" stroke-width="0.84" stroke-linecap="butt"/>
<line x1="90.9" y1="269.8" x2="93.8" y2="269.8" stroke="#3aa882" stroke-width="0.84" stroke-linecap="butt"/>
<line x1="90.9" y1="266.2" x2="93.8" y2="266.2" stroke="#3aa882" stroke-width="0.84" stroke-linecap="butt"/>
<line x1="137.7" y1="224.4" x2="137.7" y2="219.5" stroke="#3aa882" stroke-width="0.84" stroke-linecap="butt"/>
<line x1="136.2" y1="224.4" x2="139.1" y2="224.4" stroke="#3aa882" stroke-width="0.84" stroke-linecap="butt"/>
<line x1="136.2" y1="219.5" x2="139.1" y2="219.5" stroke="#3aa882" stroke-width="0.84" stroke-linecap="butt"/>
<line x1="155.8" y1="219" x2="155.8" y2="218.9" stroke="#3aa882" stroke-width="0.84" stroke-linecap="butt"/>
<line x1="154.3" y1="219" x2="157.2" y2="219" stroke="#3aa882" stroke-width="0.84" stroke-linecap="butt"/>
<line x1="154.3" y1="218.9" x2="157.2" y2="218.9" stroke="#3aa882" stroke-width="0.84" stroke-linecap="butt"/>
<path d="M65.2 286.5L67.5 282.3L62.8 282.3Z" fill="#3aa882"/>
<path d="M74.2 286.7L76.6 282.5L71.8 282.5Z" fill="#3aa882"/>
<path d="M83.3 282.4L85.7 278.1L80.9 278.1Z" fill="#3aa882"/>
<path d="M92.3 270.4L94.7 266.1L90 266.1Z" fill="#3aa882"/>
<path d="M101.4 244.5L103.8 240.2L99 240.2Z" fill="#3aa882"/>
<path d="M110.5 229.4L112.8 225.1L108.1 225.1Z" fill="#3aa882"/>
<path d="M119.5 223L121.9 218.7L117.1 218.7Z" fill="#3aa882"/>
<path d="M128.6 224.5L131 220.3L126.2 220.3Z" fill="#3aa882"/>
<path d="M137.7 224.3L140 220L135.3 220Z" fill="#3aa882"/>
<path d="M146.7 223.9L149.1 219.6L144.3 219.6Z" fill="#3aa882"/>
<path d="M155.8 221.3L158.2 217L153.4 217Z" fill="#3aa882"/>
<path d="M164.8 221.5L167.2 217.2L162.5 217.2Z" fill="#3aa882"/>
<polyline points="62.3,283.7 63.6,283.7 64.9,283.6 66.1,283.6 67.4,283.6 68.7,283.6 70,283.6 71.3,283.6 72.6,283.5 73.8,283.5 75.1,283.4 76.4,283.3 77.7,283.2 79,283.1 80.3,282.9 81.5,282.6 82.8,282.3 84.1,281.8 85.4,281.2 86.7,280.5 87.9,279.5 89.2,278.3 90.5,276.7 91.8,274.8 93.1,272.4 94.4,269.5 95.6,266.2 96.9,262.3 98.2,258.1 99.5,253.6 100.8,249 102.1,244.5 103.3,240.2 104.6,236.3 105.9,232.8 107.2,229.8 108.5,227.3 109.8,225.3 111,223.6 112.3,222.3 113.6,221.3 114.9,220.5 116.2,219.8 117.4,219.4 118.7,219 120,218.7 121.3,218.5 122.6,218.3 123.9,218.2 125.1,218.1 126.4,218 127.7,218 129,218 130.3,217.9 131.6,217.9 132.8,217.9 134.1,217.9 135.4,217.9 136.7,217.9 138,217.8 139.2,217.8 140.5,217.8 141.8,217.8 143.1,217.8 144.4,217.8 145.7,217.8 146.9,217.8 148.2,217.8 149.5,217.8 150.8,217.8 152.1,217.8 153.4,217.8 154.6,217.8 155.9,217.8 157.2,217.8 158.5,217.8 159.8,217.8 161.1,217.8 162.3,217.8 163.6,217.8 164.9,217.8" fill="none" stroke="#3aa882" stroke-width="1.2" stroke-linejoin="round"/>
<path d="M49.3 281.4L51.5 285.5L47.1 285.5Z" fill="#3aa882"/>
<line x1="46.3" y1="283.7" x2="54.8" y2="283.7" stroke="#3aa882" stroke-width="1.3" stroke-linecap="butt"/>
<line x1="65.2" y1="285.5" x2="65.2" y2="281.4" stroke="#3aa882" stroke-width="0.84" stroke-linecap="butt"/>
<line x1="63.7" y1="285.5" x2="66.6" y2="285.5" stroke="#3aa882" stroke-width="0.84" stroke-linecap="butt"/>
<line x1="63.7" y1="281.4" x2="66.6" y2="281.4" stroke="#3aa882" stroke-width="0.84" stroke-linecap="butt"/>
<line x1="74.2" y1="285.5" x2="74.2" y2="280.7" stroke="#3aa882" stroke-width="0.84" stroke-linecap="butt"/>
<line x1="72.8" y1="285.5" x2="75.6" y2="285.5" stroke="#3aa882" stroke-width="0.84" stroke-linecap="butt"/>
<line x1="72.8" y1="280.7" x2="75.6" y2="280.7" stroke="#3aa882" stroke-width="0.84" stroke-linecap="butt"/>
<line x1="92.3" y1="273.8" x2="92.3" y2="272.4" stroke="#3aa882" stroke-width="0.84" stroke-linecap="butt"/>
<line x1="90.9" y1="273.8" x2="93.8" y2="273.8" stroke="#3aa882" stroke-width="0.84" stroke-linecap="butt"/>
<line x1="90.9" y1="272.4" x2="93.8" y2="272.4" stroke="#3aa882" stroke-width="0.84" stroke-linecap="butt"/>
<line x1="128.6" y1="217.7" x2="128.6" y2="215.5" stroke="#3aa882" stroke-width="0.84" stroke-linecap="butt"/>
<line x1="127.2" y1="217.7" x2="130" y2="217.7" stroke="#3aa882" stroke-width="0.84" stroke-linecap="butt"/>
<line x1="127.2" y1="215.5" x2="130" y2="215.5" stroke="#3aa882" stroke-width="0.84" stroke-linecap="butt"/>
<path d="M65.2 281L67.5 285.3L62.8 285.3Z" fill="#3aa882"/>
<path d="M74.2 280.7L76.6 285L71.8 285Z" fill="#3aa882"/>
<path d="M83.3 277.5L85.7 281.8L80.9 281.8Z" fill="#3aa882"/>
<path d="M92.3 270.7L94.7 275L90 275Z" fill="#3aa882"/>
<path d="M101.4 243L103.8 247.2L99 247.2Z" fill="#3aa882"/>
<path d="M110.5 224L112.8 228.3L108.1 228.3Z" fill="#3aa882"/>
<path d="M119.5 216.2L121.9 220.5L117.1 220.5Z" fill="#3aa882"/>
<path d="M128.6 214.2L131 218.5L126.2 218.5Z" fill="#3aa882"/>
<path d="M137.7 217.5L140 221.8L135.3 221.8Z" fill="#3aa882"/>
<path d="M146.7 217.5L149.1 221.7L144.3 221.7Z" fill="#3aa882"/>
<path d="M155.8 214.3L158.2 218.6L153.4 218.6Z" fill="#3aa882"/>
<path d="M164.8 213.5L167.2 217.8L162.5 217.8Z" fill="#3aa882"/>
<line x1="219.4" y1="289.9" x2="352.2" y2="289.9" stroke="#777" stroke-width="0.8" stroke-dasharray="0.9 1.8" stroke-linecap="butt"/>
<rect x="239.8" y="283.3" width="3.4" height="6.4" fill="#a8a8a8"/>
<rect x="248.9" y="283.3" width="3.4" height="6.4" fill="#a8a8a8"/>
<rect x="258" y="283.3" width="3.4" height="6.4" fill="#a8a8a8"/>
<rect x="267" y="283.3" width="3.4" height="6.4" fill="#a8a8a8"/>
<rect x="276.1" y="283.3" width="3.4" height="6.4" fill="#a8a8a8"/>
<rect x="285.2" y="283.3" width="3.4" height="6.4" fill="#a8a8a8"/>
<rect x="294.2" y="283.3" width="3.4" height="6.4" fill="#a8a8a8"/>
<rect x="303.3" y="283.3" width="3.4" height="6.4" fill="#a8a8a8"/>
<rect x="312.4" y="283.3" width="3.4" height="6.4" fill="#a8a8a8"/>
<rect x="321.4" y="283.3" width="3.4" height="6.4" fill="#a8a8a8"/>
<rect x="330.5" y="283.3" width="3.4" height="6.4" fill="#a8a8a8"/>
<rect x="339.5" y="283.3" width="3.4" height="6.4" fill="#a8a8a8"/>
<rect x="223.7" y="282.7" width="3.4" height="6.4" fill="#a8a8a8"/>
<polyline points="238.7,281.1 240,281.1 241.3,281.1 242.5,281.1 243.8,281.1 245.1,281.1 246.4,281.1 247.7,281.1 249,281.1 250.2,281.1 251.5,281.1 252.8,281.1 254.1,281.1 255.4,281.1 256.7,281.1 257.9,281.1 259.2,281.1 260.5,281 261.8,281 263.1,281 264.3,281 265.6,281 266.9,281 268.2,281 269.5,280.9 270.8,280.9 272,280.8 273.3,280.7 274.6,280.6 275.9,280.5 277.2,280.4 278.5,280.2 279.7,279.9 281,279.6 282.3,279.2 283.6,278.8 284.9,278.2 286.2,277.5 287.4,276.6 288.7,275.6 290,274.5 291.3,273.2 292.6,271.7 293.8,270.2 295.1,268.6 296.4,266.9 297.7,265.3 299,263.8 300.3,262.3 301.5,261.1 302.8,259.9 304.1,258.9 305.4,258.1 306.7,257.4 308,256.9 309.2,256.4 310.5,256 311.8,255.7 313.1,255.5 314.4,255.3 315.6,255.2 316.9,255 318.2,254.9 319.5,254.9 320.8,254.8 322.1,254.8 323.3,254.7 324.6,254.7 325.9,254.7 327.2,254.7 328.5,254.7 329.8,254.6 331,254.6 332.3,254.6 333.6,254.6 334.9,254.6 336.2,254.6 337.5,254.6 338.7,254.6 340,254.6 341.3,254.6" fill="none" stroke="#6a68a8" stroke-width="1.2" stroke-linejoin="round"/>
<circle cx="225.4" cy="281.1" r="2" fill="#fff" stroke="#6a68a8" stroke-width="0.9"/>
<line x1="222.4" y1="281.1" x2="230.9" y2="281.1" stroke="#6a68a8" stroke-width="1.3" stroke-linecap="butt"/>
<line x1="286.9" y1="278.7" x2="286.9" y2="274" stroke="#6a68a8" stroke-width="0.84" stroke-linecap="butt"/>
<line x1="285.4" y1="278.7" x2="288.3" y2="278.7" stroke="#6a68a8" stroke-width="0.84" stroke-linecap="butt"/>
<line x1="285.4" y1="274" x2="288.3" y2="274" stroke="#6a68a8" stroke-width="0.84" stroke-linecap="butt"/>
<line x1="305" y1="257.7" x2="305" y2="256.6" stroke="#6a68a8" stroke-width="0.84" stroke-linecap="butt"/>
<line x1="303.6" y1="257.7" x2="306.4" y2="257.7" stroke="#6a68a8" stroke-width="0.84" stroke-linecap="butt"/>
<line x1="303.6" y1="256.6" x2="306.4" y2="256.6" stroke="#6a68a8" stroke-width="0.84" stroke-linecap="butt"/>
<line x1="314.1" y1="255.4" x2="314.1" y2="252.6" stroke="#6a68a8" stroke-width="0.84" stroke-linecap="butt"/>
<line x1="312.6" y1="255.4" x2="315.5" y2="255.4" stroke="#6a68a8" stroke-width="0.84" stroke-linecap="butt"/>
<line x1="312.6" y1="252.6" x2="315.5" y2="252.6" stroke="#6a68a8" stroke-width="0.84" stroke-linecap="butt"/>
<line x1="323.1" y1="256.3" x2="323.1" y2="250.1" stroke="#6a68a8" stroke-width="0.84" stroke-linecap="butt"/>
<line x1="321.7" y1="256.3" x2="324.5" y2="256.3" stroke="#6a68a8" stroke-width="0.84" stroke-linecap="butt"/>
<line x1="321.7" y1="250.1" x2="324.5" y2="250.1" stroke="#6a68a8" stroke-width="0.84" stroke-linecap="butt"/>
<line x1="332.2" y1="253.8" x2="332.2" y2="251.8" stroke="#6a68a8" stroke-width="0.84" stroke-linecap="butt"/>
<line x1="330.8" y1="253.8" x2="333.6" y2="253.8" stroke="#6a68a8" stroke-width="0.84" stroke-linecap="butt"/>
<line x1="330.8" y1="251.8" x2="333.6" y2="251.8" stroke="#6a68a8" stroke-width="0.84" stroke-linecap="butt"/>
<line x1="341.2" y1="256.1" x2="341.2" y2="252" stroke="#6a68a8" stroke-width="0.84" stroke-linecap="butt"/>
<line x1="339.8" y1="256.1" x2="342.7" y2="256.1" stroke="#6a68a8" stroke-width="0.84" stroke-linecap="butt"/>
<line x1="339.8" y1="252" x2="342.7" y2="252" stroke="#6a68a8" stroke-width="0.84" stroke-linecap="butt"/>
<circle cx="241.5" cy="280.2" r="2.1" fill="#fff" stroke="#6a68a8" stroke-width="0.9"/>
<circle cx="250.6" cy="280.2" r="2.1" fill="#fff" stroke="#6a68a8" stroke-width="0.9"/>
<circle cx="259.7" cy="279.4" r="2.1" fill="#fff" stroke="#6a68a8" stroke-width="0.9"/>
<circle cx="268.7" cy="281.3" r="2.1" fill="#fff" stroke="#6a68a8" stroke-width="0.9"/>
<circle cx="277.8" cy="279" r="2.1" fill="#fff" stroke="#6a68a8" stroke-width="0.9"/>
<circle cx="286.9" cy="276.4" r="2.1" fill="#fff" stroke="#6a68a8" stroke-width="0.9"/>
<circle cx="295.9" cy="266.1" r="2.1" fill="#fff" stroke="#6a68a8" stroke-width="0.9"/>
<circle cx="305" cy="257.1" r="2.1" fill="#fff" stroke="#6a68a8" stroke-width="0.9"/>
<circle cx="314.1" cy="254" r="2.1" fill="#fff" stroke="#6a68a8" stroke-width="0.9"/>
<circle cx="323.1" cy="253.2" r="2.1" fill="#fff" stroke="#6a68a8" stroke-width="0.9"/>
<circle cx="332.2" cy="252.8" r="2.1" fill="#fff" stroke="#6a68a8" stroke-width="0.9"/>
<circle cx="341.2" cy="254.1" r="2.1" fill="#fff" stroke="#6a68a8" stroke-width="0.9"/>
<polyline points="238.7,281.1 240,281.1 241.3,281.1 242.5,281.1 243.8,281.1 245.1,281.1 246.4,281.1 247.7,281.1 249,281.1 250.2,281 251.5,281 252.8,281 254.1,281 255.4,281 256.7,281 257.9,281 259.2,280.9 260.5,280.9 261.8,280.9 263.1,280.8 264.3,280.8 265.6,280.7 266.9,280.6 268.2,280.5 269.5,280.4 270.8,280.2 272,280 273.3,279.8 274.6,279.5 275.9,279.2 277.2,278.8 278.5,278.3 279.7,277.8 281,277.1 282.3,276.3 283.6,275.4 284.9,274.3 286.2,273.1 287.4,271.6 288.7,270.1 290,268.3 291.3,266.4 292.6,264.4 293.8,262.2 295.1,260 296.4,257.8 297.7,255.6 299,253.5 300.3,251.4 301.5,249.5 302.8,247.8 304.1,246.2 305.4,244.8 306.7,243.6 308,242.6 309.2,241.6 310.5,240.9 311.8,240.2 313.1,239.6 314.4,239.2 315.6,238.8 316.9,238.5 318.2,238.2 319.5,238 320.8,237.8 322.1,237.7 323.3,237.5 324.6,237.4 325.9,237.3 327.2,237.3 328.5,237.2 329.8,237.2 331,237.1 332.3,237.1 333.6,237.1 334.9,237.1 336.2,237 337.5,237 338.7,237 340,237 341.3,237" fill="none" stroke="#6a68a8" stroke-width="1.2" stroke-linejoin="round"/>
<circle cx="225.4" cy="281.1" r="2" fill="#fff" stroke="#6a68a8" stroke-width="0.9"/>
<line x1="222.4" y1="281.1" x2="230.9" y2="281.1" stroke="#6a68a8" stroke-width="1.3" stroke-linecap="butt"/>
<line x1="250.6" y1="282.9" x2="250.6" y2="281.7" stroke="#6a68a8" stroke-width="0.84" stroke-linecap="butt"/>
<line x1="249.2" y1="282.9" x2="252" y2="282.9" stroke="#6a68a8" stroke-width="0.84" stroke-linecap="butt"/>
<line x1="249.2" y1="281.7" x2="252" y2="281.7" stroke="#6a68a8" stroke-width="0.84" stroke-linecap="butt"/>
<line x1="259.7" y1="283.2" x2="259.7" y2="282.1" stroke="#6a68a8" stroke-width="0.84" stroke-linecap="butt"/>
<line x1="258.2" y1="283.2" x2="261.1" y2="283.2" stroke="#6a68a8" stroke-width="0.84" stroke-linecap="butt"/>
<line x1="258.2" y1="282.1" x2="261.1" y2="282.1" stroke="#6a68a8" stroke-width="0.84" stroke-linecap="butt"/>
<line x1="277.8" y1="280" x2="277.8" y2="276.5" stroke="#6a68a8" stroke-width="0.84" stroke-linecap="butt"/>
<line x1="276.4" y1="280" x2="279.2" y2="280" stroke="#6a68a8" stroke-width="0.84" stroke-linecap="butt"/>
<line x1="276.4" y1="276.5" x2="279.2" y2="276.5" stroke="#6a68a8" stroke-width="0.84" stroke-linecap="butt"/>
<line x1="305" y1="249.7" x2="305" y2="244" stroke="#6a68a8" stroke-width="0.84" stroke-linecap="butt"/>
<line x1="303.6" y1="249.7" x2="306.4" y2="249.7" stroke="#6a68a8" stroke-width="0.84" stroke-linecap="butt"/>
<line x1="303.6" y1="244" x2="306.4" y2="244" stroke="#6a68a8" stroke-width="0.84" stroke-linecap="butt"/>
<line x1="323.1" y1="240.4" x2="323.1" y2="236.9" stroke="#6a68a8" stroke-width="0.84" stroke-linecap="butt"/>
<line x1="321.7" y1="240.4" x2="324.5" y2="240.4" stroke="#6a68a8" stroke-width="0.84" stroke-linecap="butt"/>
<line x1="321.7" y1="236.9" x2="324.5" y2="236.9" stroke="#6a68a8" stroke-width="0.84" stroke-linecap="butt"/>
<circle cx="241.5" cy="280" r="2.1" fill="#fff" stroke="#6a68a8" stroke-width="0.9"/>
<circle cx="250.6" cy="282.3" r="2.1" fill="#fff" stroke="#6a68a8" stroke-width="0.9"/>
<circle cx="259.7" cy="282.7" r="2.1" fill="#fff" stroke="#6a68a8" stroke-width="0.9"/>
<circle cx="268.7" cy="280.6" r="2.1" fill="#fff" stroke="#6a68a8" stroke-width="0.9"/>
<circle cx="277.8" cy="278.3" r="2.1" fill="#fff" stroke="#6a68a8" stroke-width="0.9"/>
<circle cx="286.9" cy="270.7" r="2.1" fill="#fff" stroke="#6a68a8" stroke-width="0.9"/>
<circle cx="295.9" cy="260.5" r="2.1" fill="#fff" stroke="#6a68a8" stroke-width="0.9"/>
<circle cx="305" cy="246.8" r="2.1" fill="#fff" stroke="#6a68a8" stroke-width="0.9"/>
<circle cx="314.1" cy="240.6" r="2.1" fill="#fff" stroke="#6a68a8" stroke-width="0.9"/>
<circle cx="323.1" cy="238.7" r="2.1" fill="#fff" stroke="#6a68a8" stroke-width="0.9"/>
<circle cx="332.2" cy="238.2" r="2.1" fill="#fff" stroke="#6a68a8" stroke-width="0.9"/>
<circle cx="341.2" cy="236.1" r="2.1" fill="#fff" stroke="#6a68a8" stroke-width="0.9"/>
<polyline points="238.7,280.3 240,280.3 241.3,280.3 242.5,280.2 243.8,280.2 245.1,280.2 246.4,280.2 247.7,280.2 249,280.2 250.2,280.2 251.5,280.2 252.8,280.2 254.1,280.1 255.4,280.1 256.7,280.1 257.9,280 259.2,280 260.5,279.9 261.8,279.8 263.1,279.7 264.3,279.6 265.6,279.5 266.9,279.3 268.2,279.2 269.5,278.9 270.8,278.7 272,278.3 273.3,278 274.6,277.5 275.9,277 277.2,276.3 278.5,275.6 279.7,274.8 281,273.8 282.3,272.6 283.6,271.3 284.9,269.8 286.2,268.1 287.4,266.3 288.7,264.3 290,262.1 291.3,259.7 292.6,257.3 293.8,254.8 295.1,252.3 296.4,249.7 297.7,247.3 299,244.9 300.3,242.6 301.5,240.5 302.8,238.6 304.1,236.9 305.4,235.3 306.7,233.9 308,232.7 309.2,231.7 310.5,230.7 311.8,230 313.1,229.3 314.4,228.7 315.6,228.2 316.9,227.8 318.2,227.5 319.5,227.2 320.8,227 322.1,226.7 323.3,226.6 324.6,226.4 325.9,226.3 327.2,226.2 328.5,226.1 329.8,226.1 331,226 332.3,226 333.6,225.9 334.9,225.9 336.2,225.9 337.5,225.8 338.7,225.8 340,225.8 341.3,225.8" fill="none" stroke="#6a68a8" stroke-width="1.2" stroke-linejoin="round"/>
<circle cx="225.4" cy="280.3" r="2" fill="#fff" stroke="#6a68a8" stroke-width="0.9"/>
<line x1="222.4" y1="280.3" x2="230.9" y2="280.3" stroke="#6a68a8" stroke-width="1.3" stroke-linecap="butt"/>
<line x1="250.6" y1="284.5" x2="250.6" y2="279.4" stroke="#6a68a8" stroke-width="0.84" stroke-linecap="butt"/>
<line x1="249.2" y1="284.5" x2="252" y2="284.5" stroke="#6a68a8" stroke-width="0.84" stroke-linecap="butt"/>
<line x1="249.2" y1="279.4" x2="252" y2="279.4" stroke="#6a68a8" stroke-width="0.84" stroke-linecap="butt"/>
<line x1="277.8" y1="277" x2="277.8" y2="276" stroke="#6a68a8" stroke-width="0.84" stroke-linecap="butt"/>
<line x1="276.4" y1="277" x2="279.2" y2="277" stroke="#6a68a8" stroke-width="0.84" stroke-linecap="butt"/>
<line x1="276.4" y1="276" x2="279.2" y2="276" stroke="#6a68a8" stroke-width="0.84" stroke-linecap="butt"/>
<line x1="286.9" y1="267.8" x2="286.9" y2="266.2" stroke="#6a68a8" stroke-width="0.84" stroke-linecap="butt"/>
<line x1="285.4" y1="267.8" x2="288.3" y2="267.8" stroke="#6a68a8" stroke-width="0.84" stroke-linecap="butt"/>
<line x1="285.4" y1="266.2" x2="288.3" y2="266.2" stroke="#6a68a8" stroke-width="0.84" stroke-linecap="butt"/>
<line x1="332.2" y1="228.7" x2="332.2" y2="225.3" stroke="#6a68a8" stroke-width="0.84" stroke-linecap="butt"/>
<line x1="330.8" y1="228.7" x2="333.6" y2="228.7" stroke="#6a68a8" stroke-width="0.84" stroke-linecap="butt"/>
<line x1="330.8" y1="225.3" x2="333.6" y2="225.3" stroke="#6a68a8" stroke-width="0.84" stroke-linecap="butt"/>
<line x1="341.2" y1="230.2" x2="341.2" y2="225.3" stroke="#6a68a8" stroke-width="0.84" stroke-linecap="butt"/>
<line x1="339.8" y1="230.2" x2="342.7" y2="230.2" stroke="#6a68a8" stroke-width="0.84" stroke-linecap="butt"/>
<line x1="339.8" y1="225.3" x2="342.7" y2="225.3" stroke="#6a68a8" stroke-width="0.84" stroke-linecap="butt"/>
<circle cx="241.5" cy="281.4" r="2.1" fill="#fff" stroke="#6a68a8" stroke-width="0.9"/>
<circle cx="250.6" cy="282" r="2.1" fill="#fff" stroke="#6a68a8" stroke-width="0.9"/>
<circle cx="259.7" cy="278.2" r="2.1" fill="#fff" stroke="#6a68a8" stroke-width="0.9"/>
<circle cx="268.7" cy="277.9" r="2.1" fill="#fff" stroke="#6a68a8" stroke-width="0.9"/>
<circle cx="277.8" cy="276.5" r="2.1" fill="#fff" stroke="#6a68a8" stroke-width="0.9"/>
<circle cx="286.9" cy="267" r="2.1" fill="#fff" stroke="#6a68a8" stroke-width="0.9"/>
<circle cx="295.9" cy="250.6" r="2.1" fill="#fff" stroke="#6a68a8" stroke-width="0.9"/>
<circle cx="305" cy="236.7" r="2.1" fill="#fff" stroke="#6a68a8" stroke-width="0.9"/>
<circle cx="314.1" cy="226.9" r="2.1" fill="#fff" stroke="#6a68a8" stroke-width="0.9"/>
<circle cx="323.1" cy="226" r="2.1" fill="#fff" stroke="#6a68a8" stroke-width="0.9"/>
<circle cx="332.2" cy="227" r="2.1" fill="#fff" stroke="#6a68a8" stroke-width="0.9"/>
<circle cx="341.2" cy="227.8" r="2.1" fill="#fff" stroke="#6a68a8" stroke-width="0.9"/>
<polyline points="238.7,285.9 240,285.9 241.3,285.9 242.5,285.8 243.8,285.8 245.1,285.8 246.4,285.8 247.7,285.8 249,285.8 250.2,285.8 251.5,285.7 252.8,285.7 254.1,285.7 255.4,285.6 256.7,285.6 257.9,285.5 259.2,285.4 260.5,285.3 261.8,285.2 263.1,285 264.3,284.9 265.6,284.7 266.9,284.4 268.2,284.1 269.5,283.8 270.8,283.4 272,282.9 273.3,282.4 274.6,281.7 275.9,281 277.2,280.1 278.5,279.1 279.7,277.9 281,276.7 282.3,275.2 283.6,273.7 284.9,272 286.2,270.1 287.4,268.2 288.7,266.2 290,264.2 291.3,262.2 292.6,260.2 293.8,258.3 295.1,256.5 296.4,254.8 297.7,253.2 299,251.8 300.3,250.5 301.5,249.4 302.8,248.4 304.1,247.5 305.4,246.8 306.7,246.1 308,245.5 309.2,245.1 310.5,244.7 311.8,244.3 313.1,244 314.4,243.8 315.6,243.6 316.9,243.4 318.2,243.3 319.5,243.2 320.8,243.1 322.1,243 323.3,242.9 324.6,242.9 325.9,242.8 327.2,242.8 328.5,242.7 329.8,242.7 331,242.7 332.3,242.7 333.6,242.7 334.9,242.6 336.2,242.6 337.5,242.6 338.7,242.6 340,242.6 341.3,242.6" fill="none" stroke="#3aa882" stroke-width="1.2" stroke-linejoin="round"/>
<path d="M225.4 283.6L227.6 287.7L223.2 287.7Z" fill="#3aa882"/>
<line x1="222.4" y1="285.9" x2="230.9" y2="285.9" stroke="#3aa882" stroke-width="1.3" stroke-linecap="butt"/>
<line x1="250.6" y1="287" x2="250.6" y2="281.9" stroke="#3aa882" stroke-width="0.84" stroke-linecap="butt"/>
<line x1="249.2" y1="287" x2="252" y2="287" stroke="#3aa882" stroke-width="0.84" stroke-linecap="butt"/>
<line x1="249.2" y1="281.9" x2="252" y2="281.9" stroke="#3aa882" stroke-width="0.84" stroke-linecap="butt"/>
<line x1="277.8" y1="283.9" x2="277.8" y2="278.6" stroke="#3aa882" stroke-width="0.84" stroke-linecap="butt"/>
<line x1="276.4" y1="283.9" x2="279.2" y2="283.9" stroke="#3aa882" stroke-width="0.84" stroke-linecap="butt"/>
<line x1="276.4" y1="278.6" x2="279.2" y2="278.6" stroke="#3aa882" stroke-width="0.84" stroke-linecap="butt"/>
<line x1="286.9" y1="271.8" x2="286.9" y2="268.3" stroke="#3aa882" stroke-width="0.84" stroke-linecap="butt"/>
<line x1="285.4" y1="271.8" x2="288.3" y2="271.8" stroke="#3aa882" stroke-width="0.84" stroke-linecap="butt"/>
<line x1="285.4" y1="268.3" x2="288.3" y2="268.3" stroke="#3aa882" stroke-width="0.84" stroke-linecap="butt"/>
<line x1="305" y1="251.3" x2="305" y2="245.9" stroke="#3aa882" stroke-width="0.84" stroke-linecap="butt"/>
<line x1="303.6" y1="251.3" x2="306.4" y2="251.3" stroke="#3aa882" stroke-width="0.84" stroke-linecap="butt"/>
<line x1="303.6" y1="245.9" x2="306.4" y2="245.9" stroke="#3aa882" stroke-width="0.84" stroke-linecap="butt"/>
<line x1="314.1" y1="244.9" x2="314.1" y2="242.9" stroke="#3aa882" stroke-width="0.84" stroke-linecap="butt"/>
<line x1="312.6" y1="244.9" x2="315.5" y2="244.9" stroke="#3aa882" stroke-width="0.84" stroke-linecap="butt"/>
<line x1="312.6" y1="242.9" x2="315.5" y2="242.9" stroke="#3aa882" stroke-width="0.84" stroke-linecap="butt"/>
<line x1="323.1" y1="244" x2="323.1" y2="242.1" stroke="#3aa882" stroke-width="0.84" stroke-linecap="butt"/>
<line x1="321.7" y1="244" x2="324.5" y2="244" stroke="#3aa882" stroke-width="0.84" stroke-linecap="butt"/>
<line x1="321.7" y1="242.1" x2="324.5" y2="242.1" stroke="#3aa882" stroke-width="0.84" stroke-linecap="butt"/>
<path d="M241.5 285.5L243.9 289.8L239.2 289.8Z" fill="#3aa882"/>
<path d="M250.6 282.1L253 286.4L248.2 286.4Z" fill="#3aa882"/>
<path d="M259.7 281.6L262.1 285.9L257.3 285.9Z" fill="#3aa882"/>
<path d="M268.7 280.3L271.1 284.6L266.4 284.6Z" fill="#3aa882"/>
<path d="M277.8 278.9L280.2 283.2L275.4 283.2Z" fill="#3aa882"/>
<path d="M286.9 267.6L289.2 271.9L284.5 271.9Z" fill="#3aa882"/>
<path d="M295.9 252.2L298.3 256.5L293.5 256.5Z" fill="#3aa882"/>
<path d="M305 246.2L307.4 250.5L302.6 250.5Z" fill="#3aa882"/>
<path d="M314.1 241.6L316.4 245.8L311.7 245.8Z" fill="#3aa882"/>
<path d="M323.1 240.7L325.5 245L320.7 245Z" fill="#3aa882"/>
<path d="M332.2 238.5L334.6 242.8L329.8 242.8Z" fill="#3aa882"/>
<path d="M341.2 239.9L343.6 244.2L338.9 244.2Z" fill="#3aa882"/>
<polyline points="238.7,285.1 240,285.1 241.3,285.1 242.5,285 243.8,285 245.1,285 246.4,285 247.7,285 249,285 250.2,285 251.5,284.9 252.8,284.9 254.1,284.9 255.4,284.8 256.7,284.8 257.9,284.7 259.2,284.6 260.5,284.6 261.8,284.5 263.1,284.3 264.3,284.2 265.6,284 266.9,283.8 268.2,283.5 269.5,283.2 270.8,282.8 272,282.4 273.3,281.9 274.6,281.2 275.9,280.5 277.2,279.7 278.5,278.7 279.7,277.6 281,276.3 282.3,274.9 283.6,273.3 284.9,271.5 286.2,269.6 287.4,267.5 288.7,265.3 290,262.9 291.3,260.6 292.6,258.2 293.8,255.8 295.1,253.5 296.4,251.3 297.7,249.2 299,247.3 300.3,245.5 301.5,243.9 302.8,242.5 304.1,241.2 305.4,240.1 306.7,239.1 308,238.3 309.2,237.6 310.5,237 311.8,236.5 313.1,236 314.4,235.6 315.6,235.3 316.9,235.1 318.2,234.9 319.5,234.7 320.8,234.5 322.1,234.4 323.3,234.3 324.6,234.2 325.9,234.1 327.2,234.1 328.5,234 329.8,234 331,233.9 332.3,233.9 333.6,233.9 334.9,233.9 336.2,233.8 337.5,233.8 338.7,233.8 340,233.8 341.3,233.8" fill="none" stroke="#3aa882" stroke-width="1.2" stroke-linejoin="round"/>
<path d="M225.4 287.3L227.6 283.3L223.2 283.3Z" fill="#3aa882"/>
<line x1="222.4" y1="285.1" x2="230.9" y2="285.1" stroke="#3aa882" stroke-width="1.3" stroke-linecap="butt"/>
<line x1="259.7" y1="289.4" x2="259.7" y2="283" stroke="#3aa882" stroke-width="0.84" stroke-linecap="butt"/>
<line x1="258.2" y1="289.4" x2="261.1" y2="289.4" stroke="#3aa882" stroke-width="0.84" stroke-linecap="butt"/>
<line x1="258.2" y1="283" x2="261.1" y2="283" stroke="#3aa882" stroke-width="0.84" stroke-linecap="butt"/>
<line x1="277.8" y1="281.4" x2="277.8" y2="277.4" stroke="#3aa882" stroke-width="0.84" stroke-linecap="butt"/>
<line x1="276.4" y1="281.4" x2="279.2" y2="281.4" stroke="#3aa882" stroke-width="0.84" stroke-linecap="butt"/>
<line x1="276.4" y1="277.4" x2="279.2" y2="277.4" stroke="#3aa882" stroke-width="0.84" stroke-linecap="butt"/>
<line x1="286.9" y1="267.8" x2="286.9" y2="265.3" stroke="#3aa882" stroke-width="0.84" stroke-linecap="butt"/>
<line x1="285.4" y1="267.8" x2="288.3" y2="267.8" stroke="#3aa882" stroke-width="0.84" stroke-linecap="butt"/>
<line x1="285.4" y1="265.3" x2="288.3" y2="265.3" stroke="#3aa882" stroke-width="0.84" stroke-linecap="butt"/>
<line x1="305" y1="240.9" x2="305" y2="238.7" stroke="#3aa882" stroke-width="0.84" stroke-linecap="butt"/>
<line x1="303.6" y1="240.9" x2="306.4" y2="240.9" stroke="#3aa882" stroke-width="0.84" stroke-linecap="butt"/>
<line x1="303.6" y1="238.7" x2="306.4" y2="238.7" stroke="#3aa882" stroke-width="0.84" stroke-linecap="butt"/>
<line x1="314.1" y1="239.8" x2="314.1" y2="235.5" stroke="#3aa882" stroke-width="0.84" stroke-linecap="butt"/>
<line x1="312.6" y1="239.8" x2="315.5" y2="239.8" stroke="#3aa882" stroke-width="0.84" stroke-linecap="butt"/>
<line x1="312.6" y1="235.5" x2="315.5" y2="235.5" stroke="#3aa882" stroke-width="0.84" stroke-linecap="butt"/>
<line x1="323.1" y1="235.4" x2="323.1" y2="234.2" stroke="#3aa882" stroke-width="0.84" stroke-linecap="butt"/>
<line x1="321.7" y1="235.4" x2="324.5" y2="235.4" stroke="#3aa882" stroke-width="0.84" stroke-linecap="butt"/>
<line x1="321.7" y1="234.2" x2="324.5" y2="234.2" stroke="#3aa882" stroke-width="0.84" stroke-linecap="butt"/>
<line x1="341.2" y1="237.9" x2="341.2" y2="231.8" stroke="#3aa882" stroke-width="0.84" stroke-linecap="butt"/>
<line x1="339.8" y1="237.9" x2="342.7" y2="237.9" stroke="#3aa882" stroke-width="0.84" stroke-linecap="butt"/>
<line x1="339.8" y1="231.8" x2="342.7" y2="231.8" stroke="#3aa882" stroke-width="0.84" stroke-linecap="butt"/>
<path d="M241.5 288L243.9 283.7L239.2 283.7Z" fill="#3aa882"/>
<path d="M250.6 286.6L253 282.3L248.2 282.3Z" fill="#3aa882"/>
<path d="M259.7 288.6L262.1 284.3L257.3 284.3Z" fill="#3aa882"/>
<path d="M268.7 286.2L271.1 281.9L266.4 281.9Z" fill="#3aa882"/>
<path d="M277.8 281.8L280.2 277.5L275.4 277.5Z" fill="#3aa882"/>
<path d="M286.9 268.9L289.2 264.6L284.5 264.6Z" fill="#3aa882"/>
<path d="M295.9 253.2L298.3 248.9L293.5 248.9Z" fill="#3aa882"/>
<path d="M305 242.2L307.4 237.9L302.6 237.9Z" fill="#3aa882"/>
<path d="M314.1 240.1L316.4 235.8L311.7 235.8Z" fill="#3aa882"/>
<path d="M323.1 237.2L325.5 232.9L320.7 232.9Z" fill="#3aa882"/>
<path d="M332.2 235.4L334.6 231.2L329.8 231.2Z" fill="#3aa882"/>
<path d="M341.2 237.2L343.6 232.9L338.9 232.9Z" fill="#3aa882"/>
<polyline points="238.7,285 240,285 241.3,285 242.5,285 243.8,284.9 245.1,284.9 246.4,284.9 247.7,284.8 249,284.8 250.2,284.7 251.5,284.7 252.8,284.6 254.1,284.5 255.4,284.4 256.7,284.3 257.9,284.1 259.2,284 260.5,283.7 261.8,283.5 263.1,283.2 264.3,282.9 265.6,282.5 266.9,282 268.2,281.5 269.5,280.9 270.8,280.2 272,279.3 273.3,278.4 274.6,277.3 275.9,276.1 277.2,274.8 278.5,273.3 279.7,271.6 281,269.8 282.3,267.9 283.6,265.8 284.9,263.6 286.2,261.3 287.4,259 288.7,256.7 290,254.4 291.3,252.1 292.6,249.9 293.8,247.9 295.1,245.9 296.4,244.1 297.7,242.4 299,240.9 300.3,239.6 301.5,238.3 302.8,237.3 304.1,236.3 305.4,235.5 306.7,234.8 308,234.2 309.2,233.6 310.5,233.2 311.8,232.8 313.1,232.4 314.4,232.1 315.6,231.9 316.9,231.7 318.2,231.5 319.5,231.4 320.8,231.2 322.1,231.1 323.3,231 324.6,231 325.9,230.9 327.2,230.8 328.5,230.8 329.8,230.8 331,230.7 332.3,230.7 333.6,230.7 334.9,230.7 336.2,230.6 337.5,230.6 338.7,230.6 340,230.6 341.3,230.6" fill="none" stroke="#3aa882" stroke-width="1.2" stroke-linejoin="round"/>
<path d="M225.4 282.8L227.6 286.9L223.2 286.9Z" fill="#3aa882"/>
<line x1="222.4" y1="285.1" x2="230.9" y2="285.1" stroke="#3aa882" stroke-width="1.3" stroke-linecap="butt"/>
<line x1="250.6" y1="284.6" x2="250.6" y2="283.1" stroke="#3aa882" stroke-width="0.84" stroke-linecap="butt"/>
<line x1="249.2" y1="284.6" x2="252" y2="284.6" stroke="#3aa882" stroke-width="0.84" stroke-linecap="butt"/>
<line x1="249.2" y1="283.1" x2="252" y2="283.1" stroke="#3aa882" stroke-width="0.84" stroke-linecap="butt"/>
<line x1="259.7" y1="285" x2="259.7" y2="284.2" stroke="#3aa882" stroke-width="0.84" stroke-linecap="butt"/>
<line x1="258.2" y1="285" x2="261.1" y2="285" stroke="#3aa882" stroke-width="0.84" stroke-linecap="butt"/>
<line x1="258.2" y1="284.2" x2="261.1" y2="284.2" stroke="#3aa882" stroke-width="0.84" stroke-linecap="butt"/>
<line x1="277.8" y1="278.7" x2="277.8" y2="272.7" stroke="#3aa882" stroke-width="0.84" stroke-linecap="butt"/>
<line x1="276.4" y1="278.7" x2="279.2" y2="278.7" stroke="#3aa882" stroke-width="0.84" stroke-linecap="butt"/>
<line x1="276.4" y1="272.7" x2="279.2" y2="272.7" stroke="#3aa882" stroke-width="0.84" stroke-linecap="butt"/>
<line x1="332.2" y1="232.2" x2="332.2" y2="230" stroke="#3aa882" stroke-width="0.84" stroke-linecap="butt"/>
<line x1="330.8" y1="232.2" x2="333.6" y2="232.2" stroke="#3aa882" stroke-width="0.84" stroke-linecap="butt"/>
<line x1="330.8" y1="230" x2="333.6" y2="230" stroke="#3aa882" stroke-width="0.84" stroke-linecap="butt"/>
<path d="M241.5 282.3L243.9 286.6L239.2 286.6Z" fill="#3aa882"/>
<path d="M250.6 281.4L253 285.7L248.2 285.7Z" fill="#3aa882"/>
<path d="M259.7 282.2L262.1 286.5L257.3 286.5Z" fill="#3aa882"/>
<path d="M268.7 277.6L271.1 281.8L266.4 281.8Z" fill="#3aa882"/>
<path d="M277.8 273.3L280.2 277.6L275.4 277.6Z" fill="#3aa882"/>
<path d="M286.9 259.1L289.2 263.4L284.5 263.4Z" fill="#3aa882"/>
<path d="M295.9 244L298.3 248.3L293.5 248.3Z" fill="#3aa882"/>
<path d="M305 232.7L307.4 236.9L302.6 236.9Z" fill="#3aa882"/>
<path d="M314.1 229L316.4 233.3L311.7 233.3Z" fill="#3aa882"/>
<path d="M323.1 230L325.5 234.2L320.7 234.2Z" fill="#3aa882"/>
<path d="M332.2 228.7L334.6 233L329.8 233Z" fill="#3aa882"/>
<path d="M341.2 226.9L343.6 231.2L338.9 231.2Z" fill="#3aa882"/>
<line x1="42.9" y1="440.8" x2="175.5" y2="440.8" stroke="#777" stroke-width="0.8" stroke-dasharray="0.9 1.8" stroke-linecap="butt"/>
<polyline points="65.5,440.8 84.4,440.8 102.9,440.8 121.1,423.1 139,386.1 157.5,408.6" fill="none" stroke="#231f20" stroke-width="1.2" stroke-dasharray="3 1.5 1 1.5" stroke-linejoin="round"/>
<line x1="121.1" y1="424.7" x2="121.1" y2="421.5" stroke="#231f20" stroke-width="0.84" stroke-linecap="butt"/>
<line x1="119.6" y1="424.7" x2="122.5" y2="424.7" stroke="#231f20" stroke-width="0.84" stroke-linecap="butt"/>
<line x1="119.6" y1="421.5" x2="122.5" y2="421.5" stroke="#231f20" stroke-width="0.84" stroke-linecap="butt"/>
<line x1="139" y1="402.2" x2="139" y2="370" stroke="#231f20" stroke-width="0.84" stroke-linecap="butt"/>
<line x1="137.6" y1="402.2" x2="140.5" y2="402.2" stroke="#231f20" stroke-width="0.84" stroke-linecap="butt"/>
<line x1="137.6" y1="370" x2="140.5" y2="370" stroke="#231f20" stroke-width="0.84" stroke-linecap="butt"/>
<line x1="157.5" y1="419.9" x2="157.5" y2="397.4" stroke="#231f20" stroke-width="0.84" stroke-linecap="butt"/>
<line x1="156.1" y1="419.9" x2="159" y2="419.9" stroke="#231f20" stroke-width="0.84" stroke-linecap="butt"/>
<line x1="156.1" y1="397.4" x2="159" y2="397.4" stroke="#231f20" stroke-width="0.84" stroke-linecap="butt"/>
<path d="M65.5 438.5L67.8 440.8L65.5 443.1L63.2 440.8Z" fill="#fff" stroke="#231f20" stroke-width="0.9"/>
<path d="M84.4 438.5L86.7 440.8L84.4 443.1L82.1 440.8Z" fill="#fff" stroke="#231f20" stroke-width="0.9"/>
<path d="M102.9 438.5L105.2 440.8L102.9 443.1L100.6 440.8Z" fill="#fff" stroke="#231f20" stroke-width="0.9"/>
<path d="M121.1 420.8L123.3 423.1L121.1 425.4L118.8 423.1Z" fill="#fff" stroke="#231f20" stroke-width="0.9"/>
<path d="M139 383.9L141.3 386.1L139 388.4L136.7 386.1Z" fill="#fff" stroke="#231f20" stroke-width="0.9"/>
<path d="M157.5 406.4L159.8 408.6L157.5 410.9L155.3 408.6Z" fill="#fff" stroke="#231f20" stroke-width="0.9"/>
<polyline points="65.5,440.8 84.4,440.8 102.9,440.8 121.1,427.9 139,396.6 157.5,402.2" fill="none" stroke="#5a5aa0" stroke-width="1.2" stroke-linejoin="round"/>
<line x1="121.1" y1="429.5" x2="121.1" y2="426.3" stroke="#5a5aa0" stroke-width="0.84" stroke-linecap="butt"/>
<line x1="119.6" y1="429.5" x2="122.5" y2="429.5" stroke="#5a5aa0" stroke-width="0.84" stroke-linecap="butt"/>
<line x1="119.6" y1="426.3" x2="122.5" y2="426.3" stroke="#5a5aa0" stroke-width="0.84" stroke-linecap="butt"/>
<line x1="139" y1="400.6" x2="139" y2="392.6" stroke="#5a5aa0" stroke-width="0.84" stroke-linecap="butt"/>
<line x1="137.6" y1="400.6" x2="140.5" y2="400.6" stroke="#5a5aa0" stroke-width="0.84" stroke-linecap="butt"/>
<line x1="137.6" y1="392.6" x2="140.5" y2="392.6" stroke="#5a5aa0" stroke-width="0.84" stroke-linecap="butt"/>
<line x1="157.5" y1="418.3" x2="157.5" y2="386.1" stroke="#5a5aa0" stroke-width="0.84" stroke-linecap="butt"/>
<line x1="156.1" y1="418.3" x2="159" y2="418.3" stroke="#5a5aa0" stroke-width="0.84" stroke-linecap="butt"/>
<line x1="156.1" y1="386.1" x2="159" y2="386.1" stroke="#5a5aa0" stroke-width="0.84" stroke-linecap="butt"/>
<path d="M65.5 438.6L67.8 442.6L63.3 442.6Z" fill="#5a5aa0"/>
<path d="M84.4 438.6L86.7 442.6L82.2 442.6Z" fill="#5a5aa0"/>
<path d="M102.9 438.6L105.2 442.6L100.7 442.6Z" fill="#5a5aa0"/>
<path d="M121.1 425.7L123.3 429.7L118.8 429.7Z" fill="#5a5aa0"/>
<path d="M139 394.3L141.3 398.4L136.8 398.4Z" fill="#5a5aa0"/>
<path d="M157.5 400L159.8 404L155.3 404Z" fill="#5a5aa0"/>
<polyline points="65.5,440.8 84.4,440.8 102.9,440.8 121.1,430.3 139,417.5 157.5,421.5" fill="none" stroke="#2a9488" stroke-width="1.2" stroke-dasharray="3 2" stroke-linejoin="round"/>
<line x1="121.1" y1="431.6" x2="121.1" y2="429.1" stroke="#2a9488" stroke-width="0.84" stroke-linecap="butt"/>
<line x1="119.6" y1="431.6" x2="122.5" y2="431.6" stroke="#2a9488" stroke-width="0.84" stroke-linecap="butt"/>
<line x1="119.6" y1="429.1" x2="122.5" y2="429.1" stroke="#2a9488" stroke-width="0.84" stroke-linecap="butt"/>
<line x1="139" y1="419.1" x2="139" y2="415.9" stroke="#2a9488" stroke-width="0.84" stroke-linecap="butt"/>
<line x1="137.6" y1="419.1" x2="140.5" y2="419.1" stroke="#2a9488" stroke-width="0.84" stroke-linecap="butt"/>
<line x1="137.6" y1="415.9" x2="140.5" y2="415.9" stroke="#2a9488" stroke-width="0.84" stroke-linecap="butt"/>
<line x1="157.5" y1="423.9" x2="157.5" y2="419.1" stroke="#2a9488" stroke-width="0.84" stroke-linecap="butt"/>
<line x1="156.1" y1="423.9" x2="159" y2="423.9" stroke="#2a9488" stroke-width="0.84" stroke-linecap="butt"/>
<line x1="156.1" y1="419.1" x2="159" y2="419.1" stroke="#2a9488" stroke-width="0.84" stroke-linecap="butt"/>
<rect x="63.4" y="438.7" width="4.1" height="4.1" fill="#fff" stroke="#2a9488" stroke-width="1"/>
<rect x="82.3" y="438.7" width="4.1" height="4.1" fill="#fff" stroke="#2a9488" stroke-width="1"/>
<rect x="100.9" y="438.7" width="4.1" height="4.1" fill="#fff" stroke="#2a9488" stroke-width="1"/>
<rect x="119" y="428.3" width="4.1" height="4.1" fill="#fff" stroke="#2a9488" stroke-width="1"/>
<rect x="137" y="415.4" width="4.1" height="4.1" fill="#fff" stroke="#2a9488" stroke-width="1"/>
<rect x="155.5" y="419.4" width="4.1" height="4.1" fill="#fff" stroke="#2a9488" stroke-width="1"/>
<polyline points="65.5,440.8 84.4,440.8 102.9,440.8 121.1,432.8 139,432 157.5,433.6" fill="none" stroke="#3aa882" stroke-width="1.2" stroke-dasharray="1 1.6" stroke-linejoin="round"/>
<line x1="121.1" y1="433.7" x2="121.1" y2="431.8" stroke="#3aa882" stroke-width="0.84" stroke-linecap="butt"/>
<line x1="119.6" y1="433.7" x2="122.5" y2="433.7" stroke="#3aa882" stroke-width="0.84" stroke-linecap="butt"/>
<line x1="119.6" y1="431.8" x2="122.5" y2="431.8" stroke="#3aa882" stroke-width="0.84" stroke-linecap="butt"/>
<line x1="139" y1="432.9" x2="139" y2="431" stroke="#3aa882" stroke-width="0.84" stroke-linecap="butt"/>
<line x1="137.6" y1="432.9" x2="140.5" y2="432.9" stroke="#3aa882" stroke-width="0.84" stroke-linecap="butt"/>
<line x1="137.6" y1="431" x2="140.5" y2="431" stroke="#3aa882" stroke-width="0.84" stroke-linecap="butt"/>
<line x1="157.5" y1="434.5" x2="157.5" y2="432.6" stroke="#3aa882" stroke-width="0.84" stroke-linecap="butt"/>
<line x1="156.1" y1="434.5" x2="159" y2="434.5" stroke="#3aa882" stroke-width="0.84" stroke-linecap="butt"/>
<line x1="156.1" y1="432.6" x2="159" y2="432.6" stroke="#3aa882" stroke-width="0.84" stroke-linecap="butt"/>
<circle cx="65.5" cy="440.8" r="1.9" fill="#3aa882"/>
<circle cx="84.4" cy="440.8" r="1.9" fill="#3aa882"/>
<circle cx="102.9" cy="440.8" r="1.9" fill="#3aa882"/>
<circle cx="121.1" cy="432.8" r="1.9" fill="#3aa882"/>
<circle cx="139" cy="432" r="1.9" fill="#3aa882"/>
<circle cx="157.5" cy="433.6" r="1.9" fill="#3aa882"/>
<line x1="219.4" y1="440.9" x2="352.6" y2="440.9" stroke="#777" stroke-width="0.8" stroke-dasharray="0.9 1.8" stroke-linecap="butt"/>
<polyline points="242.6,440.9 261.5,440.9 280,440.2 298.2,434.8 316.1,429.4 334.6,430" fill="none" stroke="#231f20" stroke-width="1.2" stroke-dasharray="3 1.5 1 1.5" stroke-linejoin="round"/>
<path d="M242.6 438.6L244.9 440.9L242.6 443.2L240.3 440.9Z" fill="#fff" stroke="#231f20" stroke-width="0.9"/>
<path d="M261.5 438.6L263.8 440.9L261.5 443.2L259.2 440.9Z" fill="#fff" stroke="#231f20" stroke-width="0.9"/>
<path d="M280 437.9L282.3 440.2L280 442.5L277.7 440.2Z" fill="#fff" stroke="#231f20" stroke-width="0.9"/>
<path d="M298.2 432.5L300.4 434.8L298.2 437.1L295.9 434.8Z" fill="#fff" stroke="#231f20" stroke-width="0.9"/>
<path d="M316.1 427.1L318.4 429.4L316.1 431.6L313.8 429.4Z" fill="#fff" stroke="#231f20" stroke-width="0.9"/>
<path d="M334.6 427.8L336.9 430L334.6 432.3L332.4 430Z" fill="#fff" stroke="#231f20" stroke-width="0.9"/>
<polyline points="242.6,440.9 261.5,440.9 280,439.5 298.2,428.7 316.1,419.2 334.6,414.4" fill="none" stroke="#2b2f78" stroke-width="1.2" stroke-linejoin="round"/>
<line x1="334.6" y1="417.8" x2="334.6" y2="411" stroke="#2b2f78" stroke-width="0.84" stroke-linecap="butt"/>
<line x1="333.2" y1="417.8" x2="336.1" y2="417.8" stroke="#2b2f78" stroke-width="0.84" stroke-linecap="butt"/>
<line x1="333.2" y1="411" x2="336.1" y2="411" stroke="#2b2f78" stroke-width="0.84" stroke-linecap="butt"/>
<path d="M242.6 438.7L244.9 442.7L240.4 442.7Z" fill="#2b2f78"/>
<path d="M261.5 438.7L263.8 442.7L259.3 442.7Z" fill="#2b2f78"/>
<path d="M280 437.3L282.3 441.3L277.8 441.3Z" fill="#2b2f78"/>
<path d="M298.2 426.4L300.4 430.5L295.9 430.5Z" fill="#2b2f78"/>
<path d="M316.1 416.9L318.4 421L313.9 421Z" fill="#2b2f78"/>
<path d="M334.6 412.2L336.9 416.2L332.4 416.2Z" fill="#2b2f78"/>
<polyline points="242.6,440.9 261.5,440.9 280,435.5 298.2,407 316.1,373 334.6,389.3" fill="none" stroke="#2a9488" stroke-width="1.2" stroke-dasharray="3 2" stroke-linejoin="round"/>
<rect x="240.5" y="438.8" width="4.1" height="4.1" fill="#fff" stroke="#2a9488" stroke-width="1"/>
<rect x="259.4" y="438.8" width="4.1" height="4.1" fill="#fff" stroke="#2a9488" stroke-width="1"/>
<rect x="278" y="433.4" width="4.1" height="4.1" fill="#fff" stroke="#2a9488" stroke-width="1"/>
<rect x="296.1" y="404.9" width="4.1" height="4.1" fill="#fff" stroke="#2a9488" stroke-width="1"/>
<rect x="314.1" y="371" width="4.1" height="4.1" fill="#fff" stroke="#2a9488" stroke-width="1"/>
<rect x="332.6" y="387.3" width="4.1" height="4.1" fill="#fff" stroke="#2a9488" stroke-width="1"/>
<polyline points="242.6,440.9 261.5,440.9 280,428 298.2,385.3 316.1,365.6 334.6,375.1" fill="none" stroke="#3aa882" stroke-width="1.2" stroke-dasharray="1 1.6" stroke-linejoin="round"/>
<line x1="298.2" y1="387.7" x2="298.2" y2="382.8" stroke="#3aa882" stroke-width="0.84" stroke-linecap="butt"/>
<line x1="296.7" y1="387.7" x2="299.6" y2="387.7" stroke="#3aa882" stroke-width="0.84" stroke-linecap="butt"/>
<line x1="296.7" y1="382.8" x2="299.6" y2="382.8" stroke="#3aa882" stroke-width="0.84" stroke-linecap="butt"/>
<line x1="334.6" y1="377.5" x2="334.6" y2="372.6" stroke="#3aa882" stroke-width="0.84" stroke-linecap="butt"/>
<line x1="333.2" y1="377.5" x2="336.1" y2="377.5" stroke="#3aa882" stroke-width="0.84" stroke-linecap="butt"/>
<line x1="333.2" y1="372.6" x2="336.1" y2="372.6" stroke="#3aa882" stroke-width="0.84" stroke-linecap="butt"/>
<circle cx="242.6" cy="440.9" r="1.9" fill="#3aa882"/>
<circle cx="261.5" cy="440.9" r="1.9" fill="#3aa882"/>
<circle cx="280" cy="428" r="1.9" fill="#3aa882"/>
<circle cx="298.2" cy="385.3" r="1.9" fill="#3aa882"/>
<circle cx="316.1" cy="365.6" r="1.9" fill="#3aa882"/>
<circle cx="334.6" cy="375.1" r="1.9" fill="#3aa882"/>
<line x1="49.6" y1="368.2" x2="59.2" y2="368.2" stroke="#3aa882" stroke-width="0.9" stroke-dasharray="1 1.6" stroke-linecap="butt"/>
<circle cx="54.4" cy="368.2" r="1.7" fill="#3aa882"/>
<text x="65" y="371.3" font-size="8.9" text-anchor="start" font-weight="normal" fill="#231f20">6 h</text>
<line x1="49.6" y1="378.3" x2="59.2" y2="378.3" stroke="#2a9488" stroke-width="0.9" stroke-dasharray="3 2" stroke-linecap="butt"/>
<rect x="52.6" y="376.5" width="3.5" height="3.5" fill="#fff" stroke="#2a9488" stroke-width="0.9"/>
<text x="65" y="381.4" font-size="8.9" text-anchor="start" font-weight="normal" fill="#231f20">24 h</text>
<line x1="49.6" y1="388.4" x2="59.2" y2="388.4" stroke="#5a5aa0" stroke-width="0.9" stroke-linecap="butt"/>
<path d="M54.4 386.3L56.5 390.1L52.3 390.1Z" fill="#5a5aa0"/>
<text x="65" y="391.5" font-size="8.9" text-anchor="start" font-weight="normal" fill="#231f20">48 h</text>
<line x1="49.6" y1="398.5" x2="59.2" y2="398.5" stroke="#231f20" stroke-width="0.9" stroke-dasharray="3 1.5 1 1.5" stroke-linecap="butt"/>
<path d="M54.4 396.5L56.4 398.5L54.4 400.5L52.4 398.5Z" fill="#fff" stroke="#231f20" stroke-width="0.8"/>
<text x="65" y="401.6" font-size="8.9" text-anchor="start" font-weight="normal" fill="#231f20">72 h</text>
<line x1="226.1" y1="364.6" x2="235.7" y2="364.6" stroke="#3aa882" stroke-width="0.9" stroke-dasharray="1 1.6" stroke-linecap="butt"/>
<circle cx="230.9" cy="364.6" r="1.7" fill="#3aa882"/>
<text x="241.4" y="367.7" font-size="8.9" text-anchor="start" font-weight="normal" fill="#231f20">6 h</text>
<line x1="226.1" y1="375.2" x2="235.7" y2="375.2" stroke="#2a9488" stroke-width="0.9" stroke-dasharray="3 2" stroke-linecap="butt"/>
<rect x="229.1" y="373.4" width="3.5" height="3.5" fill="#fff" stroke="#2a9488" stroke-width="0.9"/>
<text x="241.4" y="378.3" font-size="8.9" text-anchor="start" font-weight="normal" fill="#231f20">24 h</text>
<line x1="226.1" y1="385.8" x2="235.7" y2="385.8" stroke="#2b2f78" stroke-width="0.9" stroke-linecap="butt"/>
<path d="M230.9 383.7L233 387.5L228.8 387.5Z" fill="#2b2f78"/>
<text x="241.4" y="388.9" font-size="8.9" text-anchor="start" font-weight="normal" fill="#231f20">48 h</text>
<line x1="226.1" y1="395.9" x2="235.7" y2="395.9" stroke="#231f20" stroke-width="0.9" stroke-dasharray="3 1.5 1 1.5" stroke-linecap="butt"/>
<path d="M230.9 393.9L232.9 395.9L230.9 397.9L228.9 395.9Z" fill="#fff" stroke="#231f20" stroke-width="0.8"/>
<text x="241.4" y="399" font-size="8.9" text-anchor="start" font-weight="normal" fill="#231f20">72 h</text>
<line x1="395.9" y1="448.6" x2="514" y2="448.6" stroke="#777" stroke-width="0.8" stroke-dasharray="0.9 1.8" stroke-linecap="butt"/>
<polyline points="416,440.6 416.5,440.6 417.1,440.6 417.7,440.6 418.2,440.6 418.8,440.6 419.4,440.6 419.9,440.6 420.5,440.6 421.1,440.6 421.6,440.6 422.2,440.6 422.8,440.6 423.3,440.6 423.9,440.6 424.5,440.6 425,440.6 425.6,440.6 426.2,440.6 426.7,440.6 427.3,440.6 427.9,440.6 428.4,440.6 429,440.6 429.6,440.6 430.1,440.6 430.7,440.6 431.3,440.6 431.8,440.6 432.4,440.6 433,440.6 433.5,440.6 434.1,440.6 434.7,440.6 435.2,440.6 435.8,440.6 436.4,440.6 436.9,440.6 437.5,440.6 438.1,440.6 438.6,440.6 439.2,440.6 439.8,440.6 440.3,440.6 440.9,440.6 441.5,440.6 442,440.6 442.6,440.6 443.2,440.6 443.7,440.6 444.3,440.6 444.9,440.6 445.4,440.5 446,440.5 446.6,440.5 447.1,440.5 447.7,440.5 448.3,440.4 448.8,440.4 449.4,440.4 450,440.3 450.5,440.3 451.1,440.2 451.7,440.1 452.2,440 452.8,439.8 453.4,439.7 453.9,439.5 454.5,439.2 455.1,438.9 455.6,438.5 456.2,438.1 456.8,437.6 457.3,436.9 457.9,436.1 458.5,435.2 459,434.1 459.6,432.8 460.2,431.3 460.7,429.5 461.3,427.5 461.9,425.2 462.4,422.6 463,419.8 463.6,416.7 464.2,413.4 464.7,409.9 465.3,406.3 465.9,402.7 466.4,399.1 467,395.7 467.6,392.4 468.1,389.3 468.7,386.5 469.3,384 469.8,381.7 470.4,379.8 471,378 471.5,376.6 472.1,375.3 472.7,374.2 473.2,373.4 473.8,372.6 474.4,372 474.9,371.5 475.5,371 476.1,370.7 476.6,370.4 477.2,370.1 477.8,369.9 478.3,369.8 478.9,369.6 479.5,369.5 480,369.4 480.6,369.4 481.2,369.3 481.7,369.3 482.3,369.2 482.9,369.2 483.4,369.2 484,369.1 484.6,369.1 485.1,369.1 485.7,369.1 486.3,369.1 486.8,369.1 487.4,369.1 488,369.1 488.5,369.1 489.1,369.1 489.7,369.1 490.2,369.1 490.8,369 491.4,369 491.9,369 492.5,369 493.1,369 493.6,369 494.2,369 494.8,369 495.3,369 495.9,369 496.5,369 497,369 497.6,369 498.2,369 498.7,369 499.3,369 499.9,369 500.4,369 501,369 501.6,369 502.1,369 502.7,369 503.3,369 503.8,369 504.4,369 505,369 505.5,369 506.1,369 506.7,369" fill="none" stroke="#3aa882" stroke-width="1.2" stroke-dasharray="2.6 1.8" stroke-linejoin="round"/>
<line x1="403.4" y1="440.6" x2="416" y2="440.6" stroke="#3aa882" stroke-width="1.0" stroke-dasharray="2.6 1.8" stroke-linecap="butt"/>
<polygon points="403.4,440.6 402.4,442.4 400.3,442.4 399.3,440.6 400.3,438.8 402.4,438.8" fill="#3aa882"/>
<polygon points="418,441.9 417,443.7 414.9,443.7 413.9,441.9 414.9,440.1 417,440.1" fill="#3aa882"/>
<polygon points="426.3,440.1 425.2,441.9 423.2,441.9 422.1,440.1 423.2,438.3 425.2,438.3" fill="#3aa882"/>
<polygon points="434.5,439.8 433.5,441.6 431.4,441.6 430.3,439.8 431.4,438 433.5,438" fill="#3aa882"/>
<line x1="440.7" y1="444.8" x2="440.7" y2="435.8" stroke="#3aa882" stroke-width="0.84" stroke-linecap="butt"/>
<line x1="439.3" y1="444.8" x2="442" y2="444.8" stroke="#3aa882" stroke-width="0.84" stroke-linecap="butt"/>
<line x1="439.3" y1="435.8" x2="442" y2="435.8" stroke="#3aa882" stroke-width="0.84" stroke-linecap="butt"/>
<polygon points="442.7,440.3 441.7,442.1 439.6,442.1 438.6,440.3 439.6,438.5 441.7,438.5" fill="#3aa882"/>
<polygon points="451,440.9 449.9,442.7 447.8,442.7 446.8,440.9 447.8,439.1 449.9,439.1" fill="#3aa882"/>
<line x1="457.1" y1="441.3" x2="457.1" y2="432.3" stroke="#3aa882" stroke-width="0.84" stroke-linecap="butt"/>
<line x1="455.8" y1="441.3" x2="458.4" y2="441.3" stroke="#3aa882" stroke-width="0.84" stroke-linecap="butt"/>
<line x1="455.8" y1="432.3" x2="458.4" y2="432.3" stroke="#3aa882" stroke-width="0.84" stroke-linecap="butt"/>
<polygon points="459.2,436.8 458.2,438.6 456.1,438.6 455,436.8 456.1,435 458.2,435" fill="#3aa882"/>
<line x1="465.3" y1="411.4" x2="465.3" y2="402.5" stroke="#3aa882" stroke-width="0.84" stroke-linecap="butt"/>
<line x1="464" y1="411.4" x2="466.7" y2="411.4" stroke="#3aa882" stroke-width="0.84" stroke-linecap="butt"/>
<line x1="464" y1="402.5" x2="466.7" y2="402.5" stroke="#3aa882" stroke-width="0.84" stroke-linecap="butt"/>
<polygon points="467.4,406.9 466.4,408.7 464.3,408.7 463.3,406.9 464.3,405.2 466.4,405.2" fill="#3aa882"/>
<line x1="473.6" y1="377.7" x2="473.6" y2="368.7" stroke="#3aa882" stroke-width="0.84" stroke-linecap="butt"/>
<line x1="472.3" y1="377.7" x2="474.9" y2="377.7" stroke="#3aa882" stroke-width="0.84" stroke-linecap="butt"/>
<line x1="472.3" y1="368.7" x2="474.9" y2="368.7" stroke="#3aa882" stroke-width="0.84" stroke-linecap="butt"/>
<polygon points="475.6,373.2 474.6,375 472.5,375 471.5,373.2 472.5,371.4 474.6,371.4" fill="#3aa882"/>
<polygon points="483.9,369.2 482.8,371 480.8,371 479.7,369.2 480.8,367.4 482.8,367.4" fill="#3aa882"/>
<polygon points="492.1,368.2 491.1,370 489,370 488,368.2 489,366.4 491.1,366.4" fill="#3aa882"/>
<polygon points="500.3,370 499.3,371.7 497.2,371.7 496.2,370 497.2,368.2 499.3,368.2" fill="#3aa882"/>
<polygon points="508.6,368 507.5,369.8 505.5,369.8 504.4,368 505.5,366.2 507.5,366.2" fill="#3aa882"/>
<polyline points="416,431.7 416.5,431.7 417.1,431.7 417.7,431.7 418.2,431.7 418.8,431.7 419.4,431.7 419.9,431.7 420.5,431.7 421.1,431.7 421.6,431.7 422.2,431.7 422.8,431.7 423.3,431.7 423.9,431.7 424.5,431.7 425,431.7 425.6,431.7 426.2,431.7 426.7,431.7 427.3,431.7 427.9,431.7 428.4,431.7 429,431.7 429.6,431.7 430.1,431.6 430.7,431.6 431.3,431.6 431.8,431.6 432.4,431.6 433,431.6 433.5,431.6 434.1,431.6 434.7,431.6 435.2,431.6 435.8,431.6 436.4,431.6 436.9,431.6 437.5,431.6 438.1,431.6 438.6,431.6 439.2,431.6 439.8,431.5 440.3,431.5 440.9,431.5 441.5,431.5 442,431.4 442.6,431.4 443.2,431.3 443.7,431.2 444.3,431.2 444.9,431.1 445.4,430.9 446,430.8 446.6,430.6 447.1,430.4 447.7,430.1 448.3,429.8 448.8,429.5 449.4,429.1 450,428.6 450.5,428 451.1,427.3 451.7,426.4 452.2,425.5 452.8,424.3 453.4,423.1 453.9,421.6 454.5,419.9 455.1,418 455.6,415.9 456.2,413.6 456.8,411.1 457.3,408.5 457.9,405.7 458.5,402.8 459,399.9 459.6,397 460.2,394.2 460.7,391.4 461.3,388.8 461.9,386.4 462.4,384.1 463,382.1 463.6,380.3 464.2,378.7 464.7,377.2 465.3,376 465.9,374.9 466.4,374 467,373.2 467.6,372.5 468.1,372 468.7,371.5 469.3,371.1 469.8,370.8 470.4,370.5 471,370.2 471.5,370 472.1,369.9 472.7,369.7 473.2,369.6 473.8,369.5 474.4,369.4 474.9,369.4 475.5,369.3 476.1,369.3 476.6,369.2 477.2,369.2 477.8,369.2 478.3,369.1 478.9,369.1 479.5,369.1 480,369.1 480.6,369.1 481.2,369.1 481.7,369.1 482.3,369.1 482.9,369.1 483.4,369.1 484,369.1 484.6,369.1 485.1,369.1 485.7,369 486.3,369 486.8,369 487.4,369 488,369 488.5,369 489.1,369 489.7,369 490.2,369 490.8,369 491.4,369 491.9,369 492.5,369 493.1,369 493.6,369 494.2,369 494.8,369 495.3,369 495.9,369 496.5,369 497,369 497.6,369 498.2,369 498.7,369 499.3,369 499.9,369 500.4,369 501,369 501.6,369 502.1,369 502.7,369 503.3,369 503.8,369 504.4,369 505,369 505.5,369 506.1,369 506.7,369" fill="none" stroke="#3aa882" stroke-width="1.2" stroke-dasharray="2.6 1.8" stroke-linejoin="round"/>
<line x1="403.4" y1="431.7" x2="416" y2="431.7" stroke="#3aa882" stroke-width="1.0" stroke-dasharray="2.6 1.8" stroke-linecap="butt"/>
<path d="M401.4 429.5L403.5 431.7L401.4 433.8L399.2 431.7Z" fill="#fff" stroke="#3aa882" stroke-width="0.9"/>
<line x1="416" y1="436.5" x2="416" y2="427.6" stroke="#3aa882" stroke-width="0.84" stroke-linecap="butt"/>
<line x1="414.6" y1="436.5" x2="417.3" y2="436.5" stroke="#3aa882" stroke-width="0.84" stroke-linecap="butt"/>
<line x1="414.6" y1="427.6" x2="417.3" y2="427.6" stroke="#3aa882" stroke-width="0.84" stroke-linecap="butt"/>
<path d="M416 429.9L418.1 432.1L416 434.2L413.8 432.1Z" fill="#fff" stroke="#3aa882" stroke-width="0.9"/>
<line x1="424.2" y1="436.1" x2="424.2" y2="427.2" stroke="#3aa882" stroke-width="0.84" stroke-linecap="butt"/>
<line x1="422.9" y1="436.1" x2="425.5" y2="436.1" stroke="#3aa882" stroke-width="0.84" stroke-linecap="butt"/>
<line x1="422.9" y1="427.2" x2="425.5" y2="427.2" stroke="#3aa882" stroke-width="0.84" stroke-linecap="butt"/>
<path d="M424.2 429.5L426.3 431.7L424.2 433.8L422 431.7Z" fill="#fff" stroke="#3aa882" stroke-width="0.9"/>
<line x1="432.4" y1="437.1" x2="432.4" y2="428.1" stroke="#3aa882" stroke-width="0.84" stroke-linecap="butt"/>
<line x1="431.1" y1="437.1" x2="433.7" y2="437.1" stroke="#3aa882" stroke-width="0.84" stroke-linecap="butt"/>
<line x1="431.1" y1="428.1" x2="433.7" y2="428.1" stroke="#3aa882" stroke-width="0.84" stroke-linecap="butt"/>
<path d="M432.4 430.5L434.6 432.6L432.4 434.8L430.3 432.6Z" fill="#fff" stroke="#3aa882" stroke-width="0.9"/>
<line x1="440.7" y1="435.4" x2="440.7" y2="426.5" stroke="#3aa882" stroke-width="0.84" stroke-linecap="butt"/>
<line x1="439.3" y1="435.4" x2="442" y2="435.4" stroke="#3aa882" stroke-width="0.84" stroke-linecap="butt"/>
<line x1="439.3" y1="426.5" x2="442" y2="426.5" stroke="#3aa882" stroke-width="0.84" stroke-linecap="butt"/>
<path d="M440.7 428.8L442.8 430.9L440.7 433.1L438.5 430.9Z" fill="#fff" stroke="#3aa882" stroke-width="0.9"/>
<line x1="448.9" y1="432.6" x2="448.9" y2="423.7" stroke="#3aa882" stroke-width="0.84" stroke-linecap="butt"/>
<line x1="447.6" y1="432.6" x2="450.2" y2="432.6" stroke="#3aa882" stroke-width="0.84" stroke-linecap="butt"/>
<line x1="447.6" y1="423.7" x2="450.2" y2="423.7" stroke="#3aa882" stroke-width="0.84" stroke-linecap="butt"/>
<path d="M448.9 426L451 428.2L448.9 430.3L446.7 428.2Z" fill="#fff" stroke="#3aa882" stroke-width="0.9"/>
<line x1="457.1" y1="414" x2="457.1" y2="405.1" stroke="#3aa882" stroke-width="0.84" stroke-linecap="butt"/>
<line x1="455.8" y1="414" x2="458.4" y2="414" stroke="#3aa882" stroke-width="0.84" stroke-linecap="butt"/>
<line x1="455.8" y1="405.1" x2="458.4" y2="405.1" stroke="#3aa882" stroke-width="0.84" stroke-linecap="butt"/>
<path d="M457.1 407.4L459.3 409.5L457.1 411.7L455 409.5Z" fill="#fff" stroke="#3aa882" stroke-width="0.9"/>
<line x1="465.3" y1="379.8" x2="465.3" y2="370.8" stroke="#3aa882" stroke-width="0.84" stroke-linecap="butt"/>
<line x1="464" y1="379.8" x2="466.7" y2="379.8" stroke="#3aa882" stroke-width="0.84" stroke-linecap="butt"/>
<line x1="464" y1="370.8" x2="466.7" y2="370.8" stroke="#3aa882" stroke-width="0.84" stroke-linecap="butt"/>
<path d="M465.3 373.1L467.5 375.3L465.3 377.4L463.2 375.3Z" fill="#fff" stroke="#3aa882" stroke-width="0.9"/>
<line x1="473.6" y1="373.1" x2="473.6" y2="364.2" stroke="#3aa882" stroke-width="0.84" stroke-linecap="butt"/>
<line x1="472.3" y1="373.1" x2="474.9" y2="373.1" stroke="#3aa882" stroke-width="0.84" stroke-linecap="butt"/>
<line x1="472.3" y1="364.2" x2="474.9" y2="364.2" stroke="#3aa882" stroke-width="0.84" stroke-linecap="butt"/>
<path d="M473.6 366.5L475.7 368.6L473.6 370.8L471.4 368.6Z" fill="#fff" stroke="#3aa882" stroke-width="0.9"/>
<path d="M481.8 365.7L484 367.9L481.8 370L479.7 367.9Z" fill="#fff" stroke="#3aa882" stroke-width="0.9"/>
<line x1="490" y1="374.3" x2="490" y2="365.4" stroke="#3aa882" stroke-width="0.84" stroke-linecap="butt"/>
<line x1="488.7" y1="374.3" x2="491.4" y2="374.3" stroke="#3aa882" stroke-width="0.84" stroke-linecap="butt"/>
<line x1="488.7" y1="365.4" x2="491.4" y2="365.4" stroke="#3aa882" stroke-width="0.84" stroke-linecap="butt"/>
<path d="M490 367.7L492.2 369.9L490 372L487.9 369.9Z" fill="#fff" stroke="#3aa882" stroke-width="0.9"/>
<path d="M498.3 367.6L500.4 369.7L498.3 371.9L496.1 369.7Z" fill="#fff" stroke="#3aa882" stroke-width="0.9"/>
<path d="M506.5 366.4L508.7 368.5L506.5 370.7L504.4 368.5Z" fill="#fff" stroke="#3aa882" stroke-width="0.9"/>
<polyline points="416,440.6 416.5,440.6 417.1,440.6 417.7,440.6 418.2,440.6 418.8,440.6 419.4,440.6 419.9,440.6 420.5,440.6 421.1,440.6 421.6,440.6 422.2,440.6 422.8,440.6 423.3,440.6 423.9,440.6 424.5,440.6 425,440.6 425.6,440.6 426.2,440.6 426.7,440.6 427.3,440.6 427.9,440.6 428.4,440.6 429,440.6 429.6,440.6 430.1,440.6 430.7,440.6 431.3,440.6 431.8,440.6 432.4,440.6 433,440.6 433.5,440.6 434.1,440.6 434.7,440.6 435.2,440.6 435.8,440.6 436.4,440.6 436.9,440.6 437.5,440.6 438.1,440.6 438.6,440.6 439.2,440.6 439.8,440.6 440.3,440.6 440.9,440.6 441.5,440.6 442,440.6 442.6,440.6 443.2,440.6 443.7,440.6 444.3,440.6 444.9,440.6 445.4,440.6 446,440.6 446.6,440.6 447.1,440.6 447.7,440.6 448.3,440.6 448.8,440.6 449.4,440.6 450,440.6 450.5,440.6 451.1,440.6 451.7,440.6 452.2,440.6 452.8,440.6 453.4,440.6 453.9,440.6 454.5,440.6 455.1,440.6 455.6,440.6 456.2,440.5 456.8,440.5 457.3,440.5 457.9,440.5 458.5,440.5 459,440.4 459.6,440.4 460.2,440.3 460.7,440.2 461.3,440.1 461.9,440 462.4,439.8 463,439.6 463.6,439.3 464.2,439 464.7,438.5 465.3,438 465.9,437.3 466.4,436.4 467,435.3 467.6,433.9 468.1,432.3 468.7,430.3 469.3,427.9 469.8,425 470.4,421.8 471,418.2 471.5,414.2 472.1,409.9 472.7,405.5 473.2,401 473.8,396.7 474.4,392.6 474.9,388.9 475.5,385.5 476.1,382.6 476.6,380.1 477.2,377.9 477.8,376.2 478.3,374.7 478.9,373.6 479.5,372.6 480,371.9 480.6,371.3 481.2,370.8 481.7,370.4 482.3,370.1 482.9,369.9 483.4,369.7 484,369.5 484.6,369.4 485.1,369.4 485.7,369.3 486.3,369.2 486.8,369.2 487.4,369.2 488,369.1 488.5,369.1 489.1,369.1 489.7,369.1 490.2,369.1 490.8,369.1 491.4,369.1 491.9,369.1 492.5,369.1 493.1,369 493.6,369 494.2,369 494.8,369 495.3,369 495.9,369 496.5,369 497,369 497.6,369 498.2,369 498.7,369 499.3,369 499.9,369 500.4,369 501,369 501.6,369 502.1,369 502.7,369 503.3,369 503.8,369 504.4,369 505,369 505.5,369 506.1,369 506.7,369" fill="none" stroke="#3aa882" stroke-width="1.2" stroke-dasharray="2.6 1.8" stroke-linejoin="round"/>
<line x1="403.4" y1="440.6" x2="416" y2="440.6" stroke="#3aa882" stroke-width="1.0" stroke-dasharray="2.6 1.8" stroke-linecap="butt"/>
<path d="M401.4 438.2L403.8 442.5L398.9 442.5Z" fill="#fff" stroke="#3aa882" stroke-width="0.9"/>
<path d="M416 437L418.4 441.4L413.6 441.4Z" fill="#fff" stroke="#3aa882" stroke-width="0.9"/>
<line x1="424.2" y1="445.2" x2="424.2" y2="436.2" stroke="#3aa882" stroke-width="0.84" stroke-linecap="butt"/>
<line x1="422.9" y1="445.2" x2="425.5" y2="445.2" stroke="#3aa882" stroke-width="0.84" stroke-linecap="butt"/>
<line x1="422.9" y1="436.2" x2="425.5" y2="436.2" stroke="#3aa882" stroke-width="0.84" stroke-linecap="butt"/>
<path d="M424.2 438.3L426.6 442.6L421.8 442.6Z" fill="#fff" stroke="#3aa882" stroke-width="0.9"/>
<line x1="432.4" y1="443.8" x2="432.4" y2="434.9" stroke="#3aa882" stroke-width="0.84" stroke-linecap="butt"/>
<line x1="431.1" y1="443.8" x2="433.7" y2="443.8" stroke="#3aa882" stroke-width="0.84" stroke-linecap="butt"/>
<line x1="431.1" y1="434.9" x2="433.7" y2="434.9" stroke="#3aa882" stroke-width="0.84" stroke-linecap="butt"/>
<path d="M432.4 436.9L434.8 441.3L430 441.3Z" fill="#fff" stroke="#3aa882" stroke-width="0.9"/>
<path d="M440.7 437.1L443.1 441.4L438.2 441.4Z" fill="#fff" stroke="#3aa882" stroke-width="0.9"/>
<path d="M448.9 438L451.3 442.4L446.5 442.4Z" fill="#fff" stroke="#3aa882" stroke-width="0.9"/>
<path d="M457.1 438.8L459.5 443.1L454.7 443.1Z" fill="#fff" stroke="#3aa882" stroke-width="0.9"/>
<line x1="465.3" y1="441.1" x2="465.3" y2="432.1" stroke="#3aa882" stroke-width="0.84" stroke-linecap="butt"/>
<line x1="464" y1="441.1" x2="466.7" y2="441.1" stroke="#3aa882" stroke-width="0.84" stroke-linecap="butt"/>
<line x1="464" y1="432.1" x2="466.7" y2="432.1" stroke="#3aa882" stroke-width="0.84" stroke-linecap="butt"/>
<path d="M465.3 434.2L467.8 438.5L462.9 438.5Z" fill="#fff" stroke="#3aa882" stroke-width="0.9"/>
<line x1="473.6" y1="401.9" x2="473.6" y2="393" stroke="#3aa882" stroke-width="0.84" stroke-linecap="butt"/>
<line x1="472.3" y1="401.9" x2="474.9" y2="401.9" stroke="#3aa882" stroke-width="0.84" stroke-linecap="butt"/>
<line x1="472.3" y1="393" x2="474.9" y2="393" stroke="#3aa882" stroke-width="0.84" stroke-linecap="butt"/>
<path d="M473.6 395L476 399.4L471.2 399.4Z" fill="#fff" stroke="#3aa882" stroke-width="0.9"/>
<line x1="481.8" y1="374.6" x2="481.8" y2="365.6" stroke="#3aa882" stroke-width="0.84" stroke-linecap="butt"/>
<line x1="480.5" y1="374.6" x2="483.1" y2="374.6" stroke="#3aa882" stroke-width="0.84" stroke-linecap="butt"/>
<line x1="480.5" y1="365.6" x2="483.1" y2="365.6" stroke="#3aa882" stroke-width="0.84" stroke-linecap="butt"/>
<path d="M481.8 367.7L484.2 372L479.4 372Z" fill="#fff" stroke="#3aa882" stroke-width="0.9"/>
<path d="M490 365.8L492.4 370.1L487.6 370.1Z" fill="#fff" stroke="#3aa882" stroke-width="0.9"/>
<line x1="498.3" y1="372.4" x2="498.3" y2="363.5" stroke="#3aa882" stroke-width="0.84" stroke-linecap="butt"/>
<line x1="497" y1="372.4" x2="499.6" y2="372.4" stroke="#3aa882" stroke-width="0.84" stroke-linecap="butt"/>
<line x1="497" y1="363.5" x2="499.6" y2="363.5" stroke="#3aa882" stroke-width="0.84" stroke-linecap="butt"/>
<path d="M498.3 365.6L500.7 369.9L495.9 369.9Z" fill="#fff" stroke="#3aa882" stroke-width="0.9"/>
<path d="M506.5 366.4L508.9 370.8L504.1 370.8Z" fill="#fff" stroke="#3aa882" stroke-width="0.9"/>
<polyline points="416,440.6 416.5,440.6 417.1,440.6 417.7,440.6 418.2,440.6 418.8,440.6 419.4,440.6 419.9,440.6 420.5,440.6 421.1,440.6 421.6,440.6 422.2,440.6 422.8,440.6 423.3,440.6 423.9,440.6 424.5,440.6 425,440.6 425.6,440.6 426.2,440.6 426.7,440.6 427.3,440.6 427.9,440.6 428.4,440.6 429,440.6 429.6,440.6 430.1,440.6 430.7,440.6 431.3,440.6 431.8,440.6 432.4,440.6 433,440.6 433.5,440.6 434.1,440.6 434.7,440.6 435.2,440.6 435.8,440.5 436.4,440.5 436.9,440.5 437.5,440.4 438.1,440.3 438.6,440.2 439.2,439.9 439.8,439.6 440.3,439.2 440.9,438.5 441.5,437.6 442,436.2 442.6,434.3 443.2,431.7 443.7,428.3 444.3,423.8 444.9,418.3 445.4,411.9 446,405.1 446.6,398.2 447.1,391.8 447.7,386.2 448.3,381.7 448.8,378.1 449.4,375.5 450,373.5 450.5,372.1 451.1,371.2 451.7,370.5 452.2,370 452.8,369.7 453.4,369.5 453.9,369.4 454.5,369.3 455.1,369.2 455.6,369.1 456.2,369.1 456.8,369.1 457.3,369.1 457.9,369.1 458.5,369.1 459,369 459.6,369 460.2,369 460.7,369 461.3,369 461.9,369 462.4,369 463,369 463.6,369 464.2,369 464.7,369 465.3,369 465.9,369 466.4,369 467,369 467.6,369 468.1,369 468.7,369 469.3,369 469.8,369 470.4,369 471,369 471.5,369 472.1,369 472.7,369 473.2,369 473.8,369 474.4,369 474.9,369 475.5,369 476.1,369 476.6,369 477.2,369 477.8,369 478.3,369 478.9,369 479.5,369 480,369 480.6,369 481.2,369 481.7,369 482.3,369 482.9,369 483.4,369 484,369 484.6,369 485.1,369 485.7,369 486.3,369 486.8,369 487.4,369 488,369 488.5,369 489.1,369 489.7,369 490.2,369 490.8,369 491.4,369 491.9,369 492.5,369 493.1,369 493.6,369 494.2,369 494.8,369 495.3,369 495.9,369 496.5,369 497,369 497.6,369 498.2,369 498.7,369 499.3,369 499.9,369 500.4,369 501,369 501.6,369 502.1,369 502.7,369 503.3,369 503.8,369 504.4,369 505,369 505.5,369 506.1,369 506.7,369" fill="none" stroke="#3aa882" stroke-width="1.2" stroke-linejoin="round"/>
<line x1="403.4" y1="440.6" x2="416" y2="440.6" stroke="#3aa882" stroke-width="1.0" stroke-dasharray="2.6 1.8" stroke-linecap="butt"/>
<circle cx="401.4" cy="440.6" r="2" fill="#3aa882"/>
<circle cx="416" cy="441.4" r="2" fill="#3aa882"/>
<line x1="424.2" y1="446.2" x2="424.2" y2="437.3" stroke="#3aa882" stroke-width="0.84" stroke-linecap="butt"/>
<line x1="422.9" y1="446.2" x2="425.5" y2="446.2" stroke="#3aa882" stroke-width="0.84" stroke-linecap="butt"/>
<line x1="422.9" y1="437.3" x2="425.5" y2="437.3" stroke="#3aa882" stroke-width="0.84" stroke-linecap="butt"/>
<circle cx="424.2" cy="441.7" r="2" fill="#3aa882"/>
<circle cx="432.4" cy="441.5" r="2" fill="#3aa882"/>
<line x1="440.7" y1="442.1" x2="440.7" y2="433.2" stroke="#3aa882" stroke-width="0.84" stroke-linecap="butt"/>
<line x1="439.3" y1="442.1" x2="442" y2="442.1" stroke="#3aa882" stroke-width="0.84" stroke-linecap="butt"/>
<line x1="439.3" y1="433.2" x2="442" y2="433.2" stroke="#3aa882" stroke-width="0.84" stroke-linecap="butt"/>
<circle cx="440.7" cy="437.7" r="2" fill="#3aa882"/>
<line x1="448.9" y1="381.9" x2="448.9" y2="373" stroke="#3aa882" stroke-width="0.84" stroke-linecap="butt"/>
<line x1="447.6" y1="381.9" x2="450.2" y2="381.9" stroke="#3aa882" stroke-width="0.84" stroke-linecap="butt"/>
<line x1="447.6" y1="373" x2="450.2" y2="373" stroke="#3aa882" stroke-width="0.84" stroke-linecap="butt"/>
<circle cx="448.9" cy="377.5" r="2" fill="#3aa882"/>
<circle cx="457.1" cy="369.6" r="2" fill="#3aa882"/>
<circle cx="465.3" cy="368.4" r="2" fill="#3aa882"/>
<circle cx="473.6" cy="368.8" r="2" fill="#3aa882"/>
<line x1="481.8" y1="374.8" x2="481.8" y2="365.9" stroke="#3aa882" stroke-width="0.84" stroke-linecap="butt"/>
<line x1="480.5" y1="374.8" x2="483.1" y2="374.8" stroke="#3aa882" stroke-width="0.84" stroke-linecap="butt"/>
<line x1="480.5" y1="365.9" x2="483.1" y2="365.9" stroke="#3aa882" stroke-width="0.84" stroke-linecap="butt"/>
<circle cx="481.8" cy="370.3" r="2" fill="#3aa882"/>
<line x1="490" y1="373.6" x2="490" y2="364.7" stroke="#3aa882" stroke-width="0.84" stroke-linecap="butt"/>
<line x1="488.7" y1="373.6" x2="491.4" y2="373.6" stroke="#3aa882" stroke-width="0.84" stroke-linecap="butt"/>
<line x1="488.7" y1="364.7" x2="491.4" y2="364.7" stroke="#3aa882" stroke-width="0.84" stroke-linecap="butt"/>
<circle cx="490" cy="369.1" r="2" fill="#3aa882"/>
<circle cx="498.3" cy="369.3" r="2" fill="#3aa882"/>
<circle cx="506.5" cy="369.9" r="2" fill="#3aa882"/>
<line x1="405.6" y1="384.1" x2="415" y2="384.1" stroke="#3aa882" stroke-width="0.9" stroke-linecap="butt"/>
<circle cx="410.6" cy="384.1" r="1.8" fill="#3aa882"/>
<text x="418" y="387.2" font-size="8.9" text-anchor="start" font-weight="normal" fill="#231f20">0</text>
<line x1="405.6" y1="393.6" x2="415" y2="393.6" stroke="#3aa882" stroke-width="0.9" stroke-dasharray="2 1.5" stroke-linecap="butt"/>
<polygon points="412.5,393.6 411.5,395.2 409.7,395.2 408.7,393.6 409.7,392 411.5,392" fill="#3aa882"/>
<text x="418" y="396.7" font-size="8.9" text-anchor="start" font-weight="normal" fill="#231f20">10</text>
<line x1="405.6" y1="403.3" x2="415" y2="403.3" stroke="#3aa882" stroke-width="0.9" stroke-dasharray="2 1.5" stroke-linecap="butt"/>
<path d="M410.6 401.3L412.6 403.3L410.6 405.3L408.6 403.3Z" fill="#3aa882"/>
<text x="418" y="406.4" font-size="8.9" text-anchor="start" font-weight="normal" fill="#231f20">50</text>
<line x1="405.6" y1="413" x2="415" y2="413" stroke="#3aa882" stroke-width="0.9" stroke-dasharray="2 1.5" stroke-linecap="butt"/>
<path d="M410.6 410.8L412.8 414.7L408.4 414.7Z" fill="#fff" stroke="#3aa882" stroke-width="0.8"/>
<text x="418" y="416.1" font-size="8.9" text-anchor="start" font-weight="normal" fill="#231f20">150</text>
<line x1="43.5" y1="579" x2="163.3" y2="579" stroke="#777" stroke-width="0.8" stroke-dasharray="0.9 1.8" stroke-linecap="butt"/>
<polyline points="104.5,577.3 104.9,577.3 105.2,577.2 105.5,577.2 105.9,577.2 106.2,577.1 106.6,577.1 106.9,577 107.2,577 107.6,576.9 107.9,576.8 108.3,576.7 108.6,576.6 108.9,576.4 109.3,576.3 109.6,576.1 110,575.8 110.3,575.6 110.6,575.3 111,574.9 111.3,574.5 111.7,574 112,573.5 112.3,572.9 112.7,572.2 113,571.4 113.4,570.5 113.7,569.5 114,568.4 114.4,567.1 114.7,565.8 115.1,564.3 115.4,562.7 115.8,561 116.1,559.2 116.4,557.4 116.8,555.5 117.1,553.5 117.5,551.6 117.8,549.7 118.1,547.8 118.5,546 118.8,544.3 119.2,542.7 119.5,541.2 119.8,539.8 120.2,538.5 120.5,537.3 120.9,536.3 121.2,535.4 121.5,534.5 121.9,533.8 122.2,533.2 122.6,532.6 122.9,532.1 123.2,531.7 123.6,531.3 123.9,531 124.3,530.7 124.6,530.5 124.9,530.3 125.3,530.1 125.6,530 126,529.8 126.3,529.7 126.6,529.6 127,529.6 127.3,529.5 127.7,529.4 128,529.4 128.3,529.3 128.7,529.3 129,529.3 129.4,529.2 129.7,529.2 130,529.2 130.4,529.2 130.7,529.2 131.1,529.2 131.4,529.1 131.7,529.1 132.1,529.1 132.4,529.1 132.8,529.1 133.1,529.1 133.4,529.1 133.8,529.1 134.1,529.1 134.5,529.1 134.8,529.1 135.1,529.1 135.5,529.1 135.8,529.1 136.2,529.1 136.5,529.1 136.8,529.1 137.2,529.1 137.5,529.1 137.9,529.1 138.2,529.1 138.5,529.1 138.9,529.1 139.2,529.1 139.6,529.1 139.9,529.1 140.2,529.1 140.6,529.1 140.9,529.1 141.3,529.1 141.6,529.1 141.9,529.1 142.3,529.1 142.6,529.1 143,529.1 143.3,529.1 143.6,529.1 144,529.1 144.3,529.1 144.7,529.1 145,529.1 145.3,529.1" fill="none" stroke="#231f20" stroke-width="1.32" stroke-dasharray="2.2 1.6" stroke-linejoin="round"/>
<polyline points="61.7,577.4 62.2,577.4 62.7,577.4 63.2,577.4 63.7,577.4 64.3,577.4 64.8,577.4 65.3,577.4 65.8,577.4 66.4,577.4 66.9,577.4 67.4,577.4 67.9,577.4 68.5,577.4 69,577.4 69.5,577.4 70,577.4 70.5,577.4 71.1,577.4 71.6,577.4 72.1,577.4 72.6,577.4 73.2,577.4 73.7,577.4 74.2,577.4 74.7,577.4 75.3,577.4 75.8,577.4 76.3,577.4 76.8,577.4 77.3,577.4 77.9,577.4 78.4,577.4 78.9,577.4 79.4,577.4 80,577.4 80.5,577.4 81,577.4 81.5,577.4 82.1,577.4 82.6,577.4 83.1,577.4 83.6,577.4 84.1,577.4 84.7,577.4 85.2,577.4 85.7,577.4 86.2,577.4 86.8,577.4 87.3,577.4 87.8,577.4 88.3,577.4 88.9,577.4 89.4,577.4 89.9,577.4 90.4,577.4 90.9,577.4 91.5,577.4 92,577.4 92.5,577.4 93,577.4 93.6,577.4 94.1,577.4 94.6,577.4 95.1,577.4 95.7,577.4 96.2,577.4 96.7,577.4 97.2,577.4 97.7,577.4 98.3,577.4 98.8,577.4 99.3,577.4 99.8,577.4 100.4,577.4 100.9,577.4 101.4,577.3 101.9,577.3 102.5,577.3 103,577.2 103.5,577.1 104,576.9 104.5,576.6 105.1,576.2 105.6,575.7 106.1,574.8 106.6,573.5 107.2,571.7 107.7,569.2 108.2,565.9 108.7,561.8 109.3,557.1 109.8,552 110.3,547 110.8,542.6 111.3,538.9 111.9,536 112.4,533.8 112.9,532.3 113.4,531.2 114,530.5 114.5,530 115,529.7 115.5,529.5 116.1,529.4 116.6,529.3 117.1,529.2 117.6,529.2 118.1,529.1 118.7,529.1 119.2,529.1 119.7,529.1 120.2,529.1 120.8,529.1 121.3,529.1 121.8,529.1 122.3,529.1 122.9,529.1 123.4,529.1 123.9,529.1 124.4,529.1 124.9,529.1 125.5,529.1 126,529.1 126.5,529.1 127,529.1 127.6,529.1 128.1,529.1 128.6,529.1 129.1,529.1 129.7,529.1 130.2,529.1 130.7,529.1 131.2,529.1 131.7,529.1 132.3,529.1 132.8,529.1 133.3,529.1 133.8,529.1 134.4,529.1 134.9,529.1 135.4,529.1 135.9,529.1 136.5,529.1 137,529.1 137.5,529.1 138,529.1 138.5,529.1 139.1,529.1 139.6,529.1 140.1,529.1 140.6,529.1 141.2,529.1 141.7,529.1 142.2,529.1 142.7,529.1 143.3,529.1 143.8,529.1 144.3,529.1 144.8,529.1 145.3,529.1" fill="none" stroke="#5a5aa0" stroke-width="1.26" stroke-linejoin="round"/>
<line x1="69" y1="581.7" x2="69" y2="574.2" stroke="#231f20" stroke-width="0.96" stroke-linecap="butt"/>
<line x1="67.6" y1="581.7" x2="70.4" y2="581.7" stroke="#231f20" stroke-width="0.96" stroke-linecap="butt"/>
<line x1="67.6" y1="574.2" x2="70.4" y2="574.2" stroke="#231f20" stroke-width="0.96" stroke-linecap="butt"/>
<circle cx="69" cy="577.9" r="1.8" fill="#fff" stroke="#231f20" stroke-width="0.8"/>
<line x1="73.8" y1="577.9" x2="73.8" y2="571.6" stroke="#231f20" stroke-width="0.96" stroke-linecap="butt"/>
<line x1="72.4" y1="577.9" x2="75.2" y2="577.9" stroke="#231f20" stroke-width="0.96" stroke-linecap="butt"/>
<line x1="72.4" y1="571.6" x2="75.2" y2="571.6" stroke="#231f20" stroke-width="0.96" stroke-linecap="butt"/>
<circle cx="73.8" cy="574.8" r="1.8" fill="#fff" stroke="#231f20" stroke-width="0.8"/>
<line x1="83.5" y1="571.6" x2="83.5" y2="567.3" stroke="#231f20" stroke-width="0.96" stroke-linecap="butt"/>
<line x1="82.1" y1="571.6" x2="84.9" y2="571.6" stroke="#231f20" stroke-width="0.96" stroke-linecap="butt"/>
<line x1="82.1" y1="567.3" x2="84.9" y2="567.3" stroke="#231f20" stroke-width="0.96" stroke-linecap="butt"/>
<circle cx="83.5" cy="569.4" r="1.8" fill="#fff" stroke="#231f20" stroke-width="0.8"/>
<line x1="93.3" y1="574.2" x2="93.3" y2="567.8" stroke="#231f20" stroke-width="0.96" stroke-linecap="butt"/>
<line x1="91.8" y1="574.2" x2="94.7" y2="574.2" stroke="#231f20" stroke-width="0.96" stroke-linecap="butt"/>
<line x1="91.8" y1="567.8" x2="94.7" y2="567.8" stroke="#231f20" stroke-width="0.96" stroke-linecap="butt"/>
<circle cx="93.3" cy="571" r="1.8" fill="#fff" stroke="#231f20" stroke-width="0.8"/>
<circle cx="98" cy="577.4" r="1.8" fill="#fff" stroke="#231f20" stroke-width="0.8"/>
<line x1="112.6" y1="574.2" x2="112.6" y2="570" stroke="#231f20" stroke-width="0.96" stroke-linecap="butt"/>
<line x1="111.1" y1="574.2" x2="114" y2="574.2" stroke="#231f20" stroke-width="0.96" stroke-linecap="butt"/>
<line x1="111.1" y1="570" x2="114" y2="570" stroke="#231f20" stroke-width="0.96" stroke-linecap="butt"/>
<circle cx="112.6" cy="572.1" r="1.8" fill="#fff" stroke="#231f20" stroke-width="0.8"/>
<line x1="117.5" y1="545" x2="117.5" y2="541.8" stroke="#231f20" stroke-width="0.96" stroke-linecap="butt"/>
<line x1="116.1" y1="545" x2="118.9" y2="545" stroke="#231f20" stroke-width="0.96" stroke-linecap="butt"/>
<line x1="116.1" y1="541.8" x2="118.9" y2="541.8" stroke="#231f20" stroke-width="0.96" stroke-linecap="butt"/>
<circle cx="117.5" cy="543.4" r="1.8" fill="#fff" stroke="#231f20" stroke-width="0.8"/>
<line x1="122.3" y1="538.1" x2="122.3" y2="533.9" stroke="#231f20" stroke-width="0.96" stroke-linecap="butt"/>
<line x1="120.9" y1="538.1" x2="123.7" y2="538.1" stroke="#231f20" stroke-width="0.96" stroke-linecap="butt"/>
<line x1="120.9" y1="533.9" x2="123.7" y2="533.9" stroke="#231f20" stroke-width="0.96" stroke-linecap="butt"/>
<circle cx="122.3" cy="536" r="1.8" fill="#fff" stroke="#231f20" stroke-width="0.8"/>
<line x1="127.2" y1="531.2" x2="127.2" y2="529.1" stroke="#231f20" stroke-width="0.96" stroke-linecap="butt"/>
<line x1="125.8" y1="531.2" x2="128.7" y2="531.2" stroke="#231f20" stroke-width="0.96" stroke-linecap="butt"/>
<line x1="125.8" y1="529.1" x2="128.7" y2="529.1" stroke="#231f20" stroke-width="0.96" stroke-linecap="butt"/>
<circle cx="127.2" cy="530.1" r="1.8" fill="#fff" stroke="#231f20" stroke-width="0.8"/>
<line x1="132" y1="529.6" x2="132" y2="528.6" stroke="#231f20" stroke-width="0.96" stroke-linecap="butt"/>
<line x1="130.6" y1="529.6" x2="133.5" y2="529.6" stroke="#231f20" stroke-width="0.96" stroke-linecap="butt"/>
<line x1="130.6" y1="528.6" x2="133.5" y2="528.6" stroke="#231f20" stroke-width="0.96" stroke-linecap="butt"/>
<circle cx="132" cy="529.1" r="1.8" fill="#fff" stroke="#231f20" stroke-width="0.8"/>
<line x1="136.8" y1="529.6" x2="136.8" y2="528.6" stroke="#231f20" stroke-width="0.96" stroke-linecap="butt"/>
<line x1="135.4" y1="529.6" x2="138.2" y2="529.6" stroke="#231f20" stroke-width="0.96" stroke-linecap="butt"/>
<line x1="135.4" y1="528.6" x2="138.2" y2="528.6" stroke="#231f20" stroke-width="0.96" stroke-linecap="butt"/>
<circle cx="136.8" cy="529.1" r="1.8" fill="#fff" stroke="#231f20" stroke-width="0.8"/>
<line x1="141.8" y1="529.1" x2="141.8" y2="528" stroke="#231f20" stroke-width="0.96" stroke-linecap="butt"/>
<line x1="140.3" y1="529.1" x2="143.2" y2="529.1" stroke="#231f20" stroke-width="0.96" stroke-linecap="butt"/>
<line x1="140.3" y1="528" x2="143.2" y2="528" stroke="#231f20" stroke-width="0.96" stroke-linecap="butt"/>
<circle cx="141.8" cy="528.6" r="1.8" fill="#fff" stroke="#231f20" stroke-width="0.8"/>
<line x1="64" y1="573.7" x2="64" y2="568.4" stroke="#5a5aa0" stroke-width="0.96" stroke-linecap="butt"/>
<line x1="62.6" y1="573.7" x2="65.5" y2="573.7" stroke="#5a5aa0" stroke-width="0.96" stroke-linecap="butt"/>
<line x1="62.6" y1="568.4" x2="65.5" y2="568.4" stroke="#5a5aa0" stroke-width="0.96" stroke-linecap="butt"/>
<circle cx="64" cy="571" r="1.9" fill="#5a5aa0"/>
<line x1="69" y1="575.3" x2="69" y2="568.9" stroke="#5a5aa0" stroke-width="0.96" stroke-linecap="butt"/>
<line x1="67.6" y1="575.3" x2="70.4" y2="575.3" stroke="#5a5aa0" stroke-width="0.96" stroke-linecap="butt"/>
<line x1="67.6" y1="568.9" x2="70.4" y2="568.9" stroke="#5a5aa0" stroke-width="0.96" stroke-linecap="butt"/>
<circle cx="69" cy="572.1" r="1.9" fill="#5a5aa0"/>
<line x1="73.8" y1="573.7" x2="73.8" y2="568.4" stroke="#5a5aa0" stroke-width="0.96" stroke-linecap="butt"/>
<line x1="72.4" y1="573.7" x2="75.2" y2="573.7" stroke="#5a5aa0" stroke-width="0.96" stroke-linecap="butt"/>
<line x1="72.4" y1="568.4" x2="75.2" y2="568.4" stroke="#5a5aa0" stroke-width="0.96" stroke-linecap="butt"/>
<circle cx="73.8" cy="571" r="1.9" fill="#5a5aa0"/>
<line x1="78.7" y1="580.1" x2="78.7" y2="572.6" stroke="#5a5aa0" stroke-width="0.96" stroke-linecap="butt"/>
<line x1="77.3" y1="580.1" x2="80.2" y2="580.1" stroke="#5a5aa0" stroke-width="0.96" stroke-linecap="butt"/>
<line x1="77.3" y1="572.6" x2="80.2" y2="572.6" stroke="#5a5aa0" stroke-width="0.96" stroke-linecap="butt"/>
<circle cx="78.7" cy="576.3" r="1.9" fill="#5a5aa0"/>
<line x1="88.3" y1="586.4" x2="88.3" y2="577.9" stroke="#5a5aa0" stroke-width="0.96" stroke-linecap="butt"/>
<line x1="86.9" y1="586.4" x2="89.7" y2="586.4" stroke="#5a5aa0" stroke-width="0.96" stroke-linecap="butt"/>
<line x1="86.9" y1="577.9" x2="89.7" y2="577.9" stroke="#5a5aa0" stroke-width="0.96" stroke-linecap="butt"/>
<circle cx="88.3" cy="582.2" r="1.9" fill="#5a5aa0"/>
<line x1="93.3" y1="588" x2="93.3" y2="583.8" stroke="#5a5aa0" stroke-width="0.96" stroke-linecap="butt"/>
<line x1="91.8" y1="588" x2="94.7" y2="588" stroke="#5a5aa0" stroke-width="0.96" stroke-linecap="butt"/>
<line x1="91.8" y1="583.8" x2="94.7" y2="583.8" stroke="#5a5aa0" stroke-width="0.96" stroke-linecap="butt"/>
<circle cx="93.3" cy="585.9" r="1.9" fill="#5a5aa0"/>
<line x1="103" y1="582.7" x2="103" y2="575.3" stroke="#5a5aa0" stroke-width="0.96" stroke-linecap="butt"/>
<line x1="101.6" y1="582.7" x2="104.4" y2="582.7" stroke="#5a5aa0" stroke-width="0.96" stroke-linecap="butt"/>
<line x1="101.6" y1="575.3" x2="104.4" y2="575.3" stroke="#5a5aa0" stroke-width="0.96" stroke-linecap="butt"/>
<circle cx="103" cy="579" r="1.9" fill="#5a5aa0"/>
<line x1="107.8" y1="551.9" x2="107.8" y2="541.3" stroke="#5a5aa0" stroke-width="0.96" stroke-linecap="butt"/>
<line x1="106.3" y1="551.9" x2="109.2" y2="551.9" stroke="#5a5aa0" stroke-width="0.96" stroke-linecap="butt"/>
<line x1="106.3" y1="541.3" x2="109.2" y2="541.3" stroke="#5a5aa0" stroke-width="0.96" stroke-linecap="butt"/>
<circle cx="107.8" cy="546.6" r="1.9" fill="#5a5aa0"/>
<line x1="112.6" y1="534.9" x2="112.6" y2="532.8" stroke="#5a5aa0" stroke-width="0.96" stroke-linecap="butt"/>
<line x1="111.1" y1="534.9" x2="114" y2="534.9" stroke="#5a5aa0" stroke-width="0.96" stroke-linecap="butt"/>
<line x1="111.1" y1="532.8" x2="114" y2="532.8" stroke="#5a5aa0" stroke-width="0.96" stroke-linecap="butt"/>
<circle cx="112.6" cy="533.9" r="1.9" fill="#5a5aa0"/>
<line x1="117.5" y1="530.7" x2="117.5" y2="529.6" stroke="#5a5aa0" stroke-width="0.96" stroke-linecap="butt"/>
<line x1="116.1" y1="530.7" x2="118.9" y2="530.7" stroke="#5a5aa0" stroke-width="0.96" stroke-linecap="butt"/>
<line x1="116.1" y1="529.6" x2="118.9" y2="529.6" stroke="#5a5aa0" stroke-width="0.96" stroke-linecap="butt"/>
<circle cx="117.5" cy="530.1" r="1.9" fill="#5a5aa0"/>
<line x1="122.3" y1="530.1" x2="122.3" y2="529.1" stroke="#5a5aa0" stroke-width="0.96" stroke-linecap="butt"/>
<line x1="120.9" y1="530.1" x2="123.7" y2="530.1" stroke="#5a5aa0" stroke-width="0.96" stroke-linecap="butt"/>
<line x1="120.9" y1="529.1" x2="123.7" y2="529.1" stroke="#5a5aa0" stroke-width="0.96" stroke-linecap="butt"/>
<circle cx="122.3" cy="529.6" r="1.9" fill="#5a5aa0"/>
<line x1="127.2" y1="530.1" x2="127.2" y2="529.1" stroke="#5a5aa0" stroke-width="0.96" stroke-linecap="butt"/>
<line x1="125.8" y1="530.1" x2="128.7" y2="530.1" stroke="#5a5aa0" stroke-width="0.96" stroke-linecap="butt"/>
<line x1="125.8" y1="529.1" x2="128.7" y2="529.1" stroke="#5a5aa0" stroke-width="0.96" stroke-linecap="butt"/>
<circle cx="127.2" cy="529.6" r="1.9" fill="#5a5aa0"/>
<line x1="132" y1="529.6" x2="132" y2="528.6" stroke="#5a5aa0" stroke-width="0.96" stroke-linecap="butt"/>
<line x1="130.6" y1="529.6" x2="133.5" y2="529.6" stroke="#5a5aa0" stroke-width="0.96" stroke-linecap="butt"/>
<line x1="130.6" y1="528.6" x2="133.5" y2="528.6" stroke="#5a5aa0" stroke-width="0.96" stroke-linecap="butt"/>
<circle cx="132" cy="529.1" r="1.9" fill="#5a5aa0"/>
<line x1="136.8" y1="529.6" x2="136.8" y2="528.6" stroke="#5a5aa0" stroke-width="0.96" stroke-linecap="butt"/>
<line x1="135.4" y1="529.6" x2="138.2" y2="529.6" stroke="#5a5aa0" stroke-width="0.96" stroke-linecap="butt"/>
<line x1="135.4" y1="528.6" x2="138.2" y2="528.6" stroke="#5a5aa0" stroke-width="0.96" stroke-linecap="butt"/>
<circle cx="136.8" cy="529.1" r="1.9" fill="#5a5aa0"/>
<line x1="141.8" y1="529.6" x2="141.8" y2="528.6" stroke="#5a5aa0" stroke-width="0.96" stroke-linecap="butt"/>
<line x1="140.3" y1="529.6" x2="143.2" y2="529.6" stroke="#5a5aa0" stroke-width="0.96" stroke-linecap="butt"/>
<line x1="140.3" y1="528.6" x2="143.2" y2="528.6" stroke="#5a5aa0" stroke-width="0.96" stroke-linecap="butt"/>
<circle cx="141.8" cy="529.1" r="1.9" fill="#5a5aa0"/>
<line x1="52" y1="573.7" x2="52" y2="568.4" stroke="#5a5aa0" stroke-width="0.96" stroke-linecap="butt"/>
<line x1="50.6" y1="573.7" x2="53.4" y2="573.7" stroke="#5a5aa0" stroke-width="0.96" stroke-linecap="butt"/>
<line x1="50.6" y1="568.4" x2="53.4" y2="568.4" stroke="#5a5aa0" stroke-width="0.96" stroke-linecap="butt"/>
<circle cx="52" cy="571" r="1.9" fill="#5a5aa0"/>
<line x1="52" y1="575.8" x2="52" y2="571.6" stroke="#5a5aa0" stroke-width="0.96" stroke-linecap="butt"/>
<line x1="50.6" y1="575.8" x2="53.4" y2="575.8" stroke="#5a5aa0" stroke-width="0.96" stroke-linecap="butt"/>
<line x1="50.6" y1="571.6" x2="53.4" y2="571.6" stroke="#5a5aa0" stroke-width="0.96" stroke-linecap="butt"/>
<circle cx="52" cy="573.7" r="1.9" fill="#5a5aa0"/>
<line x1="49.2" y1="502.7" x2="57.6" y2="502.7" stroke="#5a5aa0" stroke-width="1.0" stroke-linecap="butt"/>
<circle cx="53.4" cy="502.7" r="1.9" fill="#5a5aa0"/>
<text x="62.5" y="505.8" font-size="8.9" text-anchor="start" font-weight="normal" fill="#231f20">HL-60 (wt/wt)</text>
<line x1="49.2" y1="513.2" x2="57.6" y2="513.2" stroke="#231f20" stroke-width="1.0" stroke-dasharray="1.6 1.2" stroke-linecap="butt"/>
<circle cx="53.4" cy="513.2" r="1.8" fill="#fff" stroke="#231f20" stroke-width="0.8"/>
<text x="62.5" y="516.3" font-size="8.9" text-anchor="start" font-weight="normal" fill="#231f20">HL-60 + sFLT3L</text>
<line x1="219.7" y1="584.1" x2="340" y2="584.1" stroke="#777" stroke-width="0.8" stroke-dasharray="0.9 1.8" stroke-linecap="butt"/>
<polyline points="271.7,575.2 272.1,574.6 272.5,573.9 272.9,573.1 273.3,572.3 273.8,571.4 274.2,570.5 274.6,569.5 275,568.4 275.4,567.3 275.9,566.2 276.3,564.9 276.7,563.7 277.1,562.3 277.5,561 278,559.6 278.4,558.2 278.8,556.7 279.2,555.3 279.6,553.8 280.1,552.4 280.5,551 280.9,549.6 281.3,548.2 281.7,546.8 282.2,545.5 282.6,544.3 283,543.1 283.4,541.9 283.8,540.8 284.3,539.8 284.7,538.8 285.1,537.9 285.5,537.1 285.9,536.3 286.4,535.6 286.8,534.9 287.2,534.2 287.6,533.7 288,533.1 288.5,532.6 288.9,532.2 289.3,531.8 289.7,531.4 290.1,531.1 290.6,530.8 291,530.5 291.4,530.2 291.8,530 292.2,529.8 292.7,529.6 293.1,529.4 293.5,529.3 293.9,529.1 294.3,529 294.8,528.9 295.2,528.8 295.6,528.7 296,528.6 296.4,528.5 296.9,528.5 297.3,528.4 297.7,528.4 298.1,528.3 298.5,528.3 299,528.2 299.4,528.2 299.8,528.2 300.2,528.1 300.6,528.1 301.1,528.1 301.5,528.1 301.9,528 302.3,528 302.7,528 303.2,528 303.6,528 304,528 304.4,528 304.8,527.9 305.3,527.9 305.7,527.9 306.1,527.9 306.5,527.9 306.9,527.9 307.4,527.9 307.8,527.9 308.2,527.9 308.6,527.9 309,527.9 309.4,527.9 309.9,527.9 310.3,527.9 310.7,527.9 311.1,527.9 311.5,527.9 312,527.9 312.4,527.9 312.8,527.9 313.2,527.9 313.6,527.9 314.1,527.9 314.5,527.9 314.9,527.9 315.3,527.9 315.7,527.9 316.2,527.9 316.6,527.9 317,527.9 317.4,527.9 317.8,527.9 318.3,527.9 318.7,527.9 319.1,527.9 319.5,527.9 319.9,527.9 320.4,527.9 320.8,527.9 321.2,527.9 321.6,527.9 322,527.9" fill="none" stroke="#231f20" stroke-width="1.32" stroke-dasharray="2.2 1.6" stroke-linejoin="round"/>
<polyline points="238.4,580.7 238.9,580.7 239.4,580.7 239.9,580.7 240.4,580.7 241,580.7 241.5,580.7 242,580.7 242.5,580.7 243.1,580.7 243.6,580.7 244.1,580.7 244.6,580.7 245.2,580.7 245.7,580.7 246.2,580.6 246.7,580.6 247.2,580.6 247.8,580.6 248.3,580.6 248.8,580.6 249.3,580.6 249.9,580.5 250.4,580.5 250.9,580.5 251.4,580.4 252,580.4 252.5,580.3 253,580.2 253.5,580.1 254,580 254.6,579.9 255.1,579.8 255.6,579.6 256.1,579.3 256.7,579.1 257.2,578.8 257.7,578.4 258.2,578 258.8,577.5 259.3,576.8 259.8,576.1 260.3,575.3 260.8,574.4 261.4,573.3 261.9,572 262.4,570.6 262.9,569 263.5,567.3 264,565.4 264.5,563.3 265,561.1 265.6,558.8 266.1,556.4 266.6,554 267.1,551.6 267.6,549.2 268.2,546.9 268.7,544.7 269.2,542.7 269.7,540.8 270.3,539.1 270.8,537.6 271.3,536.2 271.8,535 272.4,534 272.9,533 273.4,532.2 273.9,531.6 274.4,531 275,530.5 275.5,530.1 276,529.7 276.5,529.4 277.1,529.2 277.6,528.9 278.1,528.8 278.6,528.6 279.2,528.5 279.7,528.4 280.2,528.3 280.7,528.2 281.2,528.2 281.8,528.1 282.3,528.1 282.8,528 283.3,528 283.9,528 284.4,528 284.9,528 285.4,527.9 286,527.9 286.5,527.9 287,527.9 287.5,527.9 288,527.9 288.6,527.9 289.1,527.9 289.6,527.9 290.1,527.9 290.7,527.9 291.2,527.9 291.7,527.9 292.2,527.9 292.8,527.9 293.3,527.9 293.8,527.9 294.3,527.9 294.8,527.9 295.4,527.9 295.9,527.9 296.4,527.9 296.9,527.9 297.5,527.9 298,527.9 298.5,527.9 299,527.9 299.6,527.9 300.1,527.9 300.6,527.9 301.1,527.9 301.6,527.9 302.2,527.9 302.7,527.9 303.2,527.9 303.7,527.9 304.3,527.9 304.8,527.9 305.3,527.9 305.8,527.9 306.4,527.9 306.9,527.9 307.4,527.9 307.9,527.9 308.4,527.9 309,527.9 309.5,527.9 310,527.9 310.5,527.9 311.1,527.9 311.6,527.9 312.1,527.9 312.6,527.9 313.2,527.9 313.7,527.9 314.2,527.9 314.7,527.9 315.2,527.9 315.8,527.9 316.3,527.9 316.8,527.9 317.3,527.9 317.9,527.9 318.4,527.9 318.9,527.9 319.4,527.9 320,527.9 320.5,527.9 321,527.9 321.5,527.9 322,527.9" fill="none" stroke="#3aa882" stroke-width="1.26" stroke-linejoin="round"/>
<line x1="246" y1="585.2" x2="246" y2="576.1" stroke="#231f20" stroke-width="0.96" stroke-linecap="butt"/>
<line x1="244.6" y1="585.2" x2="247.5" y2="585.2" stroke="#231f20" stroke-width="0.96" stroke-linecap="butt"/>
<line x1="244.6" y1="576.1" x2="247.5" y2="576.1" stroke="#231f20" stroke-width="0.96" stroke-linecap="butt"/>
<circle cx="246" cy="580.7" r="1.8" fill="#fff" stroke="#231f20" stroke-width="0.8"/>
<line x1="251.2" y1="581.8" x2="251.2" y2="572.7" stroke="#231f20" stroke-width="0.96" stroke-linecap="butt"/>
<line x1="249.7" y1="581.8" x2="252.6" y2="581.8" stroke="#231f20" stroke-width="0.96" stroke-linecap="butt"/>
<line x1="249.7" y1="572.7" x2="252.6" y2="572.7" stroke="#231f20" stroke-width="0.96" stroke-linecap="butt"/>
<circle cx="251.2" cy="577.3" r="1.8" fill="#fff" stroke="#231f20" stroke-width="0.8"/>
<line x1="256.3" y1="589.2" x2="256.3" y2="573.3" stroke="#231f20" stroke-width="0.96" stroke-linecap="butt"/>
<line x1="254.9" y1="589.2" x2="257.7" y2="589.2" stroke="#231f20" stroke-width="0.96" stroke-linecap="butt"/>
<line x1="254.9" y1="573.3" x2="257.7" y2="573.3" stroke="#231f20" stroke-width="0.96" stroke-linecap="butt"/>
<circle cx="256.3" cy="581.3" r="1.8" fill="#fff" stroke="#231f20" stroke-width="0.8"/>
<line x1="261.4" y1="594.9" x2="261.4" y2="579" stroke="#231f20" stroke-width="0.96" stroke-linecap="butt"/>
<line x1="260" y1="594.9" x2="262.8" y2="594.9" stroke="#231f20" stroke-width="0.96" stroke-linecap="butt"/>
<line x1="260" y1="579" x2="262.8" y2="579" stroke="#231f20" stroke-width="0.96" stroke-linecap="butt"/>
<circle cx="261.4" cy="586.9" r="1.8" fill="#fff" stroke="#231f20" stroke-width="0.8"/>
<line x1="266.5" y1="592.1" x2="266.5" y2="573.9" stroke="#231f20" stroke-width="0.96" stroke-linecap="butt"/>
<line x1="265.1" y1="592.1" x2="268" y2="592.1" stroke="#231f20" stroke-width="0.96" stroke-linecap="butt"/>
<line x1="265.1" y1="573.9" x2="268" y2="573.9" stroke="#231f20" stroke-width="0.96" stroke-linecap="butt"/>
<circle cx="266.5" cy="583" r="1.8" fill="#fff" stroke="#231f20" stroke-width="0.8"/>
<line x1="271.7" y1="586.4" x2="271.7" y2="576.1" stroke="#231f20" stroke-width="0.96" stroke-linecap="butt"/>
<line x1="270.2" y1="586.4" x2="273.1" y2="586.4" stroke="#231f20" stroke-width="0.96" stroke-linecap="butt"/>
<line x1="270.2" y1="576.1" x2="273.1" y2="576.1" stroke="#231f20" stroke-width="0.96" stroke-linecap="butt"/>
<circle cx="271.7" cy="581.3" r="1.8" fill="#fff" stroke="#231f20" stroke-width="0.8"/>
<line x1="276.8" y1="570.5" x2="276.8" y2="563.7" stroke="#231f20" stroke-width="0.96" stroke-linecap="butt"/>
<line x1="275.4" y1="570.5" x2="278.2" y2="570.5" stroke="#231f20" stroke-width="0.96" stroke-linecap="butt"/>
<line x1="275.4" y1="563.7" x2="278.2" y2="563.7" stroke="#231f20" stroke-width="0.96" stroke-linecap="butt"/>
<circle cx="276.8" cy="567.1" r="1.8" fill="#fff" stroke="#231f20" stroke-width="0.8"/>
<line x1="281.9" y1="552.3" x2="281.9" y2="545.5" stroke="#231f20" stroke-width="0.96" stroke-linecap="butt"/>
<line x1="280.5" y1="552.3" x2="283.3" y2="552.3" stroke="#231f20" stroke-width="0.96" stroke-linecap="butt"/>
<line x1="280.5" y1="545.5" x2="283.3" y2="545.5" stroke="#231f20" stroke-width="0.96" stroke-linecap="butt"/>
<circle cx="281.9" cy="548.9" r="1.8" fill="#fff" stroke="#231f20" stroke-width="0.8"/>
<line x1="287" y1="534.7" x2="287" y2="531.3" stroke="#231f20" stroke-width="0.96" stroke-linecap="butt"/>
<line x1="285.6" y1="534.7" x2="288.5" y2="534.7" stroke="#231f20" stroke-width="0.96" stroke-linecap="butt"/>
<line x1="285.6" y1="531.3" x2="288.5" y2="531.3" stroke="#231f20" stroke-width="0.96" stroke-linecap="butt"/>
<circle cx="287" cy="533" r="1.8" fill="#fff" stroke="#231f20" stroke-width="0.8"/>
<line x1="292.2" y1="529" x2="292.2" y2="527.9" stroke="#231f20" stroke-width="0.96" stroke-linecap="butt"/>
<line x1="290.7" y1="529" x2="293.6" y2="529" stroke="#231f20" stroke-width="0.96" stroke-linecap="butt"/>
<line x1="290.7" y1="527.9" x2="293.6" y2="527.9" stroke="#231f20" stroke-width="0.96" stroke-linecap="butt"/>
<circle cx="292.2" cy="528.4" r="1.8" fill="#fff" stroke="#231f20" stroke-width="0.8"/>
<line x1="297.3" y1="528.4" x2="297.3" y2="527.3" stroke="#231f20" stroke-width="0.96" stroke-linecap="butt"/>
<line x1="295.8" y1="528.4" x2="298.7" y2="528.4" stroke="#231f20" stroke-width="0.96" stroke-linecap="butt"/>
<line x1="295.8" y1="527.3" x2="298.7" y2="527.3" stroke="#231f20" stroke-width="0.96" stroke-linecap="butt"/>
<circle cx="297.3" cy="527.9" r="1.8" fill="#fff" stroke="#231f20" stroke-width="0.8"/>
<line x1="302.4" y1="528.4" x2="302.4" y2="527.3" stroke="#231f20" stroke-width="0.96" stroke-linecap="butt"/>
<line x1="301" y1="528.4" x2="303.8" y2="528.4" stroke="#231f20" stroke-width="0.96" stroke-linecap="butt"/>
<line x1="301" y1="527.3" x2="303.8" y2="527.3" stroke="#231f20" stroke-width="0.96" stroke-linecap="butt"/>
<circle cx="302.4" cy="527.9" r="1.8" fill="#fff" stroke="#231f20" stroke-width="0.8"/>
<line x1="307.5" y1="528.4" x2="307.5" y2="527.3" stroke="#231f20" stroke-width="0.96" stroke-linecap="butt"/>
<line x1="306.1" y1="528.4" x2="309" y2="528.4" stroke="#231f20" stroke-width="0.96" stroke-linecap="butt"/>
<line x1="306.1" y1="527.3" x2="309" y2="527.3" stroke="#231f20" stroke-width="0.96" stroke-linecap="butt"/>
<circle cx="307.5" cy="527.9" r="1.8" fill="#fff" stroke="#231f20" stroke-width="0.8"/>
<line x1="312.7" y1="528.4" x2="312.7" y2="527.3" stroke="#231f20" stroke-width="0.96" stroke-linecap="butt"/>
<line x1="311.2" y1="528.4" x2="314.1" y2="528.4" stroke="#231f20" stroke-width="0.96" stroke-linecap="butt"/>
<line x1="311.2" y1="527.3" x2="314.1" y2="527.3" stroke="#231f20" stroke-width="0.96" stroke-linecap="butt"/>
<circle cx="312.7" cy="527.9" r="1.8" fill="#fff" stroke="#231f20" stroke-width="0.8"/>
<line x1="317.8" y1="528.4" x2="317.8" y2="527.3" stroke="#231f20" stroke-width="0.96" stroke-linecap="butt"/>
<line x1="316.3" y1="528.4" x2="319.2" y2="528.4" stroke="#231f20" stroke-width="0.96" stroke-linecap="butt"/>
<line x1="316.3" y1="527.3" x2="319.2" y2="527.3" stroke="#231f20" stroke-width="0.96" stroke-linecap="butt"/>
<circle cx="317.8" cy="527.9" r="1.8" fill="#fff" stroke="#231f20" stroke-width="0.8"/>
<line x1="322.9" y1="528.4" x2="322.9" y2="527.3" stroke="#231f20" stroke-width="0.96" stroke-linecap="butt"/>
<line x1="321.5" y1="528.4" x2="324.3" y2="528.4" stroke="#231f20" stroke-width="0.96" stroke-linecap="butt"/>
<line x1="321.5" y1="527.3" x2="324.3" y2="527.3" stroke="#231f20" stroke-width="0.96" stroke-linecap="butt"/>
<circle cx="322.9" cy="527.9" r="1.8" fill="#fff" stroke="#231f20" stroke-width="0.8"/>
<line x1="240.9" y1="582.4" x2="240.9" y2="576.7" stroke="#3aa882" stroke-width="0.96" stroke-linecap="butt"/>
<line x1="239.5" y1="582.4" x2="242.3" y2="582.4" stroke="#3aa882" stroke-width="0.96" stroke-linecap="butt"/>
<line x1="239.5" y1="576.7" x2="242.3" y2="576.7" stroke="#3aa882" stroke-width="0.96" stroke-linecap="butt"/>
<circle cx="240.9" cy="579.6" r="1.9" fill="#3aa882"/>
<line x1="246" y1="583" x2="246" y2="576.1" stroke="#3aa882" stroke-width="0.96" stroke-linecap="butt"/>
<line x1="244.6" y1="583" x2="247.5" y2="583" stroke="#3aa882" stroke-width="0.96" stroke-linecap="butt"/>
<line x1="244.6" y1="576.1" x2="247.5" y2="576.1" stroke="#3aa882" stroke-width="0.96" stroke-linecap="butt"/>
<circle cx="246" cy="579.6" r="1.9" fill="#3aa882"/>
<line x1="251.2" y1="585.2" x2="251.2" y2="576.1" stroke="#3aa882" stroke-width="0.96" stroke-linecap="butt"/>
<line x1="249.7" y1="585.2" x2="252.6" y2="585.2" stroke="#3aa882" stroke-width="0.96" stroke-linecap="butt"/>
<line x1="249.7" y1="576.1" x2="252.6" y2="576.1" stroke="#3aa882" stroke-width="0.96" stroke-linecap="butt"/>
<circle cx="251.2" cy="580.7" r="1.9" fill="#3aa882"/>
<line x1="256.3" y1="585.8" x2="256.3" y2="574.4" stroke="#3aa882" stroke-width="0.96" stroke-linecap="butt"/>
<line x1="254.9" y1="585.8" x2="257.7" y2="585.8" stroke="#3aa882" stroke-width="0.96" stroke-linecap="butt"/>
<line x1="254.9" y1="574.4" x2="257.7" y2="574.4" stroke="#3aa882" stroke-width="0.96" stroke-linecap="butt"/>
<circle cx="256.3" cy="580.1" r="1.9" fill="#3aa882"/>
<line x1="261.4" y1="585.2" x2="261.4" y2="571.6" stroke="#3aa882" stroke-width="0.96" stroke-linecap="butt"/>
<line x1="260" y1="585.2" x2="262.8" y2="585.2" stroke="#3aa882" stroke-width="0.96" stroke-linecap="butt"/>
<line x1="260" y1="571.6" x2="262.8" y2="571.6" stroke="#3aa882" stroke-width="0.96" stroke-linecap="butt"/>
<circle cx="261.4" cy="578.4" r="1.9" fill="#3aa882"/>
<line x1="266.5" y1="563.1" x2="266.5" y2="554" stroke="#3aa882" stroke-width="0.96" stroke-linecap="butt"/>
<line x1="265.1" y1="563.1" x2="268" y2="563.1" stroke="#3aa882" stroke-width="0.96" stroke-linecap="butt"/>
<line x1="265.1" y1="554" x2="268" y2="554" stroke="#3aa882" stroke-width="0.96" stroke-linecap="butt"/>
<circle cx="266.5" cy="558.5" r="1.9" fill="#3aa882"/>
<line x1="271.7" y1="541.5" x2="271.7" y2="535.8" stroke="#3aa882" stroke-width="0.96" stroke-linecap="butt"/>
<line x1="270.2" y1="541.5" x2="273.1" y2="541.5" stroke="#3aa882" stroke-width="0.96" stroke-linecap="butt"/>
<line x1="270.2" y1="535.8" x2="273.1" y2="535.8" stroke="#3aa882" stroke-width="0.96" stroke-linecap="butt"/>
<circle cx="271.7" cy="538.7" r="1.9" fill="#3aa882"/>
<line x1="276.8" y1="531.3" x2="276.8" y2="529" stroke="#3aa882" stroke-width="0.96" stroke-linecap="butt"/>
<line x1="275.4" y1="531.3" x2="278.2" y2="531.3" stroke="#3aa882" stroke-width="0.96" stroke-linecap="butt"/>
<line x1="275.4" y1="529" x2="278.2" y2="529" stroke="#3aa882" stroke-width="0.96" stroke-linecap="butt"/>
<circle cx="276.8" cy="530.1" r="1.9" fill="#3aa882"/>
<line x1="281.9" y1="529" x2="281.9" y2="527.9" stroke="#3aa882" stroke-width="0.96" stroke-linecap="butt"/>
<line x1="280.5" y1="529" x2="283.3" y2="529" stroke="#3aa882" stroke-width="0.96" stroke-linecap="butt"/>
<line x1="280.5" y1="527.9" x2="283.3" y2="527.9" stroke="#3aa882" stroke-width="0.96" stroke-linecap="butt"/>
<circle cx="281.9" cy="528.4" r="1.9" fill="#3aa882"/>
<line x1="287" y1="528.4" x2="287" y2="527.3" stroke="#3aa882" stroke-width="0.96" stroke-linecap="butt"/>
<line x1="285.6" y1="528.4" x2="288.5" y2="528.4" stroke="#3aa882" stroke-width="0.96" stroke-linecap="butt"/>
<line x1="285.6" y1="527.3" x2="288.5" y2="527.3" stroke="#3aa882" stroke-width="0.96" stroke-linecap="butt"/>
<circle cx="287" cy="527.9" r="1.9" fill="#3aa882"/>
<line x1="292.2" y1="528.4" x2="292.2" y2="527.3" stroke="#3aa882" stroke-width="0.96" stroke-linecap="butt"/>
<line x1="290.7" y1="528.4" x2="293.6" y2="528.4" stroke="#3aa882" stroke-width="0.96" stroke-linecap="butt"/>
<line x1="290.7" y1="527.3" x2="293.6" y2="527.3" stroke="#3aa882" stroke-width="0.96" stroke-linecap="butt"/>
<circle cx="292.2" cy="527.9" r="1.9" fill="#3aa882"/>
<line x1="297.3" y1="528.4" x2="297.3" y2="527.3" stroke="#3aa882" stroke-width="0.96" stroke-linecap="butt"/>
<line x1="295.8" y1="528.4" x2="298.7" y2="528.4" stroke="#3aa882" stroke-width="0.96" stroke-linecap="butt"/>
<line x1="295.8" y1="527.3" x2="298.7" y2="527.3" stroke="#3aa882" stroke-width="0.96" stroke-linecap="butt"/>
<circle cx="297.3" cy="527.9" r="1.9" fill="#3aa882"/>
<line x1="302.4" y1="528.4" x2="302.4" y2="527.3" stroke="#3aa882" stroke-width="0.96" stroke-linecap="butt"/>
<line x1="301" y1="528.4" x2="303.8" y2="528.4" stroke="#3aa882" stroke-width="0.96" stroke-linecap="butt"/>
<line x1="301" y1="527.3" x2="303.8" y2="527.3" stroke="#3aa882" stroke-width="0.96" stroke-linecap="butt"/>
<circle cx="302.4" cy="527.9" r="1.9" fill="#3aa882"/>
<line x1="307.5" y1="528.4" x2="307.5" y2="527.3" stroke="#3aa882" stroke-width="0.96" stroke-linecap="butt"/>
<line x1="306.1" y1="528.4" x2="309" y2="528.4" stroke="#3aa882" stroke-width="0.96" stroke-linecap="butt"/>
<line x1="306.1" y1="527.3" x2="309" y2="527.3" stroke="#3aa882" stroke-width="0.96" stroke-linecap="butt"/>
<circle cx="307.5" cy="527.9" r="1.9" fill="#3aa882"/>
<line x1="312.7" y1="528.4" x2="312.7" y2="527.3" stroke="#3aa882" stroke-width="0.96" stroke-linecap="butt"/>
<line x1="311.2" y1="528.4" x2="314.1" y2="528.4" stroke="#3aa882" stroke-width="0.96" stroke-linecap="butt"/>
<line x1="311.2" y1="527.3" x2="314.1" y2="527.3" stroke="#3aa882" stroke-width="0.96" stroke-linecap="butt"/>
<circle cx="312.7" cy="527.9" r="1.9" fill="#3aa882"/>
<line x1="317.8" y1="528.4" x2="317.8" y2="527.3" stroke="#3aa882" stroke-width="0.96" stroke-linecap="butt"/>
<line x1="316.3" y1="528.4" x2="319.2" y2="528.4" stroke="#3aa882" stroke-width="0.96" stroke-linecap="butt"/>
<line x1="316.3" y1="527.3" x2="319.2" y2="527.3" stroke="#3aa882" stroke-width="0.96" stroke-linecap="butt"/>
<circle cx="317.8" cy="527.9" r="1.9" fill="#3aa882"/>
<line x1="322.9" y1="528.4" x2="322.9" y2="527.3" stroke="#3aa882" stroke-width="0.96" stroke-linecap="butt"/>
<line x1="321.5" y1="528.4" x2="324.3" y2="528.4" stroke="#3aa882" stroke-width="0.96" stroke-linecap="butt"/>
<line x1="321.5" y1="527.3" x2="324.3" y2="527.3" stroke="#3aa882" stroke-width="0.96" stroke-linecap="butt"/>
<circle cx="322.9" cy="527.9" r="1.9" fill="#3aa882"/>
<line x1="227.5" y1="584.1" x2="227.5" y2="575" stroke="#3aa882" stroke-width="0.96" stroke-linecap="butt"/>
<line x1="226.1" y1="584.1" x2="228.9" y2="584.1" stroke="#3aa882" stroke-width="0.96" stroke-linecap="butt"/>
<line x1="226.1" y1="575" x2="228.9" y2="575" stroke="#3aa882" stroke-width="0.96" stroke-linecap="butt"/>
<circle cx="227.5" cy="579.6" r="1.9" fill="#3aa882"/>
<line x1="225.3" y1="502.7" x2="233.7" y2="502.7" stroke="#3aa882" stroke-width="1.0" stroke-linecap="butt"/>
<circle cx="229.5" cy="502.7" r="1.9" fill="#3aa882"/>
<text x="238.2" y="505.8" font-size="8.9" text-anchor="start" font-weight="normal" fill="#231f20">MOLM-13 (wt/mut)</text>
<line x1="225.3" y1="513.6" x2="233.7" y2="513.6" stroke="#231f20" stroke-width="1.0" stroke-dasharray="1.6 1.2" stroke-linecap="butt"/>
<circle cx="229.5" cy="513.6" r="1.8" fill="#fff" stroke="#231f20" stroke-width="0.8"/>
<text x="238.2" y="516.7" font-size="8.9" text-anchor="start" font-weight="normal" fill="#231f20">MOLM-13 + sFLT3L</text>
<line x1="395.8" y1="583.4" x2="515.3" y2="583.4" stroke="#777" stroke-width="0.8" stroke-dasharray="0.9 1.8" stroke-linecap="butt"/>
<polyline points="437.1,578.5 437.6,578 438.1,577.5 438.6,577 439.1,576.3 439.6,575.7 440.1,574.9 440.6,574 441.1,573.1 441.6,572 442.1,570.9 442.6,569.7 443.1,568.4 443.6,566.9 444.1,565.4 444.6,563.8 445.1,562.2 445.6,560.4 446.2,558.6 446.7,556.8 447.2,555 447.7,553.1 448.2,551.3 448.7,549.4 449.2,547.7 449.7,546 450.2,544.3 450.7,542.8 451.2,541.3 451.7,539.9 452.2,538.6 452.7,537.4 453.2,536.4 453.7,535.4 454.2,534.5 454.7,533.6 455.2,532.9 455.7,532.2 456.2,531.6 456.7,531.1 457.2,530.6 457.7,530.2 458.2,529.9 458.7,529.5 459.2,529.2 459.7,529 460.2,528.8 460.7,528.6 461.2,528.4 461.7,528.2 462.2,528.1 462.7,528 463.3,527.9 463.8,527.8 464.3,527.7 464.8,527.6 465.3,527.6 465.8,527.5 466.3,527.5 466.8,527.4 467.3,527.4 467.8,527.4 468.3,527.4 468.8,527.3 469.3,527.3 469.8,527.3 470.3,527.3 470.8,527.3 471.3,527.2 471.8,527.2 472.3,527.2 472.8,527.2 473.3,527.2 473.8,527.2 474.3,527.2 474.8,527.2 475.3,527.2 475.8,527.2 476.3,527.2 476.8,527.2 477.3,527.2 477.8,527.2 478.3,527.2 478.8,527.2 479.3,527.2 479.8,527.2 480.4,527.2 480.9,527.2 481.4,527.2 481.9,527.2 482.4,527.2 482.9,527.2 483.4,527.2 483.9,527.2 484.4,527.2 484.9,527.2 485.4,527.2 485.9,527.2 486.4,527.2 486.9,527.2 487.4,527.2 487.9,527.2 488.4,527.2 488.9,527.2 489.4,527.2 489.9,527.2 490.4,527.2 490.9,527.2 491.4,527.2 491.9,527.2 492.4,527.2 492.9,527.2 493.4,527.2 493.9,527.2 494.4,527.2 494.9,527.2 495.4,527.2 495.9,527.2 496.4,527.2 496.9,527.2 497.4,527.2" fill="none" stroke="#231f20" stroke-width="1.32" stroke-dasharray="2.2 1.6" stroke-linejoin="round"/>
<polyline points="414.2,581.1 414.7,581 415.2,581 415.7,581 416.2,581 416.8,581 417.3,581 417.8,581 418.3,580.9 418.8,580.9 419.4,580.9 419.9,580.9 420.4,580.8 420.9,580.8 421.4,580.8 422,580.7 422.5,580.7 423,580.6 423.5,580.5 424,580.5 424.6,580.4 425.1,580.3 425.6,580.2 426.1,580.1 426.6,579.9 427.2,579.8 427.7,579.6 428.2,579.4 428.7,579.2 429.2,579 429.8,578.7 430.3,578.4 430.8,578.1 431.3,577.7 431.9,577.3 432.4,576.9 432.9,576.4 433.4,575.8 433.9,575.2 434.5,574.6 435,573.9 435.5,573.1 436,572.2 436.5,571.3 437.1,570.3 437.6,569.2 438.1,568.1 438.6,566.8 439.1,565.5 439.7,564.2 440.2,562.7 440.7,561.3 441.2,559.7 441.7,558.2 442.3,556.6 442.8,555 443.3,553.4 443.8,551.7 444.3,550.2 444.9,548.6 445.4,547.1 445.9,545.6 446.4,544.2 446.9,542.8 447.5,541.5 448,540.3 448.5,539.1 449,538 449.6,537 450.1,536.1 450.6,535.2 451.1,534.5 451.6,533.7 452.2,533.1 452.7,532.5 453.2,531.9 453.7,531.4 454.2,531 454.8,530.6 455.3,530.2 455.8,529.9 456.3,529.6 456.8,529.3 457.4,529.1 457.9,528.9 458.4,528.7 458.9,528.5 459.4,528.4 460,528.2 460.5,528.1 461,528 461.5,527.9 462,527.8 462.6,527.8 463.1,527.7 463.6,527.6 464.1,527.6 464.7,527.5 465.2,527.5 465.7,527.5 466.2,527.4 466.7,527.4 467.3,527.4 467.8,527.3 468.3,527.3 468.8,527.3 469.3,527.3 469.9,527.3 470.4,527.3 470.9,527.3 471.4,527.2 471.9,527.2 472.5,527.2 473,527.2 473.5,527.2 474,527.2 474.5,527.2 475.1,527.2 475.6,527.2 476.1,527.2 476.6,527.2 477.1,527.2 477.7,527.2 478.2,527.2 478.7,527.2 479.2,527.2 479.7,527.2 480.3,527.2 480.8,527.2 481.3,527.2 481.8,527.2 482.4,527.2 482.9,527.2 483.4,527.2 483.9,527.2 484.4,527.2 485,527.2 485.5,527.2 486,527.2 486.5,527.2 487,527.2 487.6,527.2 488.1,527.2 488.6,527.2 489.1,527.2 489.6,527.2 490.2,527.2 490.7,527.2 491.2,527.2 491.7,527.2 492.2,527.2 492.8,527.2 493.3,527.2 493.8,527.2 494.3,527.2 494.8,527.2 495.4,527.2 495.9,527.2 496.4,527.2 496.9,527.2 497.4,527.2" fill="none" stroke="#6a3490" stroke-width="1.26" stroke-linejoin="round"/>
<line x1="416.7" y1="578.3" x2="416.7" y2="571.5" stroke="#231f20" stroke-width="0.96" stroke-linecap="butt"/>
<line x1="415.3" y1="578.3" x2="418.1" y2="578.3" stroke="#231f20" stroke-width="0.96" stroke-linecap="butt"/>
<line x1="415.3" y1="571.5" x2="418.1" y2="571.5" stroke="#231f20" stroke-width="0.96" stroke-linecap="butt"/>
<circle cx="416.7" cy="574.9" r="1.8" fill="#fff" stroke="#231f20" stroke-width="0.8"/>
<line x1="426.9" y1="589.1" x2="426.9" y2="568.6" stroke="#231f20" stroke-width="0.96" stroke-linecap="butt"/>
<line x1="425.5" y1="589.1" x2="428.3" y2="589.1" stroke="#231f20" stroke-width="0.96" stroke-linecap="butt"/>
<line x1="425.5" y1="568.6" x2="428.3" y2="568.6" stroke="#231f20" stroke-width="0.96" stroke-linecap="butt"/>
<circle cx="426.9" cy="578.9" r="1.8" fill="#fff" stroke="#231f20" stroke-width="0.8"/>
<line x1="437.1" y1="585.1" x2="437.1" y2="576" stroke="#231f20" stroke-width="0.96" stroke-linecap="butt"/>
<line x1="435.7" y1="585.1" x2="438.5" y2="585.1" stroke="#231f20" stroke-width="0.96" stroke-linecap="butt"/>
<line x1="435.7" y1="576" x2="438.5" y2="576" stroke="#231f20" stroke-width="0.96" stroke-linecap="butt"/>
<circle cx="437.1" cy="580.6" r="1.8" fill="#fff" stroke="#231f20" stroke-width="0.8"/>
<line x1="442.2" y1="582.3" x2="442.2" y2="561.8" stroke="#231f20" stroke-width="0.96" stroke-linecap="butt"/>
<line x1="440.8" y1="582.3" x2="443.6" y2="582.3" stroke="#231f20" stroke-width="0.96" stroke-linecap="butt"/>
<line x1="440.8" y1="561.8" x2="443.6" y2="561.8" stroke="#231f20" stroke-width="0.96" stroke-linecap="butt"/>
<circle cx="442.2" cy="572" r="1.8" fill="#fff" stroke="#231f20" stroke-width="0.8"/>
<line x1="447.3" y1="560.7" x2="447.3" y2="555" stroke="#231f20" stroke-width="0.96" stroke-linecap="butt"/>
<line x1="445.9" y1="560.7" x2="448.7" y2="560.7" stroke="#231f20" stroke-width="0.96" stroke-linecap="butt"/>
<line x1="445.9" y1="555" x2="448.7" y2="555" stroke="#231f20" stroke-width="0.96" stroke-linecap="butt"/>
<circle cx="447.3" cy="557.8" r="1.8" fill="#fff" stroke="#231f20" stroke-width="0.8"/>
<line x1="452.4" y1="545.3" x2="452.4" y2="539.7" stroke="#231f20" stroke-width="0.96" stroke-linecap="butt"/>
<line x1="451" y1="545.3" x2="453.8" y2="545.3" stroke="#231f20" stroke-width="0.96" stroke-linecap="butt"/>
<line x1="451" y1="539.7" x2="453.8" y2="539.7" stroke="#231f20" stroke-width="0.96" stroke-linecap="butt"/>
<circle cx="452.4" cy="542.5" r="1.8" fill="#fff" stroke="#231f20" stroke-width="0.8"/>
<line x1="457.5" y1="532.8" x2="457.5" y2="529.4" stroke="#231f20" stroke-width="0.96" stroke-linecap="butt"/>
<line x1="456.1" y1="532.8" x2="458.9" y2="532.8" stroke="#231f20" stroke-width="0.96" stroke-linecap="butt"/>
<line x1="456.1" y1="529.4" x2="458.9" y2="529.4" stroke="#231f20" stroke-width="0.96" stroke-linecap="butt"/>
<circle cx="457.5" cy="531.1" r="1.8" fill="#fff" stroke="#231f20" stroke-width="0.8"/>
<line x1="462.6" y1="528.3" x2="462.6" y2="527.2" stroke="#231f20" stroke-width="0.96" stroke-linecap="butt"/>
<line x1="461.2" y1="528.3" x2="464" y2="528.3" stroke="#231f20" stroke-width="0.96" stroke-linecap="butt"/>
<line x1="461.2" y1="527.2" x2="464" y2="527.2" stroke="#231f20" stroke-width="0.96" stroke-linecap="butt"/>
<circle cx="462.6" cy="527.7" r="1.8" fill="#fff" stroke="#231f20" stroke-width="0.8"/>
<line x1="467.7" y1="527.7" x2="467.7" y2="526.6" stroke="#231f20" stroke-width="0.96" stroke-linecap="butt"/>
<line x1="466.3" y1="527.7" x2="469.1" y2="527.7" stroke="#231f20" stroke-width="0.96" stroke-linecap="butt"/>
<line x1="466.3" y1="526.6" x2="469.1" y2="526.6" stroke="#231f20" stroke-width="0.96" stroke-linecap="butt"/>
<circle cx="467.7" cy="527.2" r="1.8" fill="#fff" stroke="#231f20" stroke-width="0.8"/>
<line x1="472.8" y1="528.3" x2="472.8" y2="527.2" stroke="#231f20" stroke-width="0.96" stroke-linecap="butt"/>
<line x1="471.4" y1="528.3" x2="474.2" y2="528.3" stroke="#231f20" stroke-width="0.96" stroke-linecap="butt"/>
<line x1="471.4" y1="527.2" x2="474.2" y2="527.2" stroke="#231f20" stroke-width="0.96" stroke-linecap="butt"/>
<circle cx="472.8" cy="527.7" r="1.8" fill="#fff" stroke="#231f20" stroke-width="0.8"/>
<line x1="477.9" y1="528.3" x2="477.9" y2="527.2" stroke="#231f20" stroke-width="0.96" stroke-linecap="butt"/>
<line x1="476.5" y1="528.3" x2="479.3" y2="528.3" stroke="#231f20" stroke-width="0.96" stroke-linecap="butt"/>
<line x1="476.5" y1="527.2" x2="479.3" y2="527.2" stroke="#231f20" stroke-width="0.96" stroke-linecap="butt"/>
<circle cx="477.9" cy="527.7" r="1.8" fill="#fff" stroke="#231f20" stroke-width="0.8"/>
<line x1="416.7" y1="587.4" x2="416.7" y2="573.7" stroke="#6a3490" stroke-width="0.96" stroke-linecap="butt"/>
<line x1="415.3" y1="587.4" x2="418.1" y2="587.4" stroke="#6a3490" stroke-width="0.96" stroke-linecap="butt"/>
<line x1="415.3" y1="573.7" x2="418.1" y2="573.7" stroke="#6a3490" stroke-width="0.96" stroke-linecap="butt"/>
<circle cx="416.7" cy="580.6" r="1.9" fill="#6a3490"/>
<line x1="421.8" y1="590.2" x2="421.8" y2="572" stroke="#6a3490" stroke-width="0.96" stroke-linecap="butt"/>
<line x1="420.4" y1="590.2" x2="423.2" y2="590.2" stroke="#6a3490" stroke-width="0.96" stroke-linecap="butt"/>
<line x1="420.4" y1="572" x2="423.2" y2="572" stroke="#6a3490" stroke-width="0.96" stroke-linecap="butt"/>
<circle cx="421.8" cy="581.1" r="1.9" fill="#6a3490"/>
<line x1="426.9" y1="589.6" x2="426.9" y2="573.7" stroke="#6a3490" stroke-width="0.96" stroke-linecap="butt"/>
<line x1="425.5" y1="589.6" x2="428.3" y2="589.6" stroke="#6a3490" stroke-width="0.96" stroke-linecap="butt"/>
<line x1="425.5" y1="573.7" x2="428.3" y2="573.7" stroke="#6a3490" stroke-width="0.96" stroke-linecap="butt"/>
<circle cx="426.9" cy="581.7" r="1.9" fill="#6a3490"/>
<line x1="432" y1="592.5" x2="432" y2="567.5" stroke="#6a3490" stroke-width="0.96" stroke-linecap="butt"/>
<line x1="430.6" y1="592.5" x2="433.4" y2="592.5" stroke="#6a3490" stroke-width="0.96" stroke-linecap="butt"/>
<line x1="430.6" y1="567.5" x2="433.4" y2="567.5" stroke="#6a3490" stroke-width="0.96" stroke-linecap="butt"/>
<circle cx="432" cy="580" r="1.9" fill="#6a3490"/>
<line x1="437.1" y1="584.5" x2="437.1" y2="561.8" stroke="#6a3490" stroke-width="0.96" stroke-linecap="butt"/>
<line x1="435.7" y1="584.5" x2="438.5" y2="584.5" stroke="#6a3490" stroke-width="0.96" stroke-linecap="butt"/>
<line x1="435.7" y1="561.8" x2="438.5" y2="561.8" stroke="#6a3490" stroke-width="0.96" stroke-linecap="butt"/>
<circle cx="437.1" cy="573.2" r="1.9" fill="#6a3490"/>
<line x1="442.2" y1="570.9" x2="442.2" y2="550.5" stroke="#6a3490" stroke-width="0.96" stroke-linecap="butt"/>
<line x1="440.8" y1="570.9" x2="443.6" y2="570.9" stroke="#6a3490" stroke-width="0.96" stroke-linecap="butt"/>
<line x1="440.8" y1="550.5" x2="443.6" y2="550.5" stroke="#6a3490" stroke-width="0.96" stroke-linecap="butt"/>
<circle cx="442.2" cy="560.7" r="1.9" fill="#6a3490"/>
<line x1="447.3" y1="547" x2="447.3" y2="538" stroke="#6a3490" stroke-width="0.96" stroke-linecap="butt"/>
<line x1="445.9" y1="547" x2="448.7" y2="547" stroke="#6a3490" stroke-width="0.96" stroke-linecap="butt"/>
<line x1="445.9" y1="538" x2="448.7" y2="538" stroke="#6a3490" stroke-width="0.96" stroke-linecap="butt"/>
<circle cx="447.3" cy="542.5" r="1.9" fill="#6a3490"/>
<line x1="452.4" y1="532.3" x2="452.4" y2="528.9" stroke="#6a3490" stroke-width="0.96" stroke-linecap="butt"/>
<line x1="451" y1="532.3" x2="453.8" y2="532.3" stroke="#6a3490" stroke-width="0.96" stroke-linecap="butt"/>
<line x1="451" y1="528.9" x2="453.8" y2="528.9" stroke="#6a3490" stroke-width="0.96" stroke-linecap="butt"/>
<circle cx="452.4" cy="530.6" r="1.9" fill="#6a3490"/>
<line x1="457.5" y1="527.7" x2="457.5" y2="526.6" stroke="#6a3490" stroke-width="0.96" stroke-linecap="butt"/>
<line x1="456.1" y1="527.7" x2="458.9" y2="527.7" stroke="#6a3490" stroke-width="0.96" stroke-linecap="butt"/>
<line x1="456.1" y1="526.6" x2="458.9" y2="526.6" stroke="#6a3490" stroke-width="0.96" stroke-linecap="butt"/>
<circle cx="457.5" cy="527.2" r="1.9" fill="#6a3490"/>
<line x1="462.6" y1="527.7" x2="462.6" y2="526.6" stroke="#6a3490" stroke-width="0.96" stroke-linecap="butt"/>
<line x1="461.2" y1="527.7" x2="464" y2="527.7" stroke="#6a3490" stroke-width="0.96" stroke-linecap="butt"/>
<line x1="461.2" y1="526.6" x2="464" y2="526.6" stroke="#6a3490" stroke-width="0.96" stroke-linecap="butt"/>
<circle cx="462.6" cy="527.2" r="1.9" fill="#6a3490"/>
<line x1="467.7" y1="527.7" x2="467.7" y2="526.6" stroke="#6a3490" stroke-width="0.96" stroke-linecap="butt"/>
<line x1="466.3" y1="527.7" x2="469.1" y2="527.7" stroke="#6a3490" stroke-width="0.96" stroke-linecap="butt"/>
<line x1="466.3" y1="526.6" x2="469.1" y2="526.6" stroke="#6a3490" stroke-width="0.96" stroke-linecap="butt"/>
<circle cx="467.7" cy="527.2" r="1.9" fill="#6a3490"/>
<line x1="472.8" y1="527.7" x2="472.8" y2="526.6" stroke="#6a3490" stroke-width="0.96" stroke-linecap="butt"/>
<line x1="471.4" y1="527.7" x2="474.2" y2="527.7" stroke="#6a3490" stroke-width="0.96" stroke-linecap="butt"/>
<line x1="471.4" y1="526.6" x2="474.2" y2="526.6" stroke="#6a3490" stroke-width="0.96" stroke-linecap="butt"/>
<circle cx="472.8" cy="527.2" r="1.9" fill="#6a3490"/>
<line x1="477.9" y1="527.7" x2="477.9" y2="526.6" stroke="#6a3490" stroke-width="0.96" stroke-linecap="butt"/>
<line x1="476.5" y1="527.7" x2="479.3" y2="527.7" stroke="#6a3490" stroke-width="0.96" stroke-linecap="butt"/>
<line x1="476.5" y1="526.6" x2="479.3" y2="526.6" stroke="#6a3490" stroke-width="0.96" stroke-linecap="butt"/>
<circle cx="477.9" cy="527.2" r="1.9" fill="#6a3490"/>
<line x1="483" y1="527.7" x2="483" y2="526.6" stroke="#6a3490" stroke-width="0.96" stroke-linecap="butt"/>
<line x1="481.6" y1="527.7" x2="484.4" y2="527.7" stroke="#6a3490" stroke-width="0.96" stroke-linecap="butt"/>
<line x1="481.6" y1="526.6" x2="484.4" y2="526.6" stroke="#6a3490" stroke-width="0.96" stroke-linecap="butt"/>
<circle cx="483" cy="527.2" r="1.9" fill="#6a3490"/>
<line x1="488.1" y1="527.7" x2="488.1" y2="526.6" stroke="#6a3490" stroke-width="0.96" stroke-linecap="butt"/>
<line x1="486.7" y1="527.7" x2="489.5" y2="527.7" stroke="#6a3490" stroke-width="0.96" stroke-linecap="butt"/>
<line x1="486.7" y1="526.6" x2="489.5" y2="526.6" stroke="#6a3490" stroke-width="0.96" stroke-linecap="butt"/>
<circle cx="488.1" cy="527.2" r="1.9" fill="#6a3490"/>
<line x1="493.2" y1="527.7" x2="493.2" y2="526.6" stroke="#6a3490" stroke-width="0.96" stroke-linecap="butt"/>
<line x1="491.8" y1="527.7" x2="494.6" y2="527.7" stroke="#6a3490" stroke-width="0.96" stroke-linecap="butt"/>
<line x1="491.8" y1="526.6" x2="494.6" y2="526.6" stroke="#6a3490" stroke-width="0.96" stroke-linecap="butt"/>
<circle cx="493.2" cy="527.2" r="1.9" fill="#6a3490"/>
<line x1="498.3" y1="527.7" x2="498.3" y2="526.6" stroke="#6a3490" stroke-width="0.96" stroke-linecap="butt"/>
<line x1="496.9" y1="527.7" x2="499.7" y2="527.7" stroke="#6a3490" stroke-width="0.96" stroke-linecap="butt"/>
<line x1="496.9" y1="526.6" x2="499.7" y2="526.6" stroke="#6a3490" stroke-width="0.96" stroke-linecap="butt"/>
<circle cx="498.3" cy="527.2" r="1.9" fill="#6a3490"/>
<line x1="403.7" y1="587.9" x2="403.7" y2="569.8" stroke="#6a3490" stroke-width="0.96" stroke-linecap="butt"/>
<line x1="402.3" y1="587.9" x2="405.1" y2="587.9" stroke="#6a3490" stroke-width="0.96" stroke-linecap="butt"/>
<line x1="402.3" y1="569.8" x2="405.1" y2="569.8" stroke="#6a3490" stroke-width="0.96" stroke-linecap="butt"/>
<circle cx="403.7" cy="578.9" r="1.9" fill="#6a3490"/>
<line x1="403.7" y1="583.4" x2="403.7" y2="569.8" stroke="#6a3490" stroke-width="0.96" stroke-linecap="butt"/>
<line x1="402.3" y1="583.4" x2="405.1" y2="583.4" stroke="#6a3490" stroke-width="0.96" stroke-linecap="butt"/>
<line x1="402.3" y1="569.8" x2="405.1" y2="569.8" stroke="#6a3490" stroke-width="0.96" stroke-linecap="butt"/>
<circle cx="403.7" cy="576.6" r="1.9" fill="#6a3490"/>
<line x1="401.3" y1="502" x2="409.7" y2="502" stroke="#6a3490" stroke-width="1.0" stroke-linecap="butt"/>
<circle cx="405.5" cy="502" r="1.9" fill="#6a3490"/>
<text x="413.9" y="505.1" font-size="8.9" text-anchor="start" font-weight="normal" fill="#231f20">MV4-11 (mut/mut)</text>
<line x1="401.3" y1="512.5" x2="409.7" y2="512.5" stroke="#231f20" stroke-width="1.0" stroke-dasharray="1.6 1.2" stroke-linecap="butt"/>
<circle cx="405.5" cy="512.5" r="1.8" fill="#fff" stroke="#231f20" stroke-width="0.8"/>
<text x="413.9" y="515.6" font-size="8.9" text-anchor="start" font-weight="normal" fill="#231f20">MV4-11 + sFLT3L</text>
<line x1="46.8" y1="217.3" x2="56.8" y2="217.3" stroke="#3aa882" stroke-width="1.0" stroke-linecap="butt"/>
<path d="M51.8 215.2L53.9 219L49.7 219Z" fill="#3aa882"/>
<text x="61.8" y="220.4" font-size="8.9" text-anchor="start" font-weight="normal" fill="#231f20">MOLM-13</text>
<line x1="46.8" y1="230.1" x2="56.8" y2="230.1" stroke="#6a68a8" stroke-width="1.0" stroke-linecap="butt"/>
<circle cx="51.8" cy="230.1" r="2.2" fill="#fff" stroke="#6a68a8" stroke-width="1"/>
<text x="61.8" y="233.2" font-size="8.9" text-anchor="start" font-weight="normal" fill="#231f20">EOL-1</text>
<rect x="50.1" y="240.9" width="3.5" height="3.5" fill="#a8a8a8"/>
<text x="61.8" y="245.7" font-size="8.9" text-anchor="start" font-weight="normal" fill="#231f20">A2780</text>
<line x1="223.6" y1="217" x2="233.6" y2="217" stroke="#3aa882" stroke-width="1.0" stroke-linecap="butt"/>
<path d="M228.6 214.9L230.7 218.7L226.5 218.7Z" fill="#3aa882"/>
<text x="239.3" y="220.1" font-size="8.9" text-anchor="start" font-weight="normal" fill="#231f20">MOLM-13</text>
<line x1="223.6" y1="229.4" x2="233.6" y2="229.4" stroke="#6a68a8" stroke-width="1.0" stroke-linecap="butt"/>
<circle cx="228.6" cy="229.4" r="2.2" fill="#fff" stroke="#6a68a8" stroke-width="1"/>
<text x="239.3" y="232.5" font-size="8.9" text-anchor="start" font-weight="normal" fill="#231f20">EOL-1</text>
<rect x="226.9" y="239.9" width="3.5" height="3.5" fill="#a8a8a8"/>
<text x="239.3" y="244.7" font-size="8.9" text-anchor="start" font-weight="normal" fill="#231f20">A2780</text>
</svg></body></html>
